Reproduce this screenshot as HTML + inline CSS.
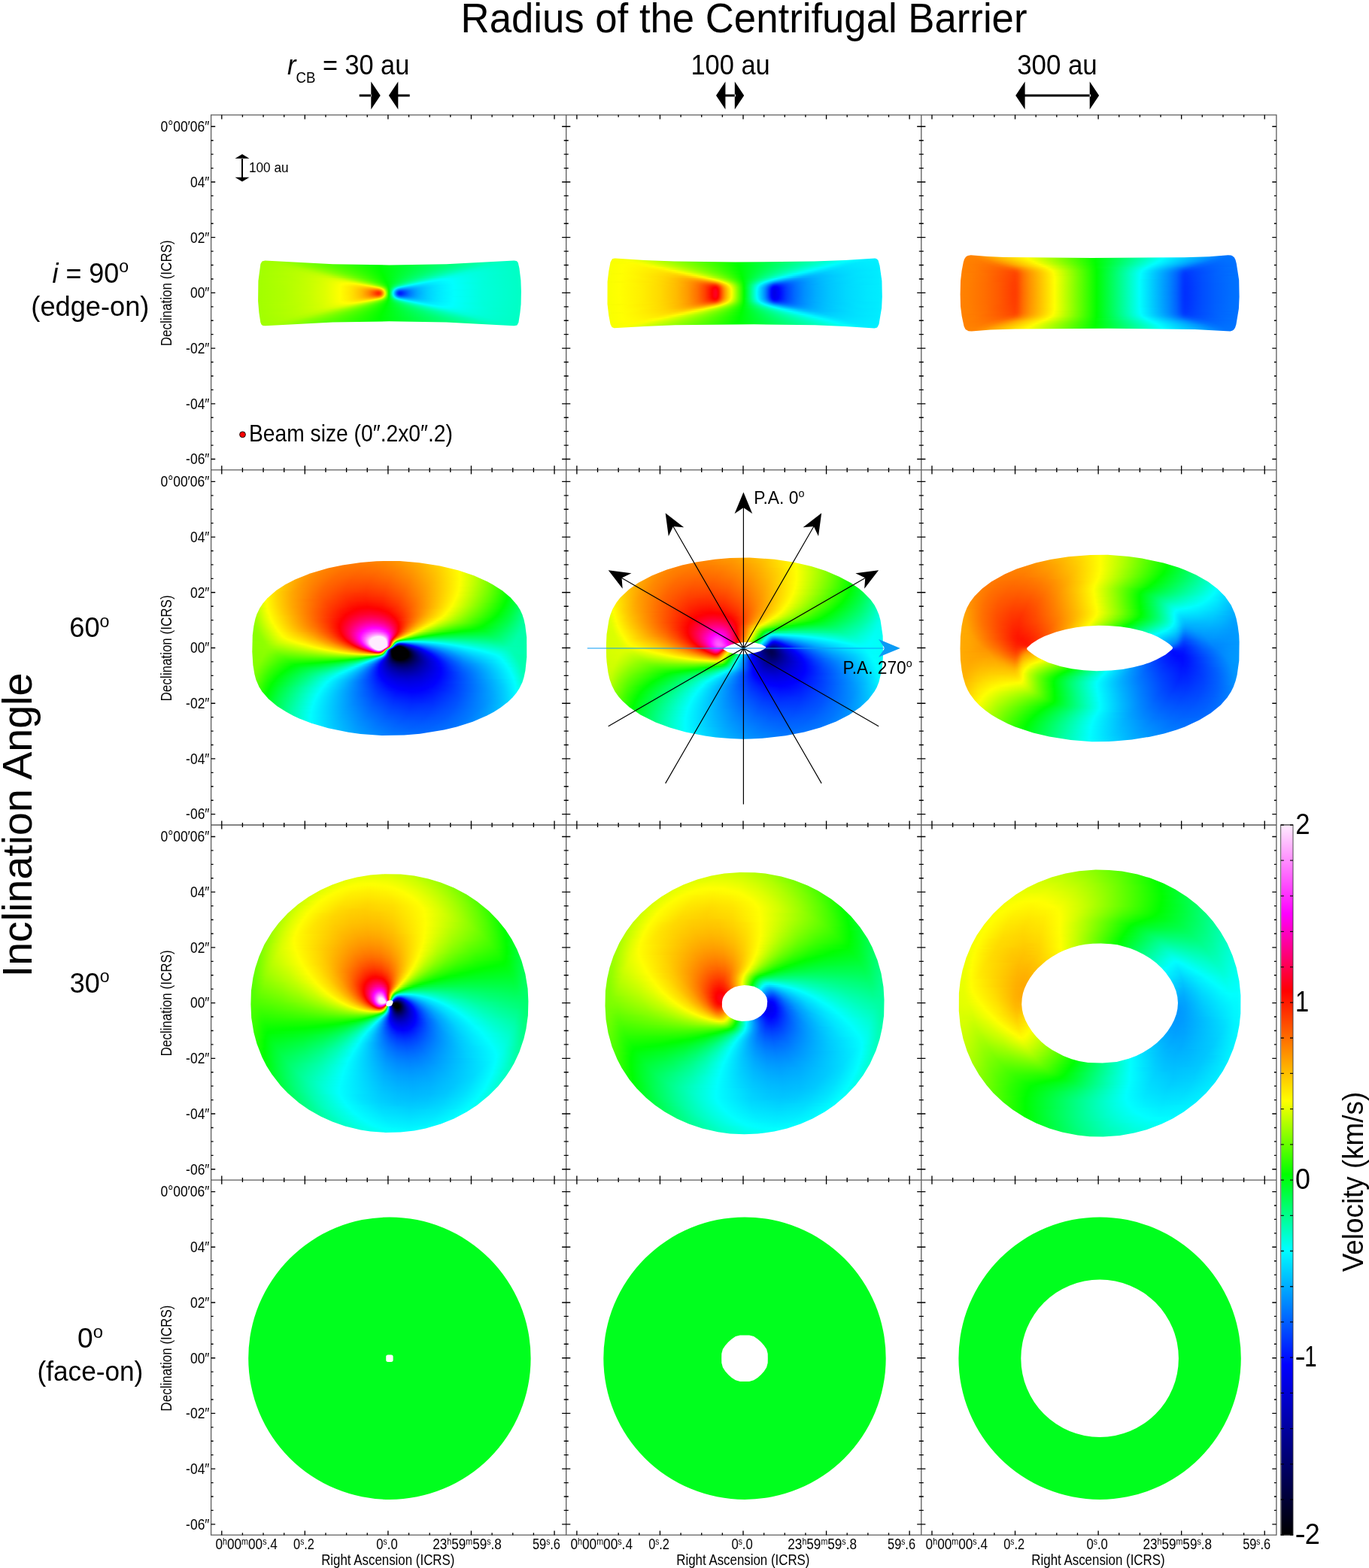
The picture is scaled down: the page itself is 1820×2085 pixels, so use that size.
<!DOCTYPE html><html lang="en"><head><meta charset="utf-8"><title>Radius of the Centrifugal Barrier vs Inclination Angle</title><style>html,body{margin:0;padding:0;background:#fff}#fig{position:relative;width:1820px;height:2085px;overflow:hidden;background:#fff}.m{position:absolute;filter:blur(.7px)}.m i{display:block;height:2px}.m .a{height:1px}</style></head><body><div id="fig"><div class="m" style="left:338.40px;top:342.90px;width:359px;height:94px;clip-path:path(evenodd,'M349 89.5L345 90.3L255 85.7L179 84.4L104 85.7L14 90.3L11 90L9.1 88.5L7.9 85.5L6 73.2L4.7 57.5L5 30.5L8 8.1L10 4.5L14 3.7L104 8.3L179 9.6L255 8.3L345 3.7L348 4L349 4.5L350.4 6.5L352 13.6L354 29.8L354.5 44.5L354.2 61.5L353 73.2L351 85.9Z')"><i style="background:linear-gradient(90deg,#a0ff00 9px,#9bff00 25px,#82ff00 47px,#00ffa4 312px,#00ffbd 334px,#00ffc2 350px)"></i><i style="background:linear-gradient(90deg,#a0ff00 7px,#a0ff00 20px,#9aff00 31px,#58ff00 86px,#00ff7c 273px,#00ffbd 328px,#00ffc3 339px,#00ffc2 352px)"></i><i style="background:linear-gradient(90deg,#a0ff00 6px,#a2ff00 23px,#9cff00 36px,#01ff00 163px,#00ff0c 174px,#00ff19 185px,#00ffbc 321px,#00ffc4 334px,#00ffc2 353px)"></i><i style="background:linear-gradient(90deg,#a0ff00 5px,#a4ff00 28px,#9dff00 42px,#00ff01 165px,#00ff7c 266px,#00ffbd 315px,#00ffc7 330px,#00ffc2 354px)"></i><i style="background:linear-gradient(90deg,#a0ff00 4px,#a7ff00 32px,#a0ff00 47px,#0f0 165px,#00ff81 265px,#00ffc2 311px,#00ffc9 327px,#00ffc2 355px)"></i><i style="background:linear-gradient(90deg,#a0ff00 4px,#af0 38px,#a3ff00 53px,#61ff00 97px,#0f0 166px,#0f7 253px,#00ffc5 305px,#0fc 322px,#00ffc2 355px)"></i><i style="background:linear-gradient(90deg,#a0ff00 4px,#adff00 43px,#a7ff00 59px,#5bff00 106px,#0f0 167px,#00ff7d 252px,#00ffc8 299px,#00ffcf 315px,#00ffc3 355px)"></i><i style="background:linear-gradient(90deg,#a0ff00 3px,#b0ff00 49px,#abff00 65px,#9dff00 75px,#53ff00 116px,#0f0 168px,#00ff74 242px,#0fc 293px,#00ffd3 310px,#00ffc2 356px)"></i><i style="background:linear-gradient(90deg,#a0ff00 3px,#b4ff00 55px,#b0ff00 71px,#a3ff00 80px,#59ff00 117px,#01ff00 168px,#00ff74 237px,#00ffc2 277px,#00ffd1 287px,#00ffd6 304px,#00ffc3 356px)"></i><i style="background:linear-gradient(90deg,#a0ff00 3px,#b9ff00 62px,#b5ff00 77px,#a7ff00 87px,#5eff00 120px,#01ff00 169px,#00ff6e 229px,#00ffc7 271px,#00ffd7 281px,#00ffdb 297px,#00ffc3 356px)"></i><i style="background:linear-gradient(90deg,#a0ff00 2px,#beff00 69px,#bf0 84px,#a9ff00 95px,#63ff00 123px,#01ff00 170px,#00ff6f 225px,#00ffc9 263px,#00ffdc 274px,#00ffe0 290px,#00ffc2 357px)"></i><i style="background:linear-gradient(90deg,#a0ff00 2px,#aeff00 37px,#c4ff00 76px,#c1ff00 91px,#b0ff00 101px,#59ff00 133px,#01ff00 171px,#0f7 224px,#00ffd2 258px,#00ffe3 268px,#00ffe6 283px,#00ffd0 322px,#00ffc3 357px)"></i><i style="background:linear-gradient(90deg,#a0ff00 2px,#b0ff00 42px,#cbff00 84px,#c9ff00 97px,#b0ff00 110px,#5dff00 137px,#01ff00 172px,#00ff75 218px,#00ffd3 249px,#00ffea 261px,#00ffed 275px,#00ffd3 317px,#00ffc3 357px)"></i><i class=a style="background:linear-gradient(90deg,#a0ff00 2px,#b3ff00 46px,#d1ff00 90px,#d0ff00 102px,#b9ff00 114px,#53ff00 144px,#0f0 173px,#00ff71 213px,#00ffde 246px,#00ffed 253px,#00fff4 260px,#00fff2 271px,#00ffd2 319px,#00ffc3 357px)"></i><i class=a style="background:linear-gradient(90deg,#a0ff00 2px,#b5ff00 49px,#d6ff00 94px,#d4ff00 106px,#c8ff00 113px,#b8ff00 119px,#5f0 146px,#01ff00 173px,#00ff72 211px,#0fd 241px,#00ffef 248px,#00fff8 256px,#00fff6 267px,#00ffd3 317px,#00ffc3 357px)"></i><i class=a style="background:linear-gradient(90deg,#a0ff00 2px,#b6ff00 52px,#daff00 97px,#d9ff00 109px,#d0ff00 115px,#bdff00 122px,#58ff00 148px,#00ff01 174px,#00ff74 209px,#00ffe0 237px,#00fff4 245px,#00fffc 252px,#00fffb 263px,#00ffd5 314px,#00ffc3 357px)"></i><i class=a style="background:linear-gradient(90deg,#a0ff00 2px,#b8ff00 55px,#e0ff00 102px,#dfff00 113px,#d5ff00 119px,#c0ff00 126px,#5aff00 150px,#01ff00 174px,#00ff72 206px,#00ffe2 233px,#00fff4 239px,#0ff 245px,#0ff 261px,#00ffdb 304px,#00ffc3 357px)"></i><i class=a style="background:linear-gradient(90deg,#a0ff00 1px,#b6ff00 51px,#c7ff00 75px,#e4ff00 104px,#e5ff00 116px,#dcff00 122px,#c7ff00 129px,#50ff00 155px,#00ff01 175px,#00ff6f 203px,#00ffe1 228px,#00fff6 234px,#00feff 238px,#00f9ff 248px,#0ff 262px,#00ffda 305px,#00ffc2 358px)"></i><i class=a style="background:linear-gradient(90deg,#a0ff00 1px,#baff00 57px,#cf0 80px,#eaff00 108px,#edff00 117px,#e4ff00 125px,#cbff00 133px,#40ff00 161px,#01ff00 175px,#00ff03 176px,#00ff68 199px,#00ffe0 223px,#00feff 232px,#00f4ff 244px,#0ff 263px,#00ffda 305px,#00ffc3 358px)"></i><i class=a style="background:linear-gradient(90deg,#a0ff00 1px,#bcff00 60px,#d0ff00 84px,#f2ff00 112px,#f4ff00 122px,#eaff00 129px,#cfff00 137px,#40ff00 163px,#00ff01 176px,#00ff64 196px,#00ffe3 219px,#00feff 226px,#00f3ff 233px,#00f0ff 240px,#0ff 264px,#00ffeb 283px,#00ffda 305px,#00ffc3 358px)"></i><i class=a style="background:linear-gradient(90deg,#a0ff00 1px,#aeff00 36px,#c0ff00 65px,#d5ff00 88px,#f9ff00 116px,#fdff00 125px,#f2ff00 133px,#d3ff00 141px,#35ff00 167px,#01ff00 176px,#00ff04 177px,#00ff64 194px,#00ffe0 214px,#0ff 220px,#00efff 228px,#00eaff 236px,#0ff 264px,#00ffeb 283px,#00ffda 305px,#00ffc3 358px)"></i><i class=a style="background:linear-gradient(90deg,#a0ff00 1px,#bcff00 60px,#d6ff00 89px,#ff0 118px,#fffa00 127px,#ff0 135px,#ecff00 141px,#c1ff00 149px,#00ff02 177px,#00ff51 189px,#00ffc9 206px,#0ff 215px,#00ebff 223px,#00e5ff 232px,#00fffe 265px,#00ffeb 283px,#00ffda 305px,#00ffc3 358px)"></i><i class=a style="background:linear-gradient(90deg,#a0ff00 1px,#b1ff00 41px,#c4ff00 70px,#df0 94px,#ff0 116px,#fff300 131px,#fff500 137px,#fffe00 142px,#eaff00 147px,#beff00 154px,#01ff00 177px,#00ffd1 203px,#00feff 210px,#00e5ff 219px,#00deff 228px,#00fffe 265px,#00ffdb 304px,#00ffc3 358px)"></i><i class=a style="background:linear-gradient(90deg,#a0ff00 1px,#b1ff00 41px,#c5ff00 71px,#deff00 95px,#ff0 115px,#ffea00 135px,#ffed00 141px,#fffd00 148px,#feff00 149px,#edff00 152px,#c9ff00 157px,#76ff00 166px,#05ff00 177px,#00ff04 178px,#00ffb5 196px,#00ffeb 202px,#00fdff 205px,#00dfff 214px,#00d6ff 223px,#00daff 231px,#0ff 265px,#00ffdb 304px,#00ffc3 358px)"></i><i class=a style="background:linear-gradient(90deg,#a0ff00 1px,#b1ff00 41px,#c4ff00 70px,#df0 94px,#fdff00 114px,#ffe600 132px,#ffe100 140px,#ffe900 148px,#ff0 155px,#d7ff00 160px,#9bff00 166px,#0f0 178px,#00ff48 184px,#00ffbd 193px,#00fff0 198px,#00fdff 200px,#00e5ff 205px,#00d9ff 209px,#00d0ff 214px,#00cdff 219px,#00d2ff 227px,#00efff 249px,#0ff 265px,#00ffdc 303px,#00ffc3 358px)"></i><i class=a style="background:linear-gradient(90deg,#a0ff00 1px,#b0ff00 40px,#c4ff00 70px,#deff00 95px,#feff00 114px,#ffdc00 136px,#ffd500 144px,#ffdf00 153px,#fffc00 160px,#f2ff00 162px,#c6ff00 166px,#9aff00 169px,#13ff00 177px,#04ff00 178px,#00ff0b 179px,#00ff56 184px,#00ffcd 191px,#0ff 195px,#00e1ff 200px,#00ceff 205px,#00c5ff 209px,#00c2ff 215px,#00c8ff 223px,#0ef 248px,#0ff 265px,#00ffdc 303px,#00ffc3 358px)"></i><i class=a style="background:linear-gradient(90deg,#a0ff00 1px,#b1ff00 41px,#c5ff00 71px,#dfff00 95px,#feff00 114px,#ffcf00 141px,#ffc700 150px,#ffc900 154px,#ffd300 158px,#ffe500 162px,#fff900 165px,#fbff00 166px,#dbff00 168px,#30ff00 176px,#0aff00 178px,#00ff09 179px,#00ff68 184px,#00fffd 191px,#00f6ff 192px,#00d6ff 196px,#00c3ff 200px,#00b8ff 204px,#00b4ff 209px,#0bf 218px,#00eaff 245px,#0ff 265px,#00ffdc 303px,#00ffc3 358px)"></i><i class=a style="background:linear-gradient(90deg,#a0ff00 1px,#b0ff00 40px,#c5ff00 71px,#dfff00 95px,#ff0 114px,#ffe900 127px,#ffbd00 147px,#ffb400 154px,#ffb900 159px,#ffc500 163px,#ffd900 166px,#fff100 168px,#feff00 169px,#59ff00 175px,#10ff00 178px,#00ff07 179px,#00ff7d 184px,#00ffea 188px,#00fbff 189px,#00d0ff 192px,#00b7ff 195px,#00a9ff 199px,#00a2ff 204px,#0af 212px,#00e2ff 240px,#0ff 265px,#0fd 302px,#00ffc3 358px)"></i><i class=a style="background:linear-gradient(90deg,#a0ff00 1px,#b0ff00 40px,#c5ff00 71px,#dfff00 95px,#ff0 114px,#ffe400 129px,#ffa600 152px,#ff9c00 159px,#ffa000 163px,#ffa900 165px,#ffb000 166px,#ffc900 168px,#ffef00 170px,#f6ff00 171px,#6fff00 175px,#17ff00 178px,#00ff04 179px,#00ff92 184px,#00fff5 187px,#00efff 188px,#00b6ff 191px,#009eff 193px,#008fff 196px,#008bff 200px,#0093ff 206px,#00c5ff 225px,#00dcff 236px,#00efff 249px,#0ff 265px,#0fd 302px,#00ffc3 358px)"></i><i class=a style="background:linear-gradient(90deg,#a0ff00 1px,#b0ff00 40px,#c5ff00 71px,#dfff00 95px,#ff0 114px,#ffec00 125px,#ffd700 134px,#ffbc00 143px,#ff8900 157px,#ff7c00 163px,#ff8100 165px,#ff9200 167px,#ffb400 169px,#ffe600 171px,#fcff00 172px,#86ff00 175px,#40ff00 177px,#00ff02 179px,#00ff86 183px,#00fff6 186px,#00ebff 187px,#00b9ff 189px,#0090ff 191px,#07f 193px,#006dff 196px,#0078ff 202px,#00b0ff 218px,#00cfff 230px,#00e8ff 244px,#00fcff 262px,#00ffdc 304px,#00ffc3 358px)"></i><i class=a style="background:linear-gradient(90deg,#a0ff00 1px,#b0ff00 40px,#c5ff00 71px,#deff00 94px,#ff0 114px,#ffe800 127px,#ffcb00 138px,#ffa600 148px,#f60 161px,#ff5e00 164px,#ff6500 166px,#ff7f00 168px,#ffae00 170px,#ffe900 172px,#f3ff00 173px,#72ff00 176px,#0f0 179px,#00ff6e 182px,#00ffe8 185px,#00f1ff 186px,#009cff 189px,#006fff 191px,#0056ff 193px,#0050ff 195px,#0058ff 198px,#00a0ff 214px,#00c1ff 224px,#0df 237px,#00f5ff 255px,#00fffe 266px,#0fd 302px,#00ffc3 358px)"></i><i class=a style="background:linear-gradient(90deg,#a0ff00 1px,#b0ff00 40px,#c5ff00 71px,#deff00 94px,#ff0 114px,#ffe300 129px,#ffc000 141px,#ff9800 150px,#ff4800 163px,#f40 165px,#ff4800 166px,#ff5300 167px,#ff6200 168px,#ff7800 169px,#ffb300 171px,#fff600 173px,#dbff00 174px,#7fff00 176px,#02ff00 179px,#0f7 182px,#00fffd 185px,#00a1ff 188px,#0068ff 190px,#0054ff 191px,#0045ff 192px,#003bff 193px,#0037ff 194px,#003fff 197px,#008cff 210px,#00b1ff 219px,#00d3ff 232px,#0ef 249px,#00fffe 266px,#0fd 302px,#00ffc3 358px)"></i><i class=a style="background:linear-gradient(90deg,#a0ff00 1px,#b0ff00 40px,#c6ff00 71px,#deff00 94px,#ff0 114px,#ffde00 131px,#ffb800 143px,#ff8900 152px,#ff3600 163px,#ff2f00 165px,#ff3200 166px,#ff3c00 167px,#ff4b00 168px,#ff6200 169px,#ffa100 171px,#ffe800 173px,#ecff00 174px,#89ff00 176px,#03ff00 179px,#00ff52 181px,#00ffdb 184px,#00f6ff 185px,#008fff 188px,#0054ff 190px,#003eff 191px,#002fff 192px,#0026ff 193px,#0023ff 194px,#0029ff 196px,#005fff 203px,#007fff 208px,#00a9ff 217px,#00cfff 230px,#00eaff 246px,#00fffe 266px,#0fd 302px,#00ffc3 358px)"></i><i class=a style="background:linear-gradient(90deg,#a0ff00 1px,#b0ff00 40px,#c6ff00 71px,#deff00 94px,#ff0 114px,#ffde00 131px,#ffb800 143px,#f80 152px,#ff6b00 156px,#ff2f00 163px,#ff2700 165px,#ff2a00 166px,#ff3400 167px,#ff4300 168px,#ff5a00 169px,#ff9a00 171px,#ffe300 173px,#f2ff00 174px,#8dff00 176px,#04ff00 179px,#00ff54 181px,#00ffe0 184px,#00f2ff 185px,#0089ff 188px,#004cff 190px,#0036ff 191px,#0028ff 192px,#001eff 193px,#001cff 194px,#0023ff 196px,#0072ff 206px,#00a1ff 215px,#00caff 228px,#00e8ff 244px,#00fffe 266px,#0fd 302px,#00ffc3 358px)"></i><i class=a style="background:linear-gradient(90deg,#a0ff00 1px,#b0ff00 40px,#c6ff00 71px,#deff00 94px,#ff0 114px,#ffde00 131px,#ffb800 143px,#f80 152px,#ff6b00 156px,#ff2f00 163px,#ff2700 165px,#ff2a00 166px,#ff3400 167px,#ff4300 168px,#ff5a00 169px,#ff9a00 171px,#ffe300 173px,#f2ff00 174px,#8dff00 176px,#04ff00 179px,#00ff54 181px,#00ffe0 184px,#00f2ff 185px,#0089ff 188px,#004cff 190px,#0036ff 191px,#0028ff 192px,#001eff 193px,#001cff 194px,#0023ff 196px,#0072ff 206px,#00a1ff 215px,#00caff 228px,#00e8ff 244px,#00fffe 266px,#0fd 302px,#00ffc3 358px)"></i><i class=a style="background:linear-gradient(90deg,#a0ff00 1px,#b0ff00 40px,#c6ff00 71px,#deff00 94px,#ff0 114px,#ffde00 131px,#ffb800 143px,#ff8900 152px,#ff3600 163px,#ff2f00 165px,#ff3200 166px,#ff3c00 167px,#ff4b00 168px,#ff6200 169px,#ffa100 171px,#ffe800 173px,#ecff00 174px,#89ff00 176px,#03ff00 179px,#00ff52 181px,#00ffdb 184px,#00f6ff 185px,#008fff 188px,#0054ff 190px,#003eff 191px,#002fff 192px,#0026ff 193px,#0023ff 194px,#0029ff 196px,#005fff 203px,#007fff 208px,#00a9ff 217px,#00cfff 230px,#00eaff 246px,#00fffe 266px,#0fd 302px,#00ffc3 358px)"></i><i class=a style="background:linear-gradient(90deg,#a0ff00 1px,#b0ff00 40px,#c5ff00 71px,#deff00 94px,#ff0 114px,#ffe300 129px,#ffc000 141px,#ff9800 150px,#ff4800 163px,#f40 165px,#ff4800 166px,#ff5300 167px,#ff6200 168px,#ff7800 169px,#ffb300 171px,#fff600 173px,#dbff00 174px,#7fff00 176px,#02ff00 179px,#0f7 182px,#00fffd 185px,#00a1ff 188px,#0068ff 190px,#0054ff 191px,#0045ff 192px,#003bff 193px,#0037ff 194px,#003fff 197px,#008cff 210px,#00b1ff 219px,#00d3ff 232px,#0ef 249px,#00fffe 266px,#0fd 302px,#00ffc3 358px)"></i><i class=a style="background:linear-gradient(90deg,#a0ff00 1px,#b0ff00 40px,#c5ff00 71px,#deff00 94px,#ff0 114px,#ffe800 127px,#ffcb00 138px,#ffa600 148px,#f60 161px,#ff5e00 164px,#ff6500 166px,#ff7f00 168px,#ffae00 170px,#ffe900 172px,#f3ff00 173px,#72ff00 176px,#0f0 179px,#00ff6e 182px,#00ffe8 185px,#00f1ff 186px,#009cff 189px,#006fff 191px,#0056ff 193px,#0050ff 195px,#0058ff 198px,#00a0ff 214px,#00c1ff 224px,#0df 237px,#00f5ff 255px,#00fffe 266px,#0fd 302px,#00ffc3 358px)"></i><i class=a style="background:linear-gradient(90deg,#a0ff00 1px,#b0ff00 40px,#c5ff00 71px,#dfff00 95px,#ff0 114px,#ffec00 125px,#ffd700 134px,#ffbc00 143px,#ff8900 157px,#ff7c00 163px,#ff8100 165px,#ff9200 167px,#ffb400 169px,#ffe600 171px,#fcff00 172px,#86ff00 175px,#40ff00 177px,#00ff02 179px,#00ff86 183px,#00fff6 186px,#00ebff 187px,#00b9ff 189px,#0090ff 191px,#07f 193px,#006dff 196px,#0078ff 202px,#00b0ff 218px,#00cfff 230px,#00e8ff 244px,#00fcff 262px,#00ffdc 304px,#00ffc3 358px)"></i><i class=a style="background:linear-gradient(90deg,#a0ff00 1px,#b0ff00 40px,#c5ff00 71px,#dfff00 95px,#ff0 114px,#ffe400 129px,#ffa600 152px,#ff9c00 159px,#ffa000 163px,#ffa900 165px,#ffb000 166px,#ffc900 168px,#ffef00 170px,#f6ff00 171px,#6fff00 175px,#17ff00 178px,#00ff04 179px,#00ff92 184px,#00fff5 187px,#00efff 188px,#00b6ff 191px,#009eff 193px,#008fff 196px,#008bff 200px,#0093ff 206px,#00c5ff 225px,#00dcff 236px,#00efff 249px,#0ff 265px,#0fd 302px,#00ffc3 358px)"></i><i class=a style="background:linear-gradient(90deg,#a0ff00 1px,#b0ff00 40px,#c5ff00 71px,#dfff00 95px,#ff0 114px,#ffe900 127px,#ffbd00 147px,#ffb400 154px,#ffb900 159px,#ffc500 163px,#ffd900 166px,#fff100 168px,#feff00 169px,#59ff00 175px,#10ff00 178px,#00ff07 179px,#00ff7d 184px,#00ffea 188px,#00fbff 189px,#00d0ff 192px,#00b7ff 195px,#00a9ff 199px,#00a2ff 204px,#0af 212px,#00e2ff 240px,#0ff 265px,#0fd 302px,#00ffc3 358px)"></i><i class=a style="background:linear-gradient(90deg,#a0ff00 1px,#b1ff00 41px,#c5ff00 71px,#dfff00 95px,#feff00 114px,#ffcf00 141px,#ffc700 150px,#ffc900 154px,#ffd300 158px,#ffe500 162px,#fff900 165px,#fbff00 166px,#dbff00 168px,#30ff00 176px,#0aff00 178px,#00ff09 179px,#00ff68 184px,#00fffd 191px,#00f6ff 192px,#00d6ff 196px,#00c3ff 200px,#00b8ff 204px,#00b4ff 209px,#0bf 218px,#00eaff 245px,#0ff 265px,#00ffdc 303px,#00ffc3 358px)"></i><i class=a style="background:linear-gradient(90deg,#a0ff00 1px,#b0ff00 40px,#c4ff00 70px,#deff00 95px,#feff00 114px,#ffdc00 136px,#ffd500 144px,#ffdf00 153px,#fffc00 160px,#f2ff00 162px,#c6ff00 166px,#9aff00 169px,#13ff00 177px,#04ff00 178px,#00ff0b 179px,#00ff56 184px,#00ffcd 191px,#0ff 195px,#00e1ff 200px,#00ceff 205px,#00c5ff 209px,#00c2ff 215px,#00c8ff 223px,#0ef 248px,#0ff 265px,#00ffdc 303px,#00ffc3 358px)"></i><i class=a style="background:linear-gradient(90deg,#a0ff00 1px,#b1ff00 41px,#c4ff00 70px,#df0 94px,#fdff00 114px,#ffe600 132px,#ffe100 140px,#ffe900 148px,#ff0 155px,#d7ff00 160px,#9bff00 166px,#0f0 178px,#00ff48 184px,#00ffbd 193px,#00fff0 198px,#00fdff 200px,#00e5ff 205px,#00d9ff 209px,#00d0ff 214px,#00cdff 219px,#00d2ff 227px,#00efff 249px,#0ff 265px,#00ffdc 303px,#00ffc3 358px)"></i><i class=a style="background:linear-gradient(90deg,#a0ff00 1px,#b1ff00 41px,#c5ff00 71px,#deff00 95px,#ff0 115px,#ffea00 135px,#ffed00 141px,#fffd00 148px,#feff00 149px,#edff00 152px,#c9ff00 157px,#76ff00 166px,#05ff00 177px,#00ff04 178px,#00ffb5 196px,#00ffeb 202px,#00fdff 205px,#00dfff 214px,#00d6ff 223px,#00daff 231px,#0ff 265px,#00ffdb 304px,#00ffc3 358px)"></i><i class=a style="background:linear-gradient(90deg,#a0ff00 1px,#b1ff00 41px,#c4ff00 70px,#df0 94px,#ff0 116px,#fff300 131px,#fff500 137px,#fffe00 142px,#eaff00 147px,#beff00 154px,#01ff00 177px,#00ffd1 203px,#00feff 210px,#00e5ff 219px,#00deff 228px,#00fffe 265px,#00ffdb 304px,#00ffc3 358px)"></i><i class=a style="background:linear-gradient(90deg,#a0ff00 1px,#bcff00 60px,#d6ff00 89px,#ff0 118px,#fffa00 127px,#ff0 135px,#ecff00 141px,#c1ff00 149px,#00ff02 177px,#00ff51 189px,#00ffc9 206px,#0ff 215px,#00ebff 223px,#00e5ff 232px,#00fffe 265px,#00ffeb 283px,#00ffda 305px,#00ffc3 358px)"></i><i class=a style="background:linear-gradient(90deg,#a0ff00 1px,#aeff00 36px,#c0ff00 65px,#d5ff00 88px,#f9ff00 116px,#fdff00 125px,#f2ff00 133px,#d3ff00 141px,#35ff00 167px,#01ff00 176px,#00ff04 177px,#00ff64 194px,#00ffe0 214px,#0ff 220px,#00efff 228px,#00eaff 236px,#0ff 264px,#00ffeb 283px,#00ffda 305px,#00ffc3 358px)"></i><i class=a style="background:linear-gradient(90deg,#a0ff00 1px,#bcff00 60px,#d0ff00 84px,#f2ff00 112px,#f4ff00 122px,#eaff00 129px,#cfff00 137px,#40ff00 163px,#00ff01 176px,#00ff64 196px,#00ffe3 219px,#00feff 226px,#00f3ff 233px,#00f0ff 240px,#0ff 264px,#00ffeb 283px,#00ffda 305px,#00ffc3 358px)"></i><i class=a style="background:linear-gradient(90deg,#a0ff00 1px,#baff00 57px,#cf0 80px,#eaff00 108px,#edff00 117px,#e4ff00 125px,#cbff00 133px,#40ff00 161px,#01ff00 175px,#00ff03 176px,#00ff68 199px,#00ffe0 223px,#00feff 232px,#00f4ff 244px,#0ff 263px,#00ffda 305px,#00ffc3 358px)"></i><i class=a style="background:linear-gradient(90deg,#a0ff00 1px,#b6ff00 51px,#c7ff00 75px,#e4ff00 104px,#e5ff00 116px,#dcff00 122px,#c7ff00 129px,#50ff00 155px,#00ff01 175px,#00ff6f 203px,#00ffe1 228px,#00fff6 234px,#00feff 238px,#00f9ff 248px,#0ff 262px,#00ffda 305px,#00ffc2 358px)"></i><i class=a style="background:linear-gradient(90deg,#a0ff00 2px,#b8ff00 55px,#e0ff00 102px,#dfff00 113px,#d5ff00 119px,#c0ff00 126px,#5aff00 150px,#01ff00 174px,#00ff72 206px,#00ffe2 233px,#00fff4 239px,#0ff 245px,#0ff 261px,#00ffdb 304px,#00ffc3 357px)"></i><i class=a style="background:linear-gradient(90deg,#a0ff00 2px,#b6ff00 52px,#daff00 97px,#d9ff00 109px,#d0ff00 115px,#bdff00 122px,#58ff00 148px,#00ff01 174px,#00ff74 209px,#00ffe0 237px,#00fff4 245px,#00fffc 252px,#00fffb 263px,#00ffd5 314px,#00ffc3 357px)"></i><i class=a style="background:linear-gradient(90deg,#a0ff00 2px,#b5ff00 49px,#d6ff00 94px,#d4ff00 106px,#c8ff00 113px,#b8ff00 119px,#5f0 146px,#01ff00 173px,#00ff72 211px,#0fd 241px,#00ffef 248px,#00fff8 256px,#00fff6 267px,#00ffd3 317px,#00ffc3 357px)"></i><i class=a style="background:linear-gradient(90deg,#a0ff00 2px,#b3ff00 46px,#d1ff00 90px,#d0ff00 102px,#b9ff00 114px,#53ff00 144px,#0f0 173px,#00ff71 213px,#00ffde 246px,#00ffed 253px,#00fff4 260px,#00fff2 271px,#00ffd2 319px,#00ffc3 357px)"></i><i style="background:linear-gradient(90deg,#a0ff00 2px,#b0ff00 42px,#cbff00 84px,#c9ff00 97px,#b0ff00 110px,#5dff00 137px,#01ff00 172px,#00ff75 218px,#00ffd3 249px,#00ffea 261px,#00ffed 275px,#00ffd3 317px,#00ffc3 357px)"></i><i style="background:linear-gradient(90deg,#a0ff00 2px,#aeff00 37px,#c4ff00 76px,#c1ff00 91px,#b0ff00 101px,#59ff00 133px,#01ff00 171px,#0f7 224px,#00ffd2 258px,#00ffe3 268px,#00ffe6 283px,#00ffd0 322px,#00ffc3 357px)"></i><i style="background:linear-gradient(90deg,#a0ff00 2px,#beff00 69px,#bf0 84px,#a9ff00 95px,#63ff00 123px,#01ff00 170px,#00ff6f 225px,#00ffc9 263px,#00ffdc 274px,#00ffe0 290px,#00ffc2 357px)"></i><i style="background:linear-gradient(90deg,#a0ff00 3px,#b9ff00 62px,#b5ff00 77px,#a7ff00 87px,#5eff00 120px,#01ff00 169px,#00ff6e 229px,#00ffc7 271px,#00ffd7 281px,#00ffdb 297px,#00ffc3 356px)"></i><i style="background:linear-gradient(90deg,#a0ff00 3px,#b4ff00 55px,#b0ff00 71px,#a3ff00 80px,#59ff00 117px,#01ff00 168px,#00ff74 237px,#00ffc2 277px,#00ffd1 287px,#00ffd6 304px,#00ffc3 356px)"></i><i style="background:linear-gradient(90deg,#a0ff00 3px,#b0ff00 49px,#abff00 65px,#9dff00 75px,#53ff00 116px,#0f0 168px,#00ff74 242px,#0fc 293px,#00ffd3 310px,#00ffc2 356px)"></i><i style="background:linear-gradient(90deg,#a0ff00 4px,#adff00 43px,#a7ff00 59px,#5bff00 106px,#0f0 167px,#00ff7d 252px,#00ffc8 299px,#00ffcf 316px,#00ffc3 355px)"></i><i style="background:linear-gradient(90deg,#a0ff00 4px,#af0 37px,#a3ff00 53px,#65ff00 94px,#0f0 166px,#0f7 253px,#00ffc5 305px,#0fc 321px,#00ffc2 355px)"></i><i style="background:linear-gradient(90deg,#a0ff00 4px,#a7ff00 32px,#9fff00 48px,#5fff00 93px,#0f0 165px,#00ff81 265px,#00ffc2 311px,#00ffc9 327px,#00ffc2 355px)"></i><i style="background:linear-gradient(90deg,#a0ff00 5px,#a4ff00 28px,#9dff00 42px,#00ff01 165px,#00ff7c 266px,#00ffbe 316px,#00ffc7 331px,#00ffc2 354px)"></i><i style="background:linear-gradient(90deg,#a0ff00 6px,#a2ff00 23px,#9cff00 36px,#01ff00 163px,#00ff0c 174px,#00ff19 185px,#00ffbc 321px,#00ffc4 334px,#00ffc2 353px)"></i><i style="background:linear-gradient(90deg,#a0ff00 7px,#a0ff00 20px,#9aff00 31px,#58ff00 86px,#00ff7c 273px,#00ffbd 328px,#00ffc3 339px,#00ffc2 352px)"></i><i style="background:linear-gradient(90deg,#a0ff00 9px,#9bff00 25px,#81ff00 47px,#00ffa4 312px,#00ffbd 334px,#00ffc2 350px)"></i></div>
<div class="m" style="left:802.50px;top:338.90px;width:375px;height:102px;clip-path:path(evenodd,'M360 97.5L321 95L281 93.4L200 92.4L95 93.3L54 95L14 97.4L11 96L9 92.2L6.8 80.5L5 65.4L5.1 35.5L6.8 21.5L9 9.8L11 6L12 5.2L15 4.5L54 7L94 8.6L175 9.6L280 8.7L321 7L361 4.6L363.4 5.5L365 7.4L367 14.4L369.9 34.5L370.3 55.5L369.6 70.5L366 92.2L364 96L363 96.8Z')"><i style="background:linear-gradient(90deg,#f7ff00 12px,#f5ff00 21px,#ef0 28px,#00f4ff 347px,#00efff 363px)"></i><i style="background:linear-gradient(90deg,#f7ff00 10px,#f7ff00 21px,#f0ff00 30px,#b6ff00 64px,#00ffd9 311px,#00feff 334px,#00f0ff 350px,#00efff 365px)"></i><i style="background:linear-gradient(90deg,#f7ff00 8px,#f8ff00 24px,#ecff00 37px,#1fff00 158px,#1f0 166px,#10ff00 167px,#00ff34 208px,#00ff35 209px,#00ff43 217px,#00fffd 328px,#00efff 347px,#00efff 367px)"></i><i style="background:linear-gradient(90deg,#f7ff00 6px,#faff00 27px,#efff00 41px,#9bff00 87px,#0f0 177px,#00fffd 323px,#00edff 344px,#00efff 369px)"></i><i style="background:linear-gradient(90deg,#f7ff00 6px,#fdff00 31px,#f1ff00 46px,#a0ff00 88px,#0f0 177px,#00ffab 274px,#00fffc 317px,#00ecff 339px,#00efff 369px)"></i><i style="background:linear-gradient(90deg,#f7ff00 5px,#fffe00 37px,#f6ff00 51px,#8fff00 102px,#00ff01 178px,#00ffb2 273px,#00fffc 310px,#0ef 325px,#00e9ff 335px,#00efff 370px)"></i><i style="background:linear-gradient(90deg,#f7ff00 5px,#ff0 26px,#fffb00 42px,#faff00 57px,#9f0 102px,#0f0 178px,#0fb 273px,#00fffb 302px,#00fcff 306px,#00ecff 318px,#00e6ff 329px,#00efff 370px)"></i><i style="background:linear-gradient(90deg,#f7ff00 4px,#ff0 25px,#fff800 49px,#fbff00 66px,#a0ff00 104px,#0f0 179px,#00ffab 260px,#00fefb 295px,#00fcff 298px,#00eaff 311px,#00e3ff 322px,#00efff 371px)"></i><i style="background:linear-gradient(90deg,#f7ff00 4px,#ff0 24px,#fff300 56px,#fffc00 71px,#faff00 76px,#96ff00 114px,#00ff01 180px,#00ffa4 252px,#00fff9 286px,#00fcff 290px,#00e6ff 304px,#00dfff 316px,#00efff 371px)"></i><i style="background:linear-gradient(90deg,#f7ff00 4px,#ff0 24px,#fe0 63px,#fff100 72px,#fbfd00 84px,#8bff00 124px,#0f0 180px,#00ffa7 248px,#00fff8 278px,#00fbfe 282px,#00e2ff 297px,#00daff 310px,#00efff 371px)"></i><i style="background:linear-gradient(90deg,#f7ff00 3px,#ff0 24px,#ffe800 71px,#ffed00 81px,#fefb00 91px,#f8ff00 95px,#bcff00 113px,#8aff00 130px,#00ff01 181px,#00ffad 245px,#00fff8 270px,#00fbff 274px,#00deff 289px,#00d4ff 302px,#00efff 372px)"></i><i style="background:linear-gradient(90deg,#f7ff00 3px,#ff0 23px,#ffe200 78px,#ffe700 89px,#fffa00 100px,#f5ff00 105px,#b0ff00 124px,#79ff00 141px,#00ff02 182px,#00ff9c 234px,#00fff5 261px,#00faff 266px,#00d8ff 282px,#00cdff 295px,#00e6ff 345px,#00efff 372px)"></i><i style="background:linear-gradient(90deg,#f7ff00 3px,#fffc00 29px,#ffd900 86px,#ffe100 98px,#fff800 109px,#f4ff00 114px,#8eff00 140px,#0f0 182px,#00ffa3 231px,#00fff5 253px,#00f8ff 258px,#00d2ff 274px,#00c5ff 288px,#00e3ff 338px,#00efff 372px)"></i><i style="background:linear-gradient(90deg,#f7ff00 2px,#ff0 22px,#fff900 36px,#ffd000 94px,#ffd700 105px,#fff700 118px,#f4ff00 123px,#91ff00 145px,#00ff02 183px,#00ff94 222px,#00fff4 245px,#00f9fe 249px,#00c8ff 267px,#00c0ff 273px,#00bcff 280px,#00bfff 289px,#00e0ff 333px,#00efff 373px)"></i><i style="background:linear-gradient(90deg,#f7ff00 2px,#ff0 22px,#fff500 43px,#ffc400 102px,#ffc600 108px,#ffcf00 114px,#fff500 127px,#f3ff00 132px,#b8ff00 143px,#7eff00 155px,#01ff00 183px,#00ff03 184px,#00ff97 218px,#00fff4 237px,#00f8ff 241px,#00c2ff 258px,#00b6ff 265px,#00b1ff 272px,#00b6ff 282px,#0df 327px,#00efff 373px)"></i><i class=a style="background:linear-gradient(90deg,#f7ff00 2px,#ff0 22px,#fff100 49px,#ffde00 72px,#ffbe00 100px,#ffb900 108px,#ffbd00 115px,#ffc800 121px,#ffda00 127px,#fffd00 136px,#87ff00 157px,#00ff01 184px,#00ff9f 216px,#00fffe 233px,#00baff 252px,#00acff 259px,#00a7ff 266px,#00abff 275px,#00c8ff 301px,#00daff 323px,#00efff 373px)"></i><i class=a style="background:linear-gradient(90deg,#f7ff00 2px,#ff0 22px,#ffef00 52px,#ffda00 76px,#ffb600 104px,#ffb200 112px,#ffb600 119px,#ffc100 125px,#ffd800 132px,#ff0 141px,#90ff00 158px,#0f0 184px,#00ffa2 214px,#0ff 229px,#0cf 241px,#00b4ff 248px,#00a5ff 255px,#00a0ff 262px,#00a4ff 271px,#00c5ff 298px,#00d7ff 319px,#00e6ff 346px,#00efff 373px)"></i><i class=a style="background:linear-gradient(90deg,#f7ff00 2px,#ff0 22px,#ffeb00 56px,#ffd500 80px,#ffae00 108px,#ffa900 117px,#ffaf00 124px,#ffbc00 130px,#ffd200 136px,#fffc00 145px,#fbff00 146px,#8fff00 161px,#02ff00 184px,#00ff9f 211px,#00ffd3 219px,#0ff 225px,#00c7ff 237px,#00adff 244px,#009dff 251px,#0097ff 258px,#009dff 267px,#00c0ff 294px,#00d5ff 316px,#00e5ff 344px,#00efff 373px)"></i><i class=a style="background:linear-gradient(90deg,#f7ff00 2px,#ff0 22px,#ffe800 60px,#ffd500 80px,#ffa700 111px,#ff9f00 121px,#ffa300 127px,#ffb400 134px,#ffd100 141px,#fffb00 149px,#fcff00 150px,#c7ff00 156px,#93ff00 163px,#05ff00 184px,#00ff02 185px,#00ff71 202px,#00fdff 222px,#00c7ff 232px,#00a5ff 240px,#0093ff 247px,#008eff 254px,#0094ff 263px,#0bf 290px,#00d1ff 312px,#00e4ff 341px,#00efff 373px)"></i><i class=a style="background:linear-gradient(90deg,#f7ff00 2px,#fffe00 23px,#ffe500 64px,#ffce00 85px,#ff9b00 116px,#ff9400 125px,#ff9a00 132px,#ffae00 139px,#ffcf00 146px,#fffd00 153px,#97ff00 165px,#0f0 185px,#00ff9a 206px,#00fffc 218px,#00fbff 219px,#00c1ff 228px,#00a0ff 235px,#008aff 242px,#0083ff 250px,#0089ff 258px,#00b6ff 286px,#00ceff 308px,#00e3ff 339px,#00efff 373px)"></i><i class=a style="background:linear-gradient(90deg,#f7ff00 2px,#fffc00 27px,#ffe100 68px,#ffc400 92px,#ff8e00 121px,#ff8700 130px,#ff8f00 137px,#ffa700 144px,#ffc300 149px,#fffc00 156px,#90ff00 168px,#02ff00 185px,#0f8 202px,#00fffc 215px,#00fbff 216px,#00b1ff 226px,#009aff 230px,#007fff 238px,#07f 245px,#007eff 254px,#00afff 282px,#00cbff 305px,#00e2ff 337px,#00efff 373px)"></i><i class=a style="background:linear-gradient(90deg,#f7ff00 2px,#fffa00 31px,#fd0 72px,#ffc000 94px,#ff8300 124px,#ff7800 134px,#ff8100 141px,#ff9700 147px,#ffac00 150px,#fffe00 159px,#9f0 169px,#04ff00 185px,#00ff05 186px,#00ff71 198px,#00fdff 213px,#00d9ff 218px,#009aff 225px,#0086ff 228px,#0071ff 234px,#0069ff 241px,#0073ff 251px,#00aeff 281px,#00c7ff 301px,#00e0ff 334px,#00efff 373px)"></i><i class=a style="background:linear-gradient(90deg,#f7ff00 1px,#ff0 21px,#fff900 34px,#ffea00 57px,#ffd800 76px,#ffb700 99px,#ff7200 129px,#ff6700 138px,#ff6d00 144px,#ff7d00 148px,#ff9500 151px,#ffd700 157px,#fffa00 161px,#faff00 162px,#95ff00 171px,#07ff00 185px,#00ff03 186px,#0f9 201px,#00fff9 210px,#00fcff 211px,#0cf 217px,#0073ff 226px,#0061ff 230px,#0059ff 236px,#0061ff 245px,#00a7ff 277px,#00c4ff 298px,#00dfff 333px,#00efff 374px)"></i><i class=a style="background:linear-gradient(90deg,#f7ff00 1px,#ff0 21px,#fff700 37px,#ffe800 60px,#ffd400 80px,#ffaf00 103px,#ff9600 114px,#ff6100 133px,#ff5300 143px,#ff5700 146px,#ff6400 149px,#ff8200 152px,#ffcb00 158px,#fffa00 163px,#f9ff00 164px,#82ff00 174px,#09ff00 185px,#00ff02 186px,#00fdff 209px,#00b7ff 217px,#0072ff 223px,#0056ff 226px,#0049ff 229px,#0046ff 232px,#0052ff 242px,#0085ff 261px,#009dff 272px,#00bfff 294px,#00deff 330px,#00efff 374px)"></i><i class=a style="background:linear-gradient(90deg,#f7ff00 1px,#ff0 21px,#fff400 42px,#ffe300 65px,#ffcd00 85px,#ffb900 98px,#ffa200 109px,#ff8600 119px,#ff4c00 137px,#ff3d00 145px,#ff4200 148px,#ff5000 150px,#f60 152px,#ffb700 158px,#fffe00 165px,#6aff00 177px,#00ff01 186px,#00fffc 207px,#00dfff 211px,#00afff 216px,#0057ff 223px,#0042ff 225px,#0036ff 227px,#0030ff 230px,#003fff 238px,#0076ff 256px,#0090ff 266px,#00b8ff 289px,#0cf 307px,#00dbff 326px,#00efff 374px)"></i><i class=a style="background:linear-gradient(90deg,#f7ff00 1px,#ff0 21px,#fff200 46px,#ffdf00 69px,#ffc700 89px,#ffaf00 103px,#ff9100 115px,#ff7100 125px,#ff3400 141px,#ff2800 146px,#ff2f00 149px,#ff4000 151px,#ffa500 158px,#ffc800 161px,#fffb00 166px,#f7ff00 167px,#72ff00 177px,#01ff00 186px,#0ff 206px,#00a9ff 215px,#0085ff 218px,#0034ff 224px,#0023ff 226px,#001cff 229px,#0028ff 234px,#0062ff 250px,#0081ff 260px,#009dff 272px,#00b3ff 285px,#00c7ff 302px,#00d9ff 323px,#00e8ff 351px,#00efff 374px)"></i><i class=a style="background:linear-gradient(90deg,#f7ff00 1px,#ff0 21px,#fff000 49px,#ffdb00 73px,#ffc200 92px,#ffa800 106px,#f80 118px,#ff6000 129px,#ff1d00 144px,#ff1700 147px,#ff1b00 149px,#ff2c00 151px,#ffa300 159px,#ffd200 163px,#fffb00 167px,#f6ff00 168px,#78ff00 177px,#01ff00 186px,#00ff82 196px,#00fffd 205px,#00c8ff 211px,#009dff 215px,#0020ff 224px,#0010ff 226px,#000cff 228px,#0012ff 231px,#0052ff 246px,#0078ff 257px,#0096ff 269px,#00aeff 282px,#00c5ff 300px,#00d8ff 322px,#00e8ff 350px,#00efff 374px)"></i><i class=a style="background:linear-gradient(90deg,#f7ff00 1px,#ff0 21px,#ffef00 50px,#ffda00 74px,#ffbf00 94px,#ffa300 108px,#ff7e00 121px,#ff5a00 130px,#ff1300 144px,#ff0900 147px,#ff0b00 149px,#ff1b00 151px,#ff3700 153px,#ff8900 158px,#ffa500 160px,#ffd400 164px,#fffd00 168px,#02ff00 186px,#00ff79 195px,#00fff8 204px,#00faff 205px,#009fff 214px,#0078ff 217px,#002aff 222px,#0010ff 224px,#0001ff 226px,#0000fe 227px,#0003ff 230px,#0048ff 244px,#0071ff 255px,#0092ff 267px,#00abff 280px,#00c3ff 298px,#00d7ff 321px,#00e7ff 349px,#00efff 374px)"></i><i class=a style="background:linear-gradient(90deg,#f7ff00 1px,#ff0 21px,#fe0 51px,#ffd800 76px,#fb0 96px,#ff9b00 111px,#ff7600 123px,#ff5000 132px,#ff0500 145px,#ff0003 147px,#ff0001 149px,#ff0f00 151px,#ff2b00 153px,#ff7000 157px,#ff9d00 160px,#ffce00 164px,#fff800 168px,#fbff00 169px,#74ff00 178px,#03ff00 186px,#00ff6e 194px,#0ff 204px,#0097ff 214px,#006fff 217px,#0010ff 223px,#0004ff 224px,#0000fc 225px,#0000f6 227px,#00f 231px,#0047ff 244px,#07f 257px,#0094ff 268px,#00acff 281px,#00c5ff 300px,#00d8ff 322px,#00e7ff 350px,#00efff 374px)"></i><i class=a style="background:linear-gradient(90deg,#f7ff00 1px,#ff0 21px,#fe0 51px,#ffd800 76px,#fb0 96px,#ff9b00 111px,#ff7200 124px,#f40 134px,#f00 145px,#ff000e 148px,#ff000c 149px,#ff0004 150px,#ff0600 151px,#f20 153px,#ff6900 157px,#ff9700 160px,#ffc900 164px,#fffe00 169px,#76ff00 178px,#03ff00 186px,#00ff61 193px,#00fff4 203px,#00fcff 204px,#0092ff 214px,#0069ff 217px,#0007ff 223px,#0000fc 224px,#0000f2 227px,#0002ff 232px,#003cff 242px,#006aff 253px,#008fff 266px,#00aeff 282px,#00c6ff 301px,#00d9ff 323px,#00e8ff 351px,#00efff 374px)"></i><i class=a style="background:linear-gradient(90deg,#f7ff00 1px,#ff0 21px,#ffef00 50px,#ffd900 75px,#fb0 96px,#ff9b00 111px,#ff7100 124px,#ff4900 133px,#ff0200 144px,#ff0006 145px,#ff0016 148px,#ff0015 149px,#f00 151px,#ff1c00 153px,#ff7500 158px,#ffa100 161px,#fffc00 169px,#f4ff00 170px,#78ff00 178px,#04ff00 186px,#00ff0b 187px,#00ff62 193px,#00fff8 203px,#00faff 204px,#00b2ff 211px,#008eff 214px,#0064ff 217px,#0001ff 223px,#0000f8 224px,#00e 227px,#0000fe 232px,#003cff 242px,#006aff 253px,#008fff 266px,#00aeff 282px,#00c6ff 301px,#00d9ff 323px,#00e8ff 351px,#00efff 374px)"></i><i class=a style="background:linear-gradient(90deg,#f7ff00 1px,#ff0 21px,#ffef00 50px,#ffd900 75px,#fb0 96px,#ff9b00 111px,#ff7100 124px,#ff4300 134px,#f00 144px,#ff000a 145px,#ff0018 147px,#ff001a 149px,#ff0006 151px,#ff0800 152px,#ff7200 158px,#ff9f00 161px,#ffc400 164px,#fffa00 169px,#f7ff00 170px,#79ff00 178px,#04ff00 186px,#00ff0b 187px,#00ff63 193px,#00fffa 203px,#00f8ff 204px,#00b0ff 211px,#008cff 214px,#0061ff 217px,#000dff 222px,#0000fd 223px,#0000f0 225px,#0000ec 227px,#0000fd 232px,#003bff 242px,#0069ff 253px,#008fff 266px,#00adff 282px,#00c6ff 301px,#00d9ff 323px,#00e8ff 351px,#00efff 374px)"></i><i class=a style="background:linear-gradient(90deg,#f7ff00 1px,#ff0 20px,#ffef00 50px,#ffd900 75px,#fb0 96px,#ff9a00 111px,#ff7100 124px,#ff4200 134px,#ff0002 144px,#ff0015 146px,#ff001e 148px,#ff001d 149px,#ff0009 151px,#ff0600 152px,#ff7000 158px,#ff9d00 161px,#ffc300 164px,#fff900 169px,#f8ff00 170px,#7aff00 178px,#04ff00 186px,#00ff0b 187px,#00ff63 193px,#00fffb 203px,#00f7ff 204px,#00c4ff 209px,#008bff 214px,#0060ff 217px,#000aff 222px,#0000fc 223px,#0000ef 225px,#0000eb 227px,#0000fc 232px,#003bff 242px,#0069ff 253px,#008eff 266px,#00adff 282px,#00c6ff 301px,#00d9ff 323px,#00e8ff 351px,#00efff 374px)"></i><i class=a style="background:linear-gradient(90deg,#f7ff00 1px,#ff0 20px,#ffef00 50px,#ffd900 75px,#fb0 96px,#ff9a00 111px,#ff7100 124px,#ff4200 134px,#ff0003 144px,#ff0016 146px,#ff0020 148px,#ff001f 149px,#ff0017 150px,#ff0400 152px,#ff6f00 158px,#ff9c00 161px,#ffc200 164px,#fff900 169px,#f9ff00 170px,#7bff00 178px,#04ff00 186px,#00ff0b 187px,#00ff63 193px,#00fffc 203px,#00b9ff 210px,#008aff 214px,#005fff 217px,#0009ff 222px,#0000fb 223px,#00e 225px,#0000ea 227px,#0003ff 233px,#003aff 242px,#0069ff 253px,#008eff 266px,#00adff 282px,#00c6ff 301px,#00d9ff 323px,#00e7ff 350px,#00efff 374px)"></i><i class=a style="background:linear-gradient(90deg,#f7ff00 1px,#ff0 20px,#ffef00 50px,#ffd900 75px,#fb0 96px,#ff9a00 111px,#ff7100 124px,#ff4200 134px,#ff0500 143px,#ff0004 144px,#ff0017 146px,#ff0021 148px,#ff0020 149px,#ff0019 150px,#ff0300 152px,#ff6e00 158px,#ff9c00 161px,#ffd800 166px,#fff800 169px,#f9ff00 170px,#7bff00 178px,#04ff00 186px,#00ff0b 187px,#00ff64 193px,#00fffc 203px,#00b8ff 210px,#0089ff 214px,#005eff 217px,#0008ff 222px,#0000fa 223px,#0000ed 225px,#0000e9 227px,#0002ff 233px,#003aff 242px,#0069ff 253px,#008eff 266px,#00adff 282px,#00c6ff 301px,#00d9ff 323px,#00e7ff 350px,#00efff 374px)"></i><i class=a style="background:linear-gradient(90deg,#f7ff00 1px,#ff0 20px,#ffef00 50px,#ffd900 75px,#fb0 96px,#ff9a00 111px,#ff7100 124px,#ff4200 134px,#ff0500 143px,#ff0004 144px,#ff0017 146px,#ff0021 148px,#ff0021 149px,#ff0019 150px,#ff0300 152px,#ff6e00 158px,#ff9c00 161px,#ffd800 166px,#fff800 169px,#faff00 170px,#7bff00 178px,#04ff00 186px,#00ff0b 187px,#00ff64 193px,#00fffc 203px,#00b8ff 210px,#0089ff 214px,#005eff 217px,#0008ff 222px,#0000fa 223px,#0000ed 225px,#0000e9 227px,#0002ff 233px,#003aff 242px,#0069ff 253px,#008eff 266px,#00adff 282px,#00c6ff 301px,#00d9ff 323px,#00e7ff 350px,#00efff 374px)"></i><i class=a style="background:linear-gradient(90deg,#f7ff00 1px,#ff0 20px,#ffef00 50px,#ffd900 75px,#fb0 96px,#ff9a00 111px,#ff7100 124px,#ff4200 134px,#ff0500 143px,#ff0004 144px,#ff0017 146px,#ff0021 148px,#ff0021 149px,#ff0019 150px,#ff0300 152px,#ff6e00 158px,#ff9c00 161px,#ffd800 166px,#fff800 169px,#faff00 170px,#7bff00 178px,#04ff00 186px,#00ff0b 187px,#00ff64 193px,#00fffc 203px,#00b8ff 210px,#0089ff 214px,#005eff 217px,#0008ff 222px,#0000fa 223px,#0000ed 225px,#0000e9 227px,#0002ff 233px,#003aff 242px,#0069ff 253px,#008eff 266px,#00adff 282px,#00c6ff 301px,#00d9ff 323px,#00e7ff 350px,#00efff 374px)"></i><i class=a style="background:linear-gradient(90deg,#f7ff00 1px,#ff0 20px,#ffef00 50px,#ffd900 75px,#fb0 96px,#ff9a00 111px,#ff7100 124px,#ff4200 134px,#ff0500 143px,#ff0004 144px,#ff0017 146px,#ff0021 148px,#ff0020 149px,#ff0019 150px,#ff0300 152px,#ff6e00 158px,#ff9c00 161px,#ffd800 166px,#fff800 169px,#f9ff00 170px,#7bff00 178px,#04ff00 186px,#00ff0b 187px,#00ff64 193px,#00fffc 203px,#00b8ff 210px,#0089ff 214px,#005eff 217px,#0008ff 222px,#0000fa 223px,#0000ed 225px,#0000e9 227px,#0002ff 233px,#003aff 242px,#0069ff 253px,#008eff 266px,#00adff 282px,#00c6ff 301px,#00d9ff 323px,#00e7ff 350px,#00efff 374px)"></i><i class=a style="background:linear-gradient(90deg,#f7ff00 1px,#ff0 20px,#ffef00 50px,#ffd900 75px,#fb0 96px,#ff9a00 111px,#ff7100 124px,#ff4200 134px,#ff0003 144px,#ff0016 146px,#ff0020 148px,#ff001f 149px,#ff0017 150px,#ff0400 152px,#ff6f00 158px,#ff9c00 161px,#ffc200 164px,#fff900 169px,#f9ff00 170px,#7bff00 178px,#04ff00 186px,#00ff0b 187px,#00ff63 193px,#00fffc 203px,#00b9ff 210px,#008aff 214px,#005fff 217px,#0009ff 222px,#0000fb 223px,#00e 225px,#0000ea 227px,#0003ff 233px,#003aff 242px,#0069ff 253px,#008eff 266px,#00adff 282px,#00c6ff 301px,#00d9ff 323px,#00e7ff 350px,#00efff 374px)"></i><i class=a style="background:linear-gradient(90deg,#f7ff00 1px,#ff0 20px,#ffef00 50px,#ffd900 75px,#fb0 96px,#ff9a00 111px,#ff7100 124px,#ff4200 134px,#ff0002 144px,#ff0015 146px,#ff001e 148px,#ff001d 149px,#ff0009 151px,#ff0600 152px,#ff7000 158px,#ff9d00 161px,#ffc300 164px,#fff900 169px,#f8ff00 170px,#7aff00 178px,#04ff00 186px,#00ff0b 187px,#00ff63 193px,#00fffb 203px,#00f7ff 204px,#00c4ff 209px,#008bff 214px,#0060ff 217px,#000aff 222px,#0000fc 223px,#0000ef 225px,#0000eb 227px,#0000fc 232px,#003bff 242px,#0069ff 253px,#008eff 266px,#00adff 282px,#00c6ff 301px,#00d9ff 323px,#00e8ff 351px,#00efff 374px)"></i><i class=a style="background:linear-gradient(90deg,#f7ff00 1px,#ff0 21px,#ffef00 50px,#ffd900 75px,#fb0 96px,#ff9b00 111px,#ff7100 124px,#ff4300 134px,#f00 144px,#ff000a 145px,#ff0018 147px,#ff001a 149px,#ff0006 151px,#ff0800 152px,#ff7200 158px,#ff9f00 161px,#ffc400 164px,#fffa00 169px,#f7ff00 170px,#79ff00 178px,#04ff00 186px,#00ff0b 187px,#00ff63 193px,#00fffa 203px,#00f8ff 204px,#00b0ff 211px,#008cff 214px,#0061ff 217px,#000dff 222px,#0000fd 223px,#0000f0 225px,#0000ec 227px,#0000fd 232px,#003bff 242px,#0069ff 253px,#008fff 266px,#00adff 282px,#00c6ff 301px,#00d9ff 323px,#00e8ff 351px,#00efff 374px)"></i><i class=a style="background:linear-gradient(90deg,#f7ff00 1px,#ff0 21px,#ffef00 50px,#ffd900 75px,#fb0 96px,#ff9b00 111px,#ff7100 124px,#ff4900 133px,#ff0200 144px,#ff0006 145px,#ff0016 148px,#ff0015 149px,#f00 151px,#ff1c00 153px,#ff7500 158px,#ffa100 161px,#fffc00 169px,#f4ff00 170px,#78ff00 178px,#04ff00 186px,#00ff0b 187px,#00ff62 193px,#00fff8 203px,#00faff 204px,#00b2ff 211px,#008eff 214px,#0064ff 217px,#0001ff 223px,#0000f8 224px,#00e 227px,#0000fe 232px,#003cff 242px,#006aff 253px,#008fff 266px,#00aeff 282px,#00c6ff 301px,#00d9ff 323px,#00e8ff 351px,#00efff 374px)"></i><i class=a style="background:linear-gradient(90deg,#f7ff00 1px,#ff0 21px,#fe0 51px,#ffd800 76px,#fb0 96px,#ff9b00 111px,#ff7200 124px,#f40 134px,#f00 145px,#ff000e 148px,#ff000c 149px,#ff0004 150px,#ff0600 151px,#f20 153px,#ff6900 157px,#ff9700 160px,#ffc900 164px,#fffe00 169px,#76ff00 178px,#03ff00 186px,#00ff61 193px,#00fff4 203px,#00fcff 204px,#0092ff 214px,#0069ff 217px,#0007ff 223px,#0000fc 224px,#0000f2 227px,#0002ff 232px,#003cff 242px,#006aff 253px,#008fff 266px,#00aeff 282px,#00c6ff 301px,#00d9ff 323px,#00e8ff 351px,#00efff 374px)"></i><i class=a style="background:linear-gradient(90deg,#f7ff00 1px,#ff0 21px,#fe0 51px,#ffd800 76px,#fb0 96px,#ff9b00 111px,#ff7600 123px,#ff5000 132px,#ff0500 145px,#ff0003 147px,#ff0001 149px,#ff0f00 151px,#ff2b00 153px,#ff7000 157px,#ff9d00 160px,#ffce00 164px,#fff800 168px,#fbff00 169px,#74ff00 178px,#03ff00 186px,#00ff6e 194px,#0ff 204px,#0097ff 214px,#006fff 217px,#0010ff 223px,#0004ff 224px,#0000fc 225px,#0000f6 227px,#00f 231px,#0047ff 244px,#07f 257px,#0094ff 268px,#00acff 281px,#00c5ff 300px,#00d8ff 322px,#00e7ff 350px,#00efff 374px)"></i><i class=a style="background:linear-gradient(90deg,#f7ff00 1px,#ff0 21px,#ffef00 50px,#ffda00 74px,#ffbf00 94px,#ffa300 108px,#ff7e00 121px,#ff5a00 130px,#ff1300 144px,#ff0900 147px,#ff0b00 149px,#ff1b00 151px,#ff3700 153px,#ff8900 158px,#ffa500 160px,#ffd400 164px,#fffd00 168px,#02ff00 186px,#00ff79 195px,#00fff8 204px,#00faff 205px,#009fff 214px,#0078ff 217px,#002aff 222px,#0010ff 224px,#0001ff 226px,#0000fe 227px,#0003ff 230px,#0048ff 244px,#0071ff 255px,#0092ff 267px,#00abff 280px,#00c3ff 298px,#00d7ff 321px,#00e7ff 349px,#00efff 374px)"></i><i class=a style="background:linear-gradient(90deg,#f7ff00 1px,#ff0 21px,#fff000 49px,#ffdb00 73px,#ffc200 92px,#ffa800 106px,#f80 118px,#ff6000 129px,#ff1d00 144px,#ff1700 147px,#ff1b00 149px,#ff2c00 151px,#ffa300 159px,#ffd200 163px,#fffb00 167px,#f6ff00 168px,#78ff00 177px,#01ff00 186px,#00ff82 196px,#00fffd 205px,#00c8ff 211px,#009dff 215px,#0020ff 224px,#0010ff 226px,#000cff 228px,#0012ff 231px,#0052ff 246px,#0078ff 257px,#0096ff 269px,#00aeff 282px,#00c5ff 300px,#00d8ff 322px,#00e8ff 350px,#00efff 374px)"></i><i class=a style="background:linear-gradient(90deg,#f7ff00 1px,#ff0 21px,#fff200 46px,#ffdf00 69px,#ffc700 89px,#ffaf00 103px,#ff9100 115px,#ff7100 125px,#ff3400 141px,#ff2800 146px,#ff2f00 149px,#ff4000 151px,#ffa500 158px,#ffc800 161px,#fffb00 166px,#f7ff00 167px,#72ff00 177px,#01ff00 186px,#0ff 206px,#00a9ff 215px,#0085ff 218px,#0034ff 224px,#0023ff 226px,#001cff 229px,#0028ff 234px,#0062ff 250px,#0081ff 260px,#009dff 272px,#00b3ff 285px,#00c7ff 302px,#00d9ff 323px,#00e8ff 351px,#00efff 374px)"></i><i class=a style="background:linear-gradient(90deg,#f7ff00 1px,#ff0 21px,#fff400 42px,#ffe300 65px,#ffcd00 85px,#ffb900 98px,#ffa200 109px,#ff8600 119px,#ff4c00 137px,#ff3d00 145px,#ff4200 148px,#ff5000 150px,#f60 152px,#ffb700 158px,#fffe00 165px,#6aff00 177px,#00ff01 186px,#00fffc 207px,#00dfff 211px,#00afff 216px,#0057ff 223px,#0042ff 225px,#0036ff 227px,#0030ff 230px,#003fff 238px,#0076ff 256px,#0090ff 266px,#00b8ff 289px,#0cf 307px,#00dbff 326px,#00efff 374px)"></i><i class=a style="background:linear-gradient(90deg,#f7ff00 1px,#ff0 21px,#fff700 37px,#ffe800 60px,#ffd400 80px,#ffaf00 103px,#ff9600 114px,#ff6100 133px,#ff5300 143px,#ff5700 146px,#ff6400 149px,#ff8200 152px,#ffcb00 158px,#fffa00 163px,#f9ff00 164px,#82ff00 174px,#09ff00 185px,#00ff02 186px,#00fdff 209px,#00b7ff 217px,#0072ff 223px,#0056ff 226px,#0049ff 229px,#0046ff 232px,#0052ff 242px,#0085ff 261px,#009dff 272px,#00bfff 294px,#00deff 330px,#00efff 374px)"></i><i class=a style="background:linear-gradient(90deg,#f7ff00 1px,#ff0 21px,#fff900 34px,#ffea00 57px,#ffd800 76px,#ffb700 99px,#ff7200 129px,#ff6700 138px,#ff6d00 144px,#ff7d00 148px,#ff9500 151px,#ffd700 157px,#fffa00 161px,#faff00 162px,#95ff00 171px,#07ff00 185px,#00ff03 186px,#0f9 201px,#00fff9 210px,#00fcff 211px,#0cf 217px,#0073ff 226px,#0061ff 230px,#0059ff 236px,#0061ff 245px,#00a7ff 277px,#00c4ff 298px,#00dfff 333px,#00efff 374px)"></i><i class=a style="background:linear-gradient(90deg,#f7ff00 2px,#fffa00 31px,#fd0 72px,#ffc000 94px,#ff8300 124px,#ff7800 134px,#ff8100 141px,#ff9700 147px,#ffac00 150px,#fffe00 159px,#9f0 169px,#04ff00 185px,#00ff05 186px,#00ff71 198px,#00fdff 213px,#00d9ff 218px,#009aff 225px,#0086ff 228px,#0071ff 234px,#0069ff 241px,#0073ff 251px,#00aeff 281px,#00c7ff 301px,#00e0ff 334px,#00efff 373px)"></i><i class=a style="background:linear-gradient(90deg,#f7ff00 2px,#fffc00 27px,#ffe100 68px,#ffc400 92px,#ff8e00 121px,#ff8700 130px,#ff8f00 137px,#ffa700 144px,#ffc300 149px,#fffc00 156px,#90ff00 168px,#02ff00 185px,#0f8 202px,#00fffc 215px,#00fbff 216px,#00b1ff 226px,#009aff 230px,#007fff 238px,#07f 245px,#007eff 254px,#00afff 282px,#00cbff 305px,#00e2ff 337px,#00efff 373px)"></i><i class=a style="background:linear-gradient(90deg,#f7ff00 2px,#fffe00 23px,#ffe500 64px,#ffce00 85px,#ff9b00 116px,#ff9400 125px,#ff9a00 132px,#ffae00 139px,#ffcf00 146px,#fffd00 153px,#97ff00 165px,#0f0 185px,#00ff9a 206px,#00fffc 218px,#00fbff 219px,#00c1ff 228px,#00a0ff 235px,#008aff 242px,#0083ff 250px,#0089ff 258px,#00b6ff 286px,#00ceff 308px,#00e3ff 339px,#00efff 373px)"></i><i class=a style="background:linear-gradient(90deg,#f7ff00 2px,#ff0 22px,#ffe800 60px,#ffd500 80px,#ffa700 111px,#ff9f00 121px,#ffa300 127px,#ffb400 134px,#ffd100 141px,#fffb00 149px,#fcff00 150px,#c7ff00 156px,#93ff00 163px,#05ff00 184px,#00ff02 185px,#00ff71 202px,#00fdff 222px,#00c7ff 232px,#00a5ff 240px,#0093ff 247px,#008eff 254px,#0094ff 263px,#0bf 290px,#00d1ff 312px,#00e4ff 341px,#00efff 373px)"></i><i class=a style="background:linear-gradient(90deg,#f7ff00 2px,#ff0 22px,#ffeb00 56px,#ffd500 80px,#ffae00 108px,#ffa900 117px,#ffaf00 124px,#ffbc00 130px,#ffd200 136px,#fffc00 145px,#fbff00 146px,#8fff00 161px,#02ff00 184px,#00ff9f 211px,#00ffd3 219px,#0ff 225px,#00c7ff 237px,#00adff 244px,#009dff 251px,#0097ff 258px,#009dff 267px,#00c0ff 294px,#00d5ff 316px,#00e5ff 344px,#00efff 373px)"></i><i class=a style="background:linear-gradient(90deg,#f7ff00 2px,#ff0 22px,#ffef00 52px,#ffda00 76px,#ffb600 104px,#ffb200 112px,#ffb600 119px,#ffc100 125px,#ffd800 132px,#ff0 141px,#90ff00 158px,#0f0 184px,#00ffa2 214px,#0ff 229px,#0cf 241px,#00b4ff 248px,#00a5ff 255px,#00a0ff 262px,#00a4ff 271px,#00c5ff 298px,#00d7ff 319px,#00e6ff 346px,#00efff 373px)"></i><i class=a style="background:linear-gradient(90deg,#f7ff00 2px,#ff0 22px,#fff100 49px,#ffde00 72px,#ffbe00 100px,#ffb900 108px,#ffbd00 115px,#ffc800 121px,#ffda00 127px,#fffd00 136px,#87ff00 157px,#00ff01 184px,#00ff9f 216px,#00fffe 233px,#00baff 252px,#00acff 259px,#00a7ff 266px,#00abff 275px,#00c8ff 301px,#00daff 323px,#00efff 373px)"></i><i style="background:linear-gradient(90deg,#f7ff00 2px,#ff0 22px,#fff500 43px,#ffc400 102px,#ffc600 108px,#ffcf00 114px,#fff500 127px,#f3ff00 132px,#b8ff00 143px,#7eff00 155px,#01ff00 183px,#00ff03 184px,#00ff97 218px,#00fff4 237px,#00f8ff 241px,#00c2ff 258px,#00b6ff 265px,#00b1ff 272px,#00b6ff 282px,#0df 327px,#00efff 373px)"></i><i style="background:linear-gradient(90deg,#f7ff00 2px,#ff0 22px,#fff900 36px,#ffd000 94px,#ffd700 105px,#fff700 118px,#f4ff00 123px,#91ff00 145px,#00ff02 183px,#00ff94 222px,#00fff4 245px,#00f9fe 249px,#00c8ff 267px,#00c0ff 273px,#00bcff 280px,#00bfff 289px,#00e0ff 333px,#00efff 373px)"></i><i style="background:linear-gradient(90deg,#f7ff00 3px,#fffc00 29px,#ffd900 86px,#ffe100 98px,#fff800 109px,#f4ff00 114px,#8eff00 140px,#0f0 182px,#00ffa3 231px,#00fff5 253px,#00f8ff 258px,#00d2ff 274px,#00c5ff 288px,#00e3ff 338px,#00efff 372px)"></i><i style="background:linear-gradient(90deg,#f7ff00 3px,#ff0 23px,#ffe200 78px,#ffe700 89px,#fffa00 100px,#f5ff00 105px,#b0ff00 124px,#79ff00 141px,#00ff02 182px,#00ff9c 234px,#00fff5 261px,#00faff 266px,#00d8ff 282px,#00cdff 295px,#00e6ff 345px,#00efff 372px)"></i><i style="background:linear-gradient(90deg,#f7ff00 3px,#ff0 24px,#ffe800 71px,#ffed00 81px,#fefb00 91px,#f8ff00 95px,#bcff00 113px,#8aff00 130px,#00ff01 181px,#00ffad 245px,#00fff8 270px,#00fbff 274px,#00deff 289px,#00d4ff 302px,#00efff 372px)"></i><i style="background:linear-gradient(90deg,#f7ff00 4px,#ff0 24px,#fe0 63px,#fff100 72px,#fbfd00 84px,#8bff00 124px,#0f0 180px,#00ffa7 248px,#00fff8 278px,#00fbfe 282px,#00e2ff 297px,#00daff 310px,#00efff 371px)"></i><i style="background:linear-gradient(90deg,#f7ff00 4px,#ff0 24px,#fff300 56px,#fffc00 71px,#faff00 76px,#96ff00 114px,#00ff01 180px,#00ffa4 252px,#00fff9 286px,#00fcff 290px,#00e6ff 304px,#00dfff 316px,#00efff 371px)"></i><i style="background:linear-gradient(90deg,#f7ff00 4px,#ff0 25px,#fff800 49px,#fbff00 66px,#a2ff00 103px,#0f0 179px,#00ffab 260px,#00fefb 295px,#00fcff 298px,#00eaff 311px,#00e3ff 322px,#00efff 371px)"></i><i style="background:linear-gradient(90deg,#f7ff00 5px,#ff0 26px,#fffb00 42px,#faff00 57px,#9f0 102px,#0f0 178px,#0fb 273px,#00fffb 302px,#00fcff 306px,#00ecff 319px,#00e6ff 329px,#00efff 370px)"></i><i style="background:linear-gradient(90deg,#f7ff00 5px,#fffe00 37px,#f6ff00 51px,#91ff00 101px,#00ff01 178px,#00ffb2 273px,#00fffc 310px,#0ef 325px,#00e9ff 335px,#00efff 370px)"></i><i style="background:linear-gradient(90deg,#f7ff00 6px,#fdff00 31px,#f1ff00 46px,#a0ff00 88px,#0f0 177px,#00ffab 274px,#00fffc 317px,#00ecff 339px,#00efff 369px)"></i><i style="background:linear-gradient(90deg,#f7ff00 6px,#faff00 27px,#efff00 41px,#9bff00 87px,#0f0 177px,#00fffd 323px,#00edff 344px,#00efff 369px)"></i><i style="background:linear-gradient(90deg,#f7ff00 8px,#f8ff00 24px,#ecff00 37px,#1fff00 158px,#1f0 166px,#10ff00 167px,#00ff34 208px,#00ff35 209px,#00ff43 217px,#00fffd 328px,#00efff 347px,#00efff 367px)"></i><i style="background:linear-gradient(90deg,#f7ff00 10px,#f7ff00 21px,#f0ff00 30px,#b6ff00 64px,#00ffd9 311px,#00feff 334px,#00f0ff 350px,#00efff 365px)"></i><i style="background:linear-gradient(90deg,#f7ff00 12px,#f5ff00 21px,#ef0 28px,#00f4ff 347px,#00efff 363px)"></i></div>
<div class="m" style="left:1271.60px;top:334.90px;width:381px;height:110px;clip-path:path(evenodd,'M364 105.5L317 103L201 101.9L78 102.7L45 103.7L20 105.6L16 105.3L12 103L10 99.2L7.1 85.5L5.4 72.5L5 56.5L5.4 38.5L7 25.2L9.2 13.5L10.5 9.5L12.5 6.5L15 5L19 4.3L41 6.1L63 7L180 8.1L303 7.3L336 6.3L361 4.4L365 4.7L367.1 5.5L369.4 7.5L370.9 10.5L372.2 15.5L375.6 37.5L376 59.5L375.3 75.5L371.8 96.5L370.5 100.5L369 103L367 104.5Z')"><i style="background:linear-gradient(90deg,#ff8400 14px,#f80 23px,#ff9700 32px,#0086ff 349px,#0078ff 358px,#0074ff 367px)"></i><i style="background:linear-gradient(90deg,#ff8300 12px,#ff8500 21px,#ff8c00 28px,#fffd00 89px,#f9ff00 92px,#00edff 289px,#007cff 353px,#0075ff 360px,#0073ff 369px)"></i><i style="background:linear-gradient(90deg,#ff8300 10px,#ff8400 22px,#ff8b00 30px,#fffe00 91px,#00ff01 184px,#00fffd 277px,#007dff 350px,#0074ff 359px,#0073ff 371px)"></i><i style="background:linear-gradient(90deg,#ff8300 8px,#ff8200 24px,#ff8b00 33px,#fefe00 93px,#0f0 184px,#00fffd 275px,#007cff 347px,#0073ff 357px,#0073ff 373px)"></i><i style="background:linear-gradient(90deg,#ff8300 7px,#ff8100 26px,#ff8a00 37px,#fffe00 95px,#0f0 184px,#00fffd 273px,#007aff 344px,#0071ff 355px,#0073ff 374px)"></i><i style="background:linear-gradient(90deg,#ff8300 6px,#ff7e00 28px,#ff8700 41px,#fffd00 98px,#01ff00 184px,#00fffc 270px,#07f 340px,#006fff 353px,#0073ff 375px)"></i><i style="background:linear-gradient(90deg,#ff8300 6px,#ff7b00 32px,#ff8300 45px,#ff9300 54px,#fefd00 102px,#02ff00 184px,#00fffa 266px,#00fcff 269px,#0074ff 335px,#006cff 348px,#0073ff 375px)"></i><i style="background:linear-gradient(90deg,#ff8300 5px,#ff7800 37px,#ff7e00 50px,#ff9200 61px,#fefd00 106px,#00ff01 185px,#00fffc 263px,#00fdff 265px,#00c5ff 291px,#007fff 321px,#0070ff 330px,#0068ff 344px,#0073ff 376px)"></i><i style="background:linear-gradient(90deg,#ff8300 5px,#ff7300 42px,#f70 55px,#ff8b00 66px,#ffc900 89px,#fefd00 111px,#0f0 185px,#00fffb 259px,#00fbff 262px,#00bdff 289px,#007bff 315px,#0069ff 325px,#0064ff 339px,#0073ff 376px)"></i><i style="background:linear-gradient(90deg,#ff8300 4px,#ff7f00 17px,#ff6d00 48px,#ff7100 61px,#ff8700 73px,#ffbe00 91px,#fffc00 115px,#f8ff00 118px,#02ff00 185px,#00fff8 254px,#00fcff 257px,#00b0ff 288px,#07f 308px,#0063ff 319px,#005eff 333px,#0073ff 377px)"></i><i style="background:linear-gradient(90deg,#ff8300 4px,#ff7e00 19px,#f60 54px,#ff6800 67px,#ff7b00 77px,#ffb500 94px,#fefd00 120px,#03ff00 185px,#00fffb 251px,#00fdff 253px,#00acff 284px,#006bff 304px,#005bff 313px,#0058ff 327px,#006fff 362px,#0073ff 377px)"></i><i style="background:linear-gradient(90deg,#ff8300 4px,#ff7b00 24px,#ff5e00 61px,#ff6000 74px,#ff6e00 80px,#ff9000 88px,#ffaf00 97px,#fefe00 124px,#0f0 186px,#00fffb 248px,#00fcff 250px,#00a6ff 281px,#0083ff 292px,#005fff 301px,#0052ff 307px,#004fff 320px,#006bff 357px,#0073ff 377px)"></i><i style="background:linear-gradient(90deg,#ff8300 3px,#ff7b00 23px,#f50 66px,#ff5300 76px,#ff5c00 80px,#ff8200 88px,#ffa300 97px,#fffd00 126px,#faff00 128px,#01ff00 186px,#00fffd 246px,#0095ff 283px,#0076ff 292px,#004eff 301px,#0047ff 304px,#0046ff 313px,#0068ff 353px,#0073ff 378px)"></i><i style="background:linear-gradient(90deg,#ff8300 3px,#ff7500 31px,#ff4c00 71px,#ff4a00 77px,#ff5100 80px,#ff7d00 89px,#ff9b00 97px,#fffe00 128px,#01ff00 186px,#00fffa 244px,#00fcff 246px,#0091ff 282px,#006dff 292px,#0043ff 301px,#003dff 304px,#003fff 310px,#0065ff 349px,#0073ff 378px)"></i><i style="background:linear-gradient(90deg,#ff8300 3px,#ff8000 15px,#ff7200 35px,#ff4500 77px,#ff4a00 80px,#f70 89px,#ff9700 97px,#fffe00 129px,#01ff00 186px,#00fffe 244px,#008dff 282px,#0068ff 292px,#003dff 301px,#0037ff 304px,#0062ff 345px,#006fff 365px,#0073ff 378px)"></i><i style="background:linear-gradient(90deg,#ff8300 3px,#ff7e00 17px,#ff6f00 38px,#ff4200 77px,#ff4c00 81px,#ff7500 89px,#ff9500 97px,#fffd00 129px,#02ff00 186px,#00fffb 243px,#0ff 244px,#008bff 282px,#06f 292px,#003eff 300px,#0036ff 303px,#0037ff 307px,#004fff 326px,#0062ff 345px,#0073ff 378px)"></i><i style="background:linear-gradient(90deg,#ff8300 2px,#ff7f00 16px,#ff6e00 38px,#ff4100 77px,#ff4a00 81px,#ff7400 89px,#ff9400 97px,#feff00 130px,#02ff00 186px,#00fffb 243px,#00feff 244px,#008aff 282px,#0065ff 292px,#003dff 300px,#0035ff 303px,#0036ff 307px,#004fff 326px,#0061ff 345px,#0070ff 366px,#0073ff 379px)"></i><i class=a style="background:linear-gradient(90deg,#ff8300 2px,#ff7f00 16px,#ff6e00 38px,#ff4000 77px,#ff4a00 81px,#ff7300 89px,#ff9300 97px,#feff00 130px,#02ff00 186px,#00fffc 243px,#00feff 244px,#008aff 282px,#0064ff 292px,#003cff 300px,#0034ff 303px,#0035ff 307px,#004dff 325px,#0060ff 344px,#006fff 365px,#0073ff 379px)"></i><i class=a style="background:linear-gradient(90deg,#ff8300 2px,#ff7e00 16px,#ff6e00 38px,#ff4000 77px,#ff4900 81px,#ff7300 89px,#ff9300 97px,#ff0 130px,#02ff00 186px,#00fffc 243px,#00feff 244px,#008aff 282px,#0064ff 292px,#003cff 300px,#0034ff 303px,#0035ff 307px,#004dff 325px,#0060ff 344px,#006fff 365px,#0073ff 379px)"></i><i class=a style="background:linear-gradient(90deg,#ff8300 2px,#ff7e00 17px,#ff6d00 39px,#ff3f00 77px,#ff4900 81px,#ff7300 89px,#ff9300 97px,#ff0 130px,#02ff00 186px,#00fffc 243px,#0089ff 282px,#0064ff 292px,#003cff 300px,#03f 303px,#0035ff 307px,#004dff 325px,#0060ff 344px,#006fff 365px,#0073ff 379px)"></i><i class=a style="background:linear-gradient(90deg,#ff8300 2px,#ff7e00 17px,#ff6d00 39px,#ff3f00 77px,#ff4900 81px,#ff7300 89px,#ff9300 97px,#ff0 130px,#02ff00 186px,#00fffc 243px,#0089ff 282px,#0064ff 292px,#003bff 300px,#03f 303px,#0034ff 307px,#004dff 325px,#0060ff 344px,#006fff 365px,#0073ff 379px)"></i><i class=a style="background:linear-gradient(90deg,#ff8300 2px,#ff7e00 17px,#ff6d00 39px,#ff3f00 77px,#ff4800 81px,#ff7200 89px,#ff9300 97px,#ff0 130px,#02ff00 186px,#00fffc 243px,#0089ff 282px,#0063ff 292px,#003bff 300px,#03f 303px,#0034ff 307px,#004dff 325px,#0060ff 344px,#006fff 365px,#0073ff 379px)"></i><i class=a style="background:linear-gradient(90deg,#ff8300 2px,#ff7e00 17px,#ff6d00 39px,#ff3e00 77px,#ff4800 81px,#ff7200 89px,#ff9200 97px,#ff0 130px,#02ff00 186px,#00fffd 243px,#0089ff 282px,#0063ff 292px,#003bff 300px,#03f 303px,#0034ff 307px,#004dff 325px,#0060ff 344px,#006fff 365px,#0073ff 379px)"></i><i class=a style="background:linear-gradient(90deg,#ff8300 2px,#ff7f00 15px,#ff6e00 37px,#ff5a00 56px,#ff4000 74px,#ff3f00 78px,#ff4800 81px,#ff6d00 88px,#ff8f00 96px,#ff0 130px,#02ff00 186px,#00fffd 243px,#0089ff 282px,#0063ff 292px,#003bff 300px,#0032ff 303px,#03f 307px,#004cff 325px,#0060ff 344px,#006fff 366px,#0073ff 379px)"></i><i class=a style="background:linear-gradient(90deg,#ff8300 2px,#ff7f00 15px,#ff6e00 37px,#ff5a00 56px,#ff4000 74px,#ff3f00 78px,#ff4800 81px,#ff6d00 88px,#ff8e00 96px,#ff0 130px,#02ff00 186px,#00fffd 243px,#08f 282px,#0063ff 292px,#003aff 300px,#0032ff 303px,#03f 307px,#004cff 325px,#005fff 344px,#006fff 366px,#0073ff 379px)"></i><i class=a style="background:linear-gradient(90deg,#ff8300 2px,#ff7f00 15px,#ff6e00 37px,#ff5a00 56px,#ff4000 74px,#ff3f00 78px,#ff4700 81px,#ff6d00 88px,#ff8e00 96px,#fffe00 130px,#02ff00 186px,#00fffd 243px,#0085ff 283px,#0063ff 292px,#003aff 300px,#0032ff 303px,#03f 307px,#004cff 325px,#005fff 344px,#006fff 366px,#0073ff 379px)"></i><i class=a style="background:linear-gradient(90deg,#ff8300 2px,#ff7f00 15px,#ff6e00 37px,#ff5a00 56px,#ff4000 74px,#ff3e00 78px,#ff4700 81px,#ff6d00 88px,#ff8e00 96px,#fffe00 130px,#02ff00 186px,#00fffd 243px,#0085ff 283px,#0062ff 292px,#003aff 300px,#0032ff 303px,#03f 307px,#004cff 325px,#005fff 344px,#006fff 366px,#0073ff 379px)"></i><i class=a style="background:linear-gradient(90deg,#ff8300 2px,#ff7f00 15px,#ff6e00 37px,#ff5a00 56px,#ff3f00 74px,#ff3e00 78px,#ff4700 81px,#ff6d00 88px,#ff8e00 96px,#fffe00 130px,#02ff00 186px,#00fffd 243px,#0085ff 283px,#0062ff 292px,#003aff 300px,#0031ff 303px,#03f 307px,#004cff 325px,#005fff 344px,#006fff 366px,#0073ff 379px)"></i><i class=a style="background:linear-gradient(90deg,#ff8300 2px,#ff7f00 15px,#ff6e00 37px,#ff5b00 55px,#ff3f00 74px,#ff3e00 78px,#ff4700 81px,#ff6c00 88px,#ff8e00 96px,#fffe00 130px,#02ff00 186px,#00fffd 243px,#0084ff 283px,#0062ff 292px,#0039ff 300px,#0031ff 303px,#0032ff 307px,#004dff 326px,#005fff 344px,#006fff 366px,#0073ff 379px)"></i><i class=a style="background:linear-gradient(90deg,#ff8300 2px,#ff7e00 15px,#ff6e00 37px,#ff5b00 55px,#ff3f00 74px,#ff3e00 78px,#ff4700 81px,#ff6c00 88px,#ff8e00 96px,#fffe00 130px,#02ff00 186px,#00fffd 243px,#0084ff 283px,#0062ff 292px,#0039ff 300px,#0031ff 303px,#0032ff 307px,#004dff 326px,#005fff 344px,#006fff 366px,#0073ff 379px)"></i><i class=a style="background:linear-gradient(90deg,#ff8300 2px,#ff7e00 15px,#ff6e00 37px,#ff5b00 55px,#ff3f00 74px,#ff3e00 78px,#ff4600 81px,#ff6c00 88px,#ff8e00 96px,#fffe00 130px,#02ff00 186px,#00fffd 243px,#08f 282px,#0062ff 292px,#0039ff 300px,#0031ff 303px,#0032ff 307px,#004dff 326px,#005fff 344px,#006fff 366px,#0073ff 379px)"></i><i class=a style="background:linear-gradient(90deg,#ff8300 2px,#ff7e00 15px,#ff6e00 37px,#ff5b00 55px,#ff3f00 74px,#ff3e00 78px,#ff4600 81px,#ff6c00 88px,#ff8d00 96px,#fffe00 130px,#02ff00 186px,#00fffd 243px,#08f 282px,#0062ff 292px,#0039ff 300px,#0031ff 303px,#0032ff 307px,#004dff 326px,#005fff 344px,#006fff 366px,#0073ff 379px)"></i><i class=a style="background:linear-gradient(90deg,#ff8300 2px,#ff7e00 15px,#ff6e00 37px,#ff5b00 55px,#ff3f00 74px,#ff3d00 78px,#ff4600 81px,#ff6c00 88px,#ff8d00 96px,#fffe00 130px,#02ff00 186px,#00fffd 243px,#08f 282px,#0062ff 292px,#0039ff 300px,#0031ff 303px,#0032ff 307px,#004dff 326px,#005fff 344px,#006fff 366px,#0073ff 379px)"></i><i class=a style="background:linear-gradient(90deg,#ff8300 1px,#ff7f00 14px,#ff6f00 36px,#ff5c00 54px,#ff3f00 74px,#ff3d00 78px,#ff4600 81px,#ff7100 89px,#ff9100 97px,#fffe00 130px,#02ff00 186px,#00fffe 243px,#08f 282px,#0062ff 292px,#0039ff 300px,#0031ff 303px,#0032ff 307px,#004dff 326px,#005fff 344px,#006fff 366px,#0073ff 380px)"></i><i class=a style="background:linear-gradient(90deg,#ff8300 1px,#ff7f00 14px,#ff6f00 36px,#ff5c00 54px,#ff3f00 74px,#ff3d00 78px,#ff4600 81px,#ff7100 89px,#ff9100 97px,#fffe00 130px,#02ff00 186px,#00fffe 243px,#08f 282px,#0062ff 292px,#0039ff 300px,#0031ff 303px,#0032ff 307px,#004eff 327px,#0060ff 345px,#006fff 367px,#0073ff 380px)"></i><i class=a style="background:linear-gradient(90deg,#ff8300 1px,#ff7f00 14px,#ff6f00 36px,#ff5c00 54px,#ff3f00 74px,#ff3d00 78px,#ff4600 81px,#ff7100 89px,#ff9100 97px,#fffe00 130px,#02ff00 186px,#00fffe 243px,#0087ff 282px,#0062ff 292px,#0039ff 300px,#0030ff 303px,#0032ff 307px,#004eff 327px,#0060ff 345px,#006fff 367px,#0073ff 380px)"></i><i class=a style="background:linear-gradient(90deg,#ff8300 1px,#ff7f00 14px,#ff6f00 36px,#ff5c00 54px,#ff3e00 74px,#ff3d00 78px,#ff4600 81px,#ff7000 89px,#ff9100 97px,#fffe00 130px,#02ff00 186px,#00fffe 243px,#0087ff 282px,#0061ff 292px,#0039ff 300px,#0030ff 303px,#0031ff 306px,#004eff 327px,#0060ff 345px,#006fff 367px,#0073ff 380px)"></i><i class=a style="background:linear-gradient(90deg,#ff8300 1px,#ff7f00 14px,#ff6f00 36px,#ff5c00 54px,#ff3e00 74px,#ff3d00 78px,#ff4600 81px,#ff7000 89px,#ff9100 97px,#fffe00 130px,#02ff00 186px,#00fffe 243px,#0087ff 282px,#0061ff 292px,#0039ff 300px,#0030ff 303px,#0031ff 306px,#004eff 327px,#0060ff 345px,#006fff 367px,#0073ff 380px)"></i><i class=a style="background:linear-gradient(90deg,#ff8300 1px,#ff7f00 14px,#ff6f00 36px,#ff5c00 54px,#ff3e00 74px,#ff3d00 78px,#ff4600 81px,#ff7000 89px,#ff9100 97px,#fffe00 130px,#02ff00 186px,#00fffe 243px,#0087ff 282px,#0061ff 292px,#0039ff 300px,#0030ff 303px,#0031ff 306px,#004eff 327px,#0060ff 345px,#006fff 367px,#0073ff 380px)"></i><i class=a style="background:linear-gradient(90deg,#ff8300 1px,#ff7f00 14px,#ff6f00 36px,#ff5c00 54px,#ff3e00 74px,#ff3d00 78px,#ff4600 81px,#ff7000 89px,#ff9100 97px,#fffe00 130px,#02ff00 186px,#00fffe 243px,#0087ff 282px,#0061ff 292px,#0039ff 300px,#0030ff 303px,#0031ff 306px,#004eff 327px,#0060ff 345px,#006fff 367px,#0073ff 380px)"></i><i class=a style="background:linear-gradient(90deg,#ff8300 1px,#ff7f00 14px,#ff6f00 36px,#ff5c00 54px,#ff3f00 74px,#ff3d00 78px,#ff4600 81px,#ff7100 89px,#ff9100 97px,#fffe00 130px,#02ff00 186px,#00fffe 243px,#0087ff 282px,#0062ff 292px,#0039ff 300px,#0030ff 303px,#0032ff 307px,#004eff 327px,#0060ff 345px,#006fff 367px,#0073ff 380px)"></i><i class=a style="background:linear-gradient(90deg,#ff8300 1px,#ff7f00 14px,#ff6f00 36px,#ff5c00 54px,#ff3f00 74px,#ff3d00 78px,#ff4600 81px,#ff7100 89px,#ff9100 97px,#fffe00 130px,#02ff00 186px,#00fffe 243px,#08f 282px,#0062ff 292px,#0039ff 300px,#0031ff 303px,#0032ff 307px,#004eff 327px,#0060ff 345px,#006fff 367px,#0073ff 380px)"></i><i class=a style="background:linear-gradient(90deg,#ff8300 1px,#ff7f00 14px,#ff6f00 36px,#ff5c00 54px,#ff3f00 74px,#ff3d00 78px,#ff4600 81px,#ff7100 89px,#ff9100 97px,#fffe00 130px,#02ff00 186px,#00fffe 243px,#08f 282px,#0062ff 292px,#0039ff 300px,#0031ff 303px,#0032ff 307px,#004dff 326px,#005fff 344px,#006fff 366px,#0073ff 380px)"></i><i class=a style="background:linear-gradient(90deg,#ff8300 2px,#ff7e00 15px,#ff6e00 37px,#ff5b00 55px,#ff3f00 74px,#ff3d00 78px,#ff4600 81px,#ff6c00 88px,#ff8d00 96px,#fffe00 130px,#02ff00 186px,#00fffd 243px,#08f 282px,#0062ff 292px,#0039ff 300px,#0031ff 303px,#0032ff 307px,#004dff 326px,#005fff 344px,#006fff 366px,#0073ff 379px)"></i><i class=a style="background:linear-gradient(90deg,#ff8300 2px,#ff7e00 15px,#ff6e00 37px,#ff5b00 55px,#ff3f00 74px,#ff3e00 78px,#ff4600 81px,#ff6c00 88px,#ff8d00 96px,#fffe00 130px,#02ff00 186px,#00fffd 243px,#08f 282px,#0062ff 292px,#0039ff 300px,#0031ff 303px,#0032ff 307px,#004dff 326px,#005fff 344px,#006fff 366px,#0073ff 379px)"></i><i class=a style="background:linear-gradient(90deg,#ff8300 2px,#ff7e00 15px,#ff6e00 37px,#ff5b00 55px,#ff3f00 74px,#ff3e00 78px,#ff4600 81px,#ff6c00 88px,#ff8e00 96px,#fffe00 130px,#02ff00 186px,#00fffd 243px,#08f 282px,#0062ff 292px,#0039ff 300px,#0031ff 303px,#0032ff 307px,#004dff 326px,#005fff 344px,#006fff 366px,#0073ff 379px)"></i><i class=a style="background:linear-gradient(90deg,#ff8300 2px,#ff7e00 15px,#ff6e00 37px,#ff5b00 55px,#ff3f00 74px,#ff3e00 78px,#ff4700 81px,#ff6c00 88px,#ff8e00 96px,#fffe00 130px,#02ff00 186px,#00fffd 243px,#0084ff 283px,#0062ff 292px,#0039ff 300px,#0031ff 303px,#0032ff 307px,#004dff 326px,#005fff 344px,#006fff 366px,#0073ff 379px)"></i><i class=a style="background:linear-gradient(90deg,#ff8300 2px,#ff7f00 15px,#ff6e00 37px,#ff5b00 55px,#ff3f00 74px,#ff3e00 78px,#ff4700 81px,#ff6c00 88px,#ff8e00 96px,#fffe00 130px,#02ff00 186px,#00fffd 243px,#0084ff 283px,#0062ff 292px,#0039ff 300px,#0031ff 303px,#0032ff 307px,#004dff 326px,#005fff 344px,#006fff 366px,#0073ff 379px)"></i><i class=a style="background:linear-gradient(90deg,#ff8300 2px,#ff7f00 15px,#ff6e00 37px,#ff5a00 56px,#ff3f00 74px,#ff3e00 78px,#ff4700 81px,#ff6d00 88px,#ff8e00 96px,#fffe00 130px,#02ff00 186px,#00fffd 243px,#0085ff 283px,#0062ff 292px,#003aff 300px,#0031ff 303px,#03f 307px,#004cff 325px,#005fff 344px,#006fff 366px,#0073ff 379px)"></i><i class=a style="background:linear-gradient(90deg,#ff8300 2px,#ff7f00 15px,#ff6e00 37px,#ff5a00 56px,#ff4000 74px,#ff3e00 78px,#ff4700 81px,#ff6d00 88px,#ff8e00 96px,#fffe00 130px,#02ff00 186px,#00fffd 243px,#0085ff 283px,#0062ff 292px,#003aff 300px,#0032ff 303px,#03f 307px,#004cff 325px,#005fff 344px,#006fff 366px,#0073ff 379px)"></i><i class=a style="background:linear-gradient(90deg,#ff8300 2px,#ff7f00 15px,#ff6e00 37px,#ff5a00 56px,#ff4000 74px,#ff3f00 78px,#ff4700 81px,#ff6d00 88px,#ff8e00 96px,#fffe00 130px,#02ff00 186px,#00fffd 243px,#0085ff 283px,#0063ff 292px,#003aff 300px,#0032ff 303px,#03f 307px,#004cff 325px,#005fff 344px,#006fff 366px,#0073ff 379px)"></i><i class=a style="background:linear-gradient(90deg,#ff8300 2px,#ff7f00 15px,#ff6e00 37px,#ff5a00 56px,#ff4000 74px,#ff3f00 78px,#ff4800 81px,#ff6d00 88px,#ff8e00 96px,#ff0 130px,#02ff00 186px,#00fffd 243px,#08f 282px,#0063ff 292px,#003aff 300px,#0032ff 303px,#03f 307px,#004cff 325px,#005fff 344px,#006fff 366px,#0073ff 379px)"></i><i class=a style="background:linear-gradient(90deg,#ff8300 2px,#ff7f00 15px,#ff6e00 37px,#ff5a00 56px,#ff4000 74px,#ff3f00 78px,#ff4800 81px,#ff6d00 88px,#ff8f00 96px,#ff0 130px,#02ff00 186px,#00fffd 243px,#0089ff 282px,#0063ff 292px,#003bff 300px,#0032ff 303px,#03f 307px,#004cff 325px,#0060ff 344px,#006fff 366px,#0073ff 379px)"></i><i class=a style="background:linear-gradient(90deg,#ff8300 2px,#ff7e00 17px,#ff6d00 39px,#ff3e00 77px,#ff4800 81px,#ff7200 89px,#ff9200 97px,#ff0 130px,#02ff00 186px,#00fffd 243px,#0089ff 282px,#0063ff 292px,#003bff 300px,#03f 303px,#0034ff 307px,#004dff 325px,#0060ff 344px,#006fff 365px,#0073ff 379px)"></i><i class=a style="background:linear-gradient(90deg,#ff8300 2px,#ff7e00 17px,#ff6d00 39px,#ff3f00 77px,#ff4800 81px,#ff7200 89px,#ff9300 97px,#ff0 130px,#02ff00 186px,#00fffc 243px,#0089ff 282px,#0063ff 292px,#003bff 300px,#03f 303px,#0034ff 307px,#004dff 325px,#0060ff 344px,#006fff 365px,#0073ff 379px)"></i><i class=a style="background:linear-gradient(90deg,#ff8300 2px,#ff7e00 17px,#ff6d00 39px,#ff3f00 77px,#ff4900 81px,#ff7300 89px,#ff9300 97px,#ff0 130px,#02ff00 186px,#00fffc 243px,#0089ff 282px,#0064ff 292px,#003bff 300px,#03f 303px,#0034ff 307px,#004dff 325px,#0060ff 344px,#006fff 365px,#0073ff 379px)"></i><i class=a style="background:linear-gradient(90deg,#ff8300 2px,#ff7e00 17px,#ff6d00 39px,#ff3f00 77px,#ff4900 81px,#ff7300 89px,#ff9300 97px,#ff0 130px,#02ff00 186px,#00fffc 243px,#0089ff 282px,#0064ff 292px,#003cff 300px,#03f 303px,#0035ff 307px,#004dff 325px,#0060ff 344px,#006fff 365px,#0073ff 379px)"></i><i class=a style="background:linear-gradient(90deg,#ff8300 2px,#ff7e00 16px,#ff6e00 38px,#ff4000 77px,#ff4900 81px,#ff7300 89px,#ff9300 97px,#ff0 130px,#02ff00 186px,#00fffc 243px,#00feff 244px,#008aff 282px,#0064ff 292px,#003cff 300px,#0034ff 303px,#0035ff 307px,#004dff 325px,#0060ff 344px,#006fff 365px,#0073ff 379px)"></i><i class=a style="background:linear-gradient(90deg,#ff8300 2px,#ff7f00 16px,#ff6e00 38px,#ff4000 77px,#ff4a00 81px,#ff7300 89px,#ff9300 97px,#feff00 130px,#02ff00 186px,#00fffc 243px,#00feff 244px,#008aff 282px,#0064ff 292px,#003cff 300px,#0034ff 303px,#0035ff 307px,#004dff 325px,#0060ff 344px,#006fff 365px,#0073ff 379px)"></i><i style="background:linear-gradient(90deg,#ff8300 2px,#ff7f00 16px,#ff6e00 38px,#ff4100 77px,#ff4a00 81px,#ff7400 89px,#ff9400 97px,#feff00 130px,#02ff00 186px,#00fffb 243px,#00feff 244px,#008aff 282px,#0065ff 292px,#003dff 300px,#0035ff 303px,#0036ff 307px,#004fff 326px,#0061ff 345px,#0070ff 366px,#0073ff 379px)"></i><i style="background:linear-gradient(90deg,#ff8300 3px,#ff7e00 17px,#ff6f00 38px,#ff4200 77px,#ff4c00 81px,#ff7500 89px,#ff9500 97px,#fffd00 129px,#02ff00 186px,#00fffb 243px,#0ff 244px,#008bff 282px,#06f 292px,#003eff 300px,#0036ff 303px,#0037ff 307px,#004fff 326px,#0062ff 345px,#0073ff 378px)"></i><i style="background:linear-gradient(90deg,#ff8300 3px,#ff8000 15px,#ff7200 35px,#ff4500 77px,#ff4a00 80px,#f70 89px,#ff9700 97px,#fffe00 129px,#01ff00 186px,#00fffe 244px,#008dff 282px,#0068ff 292px,#003dff 301px,#0037ff 304px,#0062ff 345px,#006fff 365px,#0073ff 378px)"></i><i style="background:linear-gradient(90deg,#ff8300 3px,#ff7500 31px,#ff4c00 71px,#ff4a00 77px,#ff5100 80px,#ff7d00 89px,#ff9b00 97px,#fffe00 128px,#01ff00 186px,#00fffa 244px,#00fcff 246px,#0091ff 282px,#006dff 292px,#0043ff 301px,#003dff 304px,#003fff 310px,#0065ff 349px,#0073ff 378px)"></i><i style="background:linear-gradient(90deg,#ff8300 3px,#ff7b00 23px,#f50 66px,#ff5300 76px,#ff5c00 80px,#ff8200 88px,#ffa300 97px,#fffd00 126px,#faff00 128px,#01ff00 186px,#00fffd 246px,#0095ff 283px,#0076ff 292px,#004eff 301px,#0047ff 304px,#0046ff 313px,#0068ff 352px,#0073ff 378px)"></i><i style="background:linear-gradient(90deg,#ff8300 4px,#ff7b00 24px,#ff5e00 61px,#ff6000 74px,#ff6e00 80px,#ff9000 88px,#ffaf00 97px,#fefe00 124px,#0f0 186px,#00fffb 248px,#00fcff 250px,#00a6ff 281px,#0083ff 292px,#005fff 301px,#0052ff 307px,#004fff 320px,#006bff 357px,#0073ff 377px)"></i><i style="background:linear-gradient(90deg,#ff8300 4px,#ff7e00 19px,#f60 54px,#ff6800 67px,#ff7b00 77px,#ffb500 94px,#fefd00 120px,#03ff00 185px,#00fffb 251px,#00fdff 253px,#00acff 284px,#006bff 304px,#005bff 313px,#0058ff 327px,#006fff 362px,#0073ff 377px)"></i><i style="background:linear-gradient(90deg,#ff8300 4px,#ff7f00 17px,#ff6d00 48px,#ff7100 61px,#ff8700 73px,#ffbe00 91px,#fffc00 115px,#f8ff00 118px,#02ff00 185px,#00fff8 254px,#00fcff 257px,#00b0ff 288px,#07f 308px,#0063ff 319px,#005eff 333px,#0073ff 377px)"></i><i style="background:linear-gradient(90deg,#ff8300 5px,#ff7300 42px,#f70 55px,#ff8b00 66px,#ffc900 89px,#fefd00 111px,#0f0 185px,#00fffb 259px,#00fbff 262px,#00bdff 289px,#007bff 315px,#0069ff 325px,#0064ff 339px,#0073ff 376px)"></i><i style="background:linear-gradient(90deg,#ff8300 5px,#ff7800 37px,#ff7e00 50px,#ff9200 61px,#fefd00 106px,#00ff01 185px,#00fffc 263px,#00fdff 265px,#00c5ff 291px,#007fff 321px,#0070ff 330px,#0068ff 344px,#0073ff 376px)"></i><i style="background:linear-gradient(90deg,#ff8300 6px,#ff7b00 32px,#ff8300 45px,#ff9300 54px,#fefd00 102px,#02ff00 184px,#00fffa 266px,#00fcff 269px,#0074ff 335px,#006cff 348px,#0073ff 375px)"></i><i style="background:linear-gradient(90deg,#ff8300 6px,#ff7e00 28px,#ff8700 41px,#fffd00 98px,#01ff00 184px,#00fffc 270px,#07f 340px,#006fff 353px,#0073ff 375px)"></i><i style="background:linear-gradient(90deg,#ff8300 7px,#ff8100 26px,#ff8a00 37px,#fffe00 95px,#0f0 184px,#00fffd 273px,#007aff 344px,#0071ff 355px,#0073ff 374px)"></i><i style="background:linear-gradient(90deg,#ff8300 8px,#ff8200 24px,#ff8b00 33px,#fefe00 93px,#0f0 184px,#00fffd 275px,#007cff 347px,#0073ff 357px,#0073ff 373px)"></i><i style="background:linear-gradient(90deg,#ff8300 10px,#ff8400 22px,#ff8b00 30px,#fffe00 91px,#00ff01 184px,#00fffd 277px,#007dff 350px,#0074ff 359px,#0073ff 371px)"></i><i style="background:linear-gradient(90deg,#ff8300 12px,#ff8500 21px,#ff8c00 28px,#fffd00 89px,#f9ff00 92px,#00edff 289px,#007cff 353px,#0075ff 360px,#0073ff 369px)"></i><i style="background:linear-gradient(90deg,#ff8400 14px,#f80 23px,#ff9700 32px,#0086ff 349px,#0078ff 358px,#0074ff 367px)"></i></div>
<div class="m" style="left:330.40px;top:742.00px;width:375px;height:240px;clip-path:path(evenodd,'M207 235.5L177 236L149 233.9L133 231.7L106 226.3L83.1 219.5L67 213.2L59 209.4L50 204.6L38 196.9L26.7 187.5L17.9 177.5L14 171.2L10 161.9L8 154.5L6 142.3L4.9 124.5L5.4 102.5L7 90.2L9 80.9L11 74.8L15 66.4L19 60.5L25 53.5L37 43.1L49 35.3L62.1 28.5L82 20.5L105.7 13.5L125 9.5L149 6.1L170 4.3L181 3.9L201 4.1L227 6.2L254.4 10.5L279.4 16.5L300 23.5L317.8 31.5L325 35.4L337.6 43.5L348.3 52.5L357 62.4L361 68.8L364 75.3L366 81.4L367.8 89.5L369.8 105.5L369.9 131.5L368 149.8L366 159.1L364 165.2L360 173.6L356 179.5L351 185.4L345 191.2L335 199L326 204.7L317 209.5L298 217.8L276.8 224.5L260 228.6L228 233.7Z')"><i style="background:linear-gradient(90deg,#ff8400 158px,#ff8f00 186px,#ffa700 215px)"></i><i style="background:linear-gradient(90deg,#ff8100 139px,#ff8200 162px,#ff8c00 186px,#ffa000 211px,#ffbc00 235px)"></i><i style="background:linear-gradient(90deg,#ff8200 126px,#ff7e00 155px,#ff8900 185px,#ffa300 216px,#fc0 248px)"></i><i style="background:linear-gradient(90deg,#ff8400 115px,#ff7b00 151px,#ff8500 184px,#ffa400 219px,#ffdc00 259px)"></i><i style="background:linear-gradient(90deg,#ff8700 106px,#ff7c00 126px,#ff7800 144px,#ff7900 163px,#ff8200 183px,#ffa300 220px,#ffc500 245px,#ffea00 268px)"></i><i style="background:linear-gradient(90deg,#ff8a00 99px,#ff7b00 121px,#ff7500 142px,#ff7600 162px,#ff7f00 183px,#ff9200 206px,#ffac00 229px,#fff600 275px)"></i><i style="background:linear-gradient(90deg,#ff8f00 92px,#ff7c00 115px,#ff7300 138px,#ff7200 159px,#ff7b00 181px,#ff8e00 205px,#ffa900 228px,#ffd000 254px,#fffe00 280px,#fbff00 282px)"></i><i style="background:linear-gradient(90deg,#ff9300 86px,#ff7d00 109px,#ff7100 132px,#ff6e00 155px,#ff7600 177px,#f80 202px,#ffa600 227px,#ffcd00 253px,#fffd00 280px,#eaff00 288px)"></i><i style="background:linear-gradient(90deg,#f90 79px,#ff8000 103px,#ff7000 127px,#ff6b00 150px,#ff7000 173px,#ff8000 196px,#ff9a00 220px,#ffc800 251px,#ff0 281px,#d8ff00 294px)"></i><i style="background:linear-gradient(90deg,#ff9e00 74px,#ff8100 99px,#ff6e00 124px,#ff6800 147px,#ff6c00 171px,#ff7b00 194px,#ff9700 219px,#ffc500 250px,#fffe00 281px,#c8ff00 299px)"></i><i style="background:linear-gradient(90deg,#ffa200 70px,#ff8100 96px,#ff6d00 121px,#ff6500 145px,#ff6800 169px,#f70 192px,#ff9300 218px,#ffc200 249px,#fffe00 281px,#b7ff00 304px)"></i><i style="background:linear-gradient(90deg,#ffa800 65px,#ff8300 92px,#ff6c00 118px,#ff6200 143px,#ff6400 167px,#ff7300 191px,#ff8f00 217px,#ffbf00 248px,#fffe00 281px,#a6ff00 309px)"></i><i style="background:linear-gradient(90deg,#ffaf00 60px,#ff8700 87px,#ff6c00 114px,#ff5f00 139px,#ff6000 164px,#ff6e00 189px,#ff8c00 216px,#ffbe00 248px,#fffd00 281px,#dfff00 292px,#98ff00 313px)"></i><i style="background:linear-gradient(90deg,#ffb300 57px,#ff8900 84px,#ff6b00 112px,#ff5c00 139px,#ff5c00 164px,#ff6b00 189px,#f80 215px,#ffb900 246px,#feff00 282px,#89ff00 317px)"></i><i style="background:linear-gradient(90deg,#ffb900 53px,#ff8b00 81px,#ff6a00 110px,#ff5900 136px,#ff5800 162px,#f60 187px,#ff8400 214px,#ffb300 243px,#feff00 282px,#b6ff00 304px,#79ff00 321px)"></i><i style="background:linear-gradient(90deg,#ffc000 49px,#ff8e00 78px,#ff6900 108px,#ff5600 135px,#ff5400 161px,#ff6200 186px,#ff8200 214px,#ffb700 246px,#fffe00 281px,#bcff00 302px,#68ff00 325px)"></i><i style="background:linear-gradient(90deg,#ffc600 46px,#ff9000 75px,#ff6800 106px,#ff5300 134px,#ff5000 160px,#ff5e00 186px,#ff7e00 213px,#ffb400 245px,#fffe00 281px,#b4ff00 304px,#5bff00 328px)"></i><i style="background:linear-gradient(90deg,#fc0 43px,#ff9200 73px,#ff6800 104px,#ff5000 133px,#ff4c00 159px,#ff5a00 185px,#ff7a00 212px,#fa0 240px,#fffe00 281px,#a8ff00 307px,#4eff00 331px)"></i><i style="background:linear-gradient(90deg,#ffd200 40px,#ff9400 71px,#f60 103px,#ff4d00 132px,#ff4800 159px,#f50 184px,#ff7600 211px,#ffa700 239px,#ff0 281px,#91ff00 313px,#3fff00 334px)"></i><i style="background:linear-gradient(90deg,#ffd900 37px,#ff9800 68px,#f60 101px,#ff4b00 130px,#f40 158px,#ff5100 183px,#ff7200 210px,#ffa400 238px,#fffd00 280px,#93ff00 312px,#31ff00 337px)"></i><i style="background:linear-gradient(90deg,#fd0 35px,#ff9c00 65px,#ff6500 100px,#ff4700 130px,#ff4000 158px,#ff4d00 183px,#ff6f00 210px,#ffa300 238px,#fffe00 280px,#82ff00 316px,#2f0 340px)"></i><i style="background:linear-gradient(90deg,#ffe500 32px,#ff9f00 63px,#ff6400 99px,#f40 130px,#ff3b00 157px,#ff4800 182px,#ff6900 208px,#ff9e00 236px,#feff00 280px,#75ff00 319px,#17ff00 342px)"></i><i style="background:linear-gradient(90deg,#ffea00 30px,#ffc400 45px,#ffa200 61px,#ff6300 98px,#ff4000 130px,#ff3700 157px,#f40 182px,#ff6700 208px,#ff9b00 235px,#fffe00 279px,#6fff00 320px,#0cff00 344px)"></i><i style="background:linear-gradient(90deg,#fff000 28px,#ffc900 43px,#ffa500 59px,#ff6200 97px,#ff3e00 128px,#ff3500 142px,#ff3200 156px,#ff3e00 180px,#ff6000 206px,#ff9800 234px,#fffd00 278px,#73ff00 318px,#39ff00 333px,#05ff00 345px,#00ff05 347px)"></i><i style="background:linear-gradient(90deg,#fff600 26px,#ffd000 40px,#ffa900 57px,#ff6200 96px,#ff3a00 128px,#ff3100 142px,#ff2e00 156px,#ff3a00 180px,#ff5c00 205px,#ff9500 233px,#ff0 278px,#5eff00 323px,#02ff00 345px,#0f1 349px)"></i><i style="background:linear-gradient(90deg,#fffd00 24px,#ffd500 38px,#ffad00 55px,#ff6100 95px,#ff3700 127px,#ff2c00 142px,#ff2900 155px,#ff3400 179px,#ff5700 204px,#ff9100 232px,#fffe00 277px,#5eff00 322px,#04ff00 344px,#00ff01 345px,#00ff1d 351px)"></i><i style="background:linear-gradient(90deg,#f8ff00 22px,#fffe00 24px,#ffd300 39px,#ffa900 57px,#ff5b00 98px,#ff3100 130px,#ff2700 143px,#ff2400 156px,#ff2f00 179px,#ff5200 203px,#ff8000 225px,#fffe00 276px,#57ff00 323px,#02ff00 344px,#00ff29 353px)"></i><i style="background:linear-gradient(90deg,#ef0 20px,#fffe00 24px,#ffd600 38px,#ffab00 56px,#ff7b00 79px,#ff5400 101px,#ff2d00 130px,#ff2300 143px,#ff1f00 156px,#ff2b00 179px,#ff4d00 202px,#ff7c00 224px,#fffd00 275px,#57ff00 322px,#03ff00 343px,#00ff01 344px,#00ff36 355px)"></i><i style="background:linear-gradient(90deg,#e3ff00 18px,#ff0 24px,#ffd600 38px,#ffa900 57px,#ff7500 82px,#ff4b00 105px,#ff2500 133px,#ff1a00 157px,#ff2500 179px,#ff4700 201px,#ff7900 223px,#fffd00 274px,#4fff00 323px,#00ff01 343px,#00ff43 357px)"></i><i style="background:linear-gradient(90deg,#d7ff00 16px,#feff00 24px,#fffc00 25px,#ffd700 38px,#ffab00 56px,#ff4c00 103px,#ff2100 133px,#ff1700 146px,#ff1400 158px,#ff2000 179px,#f40 201px,#ff7200 221px,#fffd00 273px,#43ff00 325px,#01ff00 342px,#00ff4b 358px)"></i><i style="background:linear-gradient(90deg,#d0ff00 15px,#fffd00 25px,#ffd500 39px,#ffac00 56px,#ff4600 105px,#ff1c00 134px,#ff1200 146px,#ff0e00 158px,#ff1900 178px,#ff3c00 199px,#ff6e00 220px,#fffe00 272px,#01ff00 341px,#00ff27 350px,#00ff59 360px)"></i><i style="background:linear-gradient(90deg,#c4ff00 13px,#fffe00 25px,#ffd600 39px,#fa0 57px,#ff4200 106px,#ff1600 135px,#ff0c00 147px,#ff0800 158px,#ff1400 178px,#ff3600 198px,#ff6a00 219px,#fffe00 271px,#01ff00 340px,#00ff2a 350px,#00ff61 361px)"></i><i style="background:linear-gradient(90deg,#bdff00 12px,#ff0 25px,#fffc00 26px,#ffd200 41px,#ffa100 61px,#ff3900 110px,#ff0f00 137px,#ff0500 148px,#ff0200 159px,#ff0d00 178px,#ff3100 198px,#ff6300 217px,#feff00 270px,#aeff00 291px,#01ff00 339px,#00ff32 351px,#00ff6e 363px)"></i><i style="background:linear-gradient(90deg,#b6ff00 11px,#fffd00 26px,#ffd600 40px,#ffa700 59px,#ff4000 105px,#ff1200 131px,#ff0300 143px,#ff0003 150px,#ff0007 161px,#ff0200 173px,#ff0d00 182px,#ff1f00 192px,#ff4a00 209px,#fffd00 268px,#a0ff00 293px,#00ff01 338px,#00ff36 351px,#00ff76 364px)"></i><i style="background:linear-gradient(90deg,#afff00 10px,#ff0 26px,#ffc500 47px,#ff4c00 99px,#ff1900 124px,#ff0002 142px,#ff000e 152px,#f01 161px,#ff0002 177px,#ff0f00 187px,#ff4200 207px,#ffc600 248px,#fefe00 267px,#9dff00 292px,#02ff00 336px,#00ff36 350px,#00ff7e 365px)"></i><i style="background:linear-gradient(90deg,#a8ff00 9px,#f4ff00 24px,#fffd00 27px,#ffc700 47px,#ff4800 100px,#ff1500 124px,#ff0003 138px,#ff0016 150px,#ff001c 161px,#ff0016 171px,#ff0004 181px,#ff0400 185px,#ff3900 205px,#ffc000 245px,#fffd00 265px,#8bff00 295px,#01ff01 335px,#00ff3a 350px,#00ff86 366px)"></i><i style="background:linear-gradient(90deg,#a2ff00 8px,#b2ff00 12px,#ff0 27px,#ffcb00 46px,#ff4c00 98px,#ff1800 121px,#ff0002 134px,#ff001f 149px,#ff0028 162px,#ff001e 174px,#ff0200 187px,#ff3500 205px,#ffb900 242px,#fffc00 263px,#80ff00 296px,#02ff00 333px,#00ff3a 349px,#00ff7d 363px,#00ff8d 367px)"></i><i style="background:linear-gradient(90deg,#9cff00 7px,#afff00 12px,#dfff00 21px,#fffe00 28px,#ffcd00 46px,#ff3a00 105px,#ff0100 130px,#ff0004 132px,#ff002a 149px,#ff0035 163px,#ff0028 176px,#ff0200 190px,#ff3200 205px,#ffc100 243px,#fefe00 262px,#b8ff00 279px,#7cff00 295px,#00ff01 332px,#00ff3f 349px,#00ff81 363px,#00ff93 368px)"></i><i style="background:linear-gradient(90deg,#9f0 7px,#a7ff00 11px,#e1ff00 22px,#fffd00 29px,#ff2a00 111px,#ff0002 129px,#ff0020 139px,#ff0035 148px,#ff0040 155px,#ff0045 163px,#ff0041 170px,#ff0035 177px,#ff0021 184px,#ff0102 192px,#ff2b00 204px,#ffb800 239px,#fefe00 260px,#b7ff00 277px,#7bff00 293px,#00ff01 330px,#00ff40 348px,#00ff85 363px,#00ff96 368px)"></i><i style="background:linear-gradient(90deg,#94ff00 6px,#a4ff00 11px,#e3ff00 23px,#feff00 29px,#fffd00 30px,#ff0002 127px,#ff002a 139px,#ff0043 148px,#ff0051 156px,#f05 164px,#ff004f 172px,#ff0040 179px,#ff0027 186px,#ff0002 194px,#ff2700 204px,#ffaf00 235px,#fffd00 257px,#a9ff00 278px,#72ff00 293px,#00ff01 328px,#00ff41 347px,#00ff8c 364px,#00ff9b 369px)"></i><i style="background:linear-gradient(90deg,#91ff00 5px,#a1ff00 11px,#daff00 22px,#feff00 30px,#f70 82px,#ff0300 124px,#ff0004 126px,#ff0035 139px,#ff0051 148px,#ff0061 156px,#ff0068 164px,#ff0061 172px,#ff004e 180px,#ff0031 187px,#ff0101 196px,#ffae00 233px,#ffd600 243px,#fffc00 254px,#faff00 256px,#c6ff00 268px,#8dff00 283px,#51ff00 300px,#02ff00 325px,#00ff3c 344px,#00ff62 354px,#00ff90 364px,#00ff9f 370px)"></i><i style="background:linear-gradient(90deg,#8fff00 5px,#9eff00 11px,#d7ff00 22px,#feff00 31px,#ff7300 84px,#ff0002 124px,#ff003d 138px,#ff0060 148px,#ff0075 157px,#ff007b 165px,#ff0073 173px,#ff0060 180px,#ff003b 188px,#ff0003 197px,#ffa800 230px,#ffd400 240px,#fffc00 251px,#93ff00 278px,#45ff00 301px,#01ff01 323px,#00ff4c 347px,#00ff93 364px,#00ffa1 370px)"></i><i style="background:linear-gradient(90deg,#8dff00 4px,#9cff00 11px,#d7ff00 23px,#feff00 32px,#ff6d00 87px,#ff0002 123px,#ff0048 138px,#ff006f 148px,#f08 157px,#ff0091 165px,#ff0089 173px,#ff0070 181px,#f04 189px,#ff0004 198px,#ff0300 199px,#ffa700 228px,#ffda00 239px,#fefd00 248px,#c3ff00 261px,#93ff00 274px,#02ff00 320px,#00ff4b 345px,#00ff97 364px,#00ffa3 371px)"></i><i style="background:linear-gradient(90deg,#8cff00 4px,#90ff00 8px,#9dff00 12px,#d3ff00 23px,#feff00 33px,#ff6d00 88px,#ff4000 103px,#ff0300 121px,#ff0006 123px,#ff0057 139px,#ff007f 148px,#ff009a 156px,#ff00a8 164px,#ff00a3 172px,#ff008a 180px,#ff0062 187px,#ff0003 199px,#ff0400 200px,#ff7200 217px,#ffa700 226px,#ffe300 238px,#fffc00 244px,#f9ff00 246px,#bdff00 258px,#8fff00 270px,#03ff00 317px,#00ff4e 344px,#00ff9a 364px,#00ffa4 371px)"></i><i style="background:linear-gradient(90deg,#8bff00 4px,#91ff00 9px,#9aff00 12px,#dcff00 26px,#fffd00 35px,#ff6500 92px,#ff3c00 105px,#ff0200 121px,#ff0003 122px,#ff0067 140px,#ff0094 149px,#ff00b6 158px,#ff00c2 165px,#f0b 173px,#ff00af 177px,#ff009c 181px,#ff0064 189px,#ff0100 200px,#f60 214px,#ffa700 224px,#ffe300 235px,#fffa00 240px,#faff00 242px,#b9ff00 254px,#82ff00 268px,#6f0 277px,#03ff00 314px,#00ff51 343px,#00ff9a 363px,#00ffa1 366px,#00ffa5 371px)"></i><i style="background:linear-gradient(90deg,#8aff00 3px,#8dff00 8px,#97ff00 12px,#dcff00 27px,#fffe00 36px,#ff6e00 90px,#ff3e00 105px,#ff0100 121px,#ff0005 122px,#ff007f 142px,#ff00b0 151px,#ff00d1 159px,#ff00de 166px,#f0d 170px,#ff00d5 174px,#ff00b6 181px,#f08 187px,#ff0058 192px,#ff0001 200px,#ff0700 201px,#ff6800 213px,#ffa800 222px,#ffe400 232px,#fff800 236px,#fafe00 238px,#af0 252px,#73ff00 266px,#4fff00 278px,#02ff00 311px,#00ff54 342px,#00ff9d 363px,#00ffa4 367px,#00ffa6 372px)"></i><i style="background:linear-gradient(90deg,#8aff00 3px,#8dff00 9px,#97ff00 13px,#d7ff00 27px,#fffe00 37px,#ff7300 90px,#ff4100 105px,#ff0100 121px,#ff0004 122px,#ff009e 145px,#ff00c9 152px,#ff00eb 159px,#ff02f9 165px,#ff00f6 174px,#ff00ea 177px,#ff00d2 181px,#ff009e 187px,#ff0065 192px,#ff0001 200px,#ff0800 201px,#ff6300 211px,#ffa400 219px,#ffe000 228px,#fff700 232px,#fafe00 234px,#c5ff00 242px,#9eff00 249px,#82ff00 255px,#65ff00 263px,#38ff00 279px,#04ff00 306px,#00ff0c 313px,#00ff4c 337px,#00ffa0 363px,#00ffa7 372px)"></i><i style="background:linear-gradient(90deg,#8aff00 3px,#8cff00 9px,#94ff00 13px,#e2ff00 31px,#fffd00 39px,#ff7900 90px,#ff4600 105px,#ff0003 122px,#ff00d7 151px,#ff00f7 156px,#ff07ff 159px,#ff18ff 165px,#ff1cff 170px,#ff16ff 174px,#ff07ff 178px,#ff00f2 181px,#ff00d7 184px,#ff00a8 188px,#ff0200 200px,#ff5f00 209px,#ffa700 217px,#fff600 228px,#f3ff00 231px,#cf0 236px,#a6ff00 242px,#69ff00 254px,#39ff00 269px,#17ff00 285px,#04ff00 298px,#00ff0e 309px,#00ff56 338px,#00ffa1 362px,#00ffa7 366px,#00ffa7 372px)"></i><i style="background:linear-gradient(90deg,#89ff00 2px,#8bff00 9px,#95ff00 14px,#fffe00 40px,#ff7f00 90px,#ff4700 106px,#ff0500 121px,#ff0100 122px,#ff0007 123px,#ff0054 133px,#ff00f3 152px,#ff01fa 153px,#ff09ff 155px,#ff30ff 163px,#ff3aff 167px,#ff3dff 170px,#ff3aff 173px,#ff30ff 176px,#ff21ff 179px,#ff05fc 183px,#ff00f6 184px,#ff00cd 187px,#ff007e 192px,#ff0006 199px,#ff0800 200px,#f60 208px,#ffad00 215px,#fff500 224px,#f0ff00 227px,#c4ff00 232px,#a1ff00 237px,#7f0 244px,#56ff00 251px,#28ff00 265px,#07ff00 281px,#00ff06 290px,#00ff23 314px,#00ff5c 338px,#00ffa2 361px,#00ffa7 365px,#00ffa7 372px)"></i><i class=a style="background:linear-gradient(90deg,#89ff00 2px,#8cff00 10px,#95ff00 15px,#ff0 41px,#ffa800 77px,#ff8400 90px,#ff4c00 106px,#ff0003 123px,#ff0054 133px,#ff00f9 151px,#ff03ff 152px,#ff2bff 158px,#ff46ff 163px,#ff54ff 167px,#ff58ff 171px,#ff53ff 174px,#ff41ff 178px,#f2f 182px,#ff01ff 185px,#ff00bd 189px,#ff0200 199px,#ff5f00 206px,#ffa400 212px,#ffe600 219px,#fffd00 222px,#f7ff00 223px,#c5ff00 228px,#9dff00 233px,#76ff00 239px,#56ff00 245px,#27ff00 257px,#0f0 274px,#00ff12 287px,#00ff31 317px,#00ff62 338px,#00ffa2 360px,#00ffa8 365px,#00ffa7 373px)"></i><i class=a style="background:linear-gradient(90deg,#89ff00 2px,#8bff00 10px,#94ff00 15px,#fffe00 42px,#ffac00 77px,#ff8500 91px,#ff4700 108px,#f00 123px,#ff005d 134px,#ff03ff 151px,#ff37ff 158px,#ff56ff 163px,#f6f 167px,#ff6cff 171px,#ff64ff 175px,#ff4eff 179px,#ff28ff 183px,#ff01ff 186px,#ff00c6 189px,#ff0009 198px,#ff0900 199px,#ff5f00 205px,#ff9d00 210px,#ffd200 215px,#fffe00 220px,#caff00 225px,#a4ff00 229px,#85ff00 233px,#61ff00 239px,#29ff00 251px,#01ff00 266px,#00ff1b 285px,#00ff38 318px,#00ff60 336px,#00ffa4 360px,#00ffa8 364px,#00ffa8 373px)"></i><i class=a style="background:linear-gradient(90deg,#89ff00 2px,#8bff00 10px,#92ff00 15px,#fffe00 43px,#ffb200 76px,#ff8900 91px,#ff4b00 108px,#ff0300 123px,#ff0004 124px,#ff006f 136px,#ff01ff 150px,#ff3cff 157px,#ff60ff 162px,#ff79ff 167px,#ff82ff 171px,#ff7bff 175px,#ff63ff 179px,#ff39ff 183px,#ff0dff 186px,#ff00fa 187px,#ff0200 198px,#ff5100 203px,#ff9600 208px,#ffd000 213px,#fdff00 218px,#cdff00 222px,#a5ff00 226px,#82ff00 230px,#6f0 234px,#29ff00 246px,#0f0 259px,#00ff13 269px,#00ff24 282px,#00ff40 319px,#00ff61 335px,#00ffa6 360px,#00ffa8 373px)"></i><i class=a style="background:linear-gradient(90deg,#89ff00 2px,#8bff00 11px,#94ff00 16px,#efff00 39px,#fffd00 44px,#ffb900 75px,#ff8d00 91px,#ff5400 107px,#ff3000 115px,#f00 124px,#ff0008 125px,#ff0064 135px,#ff00ac 142px,#ff00fc 149px,#ff07ff 150px,#ff50ff 158px,#ff7dff 164px,#ff92ff 168px,#f9f 172px,#ff8fff 176px,#ff70ff 180px,#ff4bff 183px,#ff07ff 187px,#ff00ef 188px,#ff0007 197px,#ff0d00 198px,#ff6100 203px,#fa0 208px,#ffe500 213px,#fff900 215px,#f9ff00 216px,#c6ff00 220px,#a5ff00 223px,#7fff00 227px,#5fff00 231px,#28ff00 241px,#0f0 252px,#00ff19 263px,#00ff2b 277px,#00ff48 321px,#00ff64 335px,#00ffa5 359px,#00ffa9 363px,#00ffa8 373px)"></i><i class=a style="background:linear-gradient(90deg,#89ff00 2px,#8cff00 12px,#95ff00 17px,#f0ff00 40px,#fffd00 45px,#ffbd00 75px,#ff8e00 92px,#ff5000 109px,#ff0400 124px,#ff0003 125px,#ff006c 136px,#ff02ff 149px,#ff5cff 158px,#ff90ff 164px,#ffa8ff 168px,#ffb2ff 172px,#ffa9ff 176px,#f8f 180px,#ff5eff 183px,#f1f 187px,#ff00f8 188px,#ff0012 196px,#ff0700 197px,#ff6400 202px,#ffa300 206px,#ffd900 210px,#fffc00 213px,#f4ff00 214px,#a5ff00 220px,#7bff00 224px,#58ff00 228px,#2cff00 235px,#01ff00 245px,#00ff1f 257px,#00ff32 270px,#00ff3f 286px,#00ff49 315px,#00ff50 323px,#00ff6a 336px,#00ffa5 358px,#0fa 363px,#00ffa8 373px)"></i><i class=a style="background:linear-gradient(90deg,#89ff00 2px,#8bff00 12px,#93ff00 17px,#ff0 45px,#ffd000 68px,#ffa800 85px,#ff7c00 99px,#ff4c00 111px,#ff0200 125px,#ff0006 126px,#ff0069 136px,#ff00ad 142px,#ff00f9 148px,#ff06ff 149px,#ff72ff 159px,#ffa2ff 164px,#ffc5ff 169px,#ffcfff 173px,#ffcbff 175px,#ffc0ff 177px,#ffa2ff 180px,#ff84ff 182px,#ff5eff 184px,#f3f 186px,#f0f 188px,#ff003b 194px,#ff0200 196px,#f50 200px,#ff9e00 204px,#ffda00 208px,#fdff00 211px,#cdff00 214px,#a4ff00 217px,#80ff00 220px,#59ff00 224px,#24ff00 231px,#00ff02 239px,#00ff23 250px,#00ff3a 263px,#00ff49 283px,#00ff56 323px,#00ff6b 335px,#00ffa6 358px,#0fa 363px,#00ffa8 373px)"></i><i class=a style="background:linear-gradient(90deg,#89ff00 2px,#8bff00 12px,#94ff00 18px,#feff00 46px,#ffd500 68px,#ffad00 85px,#ff8100 99px,#ff4700 113px,#f00 126px,#ff0009 127px,#ff0064 136px,#ff00ab 142px,#ff00fb 148px,#ff08ff 149px,#ffb5ff 164px,#ffd8ff 168px,#ffecff 172px,#ffe6ff 176px,#ffd7ff 178px,#ffbeff 180px,#ff9cff 182px,#ff71ff 184px,#ff3eff 186px,#ff04ff 188px,#ff00de 189px,#ff0001 195px,#ff1700 196px,#ff7100 200px,#ffab00 203px,#fff900 208px,#f4ff00 209px,#cfff00 211px,#a1ff00 214px,#59ff00 220px,#24ff00 226px,#00ff01 232px,#00ff1a 238px,#00ff2e 245px,#00ff48 260px,#00ff56 282px,#00ff5d 324px,#00ff6f 335px,#00ffa6 357px,#00ffab 362px,#00ffa8 373px)"></i><i class=a style="background:linear-gradient(90deg,#89ff00 2px,#8bff00 12px,#93ff00 18px,#fdff00 47px,#ffd700 69px,#ffac00 87px,#ff7b00 102px,#ff4300 115px,#ff0002 127px,#ff005f 136px,#ff00a8 142px,#ff00fc 148px,#ff0aff 149px,#ffc9ff 164px,#ffe9ff 167px,#ffecff 168px,#ffecff 179px,#ffcaff 181px,#ff9eff 183px,#ff48ff 186px,#ff06ff 188px,#ff00db 189px,#ff0008 194px,#ff1600 195px,#ff6400 198px,#ffa800 201px,#ffe000 204px,#feff00 206px,#aeff00 210px,#71ff00 214px,#2eff00 220px,#14ff00 223px,#00ff02 226px,#00ff21 232px,#00ff36 238px,#00ff47 245px,#0f5 254px,#00ff62 278px,#00ff64 325px,#00ff72 335px,#00ffa8 357px,#00ffab 362px,#00ffa8 373px)"></i><i class=a style="background:linear-gradient(90deg,#89ff00 2px,#8bff00 13px,#94ff00 19px,#e2ff00 40px,#feff00 49px,#ffda00 70px,#ffb100 87px,#ff8100 102px,#ff4900 115px,#ff0003 128px,#ff0064 137px,#ff00a4 142px,#ff00fc 148px,#ff0aff 149px,#ffdcff 164px,#ffe9ff 165px,#ffecff 166px,#ffecff 180px,#ffe8ff 181px,#ffb5ff 183px,#ff96ff 184px,#ff51ff 186px,#ff04ff 188px,#ff00d2 189px,#ff000f 193px,#ff1600 194px,#ff7000 197px,#ffbc00 200px,#fff900 203px,#ef0 204px,#96ff00 208px,#63ff00 211px,#30ff00 215px,#0f0 220px,#00ff29 226px,#00ff43 232px,#00ff56 239px,#00ff64 248px,#00ff6f 270px,#00ff6a 326px,#00ff76 335px,#00ffa9 357px,#00ffa9 373px)"></i><i class=a style="background:linear-gradient(90deg,#89ff00 2px,#8bff00 13px,#92ff00 19px,#deff00 40px,#feff00 51px,#ffde00 70px,#ffb400 88px,#ff8400 103px,#ff4b00 116px,#ff0400 128px,#ff0004 129px,#ff0069 138px,#ff00ac 143px,#ff00f9 148px,#ff09ff 149px,#ff5fff 155px,#ffecff 164px,#ffecff 181px,#ffecff 182px,#fcf 183px,#ff81ff 185px,#ff00fd 188px,#ff0019 192px,#ff1500 193px,#ff8000 196px,#ffbe00 198px,#fff100 200px,#f2ff00 201px,#a0ff00 204px,#61ff00 207px,#21ff00 211px,#00ff01 214px,#00ff32 220px,#00ff53 226px,#00ff69 233px,#00ff78 242px,#00ff7f 253px,#00ff80 267px,#00ff70 326px,#00ff7c 336px,#00ffa9 356px,#00ffa9 373px)"></i><i class=a style="background:linear-gradient(90deg,#8f0 2px,#8bff00 14px,#93ff00 20px,#deff00 41px,#ff0 54px,#ffe100 71px,#ffb700 89px,#ff8300 105px,#ff4d00 117px,#ff0400 129px,#ff0004 130px,#ff003b 135px,#ff006d 139px,#ff00a5 143px,#ff00f5 148px,#ff06ff 149px,#ff62ff 155px,#ffecff 163px,#ffecff 182px,#ffe3ff 183px,#ff8dff 185px,#ff2bff 187px,#ff00f4 188px,#ff002f 191px,#ff0c00 192px,#ff8d00 195px,#ffd700 197px,#fff800 198px,#deff00 199px,#96ff00 201px,#60ff00 203px,#34ff00 205px,#0f0 208px,#00ff25 211px,#00ff38 213px,#0f6 220px,#00ff7e 226px,#00ff90 236px,#00ff95 246px,#00ff94 259px,#0f7 327px,#00ff80 336px,#00ffab 356px,#00ffa9 373px)"></i><i class=a style="background:linear-gradient(90deg,#8f0 2px,#8bff00 15px,#92ff00 20px,#daff00 41px,#fdff00 56px,#ffe600 71px,#ffbd00 89px,#ff8a00 105px,#ff4f00 118px,#ff0003 131px,#ff003d 136px,#ff0071 140px,#ff00ac 144px,#ff01ff 149px,#ff62ff 155px,#ffe7ff 162px,#ffecff 163px,#ffecff 183px,#ffcaff 184px,#ff61ff 186px,#ff27ff 187px,#ff00e7 188px,#ff0006 191px,#ff3000 192px,#ff9400 194px,#fff000 196px,#d8ff00 197px,#a1ff00 198px,#73ff00 199px,#4cff00 200px,#2aff00 201px,#0eff00 202px,#00ff09 203px,#00ff2e 205px,#00ff4b 207px,#00ff61 209px,#00ff79 212px,#00ff8e 216px,#00ff9e 220px,#00ffad 227px,#00ffb2 236px,#00ffaf 246px,#00ff8b 300px,#00ff7e 327px,#00ff85 337px,#00ffab 355px,#00ffa9 373px)"></i><i class=a style="background:linear-gradient(90deg,#8f0 1px,#8bff00 14px,#91ff00 20px,#9eff00 25px,#d2ff00 40px,#feff00 59px,#ffea00 72px,#ffc100 90px,#ff8d00 106px,#ff4d00 120px,#ff0001 132px,#ff0030 136px,#ff0065 140px,#ff00b1 145px,#ff00f8 149px,#ff09ff 150px,#ff5fff 155px,#ffecff 162px,#ffecff 183px,#ffdbff 184px,#ff63ff 186px,#f2f 187px,#ff00d7 188px,#ff002e 190px,#ff1c00 191px,#fc0 194px,#f7ff00 195px,#af0 196px,#64ff00 197px,#26ff00 198px,#00ff0d 199px,#00ff35 200px,#00ff57 201px,#00ff70 202px,#00ff92 204px,#00ffa9 206px,#00ffb8 208px,#00ffc7 211px,#00ffd9 221px,#00ffdb 226px,#00ffd5 235px,#00ffa3 283px,#00ff85 326px,#00ff89 337px,#00ffac 355px,#00ffa9 373px)"></i><i class=a style="background:linear-gradient(90deg,#8f0 1px,#90ff00 20px,#9bff00 25px,#ceff00 40px,#fdff00 62px,#ffeb00 74px,#ffc200 92px,#ff8d00 108px,#ff5600 120px,#ff2c00 127px,#ff0100 133px,#ff000a 134px,#ff003c 138px,#ff0074 142px,#ff00b5 146px,#ff01ff 150px,#ff5aff 155px,#ff98ff 158px,#ffdcff 161px,#ffecff 162px,#ffebff 184px,#ff65ff 186px,#ff1cff 187px,#ff00c6 188px,#ff0008 190px,#ff3e00 191px,#ffc700 193px,#efff00 194px,#8eff00 195px,#35ff00 196px,#00ff1a 197px,#00ff60 198px,#00ff97 199px,#00ffc1 200px,#00ffe3 201px,#00fff9 202px,#00f9ff 203px,#00ecff 206px,#00e9ff 210px,#0ff 232px,#00ffd7 254px,#00ffba 275px,#00ffa0 300px,#00ff8c 326px,#00ff8e 337px,#00ffad 355px,#00ffa9 374px)"></i><i class=a style="background:linear-gradient(90deg,#8f0 1px,#90ff00 21px,#c9ff00 40px,#fdff00 65px,#ffef00 75px,#ffc600 93px,#ff9100 109px,#f50 122px,#ff3000 128px,#ff0400 134px,#ff0007 135px,#ff0065 142px,#ff00a6 146px,#ff00f2 150px,#ff07ff 151px,#ff52ff 155px,#ff92ff 158px,#ffdbff 161px,#ffecff 162px,#ffecff 184px,#ffb2ff 185px,#ff15ff 187px,#ff00b4 188px,#ff004c 189px,#ff1600 190px,#ff0 193px,#1cff00 195px,#00ff4a 196px,#00ffa3 197px,#00fff3 198px,#00e0ff 199px,#00c3ff 200px,#00adff 201px,#00a1ff 202px,#0098ff 204px,#009eff 207px,#00c0ff 217px,#00dcff 228px,#0ff 246px,#00ffda 264px,#00ffbf 282px,#00ffa8 302px,#00ff93 326px,#00ff93 338px,#00ffad 354px,#00ffa9 374px)"></i><i class=a style="background:linear-gradient(90deg,#8f0 1px,#91ff00 22px,#c1ff00 39px,#ff0 69px,#fff100 77px,#ffc500 96px,#ff8e00 112px,#ff4e00 125px,#ff2e00 130px,#ff0001 136px,#ff0035 140px,#ff0062 143px,#ff00a6 147px,#ff00f6 151px,#ff0aff 152px,#ff71ff 157px,#ffecff 162px,#ffecff 184px,#ffbaff 185px,#ff0eff 187px,#ff00a0 188px,#ff002d 189px,#ff3500 190px,#ffe300 192px,#a2ff00 193px,#1eff00 194px,#00ff63 195px,#00ffd8 196px,#00d7ff 197px,#009dff 198px,#0073ff 199px,#05f 200px,#0040ff 201px,#0036ff 202px,#0034ff 203px,#003cff 205px,#06f 210px,#0081ff 214px,#00acff 223px,#00c5ff 230px,#0df 239px,#0ff 256px,#00ffe2 269px,#00ffc7 285px,#00ffaf 304px,#00ff9a 327px,#00ff98 338px,#00ffae 354px,#00ffa9 374px)"></i><i class=a style="background:linear-gradient(90deg,#8f0 1px,#8bff00 16px,#92ff00 23px,#baff00 38px,#e1ff00 59px,#feff00 72px,#fff500 78px,#ffca00 97px,#ff9400 113px,#ff7400 120px,#ff5300 126px,#ff2c00 132px,#ff0400 137px,#ff0007 138px,#ff003e 142px,#ff006e 145px,#ff00b7 149px,#ff00f7 152px,#ff0dff 153px,#ff35ff 155px,#ff7aff 158px,#ffe7ff 162px,#ffecff 163px,#ffecff 184px,#ffc1ff 185px,#ff05ff 187px,#ff0089 188px,#ff000a 189px,#ff5700 190px,#ffb700 191px,#d5ff00 192px,#3cff00 193px,#00ff5b 194px,#00ffed 195px,#00b5ff 196px,#006cff 197px,#002dff 198px,#00f 199px,#0000eb 200px,#00d 201px,#0000d9 202px,#0000e0 204px,#0000fb 207px,#0008ff 208px,#0037ff 212px,#005aff 216px,#007cff 221px,#00a0ff 228px,#0bf 235px,#00d4ff 243px,#00feff 263px,#00ffde 279px,#00ffc8 293px,#00ffa0 329px,#00ff9d 339px,#00ffaf 354px,#00ffa9 374px)"></i><i class=a style="background:linear-gradient(90deg,#8f0 1px,#8cff00 17px,#92ff00 24px,#b4ff00 38px,#dbff00 60px,#ff0 76px,#fff900 79px,#ffcf00 98px,#ff9a00 114px,#ff7a00 121px,#ff5a00 127px,#ff3200 133px,#ff0100 139px,#ff000c 140px,#ff0068 146px,#ff00b4 150px,#ff00f7 153px,#ff0dff 154px,#ff67ff 158px,#ff9dff 160px,#ffd8ff 162px,#ffecff 163px,#ffecff 184px,#ffc7ff 185px,#ff63ff 186px,#ff00f6 187px,#ff006f 188px,#ff1400 189px,#ffe900 191px,#7f0 192px,#00ff37 193px,#00ffe1 194px,#00a8ff 195px,#0049ff 196px,#0000fa 197px,#0000cd 198px,#0000ad 199px,#00009a 200px,#00008e 201px,#00008d 202px,#00009b 204px,#0000db 209px,#0000fb 212px,#0007ff 213px,#0032ff 217px,#005cff 222px,#007cff 227px,#009bff 233px,#00baff 241px,#00d3ff 249px,#00feff 270px,#00ffcb 298px,#00ffa5 331px,#00ffa2 339px,#00ffaf 354px,#0fa 374px)"></i><i class=a style="background:linear-gradient(90deg,#8f0 1px,#91ff00 24px,#adff00 37px,#d5ff00 61px,#fffc00 81px,#ffcf00 101px,#ff9800 117px,#f70 124px,#f50 130px,#ff2b00 136px,#ff0001 141px,#ff003c 145px,#ff0070 148px,#ff00ab 151px,#ff00f1 154px,#ff09ff 155px,#ff68ff 159px,#ffa0ff 161px,#ffe1ff 163px,#ffecff 164px,#ffecff 184px,#fbf 185px,#ff4fff 186px,#ff00d0 187px,#ff003b 188px,#f40 189px,#ffb900 190px,#afff00 191px,#00ff10 192px,#00ffd3 193px,#00a1ff 194px,#002cff 195px,#0000da 196px,#0000a2 197px,#000075 198px,#000058 199px,#000048 200px,#000040 201px,#000042 202px,#000058 204px,#00009c 208px,#0000c6 211px,#0000e7 214px,#0004ff 217px,#0037ff 222px,#005eff 227px,#007dff 232px,#009fff 239px,#00b9ff 246px,#00d4ff 255px,#00feff 276px,#00ffcd 303px,#00ffab 332px,#00ffa7 340px,#00ffaf 354px,#0fa 374px)"></i><i class=a style="background:linear-gradient(90deg,#8f0 1px,#8cff00 18px,#93ff00 26px,#cfff00 62px,#fffe00 84px,#ffd300 103px,#ff9b00 119px,#ff7a00 126px,#ff5700 132px,#ff3400 137px,#ff0002 143px,#ff0040 147px,#f07 150px,#ff00a0 152px,#ff03ff 156px,#ff31ff 158px,#f6f 160px,#ffa2ff 162px,#ffe6ff 164px,#ffecff 165px,#ffecff 184px,#ff8eff 185px,#ff16ff 186px,#ff007c 187px,#ff1d00 188px,#ff9600 189px,#d8ff00 190px,#0cff00 191px,#00ffc5 192px,#009cff 193px,#001aff 194px,#0000be 195px,#00007b 196px,#000046 197px,#00001d 198px,#000004 199px,#000 200px,#000 202px,#000008 203px,#00007c 209px,#0000ab 212px,#0000e3 217px,#0000fd 220px,#0008ff 221px,#002fff 225px,#0056ff 230px,#007bff 236px,#009cff 243px,#00baff 251px,#00d1ff 259px,#00faff 279px,#00fffe 283px,#0fc 310px,#00ffb0 334px,#0fa 374px)"></i><i class=a style="background:linear-gradient(90deg,#87ff00 1px,#8dff00 20px,#94ff00 28px,#c7ff00 62px,#fffd00 88px,#ffd100 107px,#ff9b00 122px,#ff7800 129px,#ff5400 135px,#ff2e00 140px,#ff0001 145px,#ff0031 148px,#ff0068 151px,#ff00a9 154px,#ff00f6 157px,#ff0fff 158px,#ff43ff 160px,#ff7eff 162px,#ffc1ff 164px,#ffe8ff 165px,#ffecff 166px,#ffecff 183px,#ffb5ff 184px,#ff37ff 185px,#ff009f 186px,#ff0b00 187px,#ff8b00 188px,#e5ff00 189px,#0dff00 190px,#00ffcf 191px,#008dff 192px,#0000fd 193px,#0000a5 194px,#000054 195px,#000016 196px,#000 197px,#000 205px,#00000d 206px,#00003b 208px,#000063 210px,#0000a2 214px,#0000c6 217px,#0000e3 220px,#0000fc 223px,#0006ff 224px,#0034ff 229px,#0059ff 234px,#007cff 240px,#0098ff 246px,#00b5ff 254px,#00cdff 262px,#00f6ff 282px,#00fffe 288px,#00ffd5 310px,#00ffb5 335px,#0fa 374px)"></i><i class=a style="background:linear-gradient(90deg,#87ff00 1px,#90ff00 25px,#a7ff00 46px,#cdff00 70px,#fffe00 92px,#ffd300 110px,#ff9c00 125px,#ff5f00 136px,#ff3200 142px,#ff0300 147px,#ff000c 148px,#ff0040 151px,#ff007d 154px,#ff00c5 157px,#ff00fd 159px,#ff18ff 160px,#ff6fff 163px,#ff90ff 164px,#fdf 166px,#ffecff 167px,#ffeaff 182px,#ff68ff 183px,#ff00ce 184px,#ff0017 185px,#ff7300 186px,#fff800 187px,#3fff00 188px,#00ff8c 189px,#00c2ff 190px,#003bff 191px,#00c 192px,#000076 193px,#00002a 194px,#000 195px,#000 207px,#000053 211px,#000084 214px,#00009f 216px,#0000de 222px,#0000fe 226px,#0008ff 227px,#0034ff 232px,#0057ff 237px,#0079ff 243px,#09f 250px,#0cf 266px,#00f3ff 285px,#00fffe 293px,#00ffd7 314px,#00ffb8 338px,#0fa 374px)"></i><i class=a style="background:linear-gradient(90deg,#87ff00 1px,#91ff00 31px,#a1ff00 47px,#caff00 73px,#fffe00 96px,#ffd200 114px,#ff9d00 128px,#ff7e00 134px,#ff5800 140px,#ff3000 145px,#ff0800 149px,#ff0004 150px,#ff003a 153px,#ff0079 156px,#ff00a9 158px,#ff01ff 161px,#ff59ff 164px,#ffecff 168px,#ffecff 180px,#ffa2ff 181px,#ff1aff 182px,#ff0062 183px,#ff4900 184px,#ffd700 185px,#69ff00 186px,#00ff63 187px,#00e3ff 188px,#0063ff 189px,#00e 190px,#00004a 192px,#000001 193px,#000 194px,#000 208px,#000009 209px,#000034 211px,#000069 214px,#00009f 218px,#0000d3 223px,#0003ff 229px,#002eff 234px,#0051ff 239px,#0073ff 245px,#008fff 251px,#00c4ff 267px,#00edff 286px,#0ff 297px,#00ffd7 319px,#00ffb5 346px,#0fa 374px)"></i><i class=a style="background:linear-gradient(90deg,#87ff00 1px,#8eff00 34px,#9bff00 48px,#c6ff00 76px,#fffd00 101px,#ffd200 118px,#ff9b00 132px,#ff7b00 138px,#ff5900 143px,#ff2f00 148px,#ff0500 152px,#ff0009 153px,#ff002e 155px,#ff006f 158px,#ff00be 161px,#ff00fe 163px,#ff1bff 164px,#ff82ff 167px,#ffd5ff 169px,#ffecff 170px,#ffecff 178px,#ffc5ff 179px,#ff57ff 180px,#ff00b9 181px,#ff0800 182px,#ff9e00 183px,#acff00 184px,#00ff32 185px,#00faff 186px,#0001ff 188px,#0000b0 189px,#00001f 191px,#000 192px,#000003 210px,#00004f 214px,#000095 219px,#0000c9 224px,#0000fe 231px,#002aff 236px,#0053ff 242px,#008eff 254px,#00c0ff 269px,#00eaff 288px,#00fffe 302px,#00ffdf 319px,#00ffb5 348px,#0fa 374px)"></i><i class=a style="background:linear-gradient(90deg,#87ff00 1px,#8dff00 22px,#8aff00 36px,#95ff00 49px,#c3ff00 80px,#deff00 93px,#ff0 105px,#ffd400 122px,#ffb700 130px,#ff9b00 136px,#ff7900 142px,#ff5d00 146px,#f30 151px,#ff0700 155px,#ff0007 156px,#ff002e 158px,#ff0073 161px,#ff00ab 163px,#ff00ec 165px,#ff0fff 166px,#ff53ff 168px,#ffc0ff 171px,#ffdeff 172px,#ffecff 173px,#ffecff 175px,#ffe5ff 176px,#ffb9ff 177px,#ff6fff 178px,#f1f 179px,#ff0080 180px,#ff2600 181px,#ffae00 182px,#a2ff00 183px,#00ff31 184px,#00fffb 185px,#0085ff 186px,#0012ff 187px,#0000c0 188px,#000036 190px,#000 191px,#000 210px,#000003 211px,#00003b 214px,#00005b 216px,#00009b 221px,#0000db 228px,#0000fe 233px,#0007ff 234px,#002fff 239px,#05f 245px,#008eff 257px,#00c2ff 273px,#00e8ff 291px,#0ff 306px,#00ffb4 350px,#0fa 374px)"></i><i class=a style="background:linear-gradient(90deg,#87ff00 1px,#8dff00 22px,#84ff00 37px,#90ff00 51px,#a7ff00 69px,#bfff00 84px,#daff00 97px,#fffe00 111px,#ffd300 127px,#ffb900 134px,#ff9d00 140px,#ff7b00 146px,#f50 151px,#ff3100 155px,#ff0200 159px,#f01 160px,#ff003c 162px,#ff006e 164px,#ff00ab 166px,#ff00f2 168px,#ff14ff 169px,#ff4fff 171px,#f6f 172px,#f7f 173px,#ff7bff 174px,#ff6dff 175px,#ff4fff 176px,#ff1cff 177px,#ff00be 178px,#f04 179px,#ff3900 180px,#ffb400 181px,#b0ff00 182px,#00ff15 183px,#00ffd2 184px,#00a7ff 185px,#0037ff 186px,#0000de 187px,#000059 189px,#00001c 190px,#000 191px,#000 211px,#000006 212px,#00002b 214px,#000059 217px,#000096 222px,#0000ce 228px,#0000fe 235px,#002dff 241px,#004dff 246px,#0087ff 258px,#00b9ff 273px,#00e2ff 291px,#0ff 310px,#00ffcf 338px,#00ffb4 351px,#0fa 374px)"></i><i class=a style="background:linear-gradient(90deg,#87ff00 1px,#8cff00 22px,#7fff00 38px,#8aff00 52px,#a1ff00 72px,#bcff00 89px,#d7ff00 102px,#fffd00 117px,#ffd100 133px,#ff9e00 145px,#ff8000 150px,#ff5b00 155px,#ff3500 159px,#ff0400 163px,#ff000f 164px,#ff005b 167px,#ff00ce 171px,#ff00e2 172px,#f0e 173px,#ff00ea 174px,#ff00d1 175px,#ff00a6 176px,#ff0061 177px,#ff0300 178px,#ff5700 179px,#ffba00 180px,#beff00 181px,#12ff00 182px,#00ff9b 183px,#00d4ff 184px,#0009ff 186px,#0000c7 187px,#000016 190px,#000 191px,#000 212px,#00000b 213px,#000058 218px,#000093 223px,#0000d1 230px,#00f 237px,#0026ff 242px,#004cff 248px,#0085ff 260px,#00b6ff 275px,#00dfff 293px,#0ff 314px,#00ffd7 337px,#00ffb3 352px,#00ffab 374px)"></i><i class=a style="background:linear-gradient(90deg,#87ff00 1px,#8bff00 22px,#79ff00 39px,#86ff00 56px,#9dff00 76px,#b9ff00 94px,#daff00 110px,#ff0 123px,#ffd200 139px,#ffb700 146px,#ff9800 152px,#ff7800 157px,#ff5800 161px,#ff3900 164px,#ff0400 168px,#ff000f 169px,#ff0036 171px,#ff0041 172px,#ff0045 173px,#ff003c 174px,#ff001e 175px,#ff0a00 176px,#ff3900 177px,#ff7c00 178px,#ffc800 179px,#cbff00 180px,#37ff00 181px,#00ff60 182px,#00fff8 183px,#00a5ff 184px,#0048ff 185px,#0000f4 186px,#000083 188px,#000019 190px,#000 191px,#000003 213px,#00004e 218px,#000092 224px,#0000d5 232px,#0002ff 239px,#0027ff 244px,#004bff 250px,#0083ff 262px,#00b4ff 277px,#00dcff 295px,#00fffe 318px,#00ffdc 337px,#00ffb3 353px,#00ffab 374px)"></i><i class=a style="background:linear-gradient(90deg,#87ff00 1px,#8bff00 21px,#73ff00 40px,#7fff00 58px,#96ff00 79px,#b3ff00 99px,#d3ff00 115px,#fffe00 131px,#ffd900 145px,#ffb100 155px,#ff8b00 162px,#ff4a00 170px,#ff4100 172px,#ff4300 173px,#ff4d00 174px,#ff6300 175px,#ff8200 176px,#ffaf00 177px,#ffeb00 178px,#b5ff00 179px,#3fff00 180px,#00ff42 181px,#00ffc6 182px,#00ceff 183px,#0028ff 185px,#0000e4 186px,#00001e 190px,#000 191px,#000 213px,#00005e 220px,#00009c 226px,#0000da 234px,#0000fd 240px,#0005ff 241px,#0046ff 251px,#0082ff 264px,#00b2ff 279px,#00d8ff 296px,#0ff 321px,#00ffe3 336px,#00ffb4 353px,#00ffab 374px)"></i><i class=a style="background:linear-gradient(90deg,#86ff00 1px,#8aff00 21px,#73ff00 35px,#6eff00 41px,#79ff00 60px,#93ff00 86px,#b3ff00 108px,#d7ff00 126px,#fdff00 140px,#ffdc00 155px,#ffad00 169px,#fa0 171px,#ffb300 173px,#ffc000 174px,#ffd700 175px,#fff500 176px,#d1ff00 177px,#80ff00 178px,#26ff00 179px,#00ff41 180px,#00ffb0 181px,#00e8ff 182px,#000bff 185px,#0000d6 186px,#00004d 189px,#000023 190px,#000 191px,#000 213px,#000057 220px,#000094 226px,#0000d2 234px,#0001ff 242px,#0041ff 252px,#007dff 265px,#00abff 279px,#00d4ff 297px,#0ff 325px,#00ffe6 337px,#00ffbf 349px,#00ffb3 354px,#00ffab 374px)"></i><i class=a style="background:linear-gradient(90deg,#86ff00 1px,#89ff00 21px,#6dff00 36px,#68ff00 42px,#6fff00 58px,#85ff00 84px,#a1ff00 108px,#c3ff00 129px,#efff00 152px,#fdff00 162px,#ff0 167px,#fbff00 169px,#f1ff00 171px,#d7ff00 173px,#c1ff00 174px,#9fff00 175px,#74ff00 176px,#3cff00 177px,#00ff0b 178px,#00ff59 179px,#00ffb1 180px,#00f3ff 181px,#0031ff 184px,#0000f5 185px,#00004e 189px,#000003 191px,#000 192px,#000 213px,#00005d 221px,#00009e 228px,#0000d7 236px,#0000fe 243px,#0006ff 244px,#0048ff 255px,#007dff 267px,#0af 281px,#00d1ff 298px,#0ff 328px,#00ffea 337px,#00ffb4 354px,#00ffae 360px,#00ffab 374px)"></i><i class=a style="background:linear-gradient(90deg,#86ff00 2px,#89ff00 20px,#6f0 38px,#62ff00 49px,#80ff00 92px,#b3ff00 140px,#b8ff00 153px,#abff00 162px,#a0ff00 165px,#8eff00 168px,#7cff00 170px,#5fff00 172px,#3f0 174px,#1f0 175px,#00ff18 176px,#00ff4a 177px,#0f8 178px,#0fc 179px,#0ef 180px,#0010ff 184px,#0000e4 185px,#00004f 189px,#00000c 191px,#000 192px,#000 213px,#00005a 221px,#009 228px,#0000d1 236px,#0000fd 244px,#0004ff 245px,#0045ff 256px,#007dff 269px,#00abff 284px,#00cfff 300px,#00fffe 331px,#00ffb5 354px,#00ffae 360px,#00ffab 374px)"></i><i class=a style="background:linear-gradient(90deg,#86ff00 2px,#8f0 20px,#62ff00 38px,#5aff00 48px,#69ff00 76px,#8cff00 127px,#8fff00 139px,#8cff00 146px,#81ff00 153px,#62ff00 161px,#4fff00 164px,#3dff00 166px,#27ff00 168px,#0aff00 170px,#00ff08 171px,#00ff32 173px,#00ff4e 174px,#00ff96 176px,#00ffc4 177px,#00fffa 178px,#00dbff 179px,#00b1ff 180px,#0023ff 183px,#0000f5 184px,#000050 189px,#000015 191px,#000 192px,#000003 213px,#000057 221px,#00009c 229px,#0000d1 237px,#0002ff 246px,#0042ff 257px,#0076ff 269px,#00a5ff 284px,#00caff 300px,#00fffe 333px,#00ffb5 355px,#00ffae 360px,#00ffab 373px)"></i><i class=a style="background:linear-gradient(90deg,#86ff00 2px,#8f0 19px,#5cff00 39px,#54ff00 48px,#71ff00 116px,#72ff00 129px,#6eff00 138px,#62ff00 146px,#51ff00 152px,#2aff00 159px,#01ff00 164px,#00ff25 167px,#00ff45 169px,#00ff6c 171px,#00ff9c 173px,#00ffb9 174px,#0ff 176px,#00e3ff 177px,#00a1ff 179px,#0054ff 181px,#0001ff 183px,#0000e3 184px,#000052 189px,#00001e 191px,#000006 192px,#000 193px,#000 212px,#000057 221px,#000098 229px,#0000d2 238px,#0001ff 247px,#0040ff 258px,#0073ff 270px,#00a2ff 285px,#00c7ff 301px,#0ff 334px,#00ffb4 356px,#00ffae 361px,#00ffab 373px)"></i><i class=a style="background:linear-gradient(90deg,#86ff00 2px,#86ff00 19px,#59ff00 39px,#4dff00 49px,#5cff00 107px,#57ff00 130px,#4cff00 139px,#3aff00 146px,#20ff00 152px,#00ff01 157px,#00ff2e 162px,#00ff62 166px,#00ff84 168px,#00ffac 170px,#00fff6 173px,#00f2ff 174px,#00c5ff 176px,#0070ff 179px,#0009ff 182px,#0000ed 183px,#005 189px,#000028 191px,#000001 193px,#000 194px,#000 211px,#000068 223px,#00009d 230px,#0000d4 239px,#0001ff 248px,#003eff 259px,#0070ff 271px,#009fff 286px,#00c4ff 302px,#00feff 335px,#00ffb5 356px,#00ffae 362px,#00ffab 373px)"></i><i class=a style="background:linear-gradient(90deg,#86ff00 2px,#86ff00 18px,#53ff00 40px,#47ff00 49px,#4cff00 104px,#4f0 124px,#3aff00 132px,#2bff00 139px,#18ff00 145px,#00ff01 150px,#00ff2d 156px,#00ff6b 162px,#00ffa7 166px,#00fff8 170px,#00f4ff 171px,#00e4ff 172px,#0af 175px,#0061ff 178px,#000bff 181px,#0000f1 182px,#00006e 188px,#000032 191px,#000003 194px,#000 195px,#000002 210px,#000069 223px,#0000a1 231px,#0000d5 240px,#0001ff 249px,#003cff 260px,#006eff 272px,#009aff 286px,#00c0ff 302px,#00feff 336px,#00ffb4 357px,#00ffae 362px,#00ffab 373px)"></i><i class=a style="background:linear-gradient(90deg,#86ff00 2px,#8f0 13px,#85ff00 18px,#4fff00 40px,#40ff00 50px,#3eff00 96px,#35ff00 117px,#21ff00 131px,#01ff00 142px,#00ff23 149px,#00ff5c 156px,#00ffa1 162px,#00ffbf 164px,#00fff5 167px,#00f8ff 168px,#00a9ff 173px,#006dff 176px,#000bff 180px,#0000f5 181px,#00004c 190px,#000020 193px,#000 196px,#000002 208px,#0000a6 232px,#0000d7 241px,#0001ff 250px,#003bff 261px,#006cff 273px,#0098ff 287px,#00bdff 303px,#00feff 337px,#00ffb6 357px,#00ffad 363px,#00ffac 373px)"></i><i class=a style="background:linear-gradient(90deg,#85ff00 2px,#8f0 13px,#84ff00 18px,#4eff00 39px,#3aff00 50px,#35ff00 58px,#3f0 90px,#2aff00 108px,#1aff00 122px,#00ff01 134px,#00ff23 143px,#00ff3a 147px,#00ff57 151px,#00ff7c 155px,#00ff9d 158px,#00ffc3 161px,#00fff1 164px,#00fdff 165px,#00d7ff 168px,#0af 171px,#0062ff 175px,#000cff 179px,#0000f8 180px,#000063 189px,#000039 192px,#000012 196px,#000003 199px,#000 201px,#000004 205px,#000014 209px,#0000b0 234px,#0000de 243px,#0002ff 251px,#003fff 263px,#006eff 275px,#0096ff 288px,#0bf 304px,#00e4ff 326px,#0ff 338px,#00ffb5 358px,#00ffae 363px,#00ffac 373px)"></i><i class=a style="background:linear-gradient(90deg,#85ff00 2px,#8f0 12px,#84ff00 17px,#48ff00 40px,#32ff00 52px,#21ff00 99px,#16ff00 112px,#00ff01 125px,#00ff27 137px,#00ff3d 142px,#0f5 146px,#00ff7c 151px,#00ffa3 155px,#00ffc6 158px,#00fffe 162px,#00d3ff 166px,#009cff 170px,#005aff 174px,#000dff 178px,#0000fa 179px,#007 188px,#000045 192px,#00002a 195px,#00001e 197px,#000015 199px,#001 202px,#000016 206px,#000029 211px,#0000b5 235px,#0000e5 245px,#0003ff 252px,#003eff 264px,#006cff 276px,#0094ff 289px,#00b7ff 304px,#00e1ff 326px,#0ff 339px,#00ffb6 358px,#00ffae 363px,#00ffac 373px)"></i><i class=a style="background:linear-gradient(90deg,#85ff00 2px,#87ff00 12px,#82ff00 17px,#4f0 40px,#2bff00 53px,#18ff00 93px,#0f0 115px,#0f1 123px,#00ff25 130px,#00ff5a 142px,#00ff74 146px,#00ff9e 151px,#00ffc7 155px,#00fff9 159px,#00faff 160px,#00dcff 163px,#00a0ff 168px,#0065ff 172px,#0000fd 178px,#00007c 188px,#000050 192px,#00002d 197px,#000020 202px,#000026 207px,#000038 212px,#0000b9 236px,#0000fe 252px,#0046ff 267px,#0084ff 285px,#0af 300px,#00fdff 339px,#00ffb5 359px,#00ffae 364px,#00ffac 373px)"></i><i class=a style="background:linear-gradient(90deg,#85ff00 2px,#86ff00 12px,#82ff00 16px,#3eff00 41px,#2f0 56px,#10ff00 88px,#0f0 104px,#00ff0a 111px,#00ff2e 126px,#00ff48 133px,#00ff65 139px,#00ff82 144px,#00ffa2 148px,#00ffc7 152px,#00feff 157px,#00d1ff 162px,#00a4ff 166px,#0062ff 171px,#0002ff 177px,#0000f5 178px,#00008c 187px,#00005b 192px,#00003c 197px,#00002f 202px,#003 207px,#000046 213px,#0000c2 238px,#0001ff 253px,#0046ff 268px,#0080ff 285px,#00a4ff 299px,#00feff 340px,#00ffb4 360px,#00ffad 365px,#00ffac 373px)"></i><i class=a style="background:linear-gradient(90deg,#85ff00 2px,#83ff00 15px,#3bff00 41px,#19ff00 58px,#0f0 92px,#00ff15 108px,#00ff37 123px,#00ff68 135px,#00ff89 141px,#00ffa5 145px,#00ffc7 149px,#00fffa 154px,#00fbff 155px,#00e2ff 158px,#00a8ff 164px,#005fff 170px,#0007ff 176px,#0000f9 177px,#000091 187px,#000065 192px,#000052 195px,#000045 198px,#00003c 203px,#000041 208px,#000053 214px,#0000cf 241px,#0003ff 254px,#0046ff 269px,#007fff 286px,#00a0ff 299px,#00feff 341px,#00ffb5 360px,#00ffae 365px,#00ffac 373px)"></i><i class=a style="background:linear-gradient(90deg,#85ff00 2px,#86ff00 11px,#81ff00 15px,#39ff00 40px,#1fff00 51px,#10ff00 60px,#0f0 80px,#00ff0d 93px,#00ff1e 105px,#00ff40 120px,#00ff6a 131px,#00ff8f 138px,#00ffaf 143px,#00ffcf 147px,#00feff 152px,#00d0ff 158px,#0097ff 164px,#0051ff 170px,#0000fe 176px,#00009f 186px,#00006f 192px,#000051 198px,#000048 203px,#00004b 208px,#00005e 215px,#0000ce 241px,#00f 254px,#0042ff 269px,#007bff 286px,#0ff 342px,#00ffb6 360px,#00ffae 365px,#00ffac 373px)"></i><i style="background:linear-gradient(90deg,#84ff00 2px,#85ff00 10px,#7fff00 15px,#34ff00 40px,#03ff00 62px,#00ff14 85px,#00ff26 98px,#00ff45 113px,#00ff6c 125px,#0f8 131px,#00ffaf 138px,#00ffd1 143px,#00fff2 147px,#00f5ff 150px,#00b1ff 159px,#0062ff 167px,#0003ff 175px,#0000f8 176px,#0000a5 186px,#00007c 192px,#000062 198px,#000059 204px,#00005e 210px,#000070 217px,#0000da 244px,#0002ff 255px,#0041ff 270px,#0076ff 286px,#00feff 343px,#00ffb6 361px,#00ffae 366px,#00ffac 373px)"></i><i style="background:linear-gradient(90deg,#84ff00 3px,#84ff00 10px,#7dff00 14px,#43ff00 32px,#02ff00 57px,#00ff38 95px,#00ff57 109px,#00ff81 122px,#00ffb2 132px,#00fef8 143px,#00f8ff 145px,#00e0ff 149px,#00a0ff 158px,#0059ff 166px,#0005ff 174px,#0000fb 175px,#0000ae 186px,#00008b 192px,#000076 198px,#00006c 204px,#000070 211px,#000080 218px,#0000e7 248px,#0003ff 256px,#003bff 270px,#006fff 286px,#00fdff 344px,#00ffb6 362px,#00ffaf 366px,#00ffac 372px)"></i><i style="background:linear-gradient(90deg,#84ff00 3px,#83ff00 9px,#7dff00 13px,#3dff00 32px,#00ff02 55px,#00ff24 70px,#00ff51 96px,#00ff6f 108px,#00ffa4 123px,#00ffc7 130px,#00fff7 138px,#00fafe 140px,#00e6ff 144px,#00a9ff 154px,#0064ff 163px,#0000fe 174px,#0000f8 175px,#0000bc 185px,#00009a 192px,#000087 198px,#00007d 205px,#000081 212px,#000091 220px,#00f 256px,#003aff 271px,#0069ff 286px,#00fdff 345px,#00fffa 347px,#00ffb5 363px,#00ffad 372px)"></i><i style="background:linear-gradient(90deg,#83ff00 3px,#7cff00 12px,#39ff00 31px,#00ff02 52px,#00ff30 70px,#00ff64 95px,#00ff81 106px,#00ffb6 121px,#00fefa 134px,#00f9ff 136px,#0df 142px,#00a5ff 152px,#06f 161px,#0000fd 174px,#0000c4 185px,#0000a6 192px,#000094 199px,#00008c 207px,#000091 214px,#0000a2 223px,#0000fe 256px,#003aff 272px,#0064ff 286px,#00feff 347px,#00ffb8 363px,#00ffb0 367px,#00ffad 372px)"></i><i style="background:linear-gradient(90deg,#83ff00 4px,#79ff00 12px,#36ff00 30px,#00ff02 49px,#00ff46 74px,#00ff90 104px,#00ffc3 118px,#00fff9 129px,#00fbfe 131px,#00e4ff 137px,#00a8ff 149px,#0070ff 158px,#0000fd 174px,#0000cf 184px,#0000b2 192px,#0000a0 200px,#00009a 208px,#00009f 216px,#0000ad 224px,#0000fe 256px,#003aff 273px,#005eff 285px,#00feff 348px,#0fb 363px,#00ffb1 367px,#00ffad 372px)"></i><i style="background:linear-gradient(90deg,#82ff00 4px,#7fff00 8px,#76ff00 12px,#37ff00 28px,#01ff01 46px,#00ff9e 102px,#00ffc8 114px,#00fffa 125px,#00fbff 127px,#0df 135px,#00a5ff 147px,#0067ff 158px,#0000fe 174px,#0000d6 184px,#0000bc 192px,#0000ac 200px,#0000a6 208px,#0000ab 217px,#0000b9 226px,#00f 256px,#005aff 285px,#00feff 349px,#00ffbe 363px,#00ffb2 367px,#00ffae 371px)"></i><i style="background:linear-gradient(90deg,#81ff00 4px,#75ff00 11px,#35ff00 27px,#00ff02 44px,#00ffa6 99px,#00ffd0 111px,#00fffb 121px,#00fbff 123px,#00e0ff 131px,#00a9ff 144px,#006bff 156px,#0002ff 174px,#0000fc 175px,#0000d9 185px,#0000c3 193px,#0000b6 201px,#0000b1 209px,#0000b5 217px,#0000c1 226px,#0001ff 256px,#004fff 282px,#00feff 350px,#00ffbd 364px,#00ffaf 371px)"></i><i style="background:linear-gradient(90deg,#7fff00 5px,#72ff00 11px,#36ff00 25px,#01ff01 41px,#00ff7a 81px,#00ffb6 99px,#00fdfd 118px,#00d8ff 130px,#00a8ff 142px,#006aff 155px,#0005ff 174px,#0000fc 176px,#00d 186px,#0000ca 194px,#0000bf 202px,#0000bc 210px,#0000c0 219px,#0000cb 228px,#00f 255px,#004dff 282px,#00feff 351px,#00ffc0 364px,#00ffb1 370px)"></i><i style="background:linear-gradient(90deg,#7dff00 5px,#6fff00 11px,#35ff00 24px,#01ff01 39px,#00ff7a 78px,#00fdff 115px,#00d8ff 127px,#00acff 139px,#0073ff 152px,#0009ff 174px,#0000fc 177px,#0000e1 187px,#0000d1 195px,#0000c8 203px,#0000c5 211px,#0000d3 229px,#0000fe 254px,#004cff 282px,#0ff 352px,#00ffc2 364px,#00ffb2 370px)"></i><i style="background:linear-gradient(90deg,#79ff00 6px,#6bff00 11px,#30ff00 24px,#01ff01 37px,#00ff83 78px,#00fefd 111px,#00d9ff 124px,#00acff 137px,#07f 150px,#01f 173px,#0000fd 178px,#0000d9 195px,#0000ce 211px,#0000d9 229px,#00f 253px,#00fdff 352px,#00fffe 353px,#00ffc5 364px,#00ffb6 369px)"></i><i style="background:linear-gradient(90deg,#7f0 6px,#68ff00 11px,#2f0 26px,#00ff03 36px,#00ff8c 78px,#00fdff 109px,#00acff 135px,#0019ff 172px,#0003ff 178px,#0000fc 180px,#0000df 196px,#0000d6 212px,#0000df 229px,#0001ff 252px,#00c9ff 334px,#00fdff 353px,#00ffc8 364px,#00ffb8 369px)"></i><i style="background:linear-gradient(90deg,#71ff00 7px,#60ff00 12px,#26ff00 24px,#00ff01 34px,#00ff90 77px,#00fffe 106px,#00b4ff 131px,#0021ff 171px,#0003ff 180px,#0000fd 182px,#0000e4 198px,#00d 213px,#0000e5 229px,#00f 250px,#0bf 329px,#0ff 354px,#00ffd0 363px,#00ffbd 368px)"></i><i style="background:linear-gradient(90deg,#6bff00 8px,#5cff00 12px,#25ff00 23px,#01ff00 32px,#00ff98 77px,#00fffe 104px,#00bcff 127px,#0027ff 170px,#0000fd 184px,#0000e9 199px,#0000e3 214px,#0000ea 229px,#0001ff 249px,#00b4ff 327px,#00fdff 354px,#00fffd 355px,#00ffd2 363px,#00ffc3 367px)"></i><i style="background:linear-gradient(90deg,#64ff00 9px,#21ff00 23px,#00ff01 31px,#00ffa3 78px,#00fffd 102px,#00b8ff 127px,#0028ff 171px,#0007ff 183px,#0000fd 187px,#00e 200px,#0000e9 214px,#0000ef 229px,#0001ff 247px,#0030ff 270px,#0091ff 313px,#00d0ff 339px,#00feff 355px,#00ffd5 363px,#00ffc6 367px)"></i><i style="background:linear-gradient(90deg,#5dff00 10px,#1dff00 23px,#00ff02 30px,#00feff 101px,#00b8ff 126px,#002eff 170px,#000cff 183px,#0000fe 190px,#0000f2 202px,#00e 215px,#0000f2 228px,#0002ff 245px,#002fff 269px,#008cff 311px,#0cf 338px,#00fdff 355px,#0fc 366px)"></i><i style="background:linear-gradient(90deg,#5f0 11px,#19ff00 23px,#00ff02 29px,#00ff38 43px,#00feff 99px,#00c0ff 122px,#0031ff 170px,#000dff 185px,#0000fd 194px,#0000f3 216px,#0000fe 239px,#0008ff 246px,#0035ff 271px,#008bff 311px,#00caff 338px,#0ff 356px,#00ffd3 365px)"></i><i style="background:linear-gradient(90deg,#4dff00 12px,#15ff00 23px,#00ff02 28px,#00ff3d 43px,#00fffe 97px,#00c3ff 120px,#0034ff 170px,#000fff 187px,#0000fe 199px,#0000f8 216px,#0000fe 235px,#0013ff 251px,#0040ff 276px,#0091ff 314px,#0cf 339px,#00feff 356px,#00ffda 364px)"></i><i style="background:linear-gradient(90deg,#4f0 13px,#00ff01 27px,#00ff42 43px,#00feff 96px,#0035ff 171px,#000fff 190px,#0000fe 206px,#0001ff 232px,#0023ff 259px,#0053ff 285px,#009bff 319px,#00cdff 340px,#00fdff 356px,#00ffe5 362px)"></i><i style="background:linear-gradient(90deg,#3cff00 14px,#00ff01 26px,#00ff46 43px,#00feff 95px,#005fff 155px,#002fff 175px,#000cff 197px,#0001ff 217px,#0005ff 229px,#000eff 241px,#003aff 271px,#006cff 297px,#0af 326px,#00d4ff 343px,#0ff 357px,#00ffec 361px)"></i><i style="background:linear-gradient(90deg,#2eff00 16px,#01ff00 25px,#00ff04 26px,#00ff4b 43px,#00fffe 93px,#0063ff 154px,#0035ff 174px,#0012ff 196px,#0007ff 217px,#000aff 230px,#0015ff 243px,#0043ff 275px,#00a3ff 323px,#00ceff 341px,#00fdff 357px,#00fff8 359px)"></i><i style="background:linear-gradient(90deg,#21ff00 18px,#00ff03 25px,#00ff4f 43px,#0ff 92px,#06f 153px,#003aff 173px,#0017ff 196px,#000cff 218px,#0010ff 231px,#001bff 245px,#004bff 279px,#00abff 327px,#00d0ff 342px,#0ff 358px)"></i><i style="background:linear-gradient(90deg,#18ff00 19px,#00ff01 24px,#00ff2a 33px,#00ff56 44px,#00feff 91px,#006cff 151px,#0041ff 171px,#001dff 195px,#01f 218px,#0014ff 231px,#001fff 245px,#004dff 279px,#00a6ff 325px,#00cdff 341px,#00f8ff 356px)"></i><i style="background:linear-gradient(90deg,#0bff00 21px,#00ff03 24px,#00ff32 34px,#00ff5e 45px,#00feff 90px,#007eff 144px,#0046ff 170px,#02f 195px,#0016ff 218px,#0019ff 232px,#0024ff 246px,#004fff 279px,#00a2ff 323px,#00caff 340px,#00f1ff 354px)"></i><i style="background:linear-gradient(90deg,#00ff01 23px,#00ff35 34px,#00ff62 45px,#00feff 89px,#0081ff 143px,#004bff 169px,#0027ff 195px,#001bff 218px,#001eff 232px,#0027ff 246px,#0051ff 279px,#009dff 321px,#00c4ff 338px,#00ebff 352px)"></i><i style="background:linear-gradient(90deg,#00ff0e 25px,#00ff40 36px,#00ff6c 47px,#0ff 88px,#0086ff 141px,#0051ff 167px,#002dff 193px,#0020ff 217px,#02f 231px,#002aff 245px,#004fff 277px,#09f 319px,#00bdff 335px,#00e4ff 350px)"></i><i style="background:linear-gradient(90deg,#00ff1a 27px,#0f7 49px,#0ff 87px,#0089ff 140px,#0054ff 167px,#0031ff 193px,#0024ff 217px,#0026ff 231px,#002eff 245px,#0052ff 277px,#0096ff 317px,#00b8ff 333px,#00deff 348px)"></i><i style="background:linear-gradient(90deg,#00ff26 29px,#00ff85 52px,#00feff 87px,#008bff 139px,#0058ff 166px,#0036ff 192px,#0029ff 217px,#0031ff 245px,#0052ff 276px,#0092ff 315px,#00b4ff 331px,#00d9ff 346px)"></i><i style="background:linear-gradient(90deg,#00ff36 32px,#00ff8c 53px,#00feff 86px,#0090ff 137px,#005cff 165px,#003aff 192px,#002dff 217px,#0035ff 245px,#0054ff 276px,#008fff 313px,#00d3ff 344px)"></i><i style="background:linear-gradient(90deg,#00ff41 34px,#00ff92 54px,#0ff 85px,#009bff 132px,#0061ff 164px,#003fff 191px,#0031ff 216px,#0038ff 244px,#05f 275px,#008cff 311px,#00ceff 342px)"></i><i style="background:linear-gradient(90deg,#00ff50 37px,#00ffa3 58px,#00feff 85px,#00a0ff 130px,#0065ff 163px,#0043ff 190px,#0035ff 215px,#003bff 243px,#05f 273px,#08f 308px,#00c7ff 339px)"></i><i style="background:linear-gradient(90deg,#00ff5a 39px,#00ffa5 58px,#0ff 84px,#00a2ff 129px,#0068ff 162px,#0048ff 189px,#0039ff 215px,#003eff 243px,#0058ff 273px,#0086ff 306px,#00c3ff 337px)"></i><i style="background:linear-gradient(90deg,#00ff68 42px,#00ffb1 61px,#00feff 84px,#00a5ff 128px,#006cff 161px,#004bff 189px,#003dff 214px,#0041ff 241px,#0057ff 270px,#0082ff 303px,#00bcff 334px)"></i><i style="background:linear-gradient(90deg,#00ff76 45px,#00ffc8 67px,#00fdff 84px,#00a7ff 127px,#0070ff 160px,#004fff 188px,#0041ff 213px,#0043ff 240px,#0058ff 269px,#0081ff 301px,#00b5ff 330px)"></i><i style="background:linear-gradient(90deg,#00ff87 49px,#0ff 83px,#0af 126px,#0074ff 159px,#0054ff 186px,#0045ff 211px,#0046ff 238px,#0058ff 266px,#007cff 297px,#00afff 327px)"></i><i style="background:linear-gradient(90deg,#00ff94 52px,#0ff 83px,#00adff 125px,#07f 158px,#0058ff 186px,#0049ff 211px,#0049ff 238px,#005aff 265px,#007bff 295px,#0af 324px)"></i><i style="background:linear-gradient(90deg,#00ffa4 56px,#00feff 83px,#00afff 124px,#007bff 157px,#005cff 184px,#004dff 209px,#004cff 235px,#005aff 262px,#0078ff 291px,#00a4ff 320px)"></i><i style="background:linear-gradient(90deg,#00ffb3 60px,#00feff 83px,#00b2ff 123px,#0080ff 155px,#0061ff 182px,#0051ff 207px,#004eff 232px,#005aff 259px,#0076ff 288px,#009eff 316px)"></i><i style="background:linear-gradient(90deg,#00ffc2 64px,#00feff 83px,#00bdff 117px,#008aff 149px,#0068ff 178px,#05f 205px,#0052ff 231px,#005cff 257px,#0074ff 284px,#09f 312px)"></i><i style="background:linear-gradient(90deg,#00ffd0 68px,#00feff 83px,#00c0ff 116px,#008fff 147px,#006cff 176px,#0059ff 203px,#05f 229px,#005dff 254px,#0073ff 281px,#0094ff 308px)"></i><i style="background:linear-gradient(90deg,#00ffe0 73px,#00feff 83px,#00c2ff 115px,#0092ff 146px,#0071ff 174px,#005dff 201px,#0058ff 226px,#005eff 251px,#0070ff 276px,#008fff 303px)"></i><i style="background:linear-gradient(90deg,#00fff1 78px,#00feff 83px,#00c3ff 115px,#0092ff 147px,#0074ff 173px,#0062ff 198px,#005bff 221px,#005fff 246px,#006fff 272px,#008aff 298px)"></i><i style="background:linear-gradient(90deg,#00fdff 84px,#00c6ff 114px,#009aff 143px,#007bff 169px,#06f 195px,#005eff 219px,#0061ff 243px,#006eff 268px,#0086ff 293px)"></i><i style="background:linear-gradient(90deg,#00f2ff 90px,#00bfff 119px,#009aff 144px,#007dff 169px,#006aff 194px,#0061ff 217px,#0062ff 239px,#006cff 262px,#0080ff 286px)"></i><i style="background:linear-gradient(90deg,#00e7ff 96px,#00bdff 121px,#009bff 145px,#0080ff 169px,#006dff 193px,#0065ff 215px,#0065ff 236px,#006cff 257px,#007dff 280px)"></i><i style="background:linear-gradient(90deg,#00daff 104px,#00b1ff 130px,#0092ff 154px,#0070ff 193px,#0068ff 214px,#0067ff 233px,#006dff 253px,#0079ff 273px)"></i><i style="background:linear-gradient(90deg,#00ceff 112px,#0093ff 155px,#0074ff 192px,#006aff 229px,#0076ff 265px)"></i><i style="background:linear-gradient(90deg,#00c1ff 121px,#0092ff 158px,#07f 191px,#006dff 222px,#0073ff 255px)"></i><i style="background:linear-gradient(90deg,#00b3ff 132px,#0092ff 160px,#007bff 189px,#0070ff 217px,#0071ff 243px)"></i><i style="background:linear-gradient(90deg,#00a2ff 147px,#008eff 167px,#007dff 189px,#0074ff 210px,#0072ff 229px)"></i><i class=a style="background:linear-gradient(90deg,#008eff 169px,#07f 207px)"></i></div>
<div class="m" style="left:801.50px;top:737.00px;width:377px;height:250px;clip-path:path(evenodd,'M196 245.6L186 245.8L169 245L150 243.4L135.8 241.5L110.2 236.5L89 230.6L70.1 223.5L50 213.5L35 203.2L26 195.1L21 189.4L16 182.4L12 174.5L9 166.2L7 157.5L5.1 143.5L4.6 136.5L4.4 120.5L5 106.5L8 87.4L10 80.2L13 72.8L18 64.3L23 57.8L35 46.4L47 38L65 28.4L85 20.5L105.3 14.5L124 10.4L149 6.8L169 5L195 4.4L228 6.8L253 10.6L277 16.1L296 22.1L314 29.7L330 38.3L340.4 45.5L346 50.2L356 60.6L361 67.6L364 73.2L367 80.6L369 87.8L372.1 108.5L372.5 133.5L372 143.5L370.6 154.5L367 169.8L364 177.2L361 182.6L353 193.3L342 203.6L327.5 213.5L310 222.5L289.1 230.5L267.6 236.5L243 241.3L212 244.7ZM194 132.5L202 131L209 128.9L215 125.8L217 123.5L211 120L203 117.7L195 116.9L188 117L180 117.9L171 120.1L164 123L161.6 124.5L160 126.5L166 130L174 132.3L184 133.1Z')"><i style="background:linear-gradient(90deg,#ff9b00 164px,#ffac00 187px,#ffc600 212px)"></i><i style="background:linear-gradient(90deg,#ff9000 145px,#ff9a00 166px,#fa0 187px,#ffde00 232px)"></i><i style="background:linear-gradient(90deg,#ff8b00 130px,#ff9200 157px,#ffa700 186px,#ffc700 216px,#fff200 246px)"></i><i style="background:linear-gradient(90deg,#f80 119px,#ff8e00 152px,#ffa100 182px,#ffc800 218px,#ff0 254px,#f8ff00 257px)"></i><i style="background:linear-gradient(90deg,#f80 110px,#f80 142px,#ff9800 174px,#ffc100 214px,#fffe00 254px,#e2ff00 266px)"></i><i style="background:linear-gradient(90deg,#f80 102px,#ff8400 139px,#ff9600 174px,#ffc000 214px,#ff0 255px,#cf0 274px)"></i><i style="background:linear-gradient(90deg,#ff8900 95px,#ff8100 133px,#ff9000 170px,#ffa200 190px,#fb0 212px,#fffe00 255px,#b9ff00 281px)"></i><i style="background:linear-gradient(90deg,#ff8b00 88px,#ff8100 109px,#ff7e00 128px,#ff8100 147px,#ff8b00 167px,#ff9c00 187px,#ffb700 210px,#ff0 256px,#a4ff00 288px)"></i><i style="background:linear-gradient(90deg,#ff8c00 83px,#ff8000 105px,#ff7b00 125px,#ff7d00 144px,#ff8700 165px,#ff9a00 187px,#ffb400 209px,#fffe00 256px,#91ff00 294px)"></i><i style="background:linear-gradient(90deg,#ff8f00 77px,#ff8000 100px,#ff7900 121px,#ff7a00 141px,#ff8300 162px,#ff9500 184px,#ffaf00 207px,#ffd400 232px,#fffe00 256px,#d0ff00 273px,#81ff00 299px)"></i><i style="background:linear-gradient(90deg,#ff9200 72px,#ff8000 95px,#f70 116px,#ff7600 138px,#ff7e00 159px,#ff8f00 181px,#ffab00 205px,#ffd200 231px,#feff00 257px,#70ff00 304px)"></i><i style="background:linear-gradient(90deg,#ff9500 68px,#ff7f00 92px,#ff7500 114px,#ff7300 136px,#ff7a00 158px,#ff8c00 180px,#ffa800 204px,#ffd100 231px,#ff0 257px,#b2ff00 283px,#5eff00 309px)"></i><i style="background:linear-gradient(90deg,#f90 63px,#ff8000 88px,#ff7300 111px,#ff7000 134px,#ff7600 156px,#f80 179px,#ffa400 203px,#ffcf00 231px,#ff0 257px,#afff00 284px,#4fff00 313px)"></i><i style="background:linear-gradient(90deg,#ff9c00 59px,#ff8100 84px,#ff7100 108px,#ff6c00 131px,#ff7200 154px,#ff8300 177px,#ffa000 201px,#ffcd00 230px,#ff0 257px,#9eff00 289px,#40ff00 317px)"></i><i style="background:linear-gradient(90deg,#ffa000 55px,#ff8200 81px,#ff7000 105px,#ff6900 129px,#ff6e00 152px,#ff7f00 175px,#ff9b00 199px,#ffca00 229px,#ff0 257px,#93ff00 292px,#30ff00 321px)"></i><i style="background:linear-gradient(90deg,#ffa400 52px,#ff8200 78px,#ff6e00 103px,#f60 127px,#ff6b00 151px,#ff7b00 174px,#f90 199px,#ffc800 228px,#ff0 257px,#8cff00 294px,#20ff00 325px)"></i><i style="background:linear-gradient(90deg,#ffa900 48px,#ff8400 75px,#ff6d00 100px,#ff6300 125px,#ff6700 149px,#ff7600 172px,#ff9400 197px,#ffb500 218px,#ff0 257px,#80ff00 297px,#13ff00 328px)"></i><i style="background:linear-gradient(90deg,#ffad00 45px,#ff8500 72px,#ff6d00 97px,#ff6100 122px,#ff6300 147px,#ff7100 170px,#ff8f00 195px,#ffb400 218px,#feff00 257px,#6eff00 302px,#05ff00 331px)"></i><i style="background:linear-gradient(90deg,#ffb100 42px,#ff8700 69px,#ff6b00 96px,#ff5d00 122px,#ff5f00 146px,#ff6d00 169px,#ff8b00 194px,#ffb100 217px,#fffe00 256px,#6cff00 302px,#03ff00 331px,#00ff09 334px)"></i><i style="background:linear-gradient(90deg,#ffb600 39px,#f80 67px,#ff6a00 94px,#ff5b00 121px,#ff5b00 146px,#ff6a00 169px,#f80 193px,#ffb000 217px,#ff0 256px,#6f0 303px,#01ff00 331px,#00ff17 337px)"></i><i style="background:linear-gradient(90deg,#ffb900 37px,#ff8900 65px,#ff6800 93px,#ff5800 120px,#ff5800 145px,#f60 168px,#ff8400 192px,#ffab00 215px,#feff00 256px,#5dff00 305px,#02ff00 330px,#00ff25 340px)"></i><i style="background:linear-gradient(90deg,#ffbf00 34px,#ff8c00 62px,#ff6800 91px,#f50 118px,#ff5400 144px,#ff6200 167px,#ff8000 191px,#fa0 215px,#fffe00 255px,#5aff00 305px,#0f0 330px,#00ff2f 342px)"></i><i style="background:linear-gradient(90deg,#ffc300 32px,#ff8e00 60px,#f60 90px,#ff5200 118px,#ff5000 143px,#ff5e00 166px,#ff7c00 190px,#ffa900 215px,#ff0 255px,#50ff00 307px,#01ff00 329px,#00ff3e 345px)"></i><i style="background:linear-gradient(90deg,#ffc700 30px,#ff8e00 59px,#ff6500 89px,#ff4f00 117px,#ff4c00 143px,#ff5900 165px,#ff7800 189px,#ffa600 214px,#fffe00 254px,#02ff00 328px,#00ff4a 347px)"></i><i style="background:linear-gradient(90deg,#fc0 28px,#ff9200 56px,#ff6500 87px,#ff4c00 116px,#ff4800 142px,#ff5600 165px,#ff7400 188px,#ffa300 213px,#fffe00 253px,#00ff01 328px,#0f5 349px)"></i><i style="background:linear-gradient(90deg,#ffd100 26px,#ff9400 54px,#ff6400 86px,#ff4900 115px,#f40 141px,#ff5100 164px,#ff6f00 187px,#ffa000 212px,#ff0 253px,#00ff01 327px,#00ff61 351px)"></i><i style="background:linear-gradient(90deg,#ffd600 24px,#ff9700 52px,#ff6300 85px,#ff4600 115px,#ff4000 141px,#ff4d00 164px,#ff6d00 187px,#ff9f00 212px,#ff0 252px,#00ff01 326px,#00ff35 340px,#00ff6d 353px)"></i><i style="background:linear-gradient(90deg,#ffdb00 22px,#ff9a00 50px,#ff6200 84px,#ff4300 114px,#ff3b00 140px,#ff4700 162px,#ff6700 185px,#ff9c00 211px,#fffe00 251px,#83ff00 286px,#00ff01 325px,#00ff38 340px,#00ff79 355px)"></i><i style="background:linear-gradient(90deg,#ffe100 20px,#ff9d00 48px,#ff6300 82px,#ff4100 112px,#ff3700 139px,#ff4200 161px,#ff6200 184px,#f90 210px,#fffe00 250px,#85ff00 284px,#02ff00 323px,#00ff3c 340px,#00ff85 357px)"></i><i style="background:linear-gradient(90deg,#ffe700 18px,#ffa100 46px,#ff6300 81px,#ff3e00 112px,#ff3500 126px,#f30 139px,#ff3f00 162px,#ff5f00 184px,#ff9600 209px,#fffe00 249px,#84ff00 283px,#01ff00 322px,#00ff43 341px,#00ff91 359px)"></i><i style="background:linear-gradient(90deg,#ffeb00 17px,#ffa100 46px,#ff6000 82px,#ff3900 113px,#ff3000 127px,#ff2e00 140px,#ff3a00 162px,#ff5a00 183px,#ff9500 209px,#fffe00 248px,#82ff00 282px,#02ff00 320px,#00ff47 341px,#0f9 360px)"></i><i style="background:linear-gradient(90deg,#fff100 15px,#ffa500 44px,#ff5f00 81px,#ff3600 113px,#ff2c00 127px,#ff2900 140px,#ff3500 161px,#f50 182px,#ff9200 208px,#fffe00 247px,#7fff00 281px,#01ff01 319px,#00ff4f 342px,#00ffa6 362px)"></i><i style="background:linear-gradient(90deg,#fff500 14px,#ffa700 43px,#ff5e00 81px,#ff3200 113px,#ff2800 127px,#ff2500 140px,#ff3000 161px,#ff4f00 181px,#ff8d00 206px,#feff00 246px,#80ff00 279px,#01ff00 317px,#00ff53 342px,#00ffae 363px)"></i><i style="background:linear-gradient(90deg,#fffc00 12px,#fa0 42px,#ff5d00 81px,#ff2e00 114px,#ff2300 128px,#ff2000 140px,#ff2b00 161px,#ff4c00 181px,#ff8900 205px,#fffd00 244px,#7cff00 278px,#01ff00 315px,#00ff58 342px,#00ffb6 364px)"></i><i style="background:linear-gradient(90deg,#feff00 11px,#fa0 42px,#ff5900 82px,#ff2900 115px,#ff1e00 128px,#ff1a00 141px,#ff2600 161px,#ff4600 180px,#ff8300 203px,#fffe00 243px,#78ff00 277px,#01ff00 313px,#00ff5d 342px,#00ff84 352px,#00ffc1 366px)"></i><i style="background:linear-gradient(90deg,#f8ff00 10px,#fffd00 13px,#ffcf00 28px,#ffa600 44px,#f50 84px,#ff2400 116px,#ff1900 129px,#ff1500 141px,#ff1f00 160px,#ff4000 179px,#ff7a00 200px,#fffd00 241px,#78ff00 275px,#01ff00 311px,#00ff61 342px,#0f8 352px,#00ffc9 367px)"></i><i style="background:linear-gradient(90deg,#f2ff00 9px,#ff0 13px,#ffd200 27px,#ffa900 43px,#ff4a00 89px,#ff1d00 119px,#ff1300 131px,#ff0f00 142px,#ff1b00 161px,#ff3c00 179px,#ff7000 197px,#fefe00 240px,#b8ff00 256px,#7eff00 271px,#42ff00 288px,#03ff00 308px,#0f6 342px,#00ff8c 352px,#00ffbe 363px,#00ffd0 368px)"></i><i style="background:linear-gradient(90deg,#ecff00 8px,#fffd00 14px,#ffd300 27px,#ffa700 44px,#ff4100 93px,#ff1700 121px,#ff0d00 132px,#ff0a00 143px,#ff1500 161px,#ff3600 178px,#ff6500 194px,#fefe00 238px,#afff00 256px,#74ff00 271px,#3dff00 287px,#02ff00 306px,#00ff6f 343px,#00ff98 354px,#00ffc6 364px,#00ffd7 369px)"></i><i style="background:linear-gradient(90deg,#e9ff00 8px,#ff0 14px,#ffd400 27px,#ffa800 44px,#ff7000 69px,#ff3800 97px,#ff1000 123px,#ff0600 134px,#ff0300 144px,#ff0600 153px,#ff1000 162px,#ff3100 178px,#ff5a00 191px,#fffe00 236px,#b2ff00 253px,#76ff00 268px,#3dff00 284px,#02ff00 303px,#00ff74 343px,#00ff94 352px,#00ffca 364px,#00ffda 369px)"></i><i style="background:linear-gradient(90deg,#e4ff00 7px,#fffd00 15px,#ffd900 26px,#ffae00 42px,#ff3800 96px,#ff0e00 121px,#ff0003 138px,#ff0005 146px,#ff0200 157px,#ff0f00 166px,#ff2400 175px,#ff5100 189px,#ffd300 222px,#fefe00 234px,#b4ff00 250px,#76ff00 265px,#3aff00 282px,#02ff00 300px,#0f7 342px,#00ffa1 354px,#00ffd1 365px,#00ffe0 370px)"></i><i style="background:linear-gradient(90deg,#e0ff00 6px,#eaff00 10px,#fffe00 15px,#ffc100 35px,#ff6f00 70px,#ff1f00 108px,#ff0800 122px,#ff0003 130px,#ff000d 139px,#ff0010 147px,#ff000c 154px,#ff0101 162px,#ff1300 171px,#ff4800 187px,#ffbe00 215px,#fffd00 231px,#b4ff00 247px,#7aff00 261px,#3dff00 278px,#02ff00 297px,#00ff7c 342px,#00ffa5 354px,#00ffd5 365px,#00ffe5 371px)"></i><i style="background:linear-gradient(90deg,#df0 5px,#e8ff00 10px,#fffd00 16px,#ffc600 34px,#ff7600 67px,#ff2100 106px,#ff0200 123px,#ff0004 126px,#ff0017 138px,#ff001c 148px,#ff0017 156px,#ff0003 165px,#ff0400 168px,#ff1b00 176px,#ff3900 184px,#ffc100 214px,#fffc00 228px,#f9ff00 230px,#adff00 245px,#7f0 258px,#34ff00 277px,#02ff01 294px,#00ff82 342px,#0fa 354px,#00ffd8 365px,#00ffe7 371px)"></i><i style="background:linear-gradient(90deg,#dbff00 5px,#e5ff00 10px,#fffe00 16px,#ffd000 31px,#ff9600 54px,#ff2900 101px,#ff0003 122px,#ff0020 136px,#ff002a 148px,#ff001f 159px,#ff0200 170px,#ff1900 177px,#ff3700 184px,#ffc100 212px,#fffb00 225px,#f8ff00 227px,#b1ff00 240px,#7dff00 252px,#41ff00 269px,#02ff00 290px,#00ff85 341px,#00ffab 353px,#00ffdf 366px,#00ffeb 372px)"></i><i style="background:linear-gradient(90deg,#d9ff00 4px,#e3ff00 10px,#fffd00 17px,#ffd700 29px,#ffa800 47px,#ff1c00 106px,#ff0100 118px,#ff0004 120px,#ff002c 136px,#ff0036 143px,#ff0038 149px,#ff0035 155px,#ff002c 160px,#ff001d 165px,#ff0101 172px,#ff3000 183px,#ffc700 211px,#fefc00 222px,#abff00 237px,#74ff00 249px,#43ff00 263px,#02ff01 286px,#00ff89 340px,#00ffb0 353px,#00ffdf 365px,#00ffed 372px)"></i><i style="background:linear-gradient(90deg,#d8ff00 4px,#e1ff00 10px,#ff0 17px,#ffdc00 28px,#ffb400 43px,#ff0100 116px,#ff0005 118px,#ff0039 136px,#f04 143px,#ff0048 150px,#ff0043 156px,#ff0036 162px,#ff001f 168px,#ff0101 174px,#ff2e00 183px,#ffc800 209px,#fff800 218px,#f9ff00 220px,#c5ff00 228px,#9cff00 235px,#68ff00 246px,#34ff00 261px,#03ff01 280px,#00ff09 285px,#00ff80 334px,#00ffaf 351px,#00ffe2 365px,#00ffef 373px)"></i><i style="background:linear-gradient(90deg,#d7ff00 4px,#dfff00 10px,#fffd00 18px,#ffc300 38px,#ff0200 114px,#ff0004 116px,#ff002e 128px,#ff0046 136px,#ff0053 143px,#ff0059 150px,#ff0054 156px,#ff0046 162px,#ff002d 168px,#ff0002 175px,#ff2d00 183px,#ffd800 209px,#fffa00 215px,#f6ff00 217px,#a8ff00 228px,#63ff00 241px,#2eff00 255px,#05ff01 271px,#00ff07 276px,#00ff1e 288px,#00ff7b 329px,#00ffae 349px,#00ffe6 365px,#00fff0 373px)"></i><i style="background:linear-gradient(90deg,#d6ff00 3px,#df0 10px,#fffc00 19px,#ffd000 34px,#ff4a00 87px,#ff0001 114px,#ff0035 127px,#ff0053 136px,#ff0065 144px,#ff006a 151px,#ff0062 158px,#ff004f 164px,#ff002e 170px,#ff0001 176px,#ff2e00 183px,#ffde00 207px,#fff800 211px,#f7fe00 213px,#a2ff00 224px,#60ff00 235px,#30ff00 246px,#06ff01 260px,#00ff06 265px,#00ff38 294px,#00ff54 308px,#00ffa4 343px,#00ffe9 365px,#00fff1 374px)"></i><i style="background:linear-gradient(90deg,#d6ff00 3px,#deff00 11px,#ff0 19px,#ffce00 36px,#ff4900 88px,#ff0001 113px,#ff0042 128px,#ff0063 137px,#ff0076 144px,#ff007d 151px,#ff0075 158px,#ff005f 164px,#ff003a 170px,#ff0005 176px,#ff0300 177px,#ff2900 182px,#ffa700 197px,#fff400 207px,#fdfa00 208px,#efff00 210px,#98ff00 220px,#57ff00 230px,#38ff00 236px,#1bff00 243px,#0aff00 248px,#01ff07 253px,#00ff2a 271px,#00ff49 296px,#00ff60 309px,#0fa 343px,#00ffe9 364px,#00fff0 368px,#00fff1 374px)"></i><i style="background:linear-gradient(90deg,#d6ff00 3px,#dfff00 12px,#fffe00 20px,#ffd100 36px,#ff5000 86px,#f00 112px,#ff0004 113px,#ff0050 129px,#ff0075 138px,#ff008b 146px,#ff0091 152px,#ff008a 158px,#ff0071 164px,#ff0045 170px,#ff0100 177px,#ff4e00 186px,#fff400 204px,#f5ff00 206px,#c5ff00 210px,#93ff00 215px,#5f0 223px,#32ff00 229px,#10ff00 236px,#00ff0a 243px,#00ff2a 255px,#00ff3d 266px,#00ff4c 278px,#00ff5d 299px,#00ff70 312px,#00ffb0 343px,#00ffec 364px,#00fff2 374px)"></i><i style="background:linear-gradient(90deg,#d5ff00 2px,#df0 12px,#fffe00 21px,#ffd400 36px,#ff5600 85px,#ff0001 112px,#ff0063 131px,#ff0087 139px,#ff00a1 147px,#ff00a7 153px,#ff009c 159px,#ff0082 164px,#ff0050 170px,#ff0001 177px,#ff5c00 187px,#fff700 202px,#fafd00 203px,#edff00 204px,#8cff00 211px,#5fff00 215px,#4f0 218px,#10ff00 226px,#00ff0c 232px,#00ff31 243px,#00ff4c 255px,#00ff61 274px,#00ff6e 300px,#00ff79 311px,#00ffb0 340px,#00ffef 364px,#00fff2 375px)"></i><i style="background:linear-gradient(90deg,#d5ff00 2px,#df0 13px,#fffe00 22px,#ff5c00 84px,#ff0002 112px,#ff009b 140px,#ff00b5 147px,#ff00be 153px,#f0b 156px,#ff00b1 159px,#ff0092 164px,#ff0059 170px,#ff0005 177px,#ff0600 178px,#ff6000 187px,#fff100 200px,#fefc00 201px,#f1ff00 202px,#7cff00 209px,#35ff00 214px,#12ff00 217px,#01ff0f 221px,#00ff2d 227px,#00ff46 234px,#00ff6c 252px,#00ff7a 271px,#00ff80 304px,#0f8 314px,#00ffb4 339px,#00fff0 363px,#00fff2 375px)"></i><i style="background:linear-gradient(90deg,#d5ff00 2px,#dbff00 13px,#fffe00 23px,#ff6000 84px,#ff3700 97px,#ff0001 112px,#f0a 140px,#ff00ca 147px,#ff00d5 152px,#ff00cf 157px,#ff00c0 160px,#ff00ab 163px,#ff006e 169px,#ff0008 177px,#ff0400 178px,#ff6e00 188px,#fefd00 200px,#13ff00 213px,#00ff0d 215px,#00ff3e 219px,#00ff5c 223px,#00ff70 228px,#00ff81 236px,#00ff91 249px,#00ff96 258px,#00ff91 306px,#00ff95 316px,#00ffb6 337px,#00fff1 362px,#00fff3 375px)"></i><i class=a style="background:linear-gradient(90deg,#d5ff00 2px,#dcff00 14px,#fffe00 24px,#f60 83px,#ff3a00 97px,#ff0100 112px,#ff0005 113px,#f0b 141px,#ff00da 147px,#ff00e7 152px,#ff00e6 155px,#ff00e0 157px,#ff00c0 162px,#ff00a3 165px,#ff0076 169px,#ff0200 178px,#ff7100 188px,#fffa00 199px,#f4ff00 200px,#06ff00 212px,#00ff0d 213px,#00ff32 215px,#00ff61 218px,#00ff83 221px,#00ff9a 225px,#00ffa6 230px,#00ffb2 255px,#00ff9e 307px,#00ff9f 317px,#00ffa7 325px,#00ffba 336px,#00fff2 361px,#00fff3 375px)"></i><i class=a style="background:linear-gradient(90deg,#d5ff00 2px,#dbff00 14px,#e6ff00 18px,#ff0 24px,#ff6900 83px,#ff4000 96px,#ff0200 112px,#ff0004 113px,#ff00c9 142px,#ff00e9 148px,#ff00f3 152px,#ff00f1 155px,#ff00ea 157px,#ff00c8 162px,#ff007a 169px,#ff0100 178px,#ff6700 187px,#feff00 199px,#08ff00 211px,#00ff0c 212px,#00ff6d 217px,#0f9 220px,#00ffad 222px,#0fb 224px,#00ffc7 228px,#00ffca 233px,#00ffc6 254px,#00ffa8 305px,#00ffa5 317px,#00ffab 325px,#00ffb9 334px,#00fff3 361px,#00fff3 375px)"></i><i class=a style="background:linear-gradient(90deg,#d5ff00 2px,#dcff00 15px,#fffe00 25px,#ff6c00 83px,#ff3f00 97px,#ff0002 113px,#ff0046 123px,#ff00d8 143px,#ff00f4 148px,#f0f 152px,#ff00fd 155px,#ff00f5 157px,#ff00cf 162px,#ff007f 169px,#ff0100 178px,#ff6a00 187px,#fff800 198px,#f5ff00 199px,#0dff00 210px,#00ff09 211px,#00ff72 216px,#00ff98 218px,#00ffb8 220px,#00ffd0 222px,#00ffe1 224px,#00ffec 227px,#00ffec 232px,#00ffb5 300px,#00ffac 318px,#00ffb0 325px,#0fb 333px,#00fff4 361px,#00fff3 375px)"></i><i class=a style="background:linear-gradient(90deg,#d5ff00 1px,#dbff00 15px,#fffd00 26px,#ff7200 82px,#ff3e00 98px,#f00 113px,#ff0006 114px,#ff004d 124px,#ff00d9 142px,#f0f 148px,#ff0aff 153px,#f0f 157px,#ff00ea 160px,#ff00c1 164px,#ff0091 168px,#ff004c 173px,#f00 178px,#ff6c00 187px,#ff0 198px,#13ff00 209px,#00ff03 210px,#00ffb3 218px,#00ffe6 221px,#00fffe 223px,#00f6ff 225px,#00f2ff 228px,#0ff 242px,#00ffd2 280px,#00ffb8 308px,#00ffb3 319px,#00ffb6 326px,#00ffbe 333px,#00fff4 360px,#00fff3 376px)"></i><i class=a style="background:linear-gradient(90deg,#d5ff00 1px,#dcff00 16px,#ff0 26px,#ff7200 83px,#ff4100 98px,#ff0200 113px,#ff0003 114px,#ff0054 125px,#ff00e8 143px,#ff00fd 146px,#ff04ff 147px,#ff10ff 150px,#ff14ff 153px,#ff0dff 156px,#ff03ff 158px,#ff00fb 159px,#ff00de 162px,#ff00b0 166px,#ff005e 172px,#f00 178px,#ff0c00 179px,#ff6f00 187px,#fff900 197px,#f4ff00 198px,#03ff00 209px,#00ff14 210px,#00ffcb 218px,#00fff4 220px,#00fbff 221px,#00e2ff 224px,#00d8ff 228px,#0ff 258px,#00ffd1 292px,#00ffb9 321px,#00ffc4 334px,#00fff6 360px,#00fff3 376px)"></i><i class=a style="background:linear-gradient(90deg,#d5ff00 1px,#dcff00 16px,#fffe00 27px,#ff7500 83px,#ff4000 99px,#f00 114px,#ff005b 126px,#f0f 145px,#ff19ff 150px,#ff1dff 153px,#ff15ff 156px,#ff04ff 159px,#ff00fa 160px,#ff00ce 164px,#ff009b 168px,#ff0052 173px,#f00 178px,#ff0c00 179px,#ff7300 187px,#fdff00 197px,#08ff00 208px,#00ff0f 209px,#00fffb 219px,#00f4ff 220px,#00dbff 222px,#00c9ff 224px,#00c0ff 226px,#00bdff 228px,#00e3ff 247px,#00feff 268px,#00ffd4 299px,#00ffc0 323px,#00ffc9 335px,#00fff6 359px,#00fff3 376px)"></i><i class=a style="background:linear-gradient(90deg,#d5ff00 1px,#dbff00 16px,#e4ff00 20px,#fffd00 28px,#ffcf00 46px,#f90 71px,#ff7900 83px,#f40 99px,#ff0300 114px,#ff0003 115px,#ff0062 127px,#ff00fe 144px,#ff1eff 149px,#ff26ff 153px,#ff1dff 156px,#ff02ff 160px,#ff00f8 161px,#ff00c8 165px,#ff0092 169px,#f05 173px,#f00 178px,#f70 187px,#fffa00 196px,#f0ff00 197px,#0dff00 207px,#00ff0a 208px,#00fffc 218px,#00f1ff 219px,#00c6ff 222px,#00b1ff 224px,#00a5ff 226px,#00a2ff 228px,#00d8ff 250px,#0ff 277px,#00ffdb 302px,#00ffc5 325px,#00ffce 336px,#00fff6 358px,#00fff4 376px)"></i><i class=a style="background:linear-gradient(90deg,#d5ff00 1px,#dcff00 17px,#e8ff00 22px,#ff0 28px,#ffd600 44px,#ff9f00 70px,#ff7d00 83px,#ff4b00 98px,#ff0100 115px,#ff0006 116px,#ff0060 127px,#ff00fb 143px,#ff05ff 144px,#ff26ff 149px,#ff2eff 153px,#ff25ff 156px,#f0f 161px,#ff00ce 165px,#ff0096 169px,#ff0057 173px,#ff0100 178px,#ff6d00 186px,#fff300 195px,#f9ff00 196px,#12ff00 206px,#00ff06 207px,#00ff7d 212px,#00fffa 217px,#00f1ff 218px,#00bfff 221px,#0098ff 224px,#008bff 226px,#0087ff 228px,#00b1ff 241px,#00cdff 252px,#00e9ff 268px,#0ff 285px,#00ffd9 311px,#00ffcb 327px,#00ffd2 337px,#00fff7 358px,#00fff4 376px)"></i><i class=a style="background:linear-gradient(90deg,#d4ff00 1px,#df0 18px,#fffe00 29px,#ffd800 44px,#ffa200 70px,#ff7e00 84px,#ff4700 100px,#ff0002 116px,#f06 128px,#ff01ff 143px,#ff2dff 149px,#ff37ff 153px,#ff2dff 156px,#ff06ff 161px,#ff00fb 162px,#ff009a 169px,#ff0059 173px,#ff0100 178px,#ff7200 186px,#fffc00 195px,#ebff00 196px,#00ff02 206px,#00fff9 216px,#00f2ff 217px,#00abff 221px,#007fff 224px,#0070ff 226px,#006cff 228px,#0070ff 230px,#00a1ff 242px,#00c3ff 254px,#00e3ff 271px,#00feff 291px,#00ffdc 315px,#00ffd1 329px,#00ffd7 338px,#00fff9 358px,#00fff4 376px)"></i><i class=a style="background:linear-gradient(90deg,#d4ff00 1px,#dcff00 18px,#e5ff00 22px,#feff00 29px,#ffdb00 44px,#ffad00 67px,#ff8a00 81px,#ff6200 94px,#ff3700 105px,#ff0300 116px,#ff0004 117px,#ff0063 128px,#ff00a0 134px,#ff00f9 142px,#ff04ff 143px,#ff34ff 149px,#ff3dff 151px,#ff3fff 153px,#ff2eff 157px,#ff03ff 162px,#ff00db 165px,#ff009e 169px,#ff0200 178px,#ff6700 185px,#fff500 194px,#f6ff00 195px,#01ff00 205px,#00fff7 215px,#00f3ff 216px,#0085ff 222px,#06f 224px,#05f 226px,#0050ff 228px,#05f 230px,#008eff 242px,#00b7ff 255px,#00dfff 274px,#00fcff 295px,#0ff 298px,#0fd 321px,#00ffd6 330px,#00ffdc 339px,#00fff9 357px,#00fff4 376px)"></i><i class=a style="background:linear-gradient(90deg,#d4ff00 1px,#df0 19px,#e9ff00 24px,#ff0 30px,#ffe000 43px,#ffb100 67px,#ff8f00 81px,#f60 94px,#ff3800 106px,#ff0200 117px,#ff0006 118px,#ff005f 128px,#ff009d 134px,#ff00fb 142px,#ff06ff 143px,#ff3bff 149px,#f4f 151px,#ff46ff 153px,#ff41ff 155px,#ff35ff 157px,#ff00fc 163px,#ff00a2 169px,#ff0300 178px,#ff6c00 185px,#fffe00 194px,#05ff00 204px,#00ff14 205px,#00fff7 214px,#00f4ff 215px,#00beff 218px,#006eff 222px,#004cff 224px,#0039ff 226px,#0034ff 228px,#003aff 230px,#007bff 242px,#00a6ff 254px,#00cdff 270px,#0ef 290px,#00fffe 304px,#00ffe3 322px,#00ffdb 332px,#00ffdf 339px,#00fff9 356px,#00fff4 376px)"></i><i class=a style="background:linear-gradient(90deg,#d4ff00 1px,#dcff00 19px,#e7ff00 24px,#fffe00 31px,#ffe400 42px,#ffb500 67px,#ff9300 81px,#ff6b00 94px,#ff3d00 106px,#ff0100 118px,#ff0007 119px,#ff0063 129px,#ff00a5 135px,#ff00fb 142px,#ff07ff 143px,#ff3fff 149px,#ff4aff 151px,#ff4dff 153px,#ff48ff 155px,#ff3cff 157px,#ff04ff 163px,#ff00f5 164px,#ff00b7 168px,#ff0070 172px,#ff000f 177px,#ff0400 178px,#ff6100 184px,#fff600 193px,#f4ff00 194px,#09ff00 203px,#00ff10 204px,#00fff7 213px,#00f3ff 214px,#00beff 217px,#05f 222px,#0032ff 224px,#001eff 226px,#0018ff 228px,#001fff 230px,#0063ff 241px,#0091ff 252px,#00bcff 267px,#00e1ff 286px,#0ff 309px,#00ffe8 324px,#00ffe0 333px,#00ffe4 340px,#00fffa 356px,#00fff4 376px)"></i><i class=a style="background:linear-gradient(90deg,#d4ff00 1px,#df0 20px,#e8ff00 25px,#fdff00 31px,#ffb700 68px,#ff9200 83px,#ff6900 96px,#ff3900 108px,#f00 119px,#ff0008 120px,#ff0068 130px,#ff00ad 136px,#ff00fa 142px,#ff07ff 143px,#ff43ff 149px,#ff4fff 151px,#ff53ff 153px,#ff4fff 155px,#ff43ff 157px,#ff00fc 164px,#f0a 169px,#ff000e 177px,#ff0500 178px,#ff6500 184px,#fffe00 193px,#b2ff00 196px,#0fff00 202px,#00ff0b 203px,#00fff7 212px,#00f3ff 213px,#0af 217px,#003cff 222px,#0016ff 224px,#0002ff 226px,#00f 229px,#0050ff 241px,#0083ff 252px,#00b2ff 267px,#00d7ff 285px,#0ff 314px,#00ffeb 327px,#00ffe5 335px,#00ffe8 341px,#00fffb 355px,#00fff4 376px)"></i><i class=a style="background:linear-gradient(90deg,#d4ff00 1px,#deff00 21px,#e9ff00 26px,#feff00 32px,#ffbc00 68px,#ff9700 83px,#ff6f00 96px,#ff3a00 109px,#f00 120px,#ff0008 121px,#ff0037 126px,#ff006b 131px,#ff00b4 137px,#ff00f8 142px,#ff06ff 143px,#ff46ff 149px,#ff53ff 151px,#ff58ff 153px,#ff51ff 156px,#ff42ff 158px,#ff03ff 164px,#ff00f3 165px,#ff00c1 168px,#ff0074 172px,#ff000d 177px,#ff0600 178px,#ff5800 183px,#fff400 192px,#f5ff00 193px,#18ff00 201px,#00ff04 202px,#00fff6 211px,#00f3ff 212px,#0af 216px,#0081ff 218px,#02f 222px,#000dff 223px,#0000fb 224px,#0000ed 226px,#0000ea 228px,#0003ff 233px,#0030ff 239px,#0054ff 245px,#0074ff 252px,#0092ff 260px,#00b9ff 274px,#00d8ff 290px,#0ff 319px,#00ffea 336px,#00ffed 342px,#00fffc 355px,#00fff5 376px)"></i><i class=a style="background:linear-gradient(90deg,#d4ff00 1px,#df0 21px,#e7ff00 26px,#feff00 33px,#ffbe00 69px,#ff9a00 84px,#ff7100 97px,#ff3c00 110px,#ff0100 121px,#ff0008 122px,#ff0038 127px,#ff006e 132px,#ff00ad 137px,#ff03ff 143px,#ff47ff 149px,#f5f 151px,#ff5cff 153px,#ff56ff 156px,#ff48ff 158px,#ff08ff 164px,#ff00fa 165px,#ff009f 170px,#ff000d 177px,#ff0600 178px,#fffc00 192px,#eaff00 193px,#98ff00 196px,#05ff00 201px,#00ff17 202px,#00fff4 210px,#00f4ff 211px,#0096ff 216px,#006aff 218px,#0005ff 222px,#0000f4 223px,#0000e0 225px,#0000d8 227px,#0000e0 230px,#0000fd 235px,#002bff 241px,#0049ff 246px,#007fff 258px,#00b0ff 274px,#00d8ff 294px,#0ff 323px,#00ffef 338px,#00fffc 355px,#00fff5 376px)"></i><i class=a style="background:linear-gradient(90deg,#d4ff00 1px,#deff00 22px,#e8ff00 27px,#feff00 34px,#ffc300 69px,#ff9f00 84px,#ff7300 98px,#ff3e00 111px,#ff0100 122px,#ff0007 123px,#ff0065 132px,#ff00a4 137px,#ff00fc 143px,#ff0bff 144px,#ff30ff 147px,#ff4eff 150px,#ff5aff 152px,#ff5eff 154px,#ff5aff 156px,#ff45ff 159px,#ff01ff 165px,#ff00b7 169px,#ff000d 177px,#ff0700 178px,#fff100 191px,#faff00 192px,#8bff00 196px,#12ff00 200px,#00ff0c 201px,#00fff0 209px,#00f6ff 210px,#0080ff 216px,#0051ff 218px,#00f 221px,#0000ef 222px,#0000d4 224px,#0000c6 227px,#0000cf 230px,#0002ff 238px,#0027ff 243px,#004aff 249px,#0082ff 262px,#00b1ff 278px,#00d8ff 298px,#0ff 328px,#00fff3 339px,#00fffd 354px,#00fff5 376px)"></i><i class=a style="background:linear-gradient(90deg,#d4ff00 1px,#df0 22px,#e6ff00 27px,#fffe00 36px,#ffc500 70px,#ff9f00 86px,#ff7300 100px,#ff4000 112px,#ff0300 123px,#ff0006 124px,#ff0038 129px,#ff0073 134px,#ff00b7 139px,#ff00f5 143px,#ff05ff 144px,#ff2cff 147px,#ff4cff 150px,#ff59ff 152px,#ff5eff 154px,#ff5cff 156px,#ff4aff 159px,#ff2bff 162px,#ff06ff 165px,#ff00f5 166px,#ff00d0 168px,#ff000e 177px,#ff0700 178px,#fff700 191px,#f0ff00 192px,#7fff00 196px,#01ff00 200px,#00ffea 208px,#00f9ff 209px,#0080ff 215px,#0050ff 217px,#0000fd 220px,#0000d9 222px,#0000c0 224px,#0000b5 227px,#0000c0 230px,#00f 240px,#0024ff 245px,#0046ff 251px,#007eff 264px,#00b0ff 281px,#00d7ff 301px,#0ff 332px,#00fff7 340px,#00fffe 354px,#00fff5 376px)"></i><i class=a style="background:linear-gradient(90deg,#d4ff00 1px,#deff00 23px,#feff00 37px,#ffca00 70px,#ffa200 87px,#ff7600 101px,#ff4300 113px,#ff0500 124px,#ff0003 125px,#ff000d 126px,#ff005a 133px,#ff00ab 139px,#ff00fb 144px,#ff0aff 145px,#ff31ff 148px,#ff45ff 150px,#ff57ff 153px,#ff59ff 155px,#ff54ff 157px,#ff49ff 159px,#ff2cff 162px,#ff08ff 165px,#ff00f8 166px,#ff00d3 168px,#ff000e 177px,#ff0700 178px,#ff6400 183px,#00ff4e 202px,#00fcff 208px,#007dff 214px,#004bff 216px,#0013ff 218px,#0000f8 219px,#0000d2 221px,#0000b7 223px,#0000a8 225px,#0000a5 227px,#0000b1 230px,#0000e2 237px,#0000fe 242px,#04f 253px,#007bff 266px,#00abff 282px,#00d1ff 301px,#00ebff 318px,#00feff 336px,#00fffb 342px,#00fffe 354px,#00fff5 376px)"></i><i class=a style="background:linear-gradient(90deg,#d4ff00 1px,#dfff00 24px,#ff0 40px,#ffcb00 72px,#ffa500 88px,#ff7500 103px,#ff4100 115px,#f00 126px,#ff0034 131px,#ff0073 136px,#ff00ac 140px,#ff01ff 145px,#ff28ff 148px,#ff3dff 150px,#ff4eff 153px,#ff50ff 155px,#ff4aff 157px,#ff3fff 159px,#ff23ff 162px,#f0f 165px,#ff00b8 169px,#ff0009 177px,#00f9ff 207px,#0073ff 213px,#0040ff 215px,#0008ff 217px,#0000f0 218px,#0000ca 220px,#0000ac 222px,#00009a 224px,#000095 226px,#00009e 229px,#0000d6 237px,#0000fe 244px,#003dff 254px,#0072ff 266px,#009eff 280px,#00c2ff 296px,#00e3ff 316px,#00fcff 338px,#0ff 353px,#00fff5 376px)"></i><i class=a style="background:linear-gradient(90deg,#d4ff00 1px,#dfff00 25px,#ff0 43px,#ffd100 72px,#ffac00 88px,#ff7d00 103px,#ff4500 116px,#ff0300 127px,#ff0005 128px,#ff0026 131px,#ff0064 136px,#ff009d 140px,#ff03ff 146px,#ff32ff 150px,#ff3eff 152px,#ff42ff 154px,#ff3eff 156px,#f3f 158px,#ff04ff 163px,#ff00f6 164px,#ff00b7 168px,#ff0052 173px,#0092ff 210px,#01f 215px,#0000f7 216px,#0000be 219px,#0000a0 221px,#008 224px,#000086 226px,#000091 229px,#0000d2 238px,#00f 246px,#003cff 256px,#0070ff 268px,#009cff 282px,#00c0ff 298px,#00e0ff 317px,#00faff 339px,#0ff 353px,#00fff5 376px)"></i><i class=a style="background:linear-gradient(90deg,#d4ff00 1px,#e1ff00 27px,#ff0 46px,#ffd200 74px,#fa0 91px,#ff7a00 106px,#f40 118px,#f00 129px,#ff0038 134px,#ff006e 138px,#ff02ff 147px,#f2f 150px,#ff2eff 153px,#ff20ff 156px,#ff08ff 158px,#ff00f7 159px,#ff00b7 162px,#ff0015 169px,#002aff 210px,#0002ff 212px,#00a 218px,#000092 220px,#000081 222px,#000078 225px,#00007c 227px,#000086 229px,#0000cf 239px,#0002ff 248px,#003cff 258px,#006fff 270px,#0097ff 283px,#00bcff 299px,#00deff 319px,#00f8ff 341px,#0ff 354px,#00fff5 376px)"></i><i class=a style="background:linear-gradient(90deg,#d3ff00 1px,#e3ff00 31px,#ff0 49px,#ffd800 74px,#ffae00 92px,#ff7e00 107px,#ff4900 119px,#ff0500 130px,#ff0004 131px,#ff004d 137px,#f08 141px,#ff00ed 147px,#ff00fc 148px,#ff08ff 149px,#ff14ff 151px,#ff16ff 153px,#ff07ff 155px,#ff00f9 156px,#ff00ca 158px,#ff00ae 159px,#ff000e 164px,#ff0c00 165px,#ff3600 167px,#0000ef 208px,#008 218px,#000073 221px,#00006b 224px,#007 228px,#0000cd 240px,#0000ef 246px,#0004ff 250px,#003cff 260px,#006aff 271px,#0093ff 284px,#00b9ff 300px,#00dcff 321px,#00f9ff 345px,#0ff 354px,#00fff5 376px)"></i><i class=a style="background:linear-gradient(90deg,#d3ff00 1px,#e2ff00 35px,#ff0 53px,#ffdc00 75px,#ffb000 94px,#ff8000 109px,#f40 122px,#ff0300 132px,#ff0013 134px,#ff0054 139px,#ff00e4 148px,#ff00f9 150px,#ff00fd 152px,#ff00f8 153px,#ff00ec 154px,#ff00c4 156px,#ff0081 158px,#ff0004 161px,#ff7000 165px,#ffa300 167px,#0000d3 204px,#0000a5 209px,#000083 214px,#000068 219px,#000060 223px,#000062 225px,#00006e 228px,#0000c5 240px,#00f 251px,#0038ff 261px,#006aff 273px,#0092ff 286px,#00b5ff 301px,#00d8ff 321px,#00fbff 349px,#00fff6 376px)"></i><i class=a style="background:linear-gradient(90deg,#d3ff00 1px,#deff00 36px,#ff0 56px,#ffde00 77px,#ffb500 95px,#ff8500 110px,#ff5000 122px,#ff2d00 128px,#ff0200 134px,#ff0009 135px,#ff004b 140px,#ff00c8 148px,#ff00da 150px,#ff00db 151px,#ff00d0 153px,#ff00a8 155px,#ff008b 156px,#ff0065 157px,#ff0012 159px,#ff1300 160px,#ff4e00 162px,#ff8300 164px,#fff900 169px,#e6ff00 170px,#0000f4 200px,#0000a5 208px,#000085 212px,#000061 218px,#000058 222px,#000059 224px,#000063 227px,#0000ca 242px,#0000ef 249px,#0003ff 253px,#0039ff 263px,#06f 274px,#008fff 287px,#00b2ff 302px,#00d2ff 320px,#00fbff 350px,#0ff 355px,#00fff6 376px)"></i><i class=a style="background:linear-gradient(90deg,#d3ff00 1px,#dcff00 23px,#dbff00 38px,#ff0 60px,#ffe200 78px,#ffb800 97px,#f80 112px,#ff5100 124px,#ff2700 131px,#ff0100 136px,#ff000a 137px,#ff0040 141px,#ff009d 147px,#ff00b3 149px,#ff00b9 150px,#ff00b2 152px,#ff00a7 153px,#ff0091 154px,#ff0076 155px,#ff0054 156px,#ff0001 158px,#ff7400 162px,#fffd00 168px,#2aff00 175px,#0056ff 194px,#000dff 198px,#0000fd 199px,#0000a2 208px,#000080 212px,#00005c 218px,#000052 222px,#000056 225px,#000063 228px,#0000c4 242px,#0001ff 254px,#0036ff 264px,#0063ff 275px,#008cff 288px,#00adff 302px,#00cbff 318px,#00fcff 351px,#00fff6 376px)"></i><i class=a style="background:linear-gradient(90deg,#d3ff00 1px,#dcff00 23px,#d6ff00 39px,#e2ff00 48px,#feff00 63px,#ffe500 80px,#fb0 99px,#ff8700 115px,#ff4e00 127px,#ff2900 133px,#ff0200 138px,#ff000a 139px,#ff007d 147px,#ff0091 149px,#ff0096 150px,#ff008b 152px,#ff007c 153px,#f04 155px,#ff0020 156px,#ff0700 157px,#ff5e00 160px,#ff9100 162px,#fffa00 167px,#e7ff00 168px,#17ff00 175px,#00ff07 176px,#00ffa2 181px,#00fff7 184px,#00f3ff 185px,#001eff 197px,#0000fd 199px,#0000a3 208px,#00007a 213px,#00005b 218px,#000051 221px,#000050 223px,#000053 225px,#00005f 228px,#0000bf 242px,#0000fe 255px,#0038ff 266px,#0063ff 277px,#0089ff 289px,#0af 303px,#00fcff 352px,#00fff6 376px)"></i><i class=a style="background:linear-gradient(90deg,#d3ff00 1px,#dbff00 22px,#d2ff00 40px,#deff00 50px,#fffe00 68px,#ffe800 82px,#ffbe00 101px,#ff8b00 117px,#ff5200 129px,#ff2c00 135px,#ff0400 140px,#ff0007 141px,#ff005b 147px,#ff006c 149px,#ff006f 150px,#ff0061 152px,#ff0050 153px,#ff0016 155px,#ff0b00 156px,#ff5f00 159px,#ffa700 162px,#fff800 166px,#ecff00 167px,#05ff00 175px,#00ff18 176px,#00ffae 181px,#00feff 184px,#002eff 196px,#0000fd 199px,#0000a6 208px,#00007d 213px,#000059 219px,#000050 223px,#000052 225px,#00005e 228px,#0000c0 243px,#0000e8 251px,#0003ff 257px,#0036ff 267px,#0061ff 278px,#0086ff 290px,#00a8ff 304px,#00fdff 353px,#00fff6 376px)"></i><i class=a style="background:linear-gradient(90deg,#d3ff00 1px,#dbff00 22px,#ceff00 35px,#cdff00 41px,#dcff00 53px,#ff0 72px,#ffe900 85px,#ffc000 104px,#ff8b00 120px,#ff6c00 127px,#ff4b00 133px,#ff3000 137px,#ff0002 143px,#ff0037 147px,#ff0046 149px,#ff0048 150px,#ff0037 152px,#ff0025 153px,#ff0009 154px,#ff1000 155px,#ff7900 159px,#ffa700 161px,#fff700 165px,#efff00 166px,#0fff00 174px,#00ff0d 175px,#00fff1 183px,#00f7ff 184px,#002cff 196px,#0000fd 199px,#0000a8 208px,#000079 214px,#000058 220px,#000051 224px,#000059 227px,#000062 229px,#0000a4 239px,#00c 246px,#0002ff 258px,#0034ff 268px,#005fff 279px,#0083ff 291px,#00a5ff 305px,#00fcff 353px,#00fff6 376px)"></i><i class=a style="background:linear-gradient(90deg,#d3ff00 1px,#daff00 22px,#caff00 36px,#c8ff00 42px,#daff00 56px,#ff0 76px,#ffed00 87px,#ffc200 107px,#ff9100 122px,#ff5700 134px,#ff2e00 140px,#ff0400 145px,#ff0006 146px,#ff0019 148px,#ff0020 150px,#ff0019 151px,#ff0400 153px,#ff2e00 155px,#ff9200 159px,#ffbd00 161px,#fff600 164px,#f0ff00 165px,#4bff00 171px,#16ff00 173px,#00ff05 174px,#00fffc 183px,#002aff 196px,#000bff 198px,#0000fc 199px,#0000b2 207px,#000083 213px,#000060 219px,#000057 221px,#000053 224px,#00005d 228px,#0000c2 245px,#0000e4 252px,#0002ff 259px,#0032ff 269px,#005cff 280px,#0081ff 292px,#00a1ff 305px,#00d9ff 337px,#00fcff 354px,#00fff6 376px)"></i><i class=a style="background:linear-gradient(90deg,#d2ff00 1px,#d9ff00 22px,#c5ff00 37px,#c4ff00 44px,#d8ff00 60px,#feff00 80px,#fff500 87px,#fc0 107px,#ff9b00 123px,#ff6a00 134px,#f40 140px,#ff0f00 147px,#ff0700 150px,#ff1500 152px,#f20 153px,#ff4900 155px,#ffa800 159px,#fff700 163px,#f0ff00 164px,#01ff00 173px,#00ffef 182px,#00f9ff 183px,#0037ff 195px,#000aff 198px,#0000fc 199px,#0000b4 207px,#000086 213px,#000063 219px,#000056 224px,#00005b 227px,#000063 229px,#0000c5 246px,#0001ff 260px,#0031ff 270px,#0057ff 280px,#007cff 292px,#009cff 305px,#00d5ff 336px,#00fdff 355px,#00fff6 376px)"></i><i class=a style="background:linear-gradient(90deg,#d2ff00 1px,#d8ff00 21px,#c1ff00 38px,#bfff00 46px,#d6ff00 64px,#fffe00 86px,#ffd700 107px,#fa0 123px,#f70 135px,#ff5b00 140px,#ff2b00 147px,#ff2400 149px,#ff2900 151px,#ff3e00 153px,#ff6400 155px,#ffbd00 159px,#fff700 162px,#f0ff00 163px,#05ff00 172px,#00ff14 173px,#00fffc 182px,#0034ff 195px,#0008ff 198px,#0000fb 199px,#0000b5 207px,#000089 213px,#000067 219px,#000059 224px,#000065 229px,#0000c2 246px,#0000e6 254px,#0002ff 261px,#0030ff 271px,#0056ff 281px,#007bff 293px,#009aff 306px,#00d2ff 336px,#00fcff 355px,#00fff6 376px)"></i><i class=a style="background:linear-gradient(90deg,#d2ff00 1px,#d8ff00 20px,#bdff00 38px,#baff00 47px,#d2ff00 67px,#fffe00 91px,#ffdb00 110px,#ffb200 125px,#ff8700 136px,#ff4700 147px,#ff4100 149px,#ff4600 151px,#ff5a00 153px,#ff7d00 155px,#fff700 161px,#efff00 162px,#08ff00 171px,#00ff10 172px,#00fff1 181px,#00f8ff 182px,#0040ff 194px,#0007ff 198px,#0000fa 199px,#0000be 206px,#00008c 213px,#00006b 219px,#00005d 224px,#000068 229px,#0000c9 248px,#0002ff 262px,#002bff 271px,#05f 282px,#0076ff 293px,#0096ff 306px,#00cdff 335px,#00fbff 355px,#0ff 358px,#00fff6 376px)"></i><i class=a style="background:linear-gradient(90deg,#d2ff00 1px,#d7ff00 20px,#b8ff00 39px,#b4ff00 49px,#d4ff00 74px,#ff0 96px,#ffe200 112px,#ffbf00 126px,#ff9b00 136px,#ff6400 147px,#ff5e00 149px,#ff6300 151px,#ff7500 153px,#ff9500 155px,#fff700 160px,#f0ff00 161px,#0bff00 170px,#00ff0e 171px,#0ff 181px,#004aff 193px,#0006ff 198px,#0000fa 199px,#0000c0 206px,#00008f 213px,#00006f 219px,#000062 224px,#000065 227px,#00006f 230px,#00c 249px,#0003ff 263px,#002bff 272px,#0054ff 283px,#0075ff 294px,#0093ff 306px,#00c9ff 334px,#00fcff 356px,#00fff6 376px)"></i><i class=a style="background:linear-gradient(90deg,#d2ff00 1px,#d7ff00 19px,#b4ff00 40px,#afff00 50px,#cfff00 77px,#ff0 102px,#ffe600 116px,#ffc900 128px,#ffac00 137px,#ff8000 147px,#ff7b00 149px,#ff8000 151px,#ff9000 153px,#ffad00 155px,#fff600 159px,#f1ff00 160px,#0eff00 169px,#00ff0a 170px,#00fff6 180px,#00f6ff 181px,#007fff 189px,#002cff 195px,#0004ff 198px,#0000f9 199px,#0000c1 206px,#000092 213px,#000073 219px,#006 224px,#000069 227px,#000072 230px,#0000ca 249px,#0000fe 263px,#002bff 273px,#004fff 283px,#0071ff 294px,#008fff 306px,#00c4ff 333px,#00fdff 357px,#00fff6 376px)"></i><i class=a style="background:linear-gradient(90deg,#d2ff00 1px,#d6ff00 19px,#afff00 41px,#a9ff00 52px,#b3ff00 63px,#cbff00 81px,#ff0 109px,#ffd500 130px,#ff9800 149px,#ff9c00 151px,#fa0 153px,#ffc300 155px,#fff500 158px,#f3ff00 159px,#29ff00 167px,#1f0 168px,#00ff07 169px,#00ffed 179px,#00fcff 180px,#0043ff 193px,#0003ff 198px,#0000f9 199px,#0000c2 206px,#000095 213px,#007 219px,#00006b 224px,#00006d 227px,#000076 230px,#0000cd 250px,#00f 264px,#002bff 274px,#004fff 284px,#008bff 306px,#00c2ff 333px,#00fdff 358px,#00fff6 376px)"></i><i class=a style="background:linear-gradient(90deg,#d2ff00 1px,#d4ff00 19px,#abff00 41px,#a3ff00 53px,#adff00 65px,#c6ff00 85px,#e1ff00 102px,#feff00 116px,#ffe200 132px,#ffb500 149px,#ffb800 151px,#ffc400 153px,#ffda00 155px,#fff700 157px,#f3ff00 158px,#14ff00 167px,#00ff03 168px,#00fffc 179px,#00f3ff 180px,#0040ff 193px,#0002ff 198px,#0000f8 199px,#0000bd 207px,#000092 214px,#000078 220px,#000070 224px,#00007a 230px,#0000d4 252px,#0002ff 265px,#004bff 284px,#08f 306px,#00beff 332px,#00fdff 358px,#00fff7 376px)"></i><i class=a style="background:linear-gradient(90deg,#d1ff00 1px,#d4ff00 18px,#a5ff00 43px,#9eff00 50px,#9dff00 56px,#aeff00 75px,#c5ff00 93px,#dbff00 107px,#feff00 125px,#ffef00 135px,#ffd100 149px,#ffd300 151px,#fd0 153px,#fffc00 156px,#efff00 157px,#c2ff00 159px,#01ff00 167px,#00fff3 178px,#00f9ff 179px,#003eff 193px,#0002ff 198px,#0000f8 199px,#0000bf 207px,#000096 214px,#00007f 219px,#000075 224px,#007 227px,#000081 231px,#0000d3 252px,#0000fe 265px,#003aff 280px,#0069ff 295px,#0089ff 308px,#00beff 333px,#00f7ff 356px,#0ff 360px,#00fff9 366px,#00fff7 376px)"></i><i class=a style="background:linear-gradient(90deg,#d1ff00 1px,#d4ff00 17px,#a0ff00 44px,#98ff00 51px,#97ff00 58px,#a5ff00 76px,#c2ff00 101px,#e0ff00 121px,#feff00 137px,#ffec00 149px,#fff200 152px,#fffe00 154px,#e4ff00 156px,#beff00 158px,#06ff00 166px,#00ff10 167px,#00feff 178px,#0086ff 187px,#003cff 193px,#0001ff 198px,#0000f8 199px,#0000c1 207px,#009 214px,#000083 219px,#00007a 224px,#00007c 227px,#000089 232px,#0000d9 254px,#0001ff 266px,#0037ff 280px,#06f 295px,#00bcff 333px,#00f8ff 357px,#00fffe 361px,#00fff7 376px)"></i><i class=a style="background:linear-gradient(90deg,#d1ff00 1px,#d2ff00 17px,#9cff00 44px,#92ff00 52px,#90ff00 59px,#9bff00 75px,#b4ff00 101px,#dcff00 134px,#f1ff00 147px,#f1ff00 150px,#e5ff00 153px,#c4ff00 156px,#90ff00 159px,#0bff00 165px,#00ff0b 166px,#00fff7 177px,#00f7ff 178px,#003aff 193px,#0001ff 198px,#0000f8 199px,#0000c3 207px,#00009c 214px,#008 219px,#00007f 224px,#000083 228px,#000090 233px,#0000fe 266px,#0038ff 281px,#0063ff 295px,#00baff 333px,#00faff 358px,#0ff 361px,#00fff9 366px,#00fff7 376px)"></i><i class=a style="background:linear-gradient(90deg,#d1ff00 2px,#d2ff00 16px,#98ff00 44px,#8dff00 52px,#89ff00 59px,#92ff00 77px,#caff00 145px,#caff00 150px,#bfff00 153px,#a3ff00 156px,#75ff00 159px,#0fff00 164px,#00ff06 165px,#00ffed 176px,#00fdff 177px,#04f 192px,#0001ff 198px,#0000f9 199px,#0000c5 207px,#00009f 214px,#00008c 219px,#000084 224px,#008 228px,#000094 233px,#0001ff 267px,#0035ff 281px,#0060ff 295px,#0bf 334px,#00f8ff 358px,#00fffe 362px,#00fff7 375px)"></i><i class=a style="background:linear-gradient(90deg,#d1ff00 2px,#d1ff00 16px,#97ff00 43px,#8f0 52px,#82ff00 60px,#85ff00 72px,#a4ff00 123px,#a7ff00 144px,#a4ff00 149px,#9f0 153px,#81ff00 156px,#5aff00 159px,#1f0 163px,#00ff04 164px,#00fff8 176px,#00f7ff 177px,#08f 186px,#0037ff 193px,#0002ff 198px,#0000f9 199px,#0000c7 207px,#0000a2 214px,#000090 219px,#00008a 224px,#00008d 228px,#00009a 234px,#00f 267px,#03f 281px,#005dff 295px,#00beff 336px,#00f7ff 358px,#0ff 362px,#00fff9 367px,#00fff7 375px)"></i><i class=a style="background:linear-gradient(90deg,#d1ff00 2px,#d0ff00 16px,#97ff00 41px,#84ff00 52px,#7cff00 60px,#7bff00 70px,#8fff00 121px,#84ff00 146px,#7bff00 151px,#67ff00 155px,#5f0 157px,#3dff00 159px,#0eff00 162px,#00ff05 163px,#0fe 175px,#00fdff 176px,#0057ff 190px,#0002ff 198px,#0000fa 199px,#0000c9 207px,#0000a6 214px,#000095 219px,#00008f 224px,#000094 229px,#0000a1 235px,#0003ff 268px,#0031ff 281px,#005bff 295px,#00bcff 336px,#00f8ff 359px,#00fffe 363px,#00fff7 375px)"></i><i style="background:linear-gradient(90deg,#d1ff00 2px,#cfff00 15px,#92ff00 41px,#7cff00 53px,#71ff00 62px,#6eff00 72px,#74ff00 113px,#71ff00 123px,#68ff00 133px,#5aff00 143px,#49ff00 150px,#3f0 155px,#10ff00 159px,#02ff0b 161px,#00ff27 163px,#00ff7c 168px,#00fefc 175px,#00f4ff 176px,#05f 190px,#0004ff 198px,#0000fb 199px,#0000d1 206px,#0000af 213px,#00009f 218px,#000098 224px,#00009b 229px,#0000a9 236px,#0001ff 268px,#002eff 281px,#05f 294px,#00c1ff 339px,#00f9ff 360px,#0ff 363px,#00fff7 375px)"></i><i style="background:linear-gradient(90deg,#d0ff00 2px,#d1ff00 10px,#cf0 15px,#98ff00 35px,#67ff00 61px,#5dff00 72px,#59ff00 100px,#4dff00 121px,#32ff00 137px,#0eff01 149px,#00ff10 155px,#00ff37 160px,#00ff59 163px,#00ff82 166px,#00fff1 173px,#00fcfd 174px,#00f2ff 175px,#0052ff 190px,#0005ff 198px,#0000fc 199px,#0000d5 206px,#0000b6 213px,#0000a8 218px,#0000a2 224px,#0000a6 230px,#0000b2 237px,#00f 268px,#004eff 293px,#00c8ff 343px,#00f9ff 361px,#0ff 364px,#00fff7 375px)"></i><i style="background:linear-gradient(90deg,#d0ff00 2px,#cdff00 13px,#8fff00 36px,#57ff00 65px,#4cff00 75px,#41ff00 98px,#36ff00 111px,#26ff00 123px,#0aff00 135px,#00ff10 143px,#00ff2f 150px,#00ff52 156px,#00ff68 159px,#00ff8d 163px,#0fb 167px,#00fff1 171px,#00fcfb 172px,#00f5ff 173px,#004fff 190px,#0000fd 199px,#0000d9 206px,#0000c1 212px,#0000b2 218px,#0000ad 224px,#0000b1 231px,#0000bd 239px,#00f 268px,#0048ff 292px,#00c5ff 343px,#00faff 362px,#00fffe 365px,#00fff7 375px)"></i><i style="background:linear-gradient(90deg,#d0ff00 3px,#caff00 13px,#8bff00 35px,#47ff00 68px,#37ff00 80px,#2f0 104px,#08ff00 121px,#01ff07 127px,#00ff30 140px,#00ff60 150px,#00ff9c 159px,#00ffbf 163px,#00fff2 168px,#00f8ff 170px,#0030ff 193px,#0000fe 199px,#00d 206px,#0000c8 212px,#00b 218px,#0000b7 225px,#0000ba 232px,#0000c5 240px,#00f 268px,#0040ff 290px,#00c2ff 343px,#00faff 363px,#00fffe 366px,#00fff8 374px)"></i><i style="background:linear-gradient(90deg,#cfff00 3px,#ceff00 9px,#c7ff00 13px,#85ff00 35px,#37ff00 71px,#24ff00 82px,#07ff00 105px,#00ff07 113px,#00ff28 127px,#00ff5c 141px,#00ff9f 153px,#00ffca 159px,#00fff5 164px,#00f9fe 166px,#00dfff 170px,#0095ff 180px,#0016ff 196px,#00f 199px,#0000fa 200px,#0000e2 206px,#0000cd 213px,#0000c3 219px,#0000c0 226px,#0000cd 241px,#0001ff 268px,#0043ff 292px,#00c5ff 345px,#00fbff 364px,#00fff8 374px)"></i><i style="background:linear-gradient(90deg,#cfff00 3px,#c6ff00 12px,#83ff00 33px,#37ff00 66px,#09ff00 89px,#00ff06 99px,#00ff2f 119px,#00ff60 134px,#00ff9f 147px,#00ffc4 153px,#00fef7 160px,#00f9ff 162px,#00d0ff 169px,#001cff 195px,#0002ff 199px,#0000fc 200px,#0000e7 206px,#0000d5 213px,#0000cb 220px,#0000c8 227px,#0000d4 242px,#00f 267px,#003fff 291px,#00c0ff 344px,#00f9ff 364px,#0ff 367px,#00fff8 374px)"></i><i style="background:linear-gradient(90deg,#ceff00 4px,#c3ff00 12px,#92ff00 26px,#63ff00 43px,#06ff00 83px,#00ff03 87px,#00ff36 112px,#00ff62 127px,#00ff9e 141px,#00ffc5 148px,#00fef8 156px,#00f9ff 158px,#00caff 167px,#001cff 195px,#0005ff 199px,#0000fb 201px,#0000da 214px,#0000d0 227px,#0000db 243px,#00f 266px,#00b8ff 342px,#00faff 365px,#0ff 368px,#00fff9 373px)"></i><i style="background:linear-gradient(90deg,#cdff00 4px,#c0ff00 12px,#90ff00 25px,#61ff00 41px,#00ff03 82px,#00ff4d 112px,#00ff75 125px,#00ffab 138px,#00fff9 152px,#00faff 154px,#00c5ff 165px,#02f 194px,#0004ff 200px,#0000fc 202px,#0000e0 215px,#0000d8 228px,#0000e1 243px,#0001ff 265px,#00b1ff 340px,#00f8ff 365px,#00feff 368px,#00fffa 373px)"></i><i style="background:linear-gradient(90deg,#cbff00 5px,#bdff00 12px,#8eff00 24px,#6f0 37px,#00ff03 78px,#0f4 102px,#00ff81 122px,#00ffb5 135px,#00fff9 148px,#00fbff 150px,#00d5ff 159px,#0028ff 193px,#0009ff 200px,#0000fd 203px,#0000e6 216px,#0000df 229px,#0000e6 243px,#0002ff 264px,#00a8ff 337px,#00ceff 352px,#00f9ff 366px,#00fffb 373px)"></i><i style="background:linear-gradient(90deg,#c9ff00 5px,#bdff00 11px,#89ff00 24px,#62ff00 36px,#00ff03 74px,#00ff43 97px,#00ff86 118px,#00ffb8 131px,#00fefc 145px,#00c9ff 159px,#0026ff 194px,#0007ff 202px,#0000fd 205px,#0000ea 218px,#0000e5 230px,#0000eb 243px,#0001ff 262px,#0091ff 328px,#00c4ff 349px,#00f5ff 365px,#00fffd 372px)"></i><i style="background:linear-gradient(90deg,#c5ff00 6px,#b6ff00 12px,#87ff00 23px,#62ff00 34px,#00ff02 70px,#00ff42 93px,#00ff7a 110px,#00ffba 127px,#00fffa 141px,#00fbff 143px,#00cbff 156px,#0029ff 194px,#000aff 203px,#0000fd 208px,#0000f0 219px,#0000eb 231px,#0000f0 243px,#0001ff 260px,#0034ff 286px,#0086ff 324px,#00c0ff 348px,#00f6ff 366px,#00fffe 372px)"></i><i style="background:linear-gradient(90deg,#c3ff00 6px,#b2ff00 12px,#83ff00 23px,#5cff00 34px,#00ff02 67px,#00ff47 91px,#00ff7c 107px,#00ffbc 124px,#00fffb 138px,#00fbff 140px,#00caff 154px,#002cff 194px,#000eff 204px,#0000fd 211px,#0000f4 221px,#0000f1 231px,#0000fe 256px,#0008ff 262px,#003aff 289px,#008cff 327px,#00c1ff 349px,#00f2ff 365px,#00fdff 371px)"></i><i style="background:linear-gradient(90deg,#beff00 7px,#afff00 12px,#7eff00 23px,#5aff00 33px,#00ff02 64px,#00ff48 88px,#00ff79 103px,#00ffb4 119px,#00fefd 136px,#00c7ff 153px,#0030ff 194px,#000dff 207px,#0000fd 216px,#0000f6 233px,#0000fe 252px,#0015ff 268px,#0045ff 294px,#0091ff 330px,#00baff 347px,#0ef 364px,#00faff 370px)"></i><i style="background:linear-gradient(90deg,#b8ff00 8px,#abff00 12px,#79ff00 23px,#58ff00 32px,#01ff01 61px,#00ff3b 81px,#00ff7c 101px,#0fb 118px,#00fffc 133px,#00d5ff 147px,#005dff 181px,#0030ff 195px,#000dff 210px,#0000fd 222px,#0000fa 234px,#0002ff 250px,#0025ff 276px,#005bff 305px,#0097ff 333px,#0bf 348px,#00ecff 364px,#00f7ff 369px)"></i><i style="background:linear-gradient(90deg,#b4ff00 8px,#a4ff00 13px,#75ff00 23px,#53ff00 32px,#25ff00 46px,#00ff02 59px,#00ff82 100px,#00ffbd 116px,#00feff 132px,#005aff 182px,#002cff 198px,#000bff 215px,#0002ff 225px,#0000fe 233px,#0002ff 243px,#000dff 257px,#003dff 289px,#009dff 336px,#00f5ff 369px)"></i><i style="background:linear-gradient(90deg,#aeff00 9px,#4aff00 33px,#1bff00 47px,#00ff03 57px,#00ff81 97px,#00feff 130px,#0064ff 179px,#0032ff 197px,#01f 215px,#0005ff 234px,#0008ff 246px,#0013ff 259px,#04f 292px,#009cff 336px,#00f2ff 368px)"></i><i style="background:linear-gradient(90deg,#a6ff00 10px,#4dff00 31px,#01ff01 54px,#00ff82 95px,#00feff 128px,#006dff 176px,#0038ff 196px,#0016ff 215px,#000aff 235px,#000dff 247px,#0019ff 261px,#0049ff 294px,#009bff 336px,#0ef 367px)"></i><i style="background:linear-gradient(90deg,#9fff00 11px,#48ff00 31px,#01ff01 52px,#00ff86 94px,#00fefe 126px,#0073ff 174px,#003bff 196px,#001bff 215px,#000fff 235px,#0013ff 248px,#001eff 262px,#004cff 295px,#09f 335px,#00eaff 366px)"></i><i style="background:linear-gradient(90deg,#93ff00 13px,#4f0 31px,#01ff01 50px,#00ff80 90px,#00fdff 125px,#007cff 171px,#0041ff 195px,#0020ff 215px,#0014ff 235px,#0017ff 248px,#0021ff 262px,#004dff 295px,#0098ff 335px,#00e6ff 365px)"></i><i style="background:linear-gradient(90deg,#8bff00 14px,#37ff00 33px,#00ff02 49px,#00ff8a 91px,#00feff 123px,#007fff 170px,#0046ff 194px,#0025ff 215px,#0019ff 236px,#001cff 249px,#0025ff 262px,#004eff 295px,#0096ff 334px,#00e0ff 363px)"></i><i style="background:linear-gradient(90deg,#83ff00 15px,#37ff00 32px,#01ff01 47px,#00ff8a 89px,#00feff 122px,#0084ff 168px,#004bff 193px,#0029ff 215px,#001eff 236px,#0020ff 249px,#0029ff 263px,#0050ff 295px,#0094ff 333px,#00dcff 362px)"></i><i style="background:linear-gradient(90deg,#76ff00 17px,#2fff00 33px,#00ff01 46px,#00ff97 91px,#00fffe 120px,#0085ff 168px,#004eff 193px,#002eff 215px,#02f 236px,#002bff 262px,#0050ff 294px,#0090ff 331px,#00d6ff 360px)"></i><i style="background:linear-gradient(90deg,#6eff00 18px,#27ff00 34px,#00ff02 45px,#00ff9c 91px,#00feff 119px,#0087ff 167px,#0054ff 191px,#03f 214px,#0027ff 236px,#0030ff 263px,#0052ff 294px,#008eff 330px,#00d3ff 359px)"></i><i style="background:linear-gradient(90deg,#62ff00 20px,#01ff00 43px,#00feff 118px,#008aff 166px,#0059ff 190px,#0039ff 212px,#002bff 234px,#0031ff 261px,#0051ff 292px,#0089ff 327px,#00cdff 357px)"></i><i style="background:linear-gradient(90deg,#56ff00 22px,#01ff00 42px,#00feff 117px,#008dff 165px,#005dff 189px,#003dff 212px,#002fff 234px,#0035ff 261px,#0053ff 292px,#0087ff 326px,#00c7ff 355px)"></i><i style="background:linear-gradient(90deg,#49ff00 24px,#1f0 37px,#00ff03 42px,#00feff 116px,#0090ff 164px,#0063ff 187px,#0043ff 210px,#0034ff 233px,#0038ff 260px,#0052ff 290px,#0084ff 324px,#00c2ff 353px)"></i><i style="background:linear-gradient(90deg,#3dff00 26px,#00ff02 41px,#00ff47 60px,#00feff 115px,#0093ff 163px,#0065ff 187px,#0046ff 210px,#0037ff 233px,#003aff 259px,#0053ff 289px,#0082ff 322px,#00bdff 351px)"></i><i style="background:linear-gradient(90deg,#32ff00 28px,#00ff01 40px,#00ff51 62px,#00feff 114px,#0095ff 162px,#006bff 185px,#004bff 209px,#003bff 232px,#003eff 259px,#0054ff 288px,#0080ff 320px,#00b9ff 349px)"></i><i style="background:linear-gradient(90deg,#26ff00 30px,#0f0 39px,#00ff58 63px,#0ff 113px,#0096ff 162px,#006fff 184px,#004fff 208px,#003fff 231px,#0040ff 257px,#0054ff 286px,#007dff 318px,#00b4ff 347px)"></i><i style="background:linear-gradient(90deg,#1aff00 32px,#00ff02 39px,#00ff58 62px,#0ff 112px,#09f 161px,#0073ff 183px,#0052ff 208px,#0043ff 231px,#04f 258px,#0057ff 286px,#007cff 316px,#00b0ff 345px)"></i><i style="background:linear-gradient(90deg,#0bff00 35px,#00ff01 38px,#00ff65 65px,#00feff 112px,#00afff 150px,#0078ff 181px,#0057ff 206px,#0047ff 230px,#0046ff 256px,#0057ff 284px,#007aff 314px,#00acff 343px)"></i><i style="background:linear-gradient(90deg,#01ff00 37px,#00ff6c 66px,#0ff 111px,#00afff 150px,#007bff 180px,#005bff 205px,#004bff 229px,#0049ff 255px,#0059ff 283px,#0079ff 312px,#00a7ff 340px)"></i><i style="background:linear-gradient(90deg,#00ff0e 40px,#00ff7f 71px,#00feff 111px,#00b2ff 149px,#007fff 179px,#005eff 205px,#004eff 229px,#004cff 255px,#005aff 282px,#0078ff 310px,#00a4ff 338px)"></i><i style="background:linear-gradient(90deg,#00ff1c 43px,#00ff85 72px,#0ff 110px,#00b4ff 148px,#0084ff 177px,#0063ff 203px,#0052ff 227px,#004fff 252px,#005bff 279px,#0076ff 307px,#009fff 335px)"></i><i style="background:linear-gradient(90deg,#00ff2a 46px,#00ff8e 74px,#00feff 110px,#00b7ff 147px,#0087ff 176px,#0067ff 202px,#0056ff 226px,#0052ff 251px,#005cff 277px,#0074ff 304px,#009bff 332px)"></i><i style="background:linear-gradient(90deg,#00ff37 49px,#00ff8f 74px,#0ff 109px,#00b7ff 147px,#008cff 174px,#006cff 200px,#005aff 224px,#05f 249px,#005dff 275px,#0074ff 302px,#0097ff 329px)"></i><i style="background:linear-gradient(90deg,#0f4 52px,#00ffa8 81px,#0ff 109px,#00baff 146px,#0090ff 172px,#0070ff 198px,#005eff 222px,#0058ff 246px,#005eff 272px,#0072ff 298px,#0092ff 325px)"></i><i style="background:linear-gradient(90deg,#00ff54 56px,#00ffb0 83px,#00feff 109px,#00bcff 145px,#0093ff 171px,#0074ff 197px,#0061ff 221px,#005bff 245px,#0060ff 270px,#0071ff 295px,#008fff 322px)"></i><i style="background:linear-gradient(90deg,#00ff64 60px,#00ffb4 84px,#00feff 109px,#00bfff 144px,#0098ff 169px,#0078ff 195px,#0065ff 219px,#005eff 243px,#0061ff 267px,#0070ff 292px,#008bff 318px)"></i><i style="background:linear-gradient(90deg,#00ff73 64px,#00ffcb 91px,#00feff 109px,#00bfff 144px,#009bff 168px,#007cff 194px,#0069ff 218px,#0061ff 242px,#0063ff 265px,#0070ff 289px,#08f 314px)"></i><i style="background:linear-gradient(90deg,#00ff81 68px,#00ffd4 94px,#00feff 109px,#00c2ff 143px,#00a1ff 165px,#0081ff 191px,#006dff 215px,#0064ff 237px,#0065ff 261px,#006fff 284px,#0084ff 309px)"></i><i style="background:linear-gradient(90deg,#00ff93 73px,#00feff 109px,#00c4ff 142px,#00a2ff 165px,#0085ff 190px,#0071ff 214px,#0067ff 236px,#0067ff 258px,#006fff 280px,#0082ff 305px)"></i><i style="background:linear-gradient(90deg,#00ffa4 78px,#00feff 109px,#00a8ff 162px,#008aff 187px,#0075ff 211px,#006bff 233px,#0069ff 255px,#0070ff 277px,#007fff 300px)"></i><i style="background:linear-gradient(90deg,#00ffb4 83px,#00feff 109px,#00abff 161px,#008eff 185px,#007aff 208px,#006fff 229px,#006cff 250px,#0070ff 271px,#007cff 294px)"></i><i style="background:linear-gradient(90deg,#00ffc6 89px,#00feff 109px,#00d6ff 133px,#00abff 162px,#008eff 187px,#007bff 210px,#0071ff 230px,#006eff 249px,#007bff 289px)"></i><i style="background:linear-gradient(90deg,#00ffdb 96px,#0ff 109px,#00b1ff 159px,#0094ff 183px,#0081ff 205px,#0071ff 243px,#0079ff 282px)"></i><i style="background:linear-gradient(90deg,#0fe 103px,#00fdff 110px,#00b3ff 158px,#0087ff 200px,#0075ff 237px,#0078ff 275px)"></i><i style="background:linear-gradient(90deg,#00fcff 111px,#00b6ff 157px,#008eff 194px,#0079ff 231px,#0078ff 267px)"></i><i style="background:linear-gradient(90deg,#0ef 120px,#00b7ff 158px,#0092ff 193px,#007eff 224px,#0078ff 258px)"></i><i style="background:linear-gradient(90deg,#0df 131px,#00b4ff 161px,#0095ff 192px,#0082ff 220px,#007aff 247px)"></i><i style="background:linear-gradient(90deg,#00caff 145px,#0098ff 190px,#0080ff 232px)"></i><i style="background:linear-gradient(90deg,#00b3ff 165px,#009aff 190px,#008aff 213px)"></i></div>
<div class="m" style="left:1271.60px;top:734.00px;width:381px;height:256px;clip-path:path(evenodd,'M210 251.5L202 252.1L180 252.2L152 249.9L123.4 245.5L102.1 240.5L77.9 232.5L68 228.2L55 221.6L46.5 216.5L38.2 210.5L30 203.4L24 197.1L18 189L15 183.7L12 177.1L8.8 166.5L7 157.5L5.3 143.5L4.9 128.5L5.3 112.5L6.9 98.5L8.9 88.5L11 81.4L14 74.1L18 66.8L24 58.7L34 48.7L46.3 39.5L64.1 29.5L80 22.5L105.2 14.5L125 10.1L149 6.3L178 3.9L201 3.8L229 6.1L246.7 8.5L275.1 14.5L295 20.5L304 23.9L318.6 30.5L334.5 39.5L347 48.9L357 58.9L365 70.4L370 81.7L372 88.5L374 98.4L375.6 110.5L376 119.5L375.7 144.5L373 163.5L371 171.5L368 179.7L365 185.8L360 193.5L351 203.7L338 214.3L322.8 223.5L303.6 232.5L292.5 236.5L275.9 241.5L257 245.7L233 249.6ZM205.8 157.5L221 155.9L235 153.3L248 149.9L257 146.9L266 143.1L278 136.4L286 130.1L287.3 128.5L287.3 126.5L283 122.5L278 118.9L268 113.1L259 109.1L247 105.1L231 101.3L218 99.3L201 97.9L189 97.8L171 98.8L159 100.2L145 102.9L132 106.4L117 111.9L109 116L100 121.7L93.7 127.5L93.7 129.5L96 131.8L103 137.1L109 140.8L122 146.9L138 152L153 155.3L169 157.3L186 158.2Z')"><i style="background:linear-gradient(90deg,#ffd400 160px,#ff0 190px,#b7ff00 220px)"></i><i style="background:linear-gradient(90deg,#ffbd00 142px,#fffe00 190px,#c1ff00 216px,#84ff00 239px)"></i><i style="background:linear-gradient(90deg,#ffaf00 129px,#ffce00 157px,#feff00 191px,#b4ff00 221px,#61ff00 251px)"></i><i style="background:linear-gradient(90deg,#ffa400 119px,#ffca00 155px,#ff0 191px,#b3ff00 221px,#41ff00 262px)"></i><i style="background:linear-gradient(90deg,#ff9c00 110px,#ffc600 152px,#ff0 191px,#b0ff00 222px,#25ff00 271px)"></i><i style="background:linear-gradient(90deg,#ff9500 102px,#ffb900 143px,#ffd600 165px,#fffe00 191px,#afff00 222px,#0fff00 278px)"></i><i style="background:linear-gradient(90deg,#ff9000 96px,#ffa000 119px,#ffb700 142px,#ffd300 164px,#fffe00 191px,#b1ff00 221px,#01ff00 282px,#00ff08 285px)"></i><i style="background:linear-gradient(90deg,#ff8b00 89px,#ff9b00 115px,#ffb200 139px,#ffd100 163px,#fffe00 191px,#b0ff00 221px,#02ff00 281px,#00ff1c 291px)"></i><i style="background:linear-gradient(90deg,#ff8700 83px,#ff9500 110px,#fa0 134px,#fc0 160px,#fffe00 191px,#b1ff00 220px,#02ff00 280px,#00ff31 297px)"></i><i style="background:linear-gradient(90deg,#ff8400 78px,#ff9000 106px,#ffa600 132px,#ffc900 159px,#fffe00 191px,#b0ff00 220px,#00ff01 280px,#00ff45 303px)"></i><i style="background:linear-gradient(90deg,#ff8200 73px,#ff8c00 102px,#ffa300 130px,#ffc800 159px,#ff0 191px,#aeff00 220px,#00ff01 279px,#00ff54 307px)"></i><i style="background:linear-gradient(90deg,#ff8000 69px,#f80 99px,#ff9f00 128px,#ffc600 158px,#ff0 191px,#00ff01 278px,#00ff67 312px)"></i><i style="background:linear-gradient(90deg,#ff7e00 65px,#ff8400 96px,#ff9a00 125px,#ffc300 157px,#feff00 191px,#02ff00 276px,#00ff76 316px)"></i><i style="background:linear-gradient(90deg,#ff7d00 61px,#ff8100 93px,#ff9600 123px,#ffc100 156px,#fffe00 190px,#01ff00 275px,#00ff86 320px)"></i><i style="background:linear-gradient(90deg,#ff7c00 57px,#ff7d00 90px,#ff9200 121px,#ffbd00 154px,#ff0 190px,#00ff01 274px,#00ff96 324px)"></i><i style="background:linear-gradient(90deg,#ff7c00 53px,#ff7b00 88px,#ff8e00 119px,#ffb600 150px,#fffe00 189px,#01ff00 272px,#00ffa3 327px)"></i><i style="background:linear-gradient(90deg,#ff7c00 50px,#f70 85px,#ff8a00 117px,#ffb300 149px,#feff00 189px,#02ff00 270px,#00ff60 304px,#00ffb3 331px)"></i><i style="background:linear-gradient(90deg,#ff7c00 47px,#ff7500 83px,#ff7a00 99px,#ff8700 116px,#ffb000 148px,#ff0 188px,#5bff00 239px,#03ff00 268px,#00ff75 310px,#00ffc0 334px)"></i><i style="background:linear-gradient(90deg,#ff7c00 44px,#ff7200 80px,#f70 97px,#ff8300 114px,#ff9400 130px,#ffb000 148px,#fffe00 187px,#58ff00 238px,#03ff00 266px,#00ff7a 310px,#00ffcd 337px)"></i><i style="background:linear-gradient(90deg,#ff7d00 41px,#ff7200 62px,#ff6f00 78px,#ff7300 95px,#ff7f00 112px,#ff9100 129px,#ffab00 146px,#ffcd00 164px,#fffe00 186px,#79ff00 226px,#02ff00 264px,#00ff81 311px,#00ffda 340px)"></i><i style="background:linear-gradient(90deg,#ff7e00 38px,#ff7100 59px,#ff6d00 76px,#ff7000 93px,#ff7b00 111px,#ff8e00 128px,#ffab00 146px,#ffce00 164px,#fffe00 185px,#75ff00 225px,#02ff00 262px,#00ff9d 319px,#00ffe4 342px)"></i><i style="background:linear-gradient(90deg,#ff7f00 36px,#ff7000 57px,#ff6b00 74px,#ff6d00 92px,#ff7800 110px,#ff8b00 127px,#ffa600 144px,#ffcd00 163px,#fffe00 184px,#6eff00 225px,#03ff00 259px,#00ffa4 320px,#00fff1 345px)"></i><i style="background:linear-gradient(90deg,#ff8000 34px,#ff6f00 55px,#ff6800 73px,#ff6a00 91px,#ff7400 108px,#ff8500 124px,#ffa000 141px,#fc0 162px,#fffe00 183px,#67ff00 225px,#02ff01 257px,#00ffaf 322px,#00fffb 347px)"></i><i style="background:linear-gradient(90deg,#ff8200 31px,#ff6f00 53px,#f60 71px,#ff6700 89px,#ff7100 107px,#ff8200 123px,#ff9c00 139px,#ffca00 161px,#feff00 183px,#5fff00 225px,#02ff01 254px,#00ffb7 323px,#00fffc 346px,#00fbff 349px)"></i><i style="background:linear-gradient(90deg,#ff8300 29px,#ff6e00 51px,#ff6500 69px,#ff6400 87px,#ff6d00 105px,#ff7e00 121px,#ff9800 137px,#ffcb00 161px,#fffe00 182px,#3bff00 233px,#03ff00 250px,#00ff03 252px,#00ff3f 274px,#00ffbc 323px,#00fffd 345px,#00f4ff 351px)"></i><i style="background:linear-gradient(90deg,#ff8500 27px,#ff6e00 49px,#ff6300 67px,#ff6100 86px,#ff6900 104px,#ff7b00 120px,#ff9500 136px,#ffc900 160px,#fffe00 182px,#c3ff00 198px,#31ff00 234px,#03ff00 247px,#00ff4b 275px,#00ffc9 326px,#00fffd 344px,#00edff 353px)"></i><i style="background:linear-gradient(90deg,#ff8700 25px,#ff6e00 47px,#ff6100 66px,#ff5e00 85px,#f60 103px,#ff7600 118px,#ff8f00 133px,#ffc200 157px,#fffe00 182px,#c3ff00 198px,#02ff00 245px,#00ff38 264px,#00ffc7 323px,#00fffe 343px,#00e6ff 355px)"></i><i style="background:linear-gradient(90deg,#ff8900 23px,#ff6d00 46px,#ff5f00 65px,#ff5b00 84px,#ff6300 102px,#ff7300 117px,#ff8e00 133px,#ffc100 157px,#feff00 183px,#97ff00 209px,#00ff01 244px,#00ff29 255px,#00ff43 264px,#00ffcb 322px,#0ff 342px,#00e0ff 357px)"></i><i style="background:linear-gradient(90deg,#ff8b00 22px,#ff6c00 45px,#ff5d00 64px,#ff5900 83px,#ff5f00 101px,#ff6f00 116px,#ff8b00 132px,#ffc200 158px,#ff0 183px,#8bff00 212px,#02ff00 243px,#00ff38 257px,#00ff53 266px,#00ffcf 321px,#00fffe 340px,#00d9ff 359px)"></i><i style="background:linear-gradient(90deg,#ff8d00 20px,#ff6d00 43px,#ff5c00 62px,#ff5600 81px,#ff5b00 99px,#ff6b00 114px,#ff8600 130px,#ffbd00 156px,#fffe00 183px,#8f0 213px,#01ff00 243px,#00ff42 258px,#0f6 269px,#00fffe 338px,#00d2ff 361px)"></i><i style="background:linear-gradient(90deg,#ff9000 18px,#ff6e00 41px,#ff5b00 60px,#ff5300 80px,#ff5800 98px,#f60 112px,#ff8500 130px,#ffbc00 156px,#fffd00 183px,#e3ff00 191px,#8dff00 212px,#01ff00 243px,#00ff5b 263px,#00ff73 270px,#00ff84 277px,#00fffe 336px,#0cf 363px)"></i><i style="background:linear-gradient(90deg,#ff9200 17px,#ff6e00 40px,#ff5900 60px,#ff5000 80px,#f50 98px,#ff6400 112px,#ff8600 131px,#ffbe00 157px,#ff0 184px,#89ff00 213px,#01ff00 243px,#00ff6c 266px,#00ff82 272px,#00ff94 279px,#00fefe 334px,#00eaff 347px,#00c7ff 364px)"></i><i style="background:linear-gradient(90deg,#ff9500 15px,#ff6e00 39px,#ff5900 58px,#ff4e00 78px,#ff5100 96px,#ff6000 110px,#ff8300 130px,#ffbd00 157px,#fffe00 184px,#8fff00 212px,#02ff00 243px,#00ff82 270px,#00ff94 275px,#00ffa4 281px,#00fefe 331px,#00e9ff 346px,#00c3ff 365px)"></i><i style="background:linear-gradient(90deg,#ff9700 14px,#ff6e00 38px,#ff5800 57px,#ff4c00 77px,#ff4e00 95px,#ff5d00 109px,#ff8200 130px,#ffbe00 158px,#fffe00 184px,#94ff00 211px,#02ff00 243px,#00ff94 273px,#00ffb3 283px,#00fefe 328px,#00e5ff 346px,#00bdff 367px)"></i><i style="background:linear-gradient(90deg,#ff9a00 13px,#ff6f00 37px,#ff5700 56px,#ff4900 77px,#ff4a00 94px,#ff5a00 108px,#ff8100 130px,#ffbd00 158px,#ff0 185px,#8f0 214px,#03ff00 243px,#00ff24 251px,#00ffa1 275px,#00ffb5 280px,#00ffc3 285px,#00fdff 325px,#00e0ff 347px,#00b9ff 368px)"></i><i style="background:linear-gradient(90deg,#ff9c00 12px,#ff6f00 36px,#ff5600 55px,#ff4700 76px,#ff4700 93px,#ff5700 107px,#ff8000 130px,#ffba00 157px,#fffe00 185px,#8eff00 213px,#00ff01 244px,#00ffb3 278px,#00ffc4 282px,#00ffd2 287px,#00feff 320px,#00e0ff 345px,#00b5ff 369px)"></i><i style="background:linear-gradient(90deg,#ff9e00 11px,#ff6f00 36px,#f50 55px,#f40 75px,#f40 92px,#ff5400 106px,#ff7f00 130px,#ffb900 157px,#feff00 186px,#75ff00 219px,#0f0 244px,#00ff56 261px,#00ffc5 281px,#00ffd6 285px,#00ffe1 289px,#00fffd 311px,#00f6ff 322px,#00daff 347px,#00b1ff 370px)"></i><i style="background:linear-gradient(90deg,#ffa000 10px,#ff7000 35px,#ff5400 54px,#ff4200 74px,#ff4100 91px,#ff5100 105px,#ff8000 131px,#ffb800 157px,#fffe00 186px,#91ff00 213px,#01ff00 244px,#00ff5b 262px,#00ffd3 283px,#00ffe5 287px,#00fff0 291px,#00feff 306px,#00e6ff 334px,#00cfff 352px,#00adff 371px)"></i><i style="background:linear-gradient(90deg,#ffa300 9px,#ff9a00 15px,#ff7100 34px,#ff5400 53px,#ff4000 74px,#ff3e00 90px,#ff5000 105px,#ff8100 132px,#ffb900 158px,#fffd00 186px,#9bff00 211px,#4bff00 229px,#03ff00 244px,#00ff16 249px,#00ff60 263px,#00ffe6 286px,#00fffd 292px,#00f1ff 316px,#00deff 338px,#00cbff 353px,#0af 372px)"></i><i style="background:linear-gradient(90deg,#ffa500 8px,#ff9a00 15px,#ff6f00 35px,#ff5300 53px,#ff3d00 74px,#ff3b00 89px,#ff4f00 105px,#ff8200 133px,#ffba00 159px,#feff00 187px,#82ff00 217px,#04ff00 244px,#00ff0b 247px,#00ff5f 263px,#00fffe 290px,#00f5ff 296px,#00e9ff 318px,#00d5ff 342px,#00a7ff 373px)"></i><i style="background:linear-gradient(90deg,#ffa700 7px,#ff9d00 14px,#ff6e00 35px,#ff5300 52px,#ff3c00 72px,#ff3700 87px,#ff4c00 104px,#ff8100 133px,#ffb900 159px,#fffd00 186px,#deff00 195px,#8aff00 215px,#0f0 245px,#00ff74 267px,#00fffd 289px,#00edff 297px,#00e2ff 321px,#00ceff 345px,#00a5ff 373px)"></i><i style="background:linear-gradient(90deg,#ffa700 7px,#ff9e00 14px,#ff6e00 35px,#ff5000 53px,#ff3900 73px,#ff3500 87px,#ff4d00 105px,#ff8600 136px,#ffbe00 161px,#fffe00 186px,#7eff00 217px,#00ff01 245px,#00ff73 267px,#00ffb5 278px,#0ff 289px,#00ecff 294px,#00e5ff 298px,#0df 320px,#00ceff 341px,#00c0ff 354px,#00a3ff 374px)"></i><i style="background:linear-gradient(90deg,#ffa900 6px,#ffa100 13px,#ff7400 32px,#ff4f00 53px,#ff3700 73px,#ff3200 86px,#ff4b00 105px,#ff8500 136px,#ffb900 159px,#fffe00 185px,#01ff00 244px,#00ff34 255px,#00ff73 267px,#00ffb5 278px,#00feff 289px,#00e5ff 295px,#0df 299px,#00d7ff 321px,#00caff 341px,#00a1ff 375px)"></i><i style="background:linear-gradient(90deg,#ffa900 6px,#ffa100 13px,#ff7400 32px,#ff4e00 53px,#ff3500 73px,#ff3000 85px,#ff4a00 105px,#ff8100 135px,#ffb500 157px,#fefe00 184px,#04ff00 242px,#00ff05 244px,#00ff29 252px,#00ff74 267px,#00ffb4 278px,#00feff 289px,#00e2ff 295px,#00d6ff 300px,#00d1ff 321px,#00c7ff 340px,#00a0ff 375px)"></i><i style="background:linear-gradient(90deg,#fa0 5px,#ffa200 13px,#ff7200 33px,#ff4a00 55px,#ff3200 74px,#ff2d00 84px,#ff4b00 106px,#ff7e00 134px,#ffb000 155px,#fffd00 182px,#03ff00 240px,#00ff39 254px,#00ff82 269px,#0fb 279px,#00feff 289px,#00dbff 296px,#00ceff 301px,#00cbff 321px,#00c4ff 339px,#00b7ff 354px,#00a2ff 369px,#009fff 376px)"></i><i style="background:linear-gradient(90deg,#ffab00 5px,#ffa300 13px,#ff7300 33px,#ff4a00 55px,#ff3100 73px,#ff2b00 83px,#ff4900 106px,#ff7900 132px,#ffac00 153px,#fefe00 181px,#6bff00 213px,#04ff00 237px,#00ff04 239px,#00ff3f 253px,#00ff87 269px,#00ffbd 279px,#00feff 289px,#00d4ff 297px,#00c7ff 302px,#00c0ff 338px,#00b4ff 354px,#00a1ff 369px,#009eff 376px)"></i><i style="background:linear-gradient(90deg,#ffab00 4px,#ffa200 14px,#ff7100 34px,#f40 58px,#ff2e00 74px,#ff2900 83px,#ff4b00 108px,#ff7600 131px,#ffab00 152px,#fffe00 179px,#5eff00 213px,#03ff00 234px,#00ff53 255px,#00ff94 270px,#00ffc2 279px,#00fdff 289px,#00cdff 298px,#00c0ff 303px,#00bcff 338px,#00b2ff 353px,#009fff 369px,#009dff 377px)"></i><i style="background:linear-gradient(90deg,#ffab00 4px,#ffa300 14px,#ff7000 35px,#ff4000 60px,#ff2b00 75px,#ff2700 83px,#ff4900 108px,#ff7300 130px,#ffa400 149px,#fffd00 177px,#5aff00 211px,#04ff00 230px,#00ff04 232px,#00ff9f 270px,#00ffcf 280px,#00fffe 288px,#00c5ff 299px,#00b9ff 303px,#00b8ff 337px,#00b0ff 352px,#009fff 368px,#009dff 377px)"></i><i style="background:linear-gradient(90deg,#ffab00 4px,#ffa400 14px,#ff6e00 36px,#ff3c00 62px,#ff2800 76px,#ff2600 83px,#ff4600 108px,#ff6d00 128px,#ffa300 148px,#fefe00 176px,#60ff00 207px,#06ff00 226px,#00ff07 229px,#00ffa3 268px,#00ffcf 278px,#00fefe 287px,#00e8ff 292px,#0bf 300px,#00b1ff 304px,#00b5ff 336px,#00adff 351px,#009dff 368px,#009dff 377px)"></i><i style="background:linear-gradient(90deg,#ffab00 3px,#ffa500 14px,#ff7400 34px,#ff4900 55px,#ff2800 74px,#ff2300 82px,#ff3f00 105px,#ff6800 126px,#ffa200 147px,#fffd00 174px,#dfff00 181px,#59ff00 206px,#05ff00 223px,#00ff05 225px,#00ff42 239px,#00ffb9 270px,#00fcff 286px,#00e3ff 292px,#00b5ff 300px,#0af 304px,#00b1ff 320px,#00b1ff 335px,#00abff 350px,#009dff 367px,#009cff 378px)"></i><i style="background:linear-gradient(90deg,#ffab00 3px,#ffa400 15px,#ff7100 36px,#ff4300 58px,#ff2500 75px,#ff2100 83px,#ff3f00 106px,#ff6500 125px,#ff9b00 144px,#fffe00 173px,#d4ff00 182px,#54ff00 205px,#06ff00 220px,#00ff04 222px,#00ff5b 241px,#00ffc8 270px,#00fefe 283px,#00e2ff 291px,#00adff 300px,#00a2ff 304px,#00abff 318px,#00adff 333px,#00a8ff 349px,#009cff 366px,#009cff 378px)"></i><i style="background:linear-gradient(90deg,#ffab00 3px,#ffa500 15px,#ff7000 37px,#ff3f00 60px,#f20 76px,#ff1f00 83px,#ff3b00 105px,#ff5d00 122px,#ff9300 141px,#fffd00 172px,#f1ff00 175px,#31ff00 210px,#06ff00 218px,#00ff05 220px,#00ff48 233px,#00ff7c 245px,#00fefe 280px,#00daff 291px,#00c6ff 295px,#009fff 301px,#0098ff 304px,#00a5ff 317px,#00a9ff 330px,#00a6ff 347px,#009aff 366px,#009cff 378px)"></i><i style="background:linear-gradient(90deg,#ffab00 2px,#ffa900 12px,#ffa200 17px,#f40 58px,#f20 75px,#ff1c00 82px,#ff3200 101px,#ff5000 117px,#ff7e00 134px,#ffc900 157px,#00ff34 227px,#00ff68 237px,#00ffa6 251px,#00fffb 275px,#00fdff 277px,#00d2ff 291px,#00beff 295px,#0095ff 301px,#008dff 304px,#009fff 317px,#00a5ff 329px,#00a3ff 347px,#09f 365px,#009cff 378px)"></i><i class=a style="background:linear-gradient(90deg,#ffab00 2px,#ffa900 12px,#ffa100 18px,#ff4f00 53px,#ff2100 75px,#ff1a00 81px,#ff2b00 97px,#ff4600 113px,#ff6f00 129px,#ffa800 147px,#00ff71 237px,#00ffc2 255px,#00feff 273px,#00e5ff 283px,#0cf 291px,#00b7ff 295px,#008dff 301px,#0085ff 304px,#009bff 318px,#00a2ff 328px,#00a2ff 345px,#09f 365px,#009cff 379px)"></i><i class=a style="background:linear-gradient(90deg,#ffab00 2px,#ffa900 12px,#ffa200 18px,#ff4f00 53px,#ff2000 75px,#ff1900 81px,#ff2800 96px,#ff4100 111px,#f60 126px,#ff9800 142px,#00ff8e 242px,#00ffd2 257px,#00feff 270px,#00e3ff 282px,#00cbff 290px,#00b3ff 295px,#0087ff 301px,#0080ff 304px,#0097ff 318px,#009fff 328px,#00a0ff 345px,#0098ff 364px,#009cff 379px)"></i><i class=a style="background:linear-gradient(90deg,#ffab00 2px,#ffa200 18px,#ff2400 73px,#ff1900 81px,#ff2600 95px,#ff3c00 109px,#ff5e00 123px,#ff8b00 138px,#00ffa2 245px,#00ffdb 257px,#0ff 267px,#00e0ff 281px,#00c6ff 290px,#00aeff 295px,#0082ff 301px,#007aff 304px,#0095ff 319px,#009eff 329px,#009fff 345px,#0098ff 363px,#009bff 379px)"></i><i class=a style="background:linear-gradient(90deg,#ffab00 2px,#ffa800 13px,#ffa100 19px,#f20 74px,#ff1800 81px,#ff2300 94px,#ff3900 108px,#ff5600 120px,#ff8100 135px,#00ffbd 249px,#00ffe2 257px,#00fffe 264px,#00dbff 281px,#00c2ff 290px,#0af 295px,#007cff 301px,#0075ff 304px,#0091ff 319px,#009cff 329px,#009dff 344px,#0097ff 363px,#009bff 379px)"></i><i class=a style="background:linear-gradient(90deg,#ffab00 2px,#ffa800 13px,#ffa000 20px,#ff2100 74px,#ff1700 81px,#ff1e00 91px,#f30 105px,#ff4b00 116px,#ff7500 131px,#00ffd2 252px,#00fffe 262px,#00c6ff 287px,#00b1ff 293px,#0076ff 301px,#006fff 304px,#008fff 320px,#09f 329px,#009cff 343px,#0096ff 363px,#009bff 379px)"></i><i class=a style="background:linear-gradient(90deg,#ffab00 2px,#ffa800 14px,#ff9f00 21px,#ff2100 74px,#ff1600 81px,#ff1c00 90px,#ff3000 104px,#ff4800 115px,#ff6b00 128px,#00ffe7 255px,#00fdff 261px,#00bcff 289px,#00a6ff 294px,#0071ff 301px,#006aff 304px,#008bff 320px,#0098ff 330px,#009bff 342px,#0096ff 362px,#009bff 379px)"></i><i class=a style="background:linear-gradient(90deg,#ffab00 2px,#ffa800 14px,#ffa000 21px,#ff1f00 75px,#ff1600 81px,#ff1a00 89px,#ff2b00 102px,#ff4200 113px,#ff6200 125px,#00fffc 258px,#00feff 259px,#00b3ff 290px,#00a1ff 294px,#006bff 301px,#0064ff 304px,#0089ff 321px,#0096ff 331px,#09f 342px,#0095ff 362px,#009bff 379px)"></i><i class=a style="background:linear-gradient(90deg,#ffab00 2px,#ffa700 15px,#ff9e00 22px,#ff1f00 75px,#ff1600 81px,#ff1700 88px,#ff2800 101px,#ff3f00 112px,#ff5c00 123px,#00f7ff 260px,#00deff 269px,#00aeff 290px,#009cff 294px,#0065ff 301px,#005fff 304px,#0087ff 322px,#0095ff 332px,#0098ff 342px,#0095ff 361px,#009bff 379px)"></i><i class=a style="background:linear-gradient(90deg,#ffab00 2px,#ffa700 15px,#ff9f00 22px,#ff1f00 75px,#ff1500 81px,#ff1600 88px,#ff2400 99px,#ff3700 109px,#ff5300 120px,#00eaff 263px,#00a6ff 291px,#0096ff 294px,#0065ff 300px,#005cff 302px,#005aff 304px,#0083ff 322px,#0092ff 332px,#0097ff 342px,#0094ff 360px,#009bff 379px)"></i><i class=a style="background:linear-gradient(90deg,#ffab00 2px,#ffa700 15px,#ff9e00 23px,#ff1e00 76px,#ff1500 81px,#ff1500 88px,#ff2000 97px,#ff3200 107px,#ff4d00 118px,#00e0ff 265px,#00a0ff 291px,#0091ff 294px,#005fff 300px,#05f 303px,#005aff 307px,#0083ff 324px,#0092ff 334px,#0094ff 360px,#009bff 379px)"></i><i class=a style="background:linear-gradient(90deg,#ffab00 2px,#ffa600 16px,#ff9d00 24px,#ff1e00 76px,#ff1600 81px,#ff1400 87px,#ff1c00 95px,#f40 115px,#00d5ff 267px,#009bff 291px,#008bff 294px,#005aff 300px,#0050ff 303px,#05f 307px,#0081ff 325px,#0091ff 335px,#0093ff 360px,#009bff 379px)"></i><i class=a style="background:linear-gradient(90deg,#ffab00 2px,#ffa700 15px,#ff9e00 24px,#ff4e00 58px,#ff1f00 76px,#ff1600 81px,#ff1400 87px,#ff1800 93px,#ff2600 102px,#ff3e00 113px,#00cbff 269px,#09f 290px,#0084ff 294px,#0054ff 300px,#004bff 303px,#0050ff 307px,#007eff 325px,#008eff 335px,#009bff 379px)"></i><i class=a style="background:linear-gradient(90deg,#ffab00 1px,#ffa700 15px,#ff9d00 25px,#ff5000 58px,#ff2000 76px,#ff1700 81px,#ff1400 87px,#ff1700 93px,#ff3900 111px,#00c2ff 271px,#0093ff 290px,#007dff 294px,#0054ff 299px,#004aff 301px,#0046ff 303px,#004aff 306px,#007aff 325px,#008dff 336px,#009aff 379px)"></i><i class=a style="background:linear-gradient(90deg,#ffab00 1px,#ffa600 16px,#ff9c00 26px,#ff5600 56px,#ff1900 80px,#ff1500 92px,#f30 109px,#00b8ff 273px,#008dff 290px,#007dff 293px,#004eff 299px,#04f 301px,#0042ff 303px,#0045ff 306px,#0078ff 326px,#008cff 337px,#009aff 380px)"></i><i class=a style="background:linear-gradient(90deg,#ffab00 1px,#ffa600 17px,#ff9b00 27px,#ff5b00 55px,#ff1a00 80px,#ff1500 93px,#ff3000 108px,#00afff 275px,#008bff 289px,#007cff 292px,#0048ff 299px,#003fff 301px,#003dff 303px,#0041ff 306px,#0075ff 326px,#008aff 338px,#009aff 380px)"></i><i class=a style="background:linear-gradient(90deg,#ffab00 1px,#ffa500 18px,#ff9a00 28px,#ff5d00 55px,#ff1c00 80px,#ff1500 93px,#ff2a00 106px,#00a8ff 276px,#0084ff 289px,#0074ff 292px,#0047ff 298px,#003aff 301px,#0039ff 303px,#006fff 325px,#08f 338px,#009aff 380px)"></i><i class=a style="background:linear-gradient(90deg,#ffab00 1px,#ffa600 16px,#ff9b00 28px,#ff6100 54px,#ff2500 76px,#ff1e00 80px,#ff1600 93px,#ff2500 104px,#009eff 278px,#0080ff 288px,#006bff 292px,#0041ff 298px,#0036ff 301px,#0035ff 303px,#006cff 325px,#0087ff 339px,#009aff 380px)"></i><i class=a style="background:linear-gradient(90deg,#ffab00 1px,#ffa600 17px,#ff9a00 29px,#ff6100 55px,#ff2100 79px,#ff1700 94px,#f20 103px,#0097ff 279px,#007cff 287px,#003bff 298px,#0031ff 302px,#0036ff 306px,#006bff 326px,#0086ff 340px,#009aff 380px)"></i><i class=a style="background:linear-gradient(90deg,#ffac00 1px,#ffa600 17px,#f90 30px,#f60 54px,#ff2300 79px,#ff1b00 95px,#ff1f00 101px,#008aff 281px,#006dff 288px,#0035ff 298px,#002dff 302px,#03f 306px,#0068ff 326px,#0085ff 341px,#0097ff 368px,#009aff 380px)"></i><i class=a style="background:linear-gradient(90deg,#ffac00 1px,#ffa400 19px,#ff9700 32px,#f60 55px,#ff2700 78px,#f20 100px,#007cff 282px,#03f 297px,#0029ff 302px,#002fff 306px,#0065ff 326px,#0084ff 342px,#0096ff 367px,#009aff 380px)"></i><i class=a style="background:linear-gradient(90deg,#ffac00 1px,#ffa500 18px,#ff9600 33px,#ff6800 55px,#ff2900 78px,#ff2700 81px,#ff2e00 89px,#ff2a00 98px,#0068ff 283px,#0031ff 296px,#0028ff 299px,#0026ff 302px,#002cff 306px,#0062ff 326px,#0083ff 343px,#0095ff 365px,#009aff 380px)"></i><i class=a style="background:linear-gradient(90deg,#ffac00 1px,#ffa200 22px,#ff9300 36px,#ff6b00 55px,#ff2b00 79px,#ff2c00 82px,#ff4100 97px,#004bff 284px,#0025ff 298px,#02f 302px,#0029ff 306px,#005fff 326px,#0083ff 344px,#0093ff 362px,#009aff 380px)"></i><i class=a style="background:linear-gradient(90deg,#ffac00 1px,#ffa400 19px,#ff9300 37px,#ff6e00 55px,#ff3600 75px,#ff2e00 79px,#ff3200 83px,#ff5900 97px,#0034ff 284px,#0020ff 299px,#001fff 302px,#005cff 326px,#0082ff 345px,#0091ff 359px,#009aff 380px)"></i><i class=a style="background:linear-gradient(90deg,#ffac00 1px,#ffa600 16px,#ff9400 38px,#ff7100 55px,#ff3900 75px,#ff3200 79px,#ff3400 82px,#ff3d00 85px,#ff7800 98px,#001fff 283px,#02f 292px,#001cff 300px,#001eff 303px,#005aff 326px,#0086ff 348px,#0094ff 363px,#009aff 380px)"></i><i class=a style="background:linear-gradient(90deg,#ffac00 1px,#ffa800 14px,#ff9500 39px,#ff7400 55px,#ff3c00 75px,#ff3500 79px,#ff4000 84px,#ff8c00 99px,#0016ff 281px,#001bff 303px,#0057ff 326px,#0086ff 349px,#0093ff 362px,#009aff 380px)"></i><i class=a style="background:linear-gradient(90deg,#ffac00 1px,#ffa800 13px,#ff9600 40px,#f70 55px,#ff3f00 75px,#ff3900 79px,#ff4200 83px,#ff7c00 93px,#ff9b00 100px,#0013ff 280px,#0010ff 286px,#0018ff 302px,#0057ff 327px,#08f 351px,#0094ff 364px,#009aff 380px)"></i><i class=a style="background:linear-gradient(90deg,#ffac00 1px,#ff9700 41px,#ff7a00 55px,#ff4300 75px,#ff3d00 79px,#ff4800 83px,#f70 90px,#ff8c00 94px,#ffa800 102px,#0017ff 278px,#000cff 287px,#0016ff 302px,#0053ff 326px,#0089ff 352px,#0094ff 364px,#009aff 380px)"></i><i class=a style="background:linear-gradient(90deg,#ffac00 1px,#ff9800 42px,#ff7b00 56px,#ff4200 78px,#ff4300 80px,#ff4e00 83px,#ff7a00 89px,#ff9100 93px,#ffb000 103px,#0019ff 277px,#000bff 288px,#0013ff 301px,#0053ff 327px,#008aff 353px,#0095ff 365px,#009aff 380px)"></i><i class=a style="background:linear-gradient(90deg,#ffac00 1px,#ff9f00 37px,#f90 43px,#ff7f00 56px,#ff4b00 75px,#ff4600 78px,#ff4700 80px,#f50 83px,#ff8300 89px,#ff9400 92px,#ffba00 105px,#001eff 275px,#000aff 288px,#01f 301px,#004eff 326px,#0089ff 353px,#0094ff 363px,#009aff 380px)"></i><i class=a style="background:linear-gradient(90deg,#ffac00 1px,#ff9b00 43px,#ff8500 55px,#ff4f00 75px,#ff4a00 78px,#ff4d00 80px,#f50 82px,#ff8c00 89px,#ff9c00 92px,#ffc100 106px,#0024ff 273px,#000bff 288px,#000fff 301px,#004dff 326px,#008aff 354px,#0094ff 364px,#009aff 380px)"></i><i class=a style="background:linear-gradient(90deg,#ffac00 1px,#ff9d00 44px,#f80 55px,#ff5300 75px,#ff4f00 78px,#ff5200 80px,#ff5c00 82px,#ff8d00 88px,#ff9e00 91px,#fc0 108px,#0027ff 272px,#000aff 289px,#000eff 301px,#008bff 355px,#0095ff 365px,#009aff 380px)"></i><i class=a style="background:linear-gradient(90deg,#ffac00 2px,#ff9e00 45px,#ff8a00 56px,#ff5800 75px,#ff5400 78px,#ff5700 80px,#ff6200 82px,#ff8d00 87px,#ffa500 91px,#ffd600 110px,#002cff 270px,#000cff 288px,#0009ff 294px,#000cff 300px,#0014ff 305px,#0042ff 323px,#008cff 356px,#0096ff 366px,#009aff 380px)"></i><i class=a style="background:linear-gradient(90deg,#ffac00 2px,#ff9f00 46px,#ff8e00 56px,#ff5f00 74px,#ff5900 78px,#ff6200 81px,#ff9500 87px,#ffab00 91px,#ffe000 112px,#0032ff 268px,#000dff 288px,#0009ff 294px,#000bff 300px,#0014ff 305px,#0041ff 323px,#008dff 357px,#0096ff 366px,#009aff 379px)"></i><i class=a style="background:linear-gradient(90deg,#ffac00 2px,#ffa500 21px,#ffa200 46px,#ff9200 56px,#ff6300 74px,#ff5e00 78px,#ff6800 81px,#ff9b00 87px,#ffad00 90px,#ffea00 114px,#0037ff 266px,#01f 286px,#0009ff 294px,#000bff 300px,#0013ff 305px,#008cff 357px,#0095ff 365px,#009aff 379px)"></i><i class=a style="background:linear-gradient(90deg,#ffad00 2px,#ffa500 21px,#ffa300 47px,#ff9400 57px,#ff6800 74px,#ff6400 78px,#ff6e00 81px,#ffa200 87px,#ffb200 90px,#fff500 116px,#0040ff 263px,#0015ff 284px,#000bff 293px,#000bff 300px,#0012ff 305px,#008dff 358px,#0096ff 366px,#009aff 379px)"></i><i class=a style="background:linear-gradient(90deg,#ffad00 2px,#ffa600 21px,#ffa800 39px,#ffa400 49px,#ff9300 59px,#ff6800 77px,#ff6b00 79px,#ff7500 81px,#ffa800 87px,#ffb800 90px,#fdff00 118px,#0046ff 261px,#0019ff 282px,#000bff 293px,#000bff 300px,#0014ff 306px,#008eff 359px,#0096ff 366px,#009aff 379px)"></i><i class=a style="background:linear-gradient(90deg,#ffad00 2px,#ffa600 20px,#fa0 39px,#ffa600 49px,#ff9800 59px,#ff6e00 77px,#ff7500 80px,#ffae00 87px,#ffc400 92px,#fffe00 116px,#e9ff00 121px,#004eff 258px,#0032ff 269px,#001dff 280px,#000cff 293px,#000bff 300px,#0014ff 306px,#008dff 359px,#0096ff 366px,#009aff 379px)"></i><i class=a style="background:linear-gradient(90deg,#ffad00 2px,#ffa700 19px,#ffab00 39px,#ffa800 50px,#ff9a00 60px,#ff7300 77px,#ff7b00 80px,#ffb300 87px,#ffcd00 93px,#fffe00 114px,#daff00 123px,#0054ff 256px,#0035ff 268px,#001fff 279px,#000fff 292px,#000bff 300px,#0014ff 306px,#008eff 360px,#0096ff 367px,#009aff 379px)"></i><i class=a style="background:linear-gradient(90deg,#ffad00 2px,#ffa700 19px,#ffac00 39px,#ffa900 51px,#ff9c00 61px,#ff7900 77px,#ff8100 80px,#ffbe00 88px,#ffd800 95px,#fffe00 112px,#c5ff00 126px,#005dff 253px,#003bff 266px,#0024ff 277px,#01f 291px,#000bff 300px,#0016ff 307px,#008eff 360px,#0096ff 367px,#009aff 379px)"></i><i class=a style="background:linear-gradient(90deg,#ffad00 2px,#ffa800 18px,#ffae00 38px,#ffab00 52px,#ffa000 61px,#ff7f00 77px,#ff8600 80px,#ffb700 86px,#ffc900 89px,#ffe800 99px,#fdff00 110px,#d5ff00 121px,#afff00 129px,#0065ff 250px,#003eff 265px,#0027ff 276px,#0013ff 290px,#000cff 300px,#0016ff 307px,#008fff 361px,#0097ff 368px,#009aff 379px)"></i><i class=a style="background:linear-gradient(90deg,#ffad00 2px,#ffa900 18px,#ffaf00 37px,#ffad00 52px,#ffa300 62px,#ff8400 77px,#ff8c00 80px,#ffbc00 86px,#ffd200 90px,#fffc00 105px,#feff00 107px,#dcff00 117px,#c0ff00 124px,#9aff00 132px,#0071ff 246px,#0048ff 261px,#002dff 273px,#0018ff 287px,#000dff 300px,#0016ff 307px,#0090ff 362px,#0097ff 368px,#009aff 379px)"></i><i class=a style="background:linear-gradient(90deg,#ffad00 2px,#ffa900 18px,#ffb100 36px,#ffb000 52px,#ffa700 62px,#ff8a00 77px,#ff9200 80px,#ffc100 86px,#ffd200 89px,#ffe800 95px,#ff0 104px,#c1ff00 122px,#7fff00 136px,#007bff 243px,#0050ff 258px,#0030ff 272px,#001aff 286px,#000eff 300px,#0019ff 308px,#0091ff 363px,#009aff 379px)"></i><i class=a style="background:linear-gradient(90deg,#ffad00 2px,#fa0 17px,#ffb200 36px,#ffb100 53px,#ffa900 63px,#ff9000 77px,#ff9800 80px,#ffc600 86px,#ffd700 89px,#fffe00 101px,#b8ff00 122px,#6bff00 139px,#0087ff 239px,#0058ff 255px,#0034ff 270px,#001cff 285px,#000eff 300px,#0015ff 306px,#0042ff 328px,#0091ff 363px,#0097ff 369px,#009aff 379px)"></i><i style="background:linear-gradient(90deg,#ffad00 2px,#ffab00 16px,#ffb400 35px,#ffb500 53px,#ffad00 64px,#f90 77px,#ffa100 80px,#ffcd00 86px,#ffde00 89px,#fefd00 98px,#97ff00 127px,#36ff00 148px,#00a3ff 230px,#06f 250px,#003cff 267px,#0021ff 283px,#0010ff 300px,#0016ff 306px,#003fff 327px,#0091ff 364px,#009aff 379px)"></i><i style="background:linear-gradient(90deg,#ffae00 3px,#ffac00 15px,#ffb700 34px,#ffb900 52px,#ffb400 64px,#ffa400 77px,#ffac00 80px,#ffe100 88px,#fefd00 95px,#cdff00 107px,#76ff00 131px,#39ff00 145px,#05ff00 155px,#00ff06 157px,#00ff1a 161px,#00cdff 217px,#0079ff 243px,#004aff 261px,#0029ff 279px,#0012ff 299px,#0017ff 306px,#0038ff 324px,#0092ff 365px,#09f 378px)"></i><i style="background:linear-gradient(90deg,#ffae00 3px,#ffad00 15px,#ffba00 33px,#ffbe00 49px,#fb0 63px,#ffaf00 77px,#ffb600 80px,#ffe400 87px,#fffb00 92px,#f9ff00 94px,#b9ff00 108px,#48ff00 138px,#04ff00 153px,#00ff07 155px,#00ff73 176px,#00ffa8 185px,#0fe 198px,#00fdff 202px,#00a3ff 229px,#0059ff 255px,#0032ff 274px,#0015ff 298px,#0018ff 305px,#0034ff 322px,#0062ff 345px,#0093ff 366px,#09f 378px)"></i><i style="background:linear-gradient(90deg,#ffae00 3px,#ffae00 14px,#ffbc00 31px,#ffc200 47px,#ffc100 62px,#ffb800 77px,#ffc400 81px,#ffeb00 87px,#fefe00 91px,#d2ff00 99px,#af0 108px,#3fff00 136px,#04ff00 150px,#00ff06 152px,#00ff72 174px,#00fff9 199px,#00fdff 201px,#009bff 231px,#005bff 254px,#0035ff 274px,#0017ff 298px,#001bff 306px,#0038ff 324px,#0063ff 346px,#0092ff 366px,#009aff 378px)"></i><i style="background:linear-gradient(90deg,#ffae00 3px,#ffaf00 14px,#ffbe00 30px,#ffc500 45px,#ffc600 61px,#ffc100 77px,#fc0 81px,#fffb00 89px,#fdff00 90px,#cbff00 98px,#9cff00 108px,#05ff00 146px,#00ff04 148px,#00ff6e 171px,#00fefe 199px,#09f 231px,#0060ff 252px,#0038ff 273px,#0019ff 298px,#001aff 304px,#002cff 317px,#005eff 344px,#0091ff 366px,#009aff 378px)"></i><i style="background:linear-gradient(90deg,#ffaf00 4px,#ffb000 13px,#ffc100 29px,#ffc900 44px,#fc0 60px,#ffc800 77px,#ffd100 81px,#feff00 89px,#cdff00 96px,#94ff00 107px,#48ff00 125px,#04ff00 142px,#00ff04 144px,#00ff68 167px,#00fdff 198px,#09f 230px,#06f 250px,#003cff 272px,#001bff 298px,#001dff 305px,#0032ff 320px,#005fff 345px,#0092ff 367px,#09f 377px)"></i><i style="background:linear-gradient(90deg,#ffaf00 4px,#ffb100 12px,#ffc300 28px,#ffcd00 43px,#ffd000 78px,#ffda00 82px,#fffc00 88px,#c0ff00 97px,#89ff00 107px,#39ff00 125px,#05ff00 138px,#00ff04 140px,#00ff72 166px,#00feff 196px,#00a3ff 226px,#006bff 248px,#003eff 272px,#001dff 298px,#0020ff 306px,#0035ff 322px,#0062ff 347px,#0091ff 367px,#09f 377px)"></i><i style="background:linear-gradient(90deg,#ffb000 5px,#ffb200 12px,#ffc500 27px,#ffd100 43px,#ffd700 60px,#ffd600 78px,#ffe200 83px,#fffe00 88px,#bcff00 97px,#7bff00 108px,#29ff00 126px,#03ff00 135px,#00ff05 137px,#0f7 164px,#00feff 194px,#00a6ff 224px,#0070ff 246px,#0043ff 270px,#001fff 297px,#02f 306px,#0039ff 324px,#0062ff 347px,#0090ff 367px,#09f 376px)"></i><i style="background:linear-gradient(90deg,#ffb000 5px,#ffb400 12px,#ffc900 27px,#ffd600 43px,#fd0 60px,#ffde00 79px,#ffe600 83px,#fffe00 88px,#baff00 97px,#76ff00 108px,#27ff00 124px,#04ff00 132px,#00ff05 134px,#00feff 192px,#00a9ff 222px,#0072ff 245px,#0041ff 272px,#0021ff 297px,#0025ff 307px,#003dff 326px,#0063ff 348px,#0091ff 368px,#09f 376px)"></i><i style="background:linear-gradient(90deg,#ffb100 5px,#ffb500 12px,#fc0 27px,#ffd900 42px,#ffe300 60px,#ffe600 80px,#fe0 84px,#feff00 88px,#baff00 97px,#79ff00 107px,#3f0 120px,#00ff01 131px,#00fefe 190px,#00adff 220px,#07f 243px,#0043ff 272px,#0023ff 296px,#0027ff 307px,#003eff 326px,#0063ff 348px,#0091ff 368px,#0098ff 376px)"></i><i style="background:linear-gradient(90deg,#ffb200 6px,#ffd900 36px,#ffe700 58px,#ffed00 80px,#fff000 83px,#fffd00 87px,#fcff00 88px,#acff00 99px,#6dff00 109px,#25ff00 122px,#00ff03 130px,#00ff5c 150px,#00fdff 189px,#00b3ff 217px,#007aff 242px,#0042ff 273px,#0025ff 295px,#0029ff 307px,#0040ff 327px,#0065ff 349px,#0090ff 368px,#0098ff 375px)"></i><i style="background:linear-gradient(90deg,#ffb400 7px,#ffdf00 38px,#fe0 60px,#fff500 81px,#fdff00 87px,#73ff00 108px,#34ff00 119px,#00ff01 129px,#00ff62 150px,#00fffe 187px,#00b2ff 217px,#007bff 242px,#0043ff 273px,#0028ff 294px,#002bff 307px,#0042ff 328px,#005fff 346px,#008dff 367px,#0096ff 374px)"></i><i style="background:linear-gradient(90deg,#ffb600 7px,#ffd500 27px,#ffe500 40px,#fff600 63px,#fdff00 85px,#e9ff00 90px,#68ff00 110px,#00ff02 129px,#00ff6e 152px,#00fffe 186px,#00b2ff 217px,#007cff 242px,#0045ff 273px,#002aff 293px,#002dff 307px,#0043ff 328px,#005fff 346px,#008cff 367px,#0095ff 374px)"></i><i style="background:linear-gradient(90deg,#ffb800 8px,#ffda00 28px,#ffef00 46px,#fffe00 66px,#f1ff00 86px,#daff00 92px,#5dff00 112px,#00ff01 129px,#00ff74 153px,#00feff 186px,#00b7ff 215px,#007bff 243px,#0046ff 273px,#002dff 292px,#0030ff 307px,#04f 328px,#0061ff 347px,#008aff 366px,#0094ff 373px)"></i><i style="background:linear-gradient(90deg,#fb0 9px,#ffe000 30px,#fff700 50px,#fdff00 61px,#e2ff00 88px,#d9ff00 91px,#c6ff00 95px,#5eff00 112px,#0f0 129px,#00ff78 154px,#00feff 186px,#00baff 214px,#0079ff 245px,#0047ff 273px,#0030ff 291px,#0032ff 307px,#0046ff 328px,#0062ff 347px,#0092ff 372px)"></i><i style="background:linear-gradient(90deg,#ffbf00 10px,#ffe300 30px,#fffd00 51px,#d6ff00 89px,#bdff00 96px,#42ff00 117px,#02ff00 129px,#00ff04 130px,#00ff7c 155px,#0ff 186px,#0bf 214px,#007aff 245px,#0048ff 273px,#03f 290px,#0034ff 306px,#0046ff 327px,#0060ff 346px,#0091ff 372px)"></i><i style="background:linear-gradient(90deg,#ffc100 10px,#ffe500 29px,#fffe00 47px,#c7ff00 91px,#bf0 95px,#af0 99px,#38ff00 119px,#00ff03 130px,#0f8 158px,#00ffd9 177px,#00fdff 187px,#00b8ff 216px,#0079ff 246px,#0049ff 273px,#0036ff 289px,#0036ff 306px,#0046ff 326px,#005fff 345px,#008fff 371px)"></i><i style="background:linear-gradient(90deg,#ffc500 11px,#ffe800 29px,#fffe00 44px,#b8ff00 93px,#acff00 97px,#97ff00 102px,#3f0 120px,#00ff02 130px,#00ff86 158px,#00feff 187px,#00b4ff 218px,#007aff 246px,#004aff 273px,#0039ff 288px,#0038ff 305px,#0048ff 326px,#0060ff 345px,#008dff 370px)"></i><i style="background:linear-gradient(90deg,#ffc900 12px,#ffeb00 29px,#fdff00 42px,#dbff00 61px,#a8ff00 95px,#9aff00 100px,#85ff00 105px,#00ff01 130px,#00ff85 158px,#00fffe 187px,#00b5ff 218px,#007dff 245px,#0050ff 270px,#003cff 286px,#003bff 304px,#0047ff 324px,#005fff 344px,#008aff 369px)"></i><i style="background:linear-gradient(90deg,#ffcf00 14px,#feff00 39px,#d8ff00 58px,#96ff00 98px,#8f0 103px,#73ff00 108px,#0f0 130px,#00ff8c 160px,#00feff 188px,#00b9ff 217px,#007dff 245px,#0051ff 270px,#0040ff 285px,#003dff 303px,#0048ff 323px,#005fff 343px,#08f 368px)"></i><i style="background:linear-gradient(90deg,#ffd300 15px,#feff00 37px,#d1ff00 58px,#87ff00 100px,#65ff00 110px,#01ff00 130px,#00ff87 159px,#0ff 188px,#00bcff 216px,#0080ff 244px,#05f 268px,#04f 283px,#003fff 301px,#0049ff 322px,#005fff 342px,#0085ff 366px)"></i><i style="background:linear-gradient(90deg,#ffd800 16px,#feff00 35px,#cbff00 57px,#7f0 102px,#58ff00 112px,#01ff00 130px,#00ff04 131px,#00ff81 158px,#00fffe 188px,#00b8ff 218px,#007fff 245px,#0058ff 267px,#0047ff 282px,#0042ff 300px,#004aff 321px,#005eff 341px,#0083ff 365px)"></i><i style="background:linear-gradient(90deg,#ffdf00 18px,#fcff00 34px,#c4ff00 57px,#65ff00 105px,#46ff00 115px,#01ff00 130px,#00ff03 131px,#00ff89 160px,#00feff 189px,#0bf 217px,#0082ff 244px,#005bff 266px,#004aff 281px,#04f 299px,#004cff 320px,#005fff 340px,#0080ff 363px)"></i><i style="background:linear-gradient(90deg,#ffe400 19px,#feff00 32px,#c2ff00 55px,#57ff00 106px,#38ff00 117px,#01ff00 130px,#00ff04 131px,#00ff89 160px,#00feff 189px,#00baff 218px,#0083ff 244px,#005fff 264px,#004dff 280px,#0047ff 298px,#004dff 319px,#005eff 338px,#007eff 362px)"></i><i style="background:linear-gradient(90deg,#ffea00 21px,#fdff00 31px,#c0ff00 53px,#3dff00 112px,#2f0 121px,#00ff01 130px,#00ff8c 161px,#0ff 189px,#00baff 218px,#0084ff 244px,#0062ff 263px,#0051ff 279px,#0049ff 297px,#004eff 317px,#005eff 337px,#007cff 360px)"></i><i style="background:linear-gradient(90deg,#fff100 23px,#fffe00 29px,#c2ff00 50px,#36ff00 110px,#00ff02 129px,#00ffb6 171px,#00fdff 190px,#00b9ff 219px,#0083ff 245px,#0064ff 263px,#0054ff 278px,#004cff 296px,#0050ff 316px,#005dff 335px,#007aff 359px)"></i><i style="background:linear-gradient(90deg,#fff800 25px,#ff0 28px,#b7ff00 52px,#36ff00 106px,#03ff00 125px,#00ff03 127px,#00ff2f 139px,#00ffb9 172px,#00feff 190px,#00bcff 218px,#0085ff 244px,#0069ff 261px,#0058ff 276px,#004fff 294px,#0051ff 314px,#005eff 334px,#0078ff 357px)"></i><i style="background:linear-gradient(90deg,#feff00 27px,#afff00 53px,#01ff02 123px,#00ff20 133px,#00ff4b 145px,#00feff 190px,#00beff 217px,#008aff 242px,#006dff 259px,#005bff 275px,#0052ff 294px,#0053ff 313px,#005eff 332px,#0076ff 355px)"></i><i style="background:linear-gradient(90deg,#f4ff00 29px,#a4ff00 55px,#05ff00 117px,#00ff03 120px,#00ff54 146px,#00feff 190px,#00beff 217px,#008cff 241px,#0071ff 257px,#005fff 273px,#05f 292px,#05f 311px,#005eff 330px,#0074ff 353px)"></i><i style="background:linear-gradient(90deg,#eaff00 31px,#9f0 57px,#00ff02 116px,#00ff5c 146px,#00feff 190px,#00beff 217px,#0090ff 239px,#0074ff 256px,#0062ff 272px,#0057ff 291px,#0057ff 310px,#005fff 329px,#0073ff 351px)"></i><i style="background:linear-gradient(90deg,#dfff00 33px,#8fff00 59px,#00ff02 113px,#00ff64 146px,#0ff 189px,#00bdff 217px,#0098ff 235px,#007aff 253px,#06f 270px,#005bff 288px,#0059ff 307px,#005fff 326px,#0071ff 349px)"></i><i style="background:linear-gradient(90deg,#d4ff00 35px,#84ff00 61px,#00ff02 110px,#00ff6a 145px,#00fffe 188px,#009cff 233px,#007eff 251px,#0069ff 269px,#005eff 287px,#005bff 306px,#0060ff 324px,#006fff 346px)"></i><i style="background:linear-gradient(90deg,#caff00 37px,#7cff00 62px,#00ff03 108px,#00ff6e 144px,#00feff 187px,#00bfff 215px,#009eff 232px,#0081ff 250px,#006dff 267px,#0061ff 285px,#005dff 304px,#0061ff 322px,#006fff 344px)"></i><i style="background:linear-gradient(90deg,#bdff00 40px,#75ff00 63px,#00ff01 105px,#00ff72 143px,#00feff 186px,#00c1ff 214px,#009eff 232px,#0084ff 249px,#0071ff 266px,#0064ff 284px,#005fff 302px,#0062ff 320px,#006eff 341px)"></i><i style="background:linear-gradient(90deg,#afff00 43px,#5cff00 70px,#00ff02 103px,#00ff78 143px,#00fffe 184px,#00a2ff 230px,#08f 247px,#0074ff 264px,#0067ff 282px,#0062ff 300px,#0063ff 317px,#006dff 339px)"></i><i style="background:linear-gradient(90deg,#a2ff00 46px,#54ff00 71px,#00ff02 101px,#00ff7b 142px,#00fffe 183px,#00a5ff 229px,#008bff 246px,#07f 263px,#006bff 280px,#0064ff 298px,#0065ff 315px,#006dff 336px)"></i><i style="background:linear-gradient(90deg,#95ff00 49px,#53ff00 70px,#00ff01 99px,#00ff65 133px,#0ff 182px,#00afff 223px,#0090ff 243px,#007bff 261px,#006eff 278px,#0067ff 295px,#006cff 333px)"></i><i style="background:linear-gradient(90deg,#8f0 52px,#00ff01 97px,#00ff67 132px,#00fffe 181px,#00b0ff 223px,#007fff 259px,#006aff 292px,#006cff 329px)"></i><i style="background:linear-gradient(90deg,#7bff00 55px,#01ff00 95px,#0f6 130px,#00fffe 180px,#00b2ff 222px,#0083ff 257px,#006dff 290px,#006dff 326px)"></i><i style="background:linear-gradient(90deg,#6bff00 59px,#00ff01 94px,#00feff 180px,#00b4ff 221px,#0087ff 255px,#0070ff 287px,#006dff 322px)"></i><i style="background:linear-gradient(90deg,#5bff00 63px,#00ff01 93px,#0ff 179px,#00b6ff 220px,#008cff 252px,#0074ff 284px,#006eff 318px)"></i><i style="background:linear-gradient(90deg,#4bff00 67px,#00ff02 92px,#00fffe 178px,#00b7ff 220px,#0090ff 250px,#07f 281px,#006fff 314px)"></i><i style="background:linear-gradient(90deg,#3cff00 71px,#00ff02 91px,#0ff 178px,#00bcff 217px,#0094ff 248px,#007bff 278px,#0071ff 310px)"></i><i style="background:linear-gradient(90deg,#29ff00 76px,#00ff02 90px,#00ffd1 161px,#00feff 178px,#00beff 216px,#0097ff 246px,#007fff 275px,#0073ff 305px)"></i><i style="background:linear-gradient(90deg,#17ff00 81px,#00ff02 89px,#0ff 177px,#00c4ff 213px,#009eff 241px,#0084ff 270px,#0076ff 300px)"></i><i style="background:linear-gradient(90deg,#02ff00 87px,#0ff 177px,#00c7ff 211px,#00a2ff 239px,#08f 267px,#0079ff 295px)"></i><i style="background:linear-gradient(90deg,#00ff12 93px,#00ffa6 144px,#00feff 177px,#00c8ff 211px,#00a5ff 238px,#008dff 263px,#007dff 289px)"></i><i style="background:linear-gradient(90deg,#00ff29 100px,#0fa 145px,#00feff 177px,#00cdff 208px,#00adff 232px,#0095ff 255px,#0082ff 282px)"></i><i style="background:linear-gradient(90deg,#00ff3d 106px,#00ffa9 144px,#00fffe 176px,#00b6ff 226px,#09f 252px,#0087ff 275px)"></i><i style="background:linear-gradient(90deg,#00ff56 114px,#00fffe 176px,#00b8ff 225px,#008eff 267px)"></i><i style="background:linear-gradient(90deg,#00ff73 124px,#00fffe 176px,#00bdff 222px,#0098ff 257px)"></i><i style="background:linear-gradient(90deg,#00ff93 135px,#00feff 177px,#00c9ff 213px,#00a3ff 246px)"></i><i style="background:linear-gradient(90deg,#00ffb9 149px,#00feff 177px,#00cdff 211px,#00b2ff 233px)"></i><i class=a style="background:linear-gradient(90deg,#00fff2 171px,#00feff 177px,#00cfff 210px)"></i></div>
<div class="m" style="left:329.40px;top:1158.10px;width:377px;height:352px;clip-path:path(evenodd,'M203 347.5L183 347.8L163.2 346.5L150 344.4L129.4 339.5L112.4 333.5L96.9 326.5L81 317.5L68.1 308.5L53.1 295.5L44 286L32 270.5L25 259.3L19 247.7L12 229.6L8 214.8L4.8 195.5L4 177.5L4.5 159.5L7 141.9L10 128.8L15 113.8L22 98L32 81.4L41 69.4L53 56.5L66.8 44.5L81 34.5L96.7 25.5L112.2 18.5L129.3 12.5L145.1 8.5L163.1 5.5L182 4.1L203.3 4.5L221.2 6.5L240 10.4L256.6 15.5L274.1 22.5L291.1 31.5L305 40.7L320.7 53.5L333 66.1L342.9 78.5L351 90.9L358 104.3L364 119.3L369 137.2L372.2 156.5L373 173.5L372.5 192.5L370 210.1L367 223.2L361 240.8L354 255.8L349 264.5L343 273.5L333 286.1L320.8 298.5L305 311.4L291.1 320.5L274.2 329.5L256.8 336.5L236.5 342.5L221.4 345.5ZM190.7 179.5L192.2 177.5L193.2 174.5L193 173.4L192 172.4L190 171.9L186 172.7L184.8 174.5L183.8 177.5L184 178.6L185 179.6L187 180.1Z')"><i style="background:linear-gradient(90deg,#d8ff00 164px,#d0ff00 188px,#beff00 213px)"></i><i style="background:linear-gradient(90deg,#dbff00 151px,#dbff00 169px,#d5ff00 187px,#c8ff00 206px,#b3ff00 226px)"></i><i style="background:linear-gradient(90deg,#dcff00 141px,#e0ff00 165px,#daff00 187px,#c9ff00 210px,#af0 236px)"></i><i style="background:linear-gradient(90deg,#dcff00 133px,#e5ff00 162px,#dfff00 187px,#cbff00 212px,#a4ff00 243px)"></i><i style="background:linear-gradient(90deg,#df0 127px,#e9ff00 158px,#e4ff00 187px,#caff00 217px,#9cff00 250px)"></i><i style="background:linear-gradient(90deg,#dcff00 121px,#ef0 155px,#e9ff00 187px,#cbff00 220px,#95ff00 256px)"></i><i style="background:linear-gradient(90deg,#dbff00 115px,#ecff00 137px,#f2ff00 153px,#f3ff00 170px,#edff00 187px,#e0ff00 205px,#ceff00 222px,#8fff00 261px)"></i><i style="background:linear-gradient(90deg,#daff00 110px,#ef0 133px,#f7ff00 150px,#f8ff00 168px,#f3ff00 186px,#e5ff00 205px,#d0ff00 224px,#b5ff00 242px,#8f0 267px)"></i><i style="background:linear-gradient(90deg,#d9ff00 106px,#f0ff00 129px,#fbff00 147px,#fdff00 166px,#f7ff00 186px,#e9ff00 205px,#d1ff00 226px,#b2ff00 246px,#83ff00 271px)"></i><i style="background:linear-gradient(90deg,#d7ff00 101px,#f1ff00 125px,#fdff00 142px,#fcff00 185px,#edff00 206px,#d1ff00 229px,#b1ff00 249px,#7cff00 276px)"></i><i style="background:linear-gradient(90deg,#d6ff00 97px,#f0ff00 119px,#feff00 135px,#fffa00 162px,#feff00 190px,#ecff00 211px,#d0ff00 233px,#b0ff00 252px,#76ff00 280px)"></i><i style="background:linear-gradient(90deg,#d4ff00 93px,#feff00 128px,#fff700 162px,#feff00 196px,#e9ff00 217px,#cf0 238px,#a4ff00 260px,#72ff00 283px)"></i><i style="background:linear-gradient(90deg,#d3ff00 90px,#f2ff00 112px,#fffe00 125px,#fff300 162px,#feff00 201px,#e7ff00 222px,#c8ff00 243px,#a2ff00 263px,#6cff00 287px)"></i><i style="background:linear-gradient(90deg,#d0ff00 86px,#fffe00 120px,#fff400 141px,#fff000 162px,#fff400 183px,#feff00 205px,#e7ff00 225px,#c6ff00 246px,#a1ff00 265px,#65ff00 291px)"></i><i style="background:linear-gradient(90deg,#cfff00 83px,#fffe00 116px,#fff100 139px,#ffed00 162px,#fff200 184px,#fffe00 208px,#e8ff00 227px,#c2ff00 250px,#9eff00 268px,#61ff00 294px)"></i><i style="background:linear-gradient(90deg,#cdff00 80px,#fffe00 112px,#ffef00 137px,#ffea00 162px,#fff000 186px,#ff0 212px,#e4ff00 232px,#beff00 254px,#94ff00 274px,#5cff00 297px)"></i><i style="background:linear-gradient(90deg,#cbff00 77px,#f2ff00 99px,#fffe00 109px,#ffed00 135px,#ffe800 162px,#fe0 188px,#ff0 215px,#e3ff00 235px,#bcff00 257px,#93ff00 276px,#57ff00 300px)"></i><i style="background:linear-gradient(90deg,#c9ff00 74px,#fffe00 105px,#ffeb00 133px,#ffe500 161px,#ffeb00 189px,#ff0 218px,#e0ff00 239px,#b7ff00 261px,#8fff00 279px,#52ff00 303px)"></i><i style="background:linear-gradient(90deg,#c7ff00 71px,#fffe00 102px,#ffe900 132px,#ffe200 161px,#ffe900 190px,#feff00 221px,#deff00 242px,#b2ff00 265px,#8bff00 282px,#4cff00 306px)"></i><i style="background:linear-gradient(90deg,#c6ff00 69px,#ff0 99px,#ffe600 131px,#ffdf00 161px,#ffe700 192px,#ff0 223px,#dfff00 243px,#b0ff00 267px,#87ff00 285px,#49ff00 308px)"></i><i style="background:linear-gradient(90deg,#c3ff00 66px,#efff00 87px,#fffe00 97px,#ffe400 129px,#ffdc00 160px,#ffe500 192px,#fffe00 225px,#e1ff00 244px,#afff00 269px,#85ff00 287px,#43ff00 311px)"></i><i style="background:linear-gradient(90deg,#c1ff00 64px,#fffe00 94px,#ffe200 128px,#ffd900 160px,#ffe300 193px,#fffe00 227px,#e0ff00 246px,#abff00 272px,#80ff00 290px,#3fff00 313px)"></i><i style="background:linear-gradient(90deg,#beff00 61px,#fffe00 92px,#ffe100 126px,#ffd600 159px,#ffe000 193px,#fffe00 229px,#dbff00 250px,#a4ff00 276px,#7bff00 293px,#39ff00 316px)"></i><i style="background:linear-gradient(90deg,#bcff00 59px,#ebff00 79px,#fffe00 90px,#ffde00 125px,#ffd400 159px,#ffde00 193px,#fffe00 231px,#d8ff00 253px,#a2ff00 278px,#72ff00 297px,#35ff00 318px)"></i><i style="background:linear-gradient(90deg,#baff00 57px,#eaff00 77px,#fffe00 88px,#ffdc00 124px,#ffd200 158px,#ffdc00 193px,#ff0 233px,#d4ff00 256px,#a0ff00 280px,#70ff00 299px,#31ff00 320px)"></i><i style="background:linear-gradient(90deg,#b8ff00 55px,#eaff00 75px,#fffe00 86px,#ffdb00 122px,#ffd200 140px,#ffcf00 157px,#ffdb00 193px,#ff0 234px,#d5ff00 257px,#9dff00 282px,#6cff00 301px,#2dff00 322px)"></i><i style="background:linear-gradient(90deg,#b6ff00 53px,#e9ff00 73px,#fffe00 84px,#ffd900 121px,#ffd000 138px,#ffcd00 157px,#ffd900 193px,#ff0 235px,#d5ff00 258px,#9aff00 284px,#69ff00 303px,#29ff00 324px)"></i><i style="background:linear-gradient(90deg,#b4ff00 51px,#e8ff00 71px,#fffe00 82px,#ffd800 119px,#ffcf00 137px,#ffcb00 156px,#ffce00 174px,#ffd700 192px,#fffe00 235px,#d6ff00 258px,#9fff00 283px,#6f0 305px,#25ff00 326px)"></i><i style="background:linear-gradient(90deg,#b1ff00 49px,#e7ff00 69px,#ff0 80px,#ffe600 100px,#ffd700 118px,#ffcd00 137px,#ffca00 157px,#fc0 175px,#ffd600 193px,#ff0 236px,#d2ff00 261px,#9eff00 284px,#65ff00 306px,#20ff00 328px)"></i><i style="background:linear-gradient(90deg,#aeff00 47px,#e5ff00 67px,#fffe00 79px,#ffe500 99px,#ffd600 116px,#ffcb00 136px,#ffc700 157px,#ffcb00 175px,#ffd400 193px,#ff0 236px,#cfff00 263px,#9dff00 285px,#61ff00 308px,#1bff00 330px)"></i><i style="background:linear-gradient(90deg,#acff00 45px,#e1ff00 64px,#ff0 77px,#ffe500 97px,#ffd500 114px,#ffca00 136px,#ffc500 157px,#ffc800 175px,#ffd200 193px,#ff0 236px,#cbff00 265px,#9cff00 286px,#60ff00 309px,#17ff00 332px)"></i><i style="background:linear-gradient(90deg,#a9ff00 43px,#e2ff00 63px,#fffe00 76px,#ffe300 97px,#ffd500 113px,#ffc800 136px,#ffc300 158px,#ffc700 176px,#ffd100 193px,#fffe00 236px,#c5ff00 268px,#9bff00 287px,#5cff00 311px,#12ff00 334px)"></i><i style="background:linear-gradient(90deg,#a6ff00 41px,#e0ff00 61px,#ff0 74px,#ffe400 94px,#ffd400 112px,#ffc600 136px,#ffc100 157px,#ffc400 175px,#ffcf00 193px,#fffe00 236px,#bdff00 272px,#9aff00 288px,#58ff00 313px,#0dff00 336px)"></i><i style="background:linear-gradient(90deg,#a3ff00 39px,#e0ff00 60px,#fffe00 73px,#ffe400 93px,#ffd200 113px,#ffc300 137px,#ffbf00 159px,#ffc200 176px,#ffcd00 193px,#feff00 237px,#b3ff00 277px,#96ff00 290px,#53ff00 315px,#08ff00 338px)"></i><i style="background:linear-gradient(90deg,#9fff00 37px,#e0ff00 59px,#fffe00 72px,#ffe300 92px,#ffd000 114px,#ffc200 137px,#ffbd00 159px,#ffc000 176px,#ffcb00 193px,#ff0 237px,#92ff00 292px,#4fff00 317px,#06ff00 339px)"></i><i style="background:linear-gradient(90deg,#9eff00 36px,#dbff00 56px,#ff0 70px,#ffe400 90px,#ffce00 115px,#ffbf00 138px,#ffba00 159px,#ffbd00 175px,#ffc800 192px,#ff0 237px,#8bff00 295px,#4dff00 318px,#01ff00 341px)"></i><i style="background:linear-gradient(90deg,#9bff00 34px,#dbff00 55px,#ff0 69px,#ffe500 88px,#ffcb00 116px,#ffbd00 138px,#ffb800 159px,#fb0 175px,#ffc600 192px,#ff0 237px,#89ff00 296px,#51ff00 317px,#04ff00 340px,#00ff04 343px)"></i><i style="background:linear-gradient(90deg,#9f0 33px,#d8ff00 53px,#ff0 68px,#ffe600 86px,#ffc900 117px,#ffba00 139px,#ffb500 159px,#ffb900 176px,#ffc500 193px,#fffe00 236px,#82ff00 299px,#43ff00 322px,#02ff00 341px,#00ff07 344px)"></i><i style="background:linear-gradient(90deg,#96ff00 31px,#d8ff00 52px,#ff0 67px,#ffe700 84px,#ffc700 118px,#ffb800 139px,#ffb300 159px,#ffb700 176px,#ffc300 193px,#fffe00 236px,#baff00 269px,#80ff00 300px,#41ff00 323px,#0f0 342px,#00ff0c 346px)"></i><i style="background:linear-gradient(90deg,#94ff00 30px,#d7ff00 51px,#ff0 66px,#ffe900 82px,#ffc400 120px,#ffb500 140px,#ffb000 159px,#ffb400 176px,#ffc100 193px,#fffe00 236px,#b5ff00 270px,#7bff00 302px,#3fff00 324px,#01ff00 342px,#00ff0e 347px)"></i><i style="background:linear-gradient(90deg,#90ff00 28px,#d7ff00 50px,#ff0 65px,#ffe900 81px,#ffbf00 123px,#ffb200 142px,#ffad00 160px,#ffb200 177px,#ffbf00 193px,#ff0 236px,#b3ff00 270px,#6fff00 307px,#37ff00 327px,#02ff00 342px,#00ff14 349px)"></i><i style="background:linear-gradient(90deg,#8fff00 27px,#d3ff00 48px,#ff0 64px,#ffeb00 79px,#ffbc00 125px,#ffaf00 143px,#fa0 160px,#ffaf00 177px,#ffbd00 193px,#ff0 236px,#b1ff00 270px,#69ff00 309px,#38ff00 327px,#03ff00 342px,#00ff17 350px)"></i><i style="background:linear-gradient(90deg,#8dff00 26px,#d5ff00 48px,#fffe00 64px,#ffb800 127px,#ffac00 144px,#ffa800 160px,#ffac00 176px,#ffb900 192px,#ffd000 208px,#fffe00 235px,#acff00 271px,#64ff00 311px,#32ff00 329px,#01ff00 343px,#00ff1a 351px)"></i><i style="background:linear-gradient(90deg,#8f0 24px,#d4ff00 47px,#fffe00 63px,#ffb500 128px,#ffa900 145px,#ffa400 161px,#ffa900 176px,#ffb700 192px,#ffcd00 207px,#fffe00 235px,#a9ff00 271px,#5cff00 314px,#2fff00 330px,#02ff00 343px,#00ff1d 352px)"></i><i style="background:linear-gradient(90deg,#86ff00 23px,#94ff00 28px,#d0ff00 45px,#ff0 62px,#ffb200 130px,#ffa500 147px,#ffa100 161px,#ffa600 176px,#ffb500 192px,#ffcb00 207px,#ff0 235px,#cdff00 254px,#a4ff00 272px,#57ff00 316px,#2dff00 331px,#03ff00 343px,#0f2 354px)"></i><i style="background:linear-gradient(90deg,#84ff00 22px,#d5ff00 46px,#ff0 62px,#ffaf00 131px,#ffa200 147px,#ff9e00 161px,#ffa200 176px,#ffb100 191px,#ffc800 206px,#fffe00 234px,#c3ff00 257px,#9dff00 274px,#51ff00 318px,#2aff00 332px,#0f0 344px,#00ff25 355px)"></i><i style="background:linear-gradient(90deg,#82ff00 21px,#90ff00 26px,#d7ff00 46px,#fffe00 62px,#ffab00 132px,#ff9e00 149px,#ff9b00 162px,#ff9f00 176px,#ffae00 191px,#ffc700 206px,#fffe00 234px,#c5ff00 255px,#9f0 274px,#4bff00 320px,#27ff00 333px,#01ff00 344px,#00ff28 356px)"></i><i style="background:linear-gradient(90deg,#80ff00 20px,#8eff00 25px,#d8ff00 46px,#ff0 62px,#ffa800 133px,#ff9b00 149px,#ff9700 162px,#ff9c00 177px,#ffac00 191px,#ffc300 205px,#ff0 234px,#c5ff00 254px,#96ff00 274px,#76ff00 291px,#45ff00 322px,#27ff00 333px,#02ff00 344px,#00ff2b 357px)"></i><i style="background:linear-gradient(90deg,#7eff00 19px,#8cff00 24px,#baff00 36px,#daff00 46px,#ff0 62px,#ffa500 134px,#ff9800 149px,#ff9400 162px,#f90 177px,#ffa900 191px,#ffc200 205px,#fffe00 233px,#c7ff00 252px,#9fff00 268px,#72ff00 291px,#4f0 322px,#2aff00 332px,#03ff00 344px,#00ff2e 358px)"></i><i style="background:linear-gradient(90deg,#7cff00 18px,#8aff00 23px,#b8ff00 35px,#dbff00 46px,#feff00 62px,#ffa200 134px,#ff9500 149px,#ff9000 162px,#ff9500 177px,#ffa600 191px,#ffc000 205px,#fffd00 232px,#beff00 254px,#96ff00 270px,#6aff00 293px,#3eff00 324px,#27ff00 333px,#03ff00 344px,#00ff31 359px)"></i><i style="background:linear-gradient(90deg,#7bff00 17px,#8f0 22px,#b9ff00 35px,#dcff00 46px,#ff0 63px,#ff9f00 135px,#ff9100 150px,#ff8c00 163px,#ff9100 177px,#ffa300 191px,#ffbf00 205px,#fffe00 232px,#bdff00 253px,#92ff00 270px,#6f0 293px,#38ff00 326px,#21ff00 335px,#0f0 345px,#00ff26 355px,#0f3 360px)"></i><i style="background:linear-gradient(90deg,#79ff00 16px,#89ff00 22px,#b7ff00 34px,#d7ff00 44px,#e9ff00 51px,#feff00 63px,#ff9b00 136px,#ff8c00 151px,#f80 163px,#ff8d00 177px,#ffa000 191px,#fb0 204px,#fffd00 231px,#b9ff00 253px,#8bff00 271px,#5eff00 295px,#34ff00 327px,#20ff00 335px,#0f0 345px,#00ff26 355px,#00ff36 361px)"></i><i style="background:linear-gradient(90deg,#76ff00 15px,#86ff00 21px,#b5ff00 33px,#d8ff00 44px,#ff0 64px,#ff9700 137px,#f80 152px,#ff8400 164px,#ff8a00 178px,#ff9d00 191px,#ffb700 203px,#ff0 231px,#b8ff00 252px,#86ff00 271px,#59ff00 295px,#2dff00 329px,#0f0 345px,#00ff29 356px,#00ff39 362px)"></i><i style="background:linear-gradient(90deg,#74ff00 14px,#84ff00 20px,#b2ff00 32px,#d5ff00 43px,#ff0 65px,#ffdc00 91px,#ff9200 139px,#ff8300 153px,#ff7f00 164px,#ff8500 177px,#ff9800 190px,#ffb500 203px,#fffe00 230px,#b4ff00 252px,#7fff00 272px,#52ff00 297px,#29ff00 330px,#1cff00 336px,#0f0 345px,#00ff2d 357px,#00ff3c 363px)"></i><i style="background:linear-gradient(90deg,#72ff00 13px,#81ff00 19px,#b0ff00 31px,#d3ff00 42px,#fffe00 66px,#ffda00 92px,#ff8e00 140px,#ff7f00 154px,#ff7b00 165px,#ff8100 177px,#ff9400 190px,#ffb100 202px,#fffd00 229px,#afff00 252px,#78ff00 273px,#4bff00 298px,#23ff00 332px,#0f0 345px,#00ff30 358px,#00ff3f 364px)"></i><i style="background:linear-gradient(90deg,#70ff00 12px,#7eff00 18px,#b1ff00 31px,#d0ff00 41px,#feff00 66px,#ffdb00 92px,#f80 142px,#ff7a00 155px,#ff7600 165px,#ff7c00 177px,#ff9100 190px,#ffaf00 202px,#fffd00 228px,#a0ff00 255px,#7dff00 268px,#60ff00 282px,#3eff00 304px,#1fff00 333px,#00ff01 345px,#00ff34 359px,#00ff42 365px)"></i><i style="background:linear-gradient(90deg,#6fff00 12px,#7eff00 18px,#aeff00 30px,#cbff00 39px,#ff0 67px,#ffd800 94px,#ff8300 143px,#ff7400 156px,#ff7100 165px,#ff7800 178px,#ff8d00 190px,#fa0 201px,#fffc00 227px,#ff0 228px,#bfff00 244px,#9aff00 255px,#7f0 268px,#5aff00 282px,#39ff00 304px,#1aff00 334px,#02ff00 344px,#00ff37 360px,#00ff43 365px)"></i><i style="background:linear-gradient(90deg,#6dff00 11px,#7bff00 17px,#abff00 29px,#c8ff00 38px,#ff0 68px,#ffd500 96px,#ff7e00 144px,#ff7000 156px,#ff6c00 165px,#ff7200 177px,#ff8700 189px,#ffa500 200px,#fffe00 227px,#c4ff00 241px,#9aff00 253px,#74ff00 267px,#56ff00 281px,#3f0 304px,#15ff00 335px,#01ff00 344px,#00ff3b 361px,#00ff46 366px)"></i><i style="background:linear-gradient(90deg,#6bff00 10px,#78ff00 16px,#abff00 29px,#c5ff00 37px,#ff0 69px,#ffd400 97px,#f70 146px,#ff6a00 157px,#f60 166px,#ff6d00 178px,#ff8500 190px,#ffa300 200px,#fffe00 226px,#c2ff00 240px,#97ff00 252px,#6fff00 266px,#50ff00 281px,#2dff00 305px,#1f0 336px,#0f0 344px,#00ff3b 361px,#00ff48 367px)"></i><i style="background:linear-gradient(90deg,#69ff00 9px,#79ff00 16px,#a8ff00 28px,#c1ff00 36px,#ff0 70px,#ffd100 99px,#ff7200 147px,#ff6400 158px,#ff6000 166px,#ff6800 178px,#ff7f00 189px,#ff9e00 199px,#fffe00 225px,#bf0 240px,#90ff00 252px,#6bff00 265px,#4bff00 280px,#2bff00 302px,#0dff00 336px,#01ff00 343px,#00ff13 350px,#00ff3c 361px,#00ff4a 368px)"></i><i style="background:linear-gradient(90deg,#69ff00 9px,#76ff00 15px,#a9ff00 28px,#beff00 35px,#ff0 71px,#ffce00 101px,#ff6c00 148px,#ff5d00 159px,#ff5a00 167px,#ff6200 178px,#ff7a00 189px,#ff9c00 199px,#fffe00 224px,#bdff00 238px,#8bff00 251px,#63ff00 265px,#4f0 280px,#2f0 304px,#00ff01 343px,#00ff14 350px,#00ff3f 362px,#00ff4c 368px)"></i><i style="background:linear-gradient(90deg,#67ff00 8px,#76ff00 15px,#a5ff00 27px,#baff00 34px,#ff0 72px,#ffca00 103px,#ff6400 150px,#ff5700 159px,#ff5300 167px,#ff5b00 178px,#ff7200 188px,#ff9200 197px,#fffe00 223px,#b9ff00 237px,#87ff00 250px,#5eff00 264px,#3dff00 280px,#1bff00 305px,#00ff01 341px,#00ff12 349px,#00ff43 363px,#00ff4e 369px)"></i><i style="background:linear-gradient(90deg,#6f0 8px,#72ff00 14px,#a2ff00 26px,#b7ff00 33px,#feff00 73px,#ffc900 104px,#ff5e00 151px,#ff5000 160px,#ff4d00 168px,#f50 178px,#ff6d00 188px,#ff8f00 197px,#fffe00 222px,#baff00 235px,#85ff00 248px,#5aff00 262px,#39ff00 278px,#24ff00 292px,#14ff00 307px,#03ff00 329px,#00ff03 340px,#00ff10 348px,#0f4 363px,#00ff4f 369px)"></i><i style="background:linear-gradient(90deg,#64ff00 7px,#6fff00 13px,#9eff00 25px,#b3ff00 32px,#dbff00 56px,#feff00 74px,#ffe500 90px,#ffc600 106px,#ff5700 152px,#ff4900 161px,#ff4500 168px,#ff4d00 178px,#ff6800 188px,#f80 196px,#fffa00 220px,#faff00 222px,#b1ff00 235px,#7fff00 247px,#54ff00 261px,#32ff00 277px,#1cff00 293px,#09ff00 312px,#01ff00 324px,#00ff09 342px,#00ff15 349px,#00ff47 364px,#00ff52 370px)"></i><i style="background:linear-gradient(90deg,#62ff00 6px,#6fff00 13px,#9eff00 25px,#afff00 31px,#d8ff00 56px,#fffe00 76px,#ffe300 92px,#ffc200 108px,#ff4f00 153px,#ff4200 161px,#ff3e00 168px,#ff4600 178px,#ff5f00 187px,#ff8600 196px,#fffb00 219px,#fefe00 220px,#acff00 234px,#78ff00 246px,#4bff00 261px,#2aff00 277px,#13ff00 294px,#01ff00 315px,#00ff0e 343px,#00ff19 350px,#00ff48 364px,#00ff54 371px)"></i><i style="background:linear-gradient(90deg,#61ff00 6px,#6eff00 13px,#9aff00 24px,#abff00 30px,#d5ff00 56px,#ff0 77px,#ffe100 94px,#ffbe00 110px,#ff4700 154px,#ff3900 162px,#ff3500 169px,#ff3e00 178px,#ff5900 187px,#ff7e00 195px,#fffb00 218px,#fdff00 219px,#acff00 232px,#71ff00 245px,#46ff00 259px,#25ff00 275px,#12ff00 289px,#02ff00 306px,#00ff13 345px,#00ff20 352px,#00ff4c 365px,#0f5 371px)"></i><i style="background:linear-gradient(90deg,#60ff00 5px,#6bff00 12px,#96ff00 23px,#a7ff00 29px,#d2ff00 56px,#fffe00 79px,#ffdf00 96px,#fb0 112px,#ff3f00 155px,#ff3200 162px,#ff2c00 169px,#ff3500 178px,#ff5300 187px,#ff7c00 195px,#fffd00 217px,#abff00 230px,#6dff00 243px,#40ff00 257px,#1fff00 273px,#02ff00 298px,#00ff18 346px,#00ff24 353px,#00ff4d 365px,#00ff57 372px)"></i><i style="background:linear-gradient(90deg,#5fff00 5px,#6bff00 12px,#95ff00 23px,#a3ff00 28px,#ceff00 56px,#fffe00 80px,#ffdf00 97px,#ffb900 113px,#ff3600 156px,#ff2700 164px,#ff2300 170px,#ff2c00 178px,#ff4c00 187px,#ff7300 194px,#fff800 215px,#f8ff00 217px,#cbff00 223px,#a4ff00 229px,#68ff00 241px,#3aff00 255px,#19ff00 271px,#07ff00 284px,#00ff02 293px,#00ff10 315px,#00ff1d 347px,#00ff29 354px,#00ff50 366px,#00ff58 372px)"></i><i style="background:linear-gradient(90deg,#5eff00 4px,#6aff00 12px,#91ff00 22px,#9fff00 27px,#cdff00 57px,#ff0 81px,#ffe300 96px,#ffc300 110px,#ff9100 127px,#ff3000 156px,#ff1e00 164px,#ff1900 170px,#f20 178px,#ff4000 186px,#ff6900 193px,#ffd400 208px,#fdff00 215px,#cf0 221px,#a2ff00 227px,#80ff00 233px,#63ff00 239px,#36ff00 252px,#12ff00 269px,#00ff03 285px,#00ff14 310px,#0f2 349px,#00ff2e 355px,#00ff51 366px,#00ff5a 373px)"></i><i style="background:linear-gradient(90deg,#5dff00 4px,#67ff00 11px,#90ff00 22px,#9aff00 26px,#c9ff00 57px,#fffe00 83px,#ffe100 98px,#ffbf00 112px,#ff8e00 128px,#ff2600 157px,#ff1200 165px,#ff0e00 171px,#ff1a00 179px,#ff3800 186px,#ff6d00 194px,#ffda00 208px,#fffd00 213px,#f9ff00 214px,#cdff00 219px,#a0ff00 225px,#7bff00 231px,#5dff00 237px,#45ff00 243px,#2bff00 251px,#0aff00 267px,#00ff02 276px,#00ff19 305px,#00ff27 350px,#00ff2f 355px,#00ff52 366px,#00ff5b 373px)"></i><i style="background:linear-gradient(90deg,#5cff00 4px,#6f0 11px,#96ff00 25px,#c5ff00 57px,#fffd00 85px,#ffdf00 100px,#ffb900 115px,#ff8400 131px,#ff1800 159px,#ff0600 166px,#ff0301 171px,#ff0b00 178px,#ff1a00 182px,#ff3000 186px,#ff5b00 192px,#ffd300 206px,#fcfe00 212px,#c4ff00 218px,#9cff00 223px,#7bff00 228px,#5aff00 234px,#3dff00 241px,#26ff00 248px,#03ff00 264px,#00ff1d 299px,#00ff2b 351px,#00ff34 356px,#00ff54 366px,#00ff5c 373px)"></i><i style="background:linear-gradient(90deg,#5bff00 3px,#63ff00 10px,#86ff00 20px,#93ff00 25px,#c3ff00 58px,#fffe00 86px,#ffdb00 103px,#ffaf00 119px,#ff7900 134px,#ff1000 159px,#ff0300 163px,#ff0007 166px,#ff000f 172px,#ff0104 178px,#ff0500 180px,#ff1400 183px,#ff4600 190px,#ffdc00 206px,#fffc00 210px,#f7ff00 211px,#cdff00 215px,#a0ff00 220px,#7bff00 225px,#5cff00 230px,#3fff00 236px,#28ff00 242px,#04ff00 256px,#00ff03 260px,#00ff15 275px,#00ff21 291px,#00ff30 352px,#00ff39 357px,#00ff57 367px,#00ff5e 374px)"></i><i style="background:linear-gradient(90deg,#5aff00 3px,#62ff00 10px,#8fff00 24px,#c1ff00 59px,#fffe00 88px,#ffd700 106px,#ffa700 122px,#ff7100 136px,#ff0300 160px,#ff0006 162px,#ff001e 168px,#ff0024 172px,#ff001b 177px,#ff0005 181px,#ff0800 183px,#ff4000 190px,#ffd400 204px,#fff900 208px,#fbfe00 209px,#c2ff00 214px,#9bff00 218px,#7aff00 222px,#58ff00 227px,#28ff00 237px,#04ff00 249px,#00ff05 253px,#00ff1a 268px,#00ff28 287px,#00ff2f 311px,#00ff34 352px,#00ff3b 357px,#00ff58 367px,#00ff5f 374px)"></i><i style="background:linear-gradient(90deg,#59ff00 3px,#61ff00 10px,#8aff00 23px,#beff00 60px,#fffd00 90px,#ffd500 108px,#ffa300 124px,#ff6900 138px,#ff0400 158px,#ff0008 160px,#ff002e 167px,#ff0037 170px,#ff0039 173px,#ff002d 178px,#ff0301 184px,#ff3b00 190px,#ffbf00 201px,#fff500 206px,#fcfd00 207px,#f2ff00 208px,#9eff00 215px,#79ff00 219px,#5aff00 223px,#27ff00 232px,#04ff01 242px,#00ff04 245px,#00ff1e 260px,#00ff2e 280px,#00ff36 309px,#00ff38 353px,#00ff40 358px,#00ff5a 367px,#00ff60 374px)"></i><i style="background:linear-gradient(90deg,#58ff00 2px,#60ff00 10px,#7eff00 19px,#87ff00 23px,#a7ff00 48px,#c5ff00 66px,#fffe00 91px,#ffd500 109px,#ffa200 125px,#ff6a00 138px,#ff0200 157px,#ff0006 158px,#ff002a 163px,#ff0042 167px,#ff004d 170px,#ff0052 173px,#ff004e 176px,#ff003f 179px,#ff0026 182px,#ff0103 185px,#ff1300 187px,#ff3700 190px,#ffe400 203px,#fefb00 205px,#f5ff00 206px,#c9ff00 209px,#97ff00 213px,#6eff00 217px,#4dff00 221px,#3f0 225px,#18ff00 230px,#08ff00 234px,#00ff05 238px,#00ff21 251px,#00ff32 268px,#00ff3c 296px,#00ff3c 353px,#00ff42 358px,#00ff5d 368px,#00ff61 375px)"></i><i style="background:linear-gradient(90deg,#57ff00 2px,#5fff00 10px,#83ff00 22px,#a3ff00 48px,#c0ff00 66px,#df0 80px,#fffe00 93px,#ffd700 110px,#ffa100 126px,#f60 139px,#ff0100 156px,#ff0007 157px,#ff003b 163px,#ff0057 167px,#ff0069 171px,#ff006d 174px,#f06 177px,#ff0053 180px,#ff0032 183px,#ff0004 186px,#ff0a00 187px,#ff3400 190px,#fd0 201px,#fff800 203px,#f7ff00 204px,#c5ff00 207px,#9aff00 210px,#76ff00 213px,#57ff00 216px,#35ff00 220px,#1bff00 224px,#07ff00 228px,#00ff06 231px,#00ff19 237px,#00ff28 244px,#00ff3b 261px,#0f4 292px,#00ff41 354px,#00ff45 358px,#00ff5e 368px,#00ff62 375px)"></i><i style="background:linear-gradient(90deg,#56ff00 2px,#5eff00 10px,#7fff00 22px,#9dff00 47px,#bf0 66px,#daff00 81px,#fffe00 95px,#ffd200 113px,#ff9d00 128px,#ff5d00 141px,#ff0300 155px,#ff0006 156px,#ff0042 162px,#ff006d 167px,#ff0085 171px,#ff008c 174px,#ff0089 176px,#ff0080 178px,#ff0065 181px,#ff0039 184px,#ff0200 187px,#ff3400 190px,#ffb200 197px,#fff300 201px,#f7fd00 202px,#e5ff00 203px,#c0ff00 205px,#8fff00 208px,#4fff00 213px,#29ff00 217px,#0cff00 221px,#00ff0a 225px,#0f2 231px,#00ff31 237px,#00ff3e 245px,#00ff47 255px,#00ff4d 287px,#00ff45 354px,#00ff4a 359px,#00ff5f 368px,#00ff63 375px)"></i><i class=a style="background:linear-gradient(90deg,#5f0 2px,#5bff00 9px,#7dff00 22px,#9f0 46px,#b7ff00 66px,#d6ff00 81px,#fffe00 97px,#ffd300 114px,#ffa000 128px,#ff5900 142px,#f00 155px,#ff000b 156px,#ff0057 163px,#ff0087 168px,#ff00a0 172px,#ff00a5 175px,#ff009a 178px,#ff007c 181px,#ff004a 184px,#ff0006 187px,#ff0e00 188px,#ffb000 196px,#fff900 200px,#f0ff00 201px,#9dff00 205px,#5dff00 209px,#24ff00 214px,#03ff00 218px,#00ff04 219px,#00ff23 225px,#00ff3a 232px,#00ff48 240px,#00ff51 250px,#0f5 280px,#00ff48 354px,#00ff4c 359px,#00ff60 368px,#00ff64 375px)"></i><i class=a style="background:linear-gradient(90deg,#5f0 1px,#5aff00 9px,#7aff00 21px,#95ff00 45px,#b3ff00 65px,#d5ff00 82px,#fffe00 98px,#ffd200 115px,#ff9a00 130px,#f50 143px,#ff0002 155px,#ff006b 164px,#ff0094 168px,#ff00b1 172px,#ff00b7 175px,#ff00ad 178px,#ff008d 181px,#ff0056 184px,#ff000a 187px,#ff0d00 188px,#ffbc00 196px,#fff700 199px,#f0ff00 200px,#bfff00 202px,#95ff00 204px,#52ff00 208px,#20ff00 212px,#04ff00 215px,#00ff04 216px,#00ff24 221px,#00ff3f 228px,#00ff4f 236px,#00ff59 246px,#00ff5c 270px,#00ff4a 354px,#00ff4d 359px,#00ff61 368px,#00ff65 376px)"></i><i class=a style="background:linear-gradient(90deg,#54ff00 1px,#5aff00 9px,#78ff00 21px,#93ff00 45px,#b2ff00 66px,#d4ff00 83px,#fffe00 99px,#ffd100 116px,#ff9c00 130px,#ff5600 143px,#ff0600 154px,#ff0004 155px,#ff00a1 168px,#ff00c2 172px,#ff00cb 175px,#ff00c1 178px,#ff009f 181px,#ff0062 184px,#ff000d 187px,#ff0d00 188px,#ffb600 195px,#fff700 198px,#ef0 199px,#a1ff00 202px,#53ff00 206px,#1bff00 210px,#05ff00 212px,#00ff04 213px,#00ff29 218px,#0f4 224px,#00ff57 232px,#00ff61 242px,#00ff63 267px,#00ff4c 354px,#00ff4f 359px,#00ff62 368px,#00ff65 376px)"></i><i class=a style="background:linear-gradient(90deg,#54ff00 1px,#59ff00 9px,#76ff00 21px,#90ff00 45px,#afff00 66px,#d4ff00 84px,#fffe00 100px,#ffd100 117px,#ff9a00 131px,#ff5800 143px,#ff0500 154px,#ff0005 155px,#f08 165px,#ff00b9 169px,#ff00d4 172px,#ff00e0 175px,#ff00d6 178px,#ff00c1 180px,#ff00b1 181px,#ff006d 184px,#ff000f 187px,#ff0f00 188px,#ffae00 194px,#fff700 197px,#ebff00 198px,#b0ff00 200px,#69ff00 203px,#43ff00 205px,#23ff00 207px,#08ff00 209px,#00ff03 210px,#00ff2f 215px,#00ff4e 221px,#00ff61 228px,#00ff6b 237px,#00ff6d 258px,#00ff4e 354px,#00ff51 359px,#00ff64 369px,#0f6 376px)"></i><i class=a style="background:linear-gradient(90deg,#53ff00 1px,#57ff00 8px,#73ff00 20px,#8eff00 45px,#adff00 66px,#d0ff00 84px,#fffe00 101px,#ffd400 117px,#ff9d00 131px,#ff5a00 143px,#ff2f00 149px,#ff0500 154px,#ff0006 155px,#ff00c7 169px,#ff00e6 172px,#ff00f6 175px,#ff00f3 177px,#ff00ed 178px,#ff00d5 180px,#ff00c5 181px,#ff0095 183px,#ff0079 184px,#ff000f 187px,#ff1200 188px,#ffa500 193px,#fff700 196px,#e8ff00 197px,#a6ff00 199px,#58ff00 202px,#30ff00 204px,#0f0 207px,#00ff18 209px,#00ff35 212px,#00ff59 218px,#00ff6c 224px,#0f7 233px,#0f7 251px,#00ff60 305px,#00ff51 354px,#00ff54 360px,#00ff64 369px,#0f6 376px)"></i><i class=a style="background:linear-gradient(90deg,#53ff00 1px,#56ff00 8px,#70ff00 19px,#8cff00 45px,#af0 66px,#cfff00 85px,#ff0 102px,#ffd300 118px,#ff9c00 132px,#ff5d00 143px,#ff3100 149px,#ff0600 154px,#ff0006 155px,#ff00d5 169px,#ff00f9 172px,#ff02ff 173px,#ff0bff 175px,#ff05ff 178px,#ff00fa 179px,#ff00ec 180px,#ff00d9 181px,#ff00a4 183px,#ff005f 185px,#ff000e 187px,#ff1600 188px,#ffba00 193px,#fff600 195px,#e2ff00 196px,#9f0 198px,#5cff00 200px,#17ff00 203px,#06ff00 204px,#00ff0b 205px,#00ff3c 209px,#0f5 212px,#0f6 215px,#00ff7b 221px,#00ff85 229px,#00ff83 246px,#00ff65 303px,#00ff53 353px,#0f5 360px,#00ff65 369px,#00ff67 376px)"></i><i class=a style="background:linear-gradient(90deg,#53ff00 1px,#56ff00 8px,#6eff00 19px,#8bff00 46px,#a9ff00 67px,#ceff00 86px,#ff0 103px,#ffd300 119px,#ff9f00 132px,#ff6000 143px,#f30 149px,#ff0600 154px,#ff0005 155px,#ff0050 160px,#ff00e4 169px,#ff01ff 171px,#ff1aff 174px,#ff20ff 176px,#ff1aff 178px,#ff03ff 180px,#f0e 181px,#ff00b3 183px,#f06 185px,#ff000a 187px,#ff1d00 188px,#fff500 194px,#deff00 195px,#89ff00 197px,#4f0 199px,#0fff00 201px,#00ff07 202px,#00ff29 204px,#00ff45 206px,#00ff63 209px,#00ff71 211px,#00ff8b 217px,#00ff96 224px,#00ff95 236px,#00ff6b 298px,#00ff57 347px,#0f5 358px,#00ff65 368px,#00ff67 376px)"></i><i class=a style="background:linear-gradient(90deg,#52ff00 1px,#5f0 8px,#6dff00 19px,#8f0 46px,#a6ff00 67px,#cbff00 86px,#fffe00 105px,#ffd000 121px,#ff9800 134px,#ff5c00 144px,#ff3500 149px,#ff0800 154px,#ff0003 155px,#ff0052 160px,#ff00f2 169px,#ff03ff 170px,#ff25ff 173px,#f3f 175px,#ff35ff 176px,#ff2fff 178px,#ff17ff 180px,#ff04ff 181px,#ff00e6 182px,#ff009b 184px,#ff003a 186px,#ff0006 187px,#ff2400 188px,#ffef00 193px,#dfff00 194px,#7bff00 196px,#2bff00 198px,#0aff00 199px,#00ff12 200px,#00ff3e 202px,#00ff4e 203px,#00ff69 205px,#00ff85 208px,#00ff96 211px,#00ffa1 214px,#00ffab 221px,#00ffa6 233px,#00ff7a 281px,#00ff63 323px,#00ff57 357px,#0f6 369px,#00ff68 376px)"></i><i class=a style="background:linear-gradient(90deg,#52ff00 1px,#5f0 8px,#6bff00 19px,#86ff00 46px,#a4ff00 68px,#cf0 88px,#fffe00 106px,#ffd000 122px,#ff9c00 134px,#ff7a00 140px,#ff5800 145px,#ff3000 150px,#ff0001 155px,#ff0065 161px,#ff01ff 169px,#ff37ff 173px,#ff48ff 175px,#ff4bff 176px,#ff46ff 178px,#ff3bff 179px,#ff2bff 180px,#ff00f9 182px,#ff00a6 184px,#ff0072 185px,#f00 187px,#ffe300 192px,#e8ff00 193px,#abff00 194px,#3eff00 196px,#1f0 197px,#00ff16 198px,#00ff38 199px,#00ff69 201px,#00ff7b 202px,#00ff95 204px,#00ffa7 206px,#00ffb8 209px,#00ffc5 215px,#00ffc0 225px,#00ff8e 265px,#00ff71 302px,#00ff59 356px,#00ff5b 361px,#00ff67 369px,#00ff68 376px)"></i><i class=a style="background:linear-gradient(90deg,#51ff00 1px,#54ff00 8px,#69ff00 19px,#85ff00 47px,#a3ff00 69px,#cbff00 89px,#ff0 107px,#ffd300 122px,#ffa000 134px,#ff7e00 140px,#ff5c00 145px,#f30 150px,#ff0200 155px,#ff000e 156px,#ff0079 162px,#ff00f7 168px,#ff0bff 169px,#ff3cff 172px,#f5f 174px,#ff5eff 175px,#ff62ff 177px,#ff5eff 178px,#ff41ff 180px,#ff2bff 181px,#ff0cff 182px,#ff00e3 183px,#ff00b2 184px,#ff0400 187px,#feff00 192px,#72ff00 194px,#34ff00 195px,#00ff06 196px,#00ff36 197px,#00ff81 199px,#00ff9b 200px,#00ffaf 201px,#00ffcb 203px,#00ffda 205px,#00ffe7 210px,#00ffe3 218px,#00ffb8 241px,#00ff9d 259px,#00ff79 296px,#00ff5b 356px,#00ff5d 361px,#00ff68 369px,#00ff69 376px)"></i><i class=a style="background:linear-gradient(90deg,#51ff00 1px,#5f0 9px,#67ff00 19px,#82ff00 47px,#a0ff00 69px,#c9ff00 90px,#feff00 108px,#ffd300 123px,#ff9f00 135px,#ff6000 145px,#ff3700 150px,#ff0400 155px,#ff000a 156px,#ff003e 159px,#ff0079 162px,#ff02ff 168px,#ff4cff 172px,#ff6aff 174px,#ff74ff 175px,#ff7bff 177px,#ff76ff 178px,#ff58ff 180px,#ff3fff 181px,#ff1eff 182px,#ff00f6 183px,#ff00bf 184px,#ff003c 186px,#ff0800 187px,#ffe600 191px,#d1ff00 192px,#81ff00 193px,#36ff00 194px,#00ff0e 195px,#00ff4c 196px,#00ff80 197px,#00ffab 198px,#00ffcf 199px,#00ffe8 200px,#00fffb 201px,#00f9ff 202px,#00f1ff 204px,#0ef 207px,#00feff 218px,#00ffd2 235px,#00ffae 253px,#00ff91 275px,#00ff7f 294px,#00ff6c 322px,#00ff5d 356px,#00ff5e 361px,#00ff68 369px,#00ff69 376px)"></i><i class=a style="background:linear-gradient(90deg,#50ff00 1px,#54ff00 9px,#64ff00 18px,#80ff00 47px,#9dff00 69px,#c5ff00 90px,#fffe00 110px,#ffd000 125px,#f90 137px,#ff7a00 142px,#f50 147px,#ff3200 151px,#ff0800 155px,#ff0005 156px,#ff0063 161px,#ff00a6 164px,#ff00f0 167px,#ff09ff 168px,#ff5cff 172px,#ff7eff 174px,#ff8aff 175px,#ff93ff 177px,#ff8fff 178px,#ff6fff 180px,#f5f 181px,#ff08ff 183px,#ff00ce 184px,#ff003f 186px,#ff0b00 187px,#feff00 191px,#4aff00 193px,#00ff09 194px,#00ff54 195px,#00ff98 196px,#00ffd0 197px,#00fffd 198px,#00e8ff 199px,#00cdff 201px,#00c6ff 202px,#00c3ff 204px,#00fffe 226px,#00ffd6 239px,#00ffb2 256px,#00ff94 277px,#00ff81 297px,#00ff6f 323px,#00ff5f 356px,#00ff6a 376px)"></i><i class=a style="background:linear-gradient(90deg,#50ff00 1px,#53ff00 9px,#62ff00 18px,#7dff00 47px,#9bff00 70px,#c6ff00 92px,#ff0 111px,#ffd400 125px,#ff9e00 137px,#ff7f00 142px,#ff5b00 147px,#ff2d00 152px,#ff0100 156px,#ff0010 157px,#ff0036 159px,#ff0076 162px,#ff00f5 167px,#ff0eff 168px,#ff6aff 172px,#ff90ff 174px,#ff9fff 175px,#ffabff 177px,#ffa8ff 178px,#ff9bff 179px,#ff89ff 180px,#ff6eff 181px,#ff48ff 182px,#ff1bff 183px,#ff00e1 184px,#f04 186px,#ff0d00 187px,#ffd500 190px,#d7ff00 191px,#0fff00 193px,#00ff4c 194px,#00ff9e 195px,#00ffe9 196px,#00e7ff 197px,#00c8ff 198px,#00afff 199px,#00a0ff 200px,#0091ff 202px,#0090ff 203px,#0096ff 205px,#00bdff 212px,#00d3ff 217px,#00fffe 231px,#00ffd8 243px,#00ffba 256px,#00ff9c 275px,#00ff8a 292px,#00ff73 321px,#00ff62 355px,#00ff6a 376px)"></i><i class=a style="background:linear-gradient(90deg,#4fff00 1px,#53ff00 9px,#61ff00 18px,#7bff00 47px,#98ff00 70px,#c2ff00 92px,#fffe00 113px,#ffd100 127px,#ff9e00 138px,#ff7e00 143px,#ff5800 148px,#f30 152px,#ff0600 156px,#ff0009 157px,#ff0030 159px,#ff0072 162px,#ff00bf 165px,#ff00f8 167px,#ff12ff 168px,#f7f 172px,#ffa2ff 174px,#ffb3ff 175px,#ffc3ff 177px,#ffc1ff 178px,#ffb5ff 179px,#ffa3ff 180px,#ff87ff 181px,#ff60ff 182px,#ff31ff 183px,#ff00f7 184px,#ff00a4 185px,#ff004c 186px,#ff0d00 187px,#ffe800 190px,#b0ff00 191px,#3fff00 192px,#00ff2e 193px,#00ff93 194px,#00ffed 195px,#00d6ff 196px,#00adff 197px,#008dff 198px,#0074ff 199px,#0065ff 200px,#005aff 202px,#0061ff 204px,#00a1ff 212px,#00c3ff 218px,#00e4ff 226px,#0ff 235px,#00ffdc 246px,#00ffbf 258px,#00ffa1 276px,#00ff8c 294px,#00ff75 322px,#00ff64 355px,#00ff6b 376px)"></i><i class=a style="background:linear-gradient(90deg,#4fff00 1px,#52ff00 9px,#5fff00 18px,#76ff00 45px,#96ff00 71px,#c2ff00 94px,#e3ff00 106px,#ff0 114px,#ffd200 128px,#ff9e00 139px,#ff7d00 144px,#ff5600 149px,#ff2f00 153px,#ff0001 157px,#ff0028 159px,#ff006c 162px,#ff00bc 165px,#ff00f8 167px,#ff14ff 168px,#ff82ff 172px,#ffb2ff 174px,#ffc5ff 175px,#ffd1ff 176px,#ffd9ff 177px,#ffd9ff 178px,#ffcfff 179px,#ffbeff 180px,#ffa3ff 181px,#ff7aff 182px,#ff49ff 183px,#ff0eff 184px,#ff00b7 185px,#ff0057 186px,#ff0c00 187px,#fffc00 190px,#09ff00 192px,#00ff71 193px,#00ffdf 194px,#00d4ff 195px,#009cff 196px,#0071ff 197px,#0051ff 198px,#0038ff 199px,#002aff 200px,#02f 202px,#002fff 204px,#0084ff 212px,#00afff 218px,#00deff 228px,#0ff 239px,#0fd 249px,#00ffc3 260px,#00ffa6 276px,#00ff8e 296px,#00ff78 322px,#00ff67 353px,#00ff65 360px,#00ff6b 376px)"></i><i class=a style="background:linear-gradient(90deg,#4fff00 1px,#51ff00 9px,#5dff00 18px,#73ff00 44px,#93ff00 71px,#beff00 94px,#deff00 106px,#fffe00 116px,#ffcf00 130px,#ff9e00 140px,#ff5d00 149px,#ff3600 153px,#ff0700 157px,#ff000a 158px,#ff0063 162px,#ff00b6 165px,#ff00f5 167px,#ff13ff 168px,#ff89ff 172px,#ffbeff 174px,#ffd3ff 175px,#ffe2ff 176px,#ffecff 177px,#ffecff 178px,#ffe8ff 179px,#ffd9ff 180px,#ffc1ff 181px,#f9f 182px,#ff67ff 183px,#ff29ff 184px,#ff00d1 185px,#ff0068 186px,#ff0700 187px,#ffb600 189px,#e4ff00 190px,#56ff00 191px,#00ff36 192px,#00ffbe 193px,#00dbff 194px,#0097ff 195px,#005cff 196px,#0031ff 197px,#01f 198px,#0000fb 199px,#0000f0 201px,#0000f0 202px,#0000fc 204px,#0009ff 205px,#04f 209px,#0068ff 212px,#0084ff 215px,#00a2ff 219px,#00bfff 224px,#00daff 230px,#00feff 242px,#00ffd9 254px,#00ffbc 267px,#00ffa9 278px,#00ff91 297px,#00ff7b 322px,#00ff6b 350px,#00ff67 360px,#00ff6c 376px)"></i><i class=a style="background:linear-gradient(90deg,#4eff00 1px,#51ff00 9px,#70ff00 44px,#91ff00 72px,#bcff00 95px,#dfff00 108px,#ff0 117px,#ffd400 130px,#ffa400 140px,#ff8300 145px,#ff5b00 150px,#f30 154px,#ff0100 158px,#ff0013 159px,#ff0074 163px,#ff00ad 165px,#ff00ef 167px,#ff10ff 168px,#ffabff 173px,#ffdeff 175px,#ffecff 176px,#ffecff 180px,#ffdeff 181px,#ffb9ff 182px,#f8f 183px,#ff48ff 184px,#ff00f1 185px,#ff007e 186px,#ff0001 187px,#ffc300 189px,#c0ff00 190px,#1fff00 191px,#00ff7e 192px,#00f0ff 193px,#009bff 194px,#0054ff 195px,#0018ff 196px,#0000f3 197px,#0000d0 199px,#0000c9 201px,#0000d2 203px,#0000fe 207px,#0031ff 210px,#0058ff 213px,#007fff 217px,#009eff 221px,#0bf 226px,#00d3ff 231px,#00feff 245px,#00ffdc 256px,#00ffbd 270px,#00ff94 298px,#00ff7e 322px,#00ff6d 349px,#00ff69 360px,#00ff6c 376px)"></i><i class=a style="background:linear-gradient(90deg,#4eff00 1px,#50ff00 9px,#6dff00 43px,#8eff00 72px,#baff00 96px,#dcff00 109px,#fffe00 119px,#ffd200 132px,#ff9f00 142px,#ff7c00 147px,#ff5a00 151px,#ff3000 155px,#ff0a00 158px,#ff0006 159px,#ff0034 161px,#ff0067 163px,#ff00a2 165px,#ff00e6 167px,#ff09ff 168px,#ffcbff 174px,#ffe5ff 175px,#ffecff 176px,#ffecff 181px,#ffdaff 182px,#ffabff 183px,#ff6dff 184px,#ff14ff 185px,#ff009b 186px,#ff0010 187px,#ff6000 188px,#ffd000 189px,#97ff00 190px,#00ff21 191px,#00ffd2 192px,#00aeff 193px,#0054ff 194px,#000bff 195px,#0000df 196px,#0000c4 197px,#0000a6 199px,#0000a2 201px,#0000a7 202px,#00b 204px,#00f 209px,#0031ff 212px,#0057ff 215px,#007dff 219px,#00a2ff 224px,#00bfff 229px,#00d5ff 234px,#0ff 248px,#00ffe2 257px,#00ffc1 271px,#00ff97 299px,#00ff81 322px,#00ff70 348px,#00ff6b 360px,#00ff6d 376px)"></i><i class=a style="background:linear-gradient(90deg,#4dff00 1px,#50ff00 10px,#69ff00 42px,#8cff00 73px,#a4ff00 88px,#bcff00 99px,#df0 111px,#feff00 120px,#ffd400 133px,#ffa000 143px,#ff7d00 148px,#ff5a00 152px,#ff2f00 156px,#ff0700 159px,#ff000c 160px,#ff003c 162px,#ff0074 164px,#ff00b4 166px,#ff00fd 168px,#ff1fff 169px,#ffc8ff 174px,#ffe3ff 175px,#ffecff 176px,#ffecff 182px,#ffd0ff 183px,#ff97ff 184px,#ff3dff 185px,#ff00c5 186px,#ff002a 187px,#ff6000 188px,#ffe400 189px,#58ff00 190px,#00ff80 191px,#00cfff 192px,#0057ff 193px,#0000fd 194px,#0000ce 195px,#00a 196px,#000094 197px,#00007d 199px,#00007c 200px,#000085 202px,#000090 203px,#0000f7 210px,#0006ff 211px,#0034ff 214px,#0062ff 218px,#0086ff 222px,#00a2ff 226px,#00cfff 235px,#00feff 250px,#00ffe2 260px,#00ffc1 274px,#00ff9a 300px,#00ff84 322px,#00ff73 347px,#00ff6d 361px,#00ff6d 376px)"></i><i class=a style="background:linear-gradient(90deg,#4dff00 1px,#4fff00 10px,#68ff00 43px,#8dff00 76px,#a6ff00 91px,#c1ff00 103px,#df0 113px,#ff0 122px,#ffd600 134px,#ffa200 144px,#ff7e00 149px,#ff5a00 153px,#ff2d00 157px,#ff0300 160px,#ff0012 161px,#ff0046 163px,#ff0080 165px,#ff00ec 168px,#ff12ff 169px,#ffbfff 174px,#ffdcff 175px,#ffecff 176px,#ffebff 183px,#fbf 184px,#ff64ff 185px,#ff00f0 186px,#ff0045 187px,#ff6500 188px,#f5ff00 189px,#00ff0a 190px,#00fcff 191px,#006dff 192px,#0000f5 193px,#0000bd 194px,#000094 195px,#000076 196px,#006 197px,#000057 199px,#00005d 201px,#000072 203px,#0000d6 209px,#0000fe 212px,#002cff 215px,#005bff 219px,#007fff 223px,#00a2ff 228px,#00bdff 233px,#00d6ff 239px,#0ff 253px,#00ffe4 262px,#00ffc7 274px,#00ff9c 301px,#00ff87 322px,#00ff76 346px,#00ff6e 361px,#00ff6e 376px)"></i><i class=a style="background:linear-gradient(90deg,#4cff00 1px,#4fff00 12px,#65ff00 43px,#8cff00 78px,#a1ff00 91px,#beff00 104px,#daff00 114px,#ff0 124px,#ffd400 136px,#ff9d00 146px,#ff8000 150px,#ff5b00 154px,#ff2d00 158px,#f00 161px,#ff0017 162px,#ff006b 165px,#ff00b0 167px,#ff01ff 169px,#ffb0ff 174px,#ffe6ff 176px,#ffecff 177px,#ffecff 183px,#ffd7ff 184px,#ff87ff 185px,#ff16ff 186px,#ff0060 187px,#ff7300 188px,#a9ff00 189px,#00ff93 190px,#008cff 191px,#0000f7 192px,#0000a6 193px,#000078 194px,#000058 195px,#000042 196px,#000038 197px,#003 199px,#000037 200px,#000049 202px,#000068 204px,#0000d2 210px,#0000fa 213px,#0009ff 214px,#03f 217px,#0060ff 221px,#0082ff 225px,#00a3ff 230px,#00d5ff 241px,#00feff 255px,#00ffc8 276px,#00ff9f 302px,#00ff7a 344px,#00ff70 361px,#00ff6e 376px)"></i><i class=a style="background:linear-gradient(90deg,#4cff00 1px,#50ff00 15px,#61ff00 41px,#74ff00 62px,#89ff00 79px,#a0ff00 93px,#bdff00 106px,#d9ff00 116px,#ff0 126px,#ffd300 138px,#ffb900 143px,#ff9a00 148px,#ff7a00 152px,#ff5200 156px,#ff2e00 159px,#f00 162px,#ff0052 165px,#ff0095 167px,#ff00e3 169px,#ff0cff 170px,#ff76ff 173px,#ffb3ff 175px,#ffdeff 177px,#ffecff 178px,#ffebff 182px,#ffd2ff 183px,#ffabff 184px,#f5f 185px,#ff00c9 186px,#ff0c00 187px,#fff000 188px,#00ff49 189px,#008fff 190px,#0000ed 191px,#000096 192px,#000059 193px,#00003a 194px,#000025 195px,#000019 196px,#000014 197px,#000016 199px,#003 202px,#000054 204px,#0000c3 210px,#0000ed 213px,#0000f9 214px,#0007ff 215px,#0030ff 218px,#005cff 222px,#007eff 226px,#009fff 231px,#00beff 237px,#00d6ff 243px,#00fffe 258px,#00ffe1 268px,#00ffc9 278px,#00ffa0 304px,#00ff7d 343px,#00ff72 361px,#00ff6f 376px)"></i><i class=a style="background:linear-gradient(90deg,#4bff00 1px,#4eff00 16px,#5eff00 40px,#70ff00 61px,#87ff00 80px,#9fff00 95px,#b9ff00 107px,#d9ff00 118px,#ff0 128px,#ffd100 140px,#ff9d00 149px,#ff7d00 153px,#f50 157px,#ff2f00 160px,#f00 163px,#ff001a 164px,#ff0035 165px,#ff0076 167px,#ff009a 168px,#ff00eb 170px,#ff13ff 171px,#ff57ff 173px,#ff92ff 175px,#ffb9ff 177px,#ffc4ff 178px,#ffc8ff 180px,#ffc0ff 181px,#faf 182px,#ff86ff 183px,#ff50ff 184px,#ff00df 185px,#ff0024 186px,#ff9400 187px,#39ff00 188px,#00e5ff 189px,#0008ff 190px,#00009f 191px,#000056 192px,#000025 193px,#00000f 194px,#000001 195px,#000 196px,#000 199px,#000013 201px,#000030 203px,#000092 208px,#0000c5 211px,#0000ed 214px,#0005ff 216px,#003aff 220px,#0062ff 224px,#0082ff 228px,#00a1ff 233px,#00bfff 239px,#00d6ff 245px,#0ff 260px,#00ffe4 269px,#00ffcb 280px,#00ffa2 306px,#00ff80 342px,#00ff72 364px,#00ff6f 376px)"></i><i class=a style="background:linear-gradient(90deg,#4bff00 1px,#4dff00 16px,#59ff00 37px,#6bff00 59px,#84ff00 81px,#9eff00 97px,#b6ff00 108px,#dbff00 121px,#ff0 130px,#ffd500 141px,#ffa200 150px,#ff8200 154px,#ff5900 158px,#ff3200 161px,#ff0300 164px,#ff0016 165px,#ff0076 168px,#f0e 171px,#ff14ff 172px,#ff51ff 174px,#ff6aff 175px,#ff8aff 177px,#ff92ff 178px,#ff91ff 179px,#f8f 180px,#ff76ff 181px,#ff51ff 182px,#ff19ff 183px,#f0b 184px,#ff000e 185px,#ff9100 186px,#87ff00 187px,#0fb 188px,#0068ff 189px,#0000cb 190px,#000076 191px,#000037 192px,#00000b 193px,#000 194px,#000003 201px,#002 203px,#000084 208px,#0000b9 211px,#00e 215px,#0006ff 217px,#002dff 220px,#0057ff 224px,#007fff 229px,#009eff 234px,#00bcff 240px,#00d4ff 246px,#0ff 262px,#00ffe5 271px,#00ffc9 283px,#00ffa2 308px,#00ff84 339px,#00ff72 366px,#00ff70 376px)"></i><i class=a style="background:linear-gradient(90deg,#4aff00 1px,#4bff00 17px,#54ff00 34px,#67ff00 58px,#80ff00 81px,#9aff00 98px,#b2ff00 109px,#d6ff00 122px,#feff00 132px,#ffd000 144px,#ffa000 152px,#ff7e00 156px,#ff5f00 159px,#ff3900 162px,#ff0900 165px,#ff000f 166px,#ff004d 168px,#ff00e3 172px,#ff06ff 173px,#ff37ff 175px,#ff50ff 177px,#ff52ff 178px,#ff49ff 179px,#ff38ff 180px,#ff1aff 181px,#ff00df 182px,#ff0086 183px,#ff000e 184px,#ff7400 185px,#f4ff00 186px,#00ff06 187px,#00f8ff 188px,#005aff 189px,#0000d7 190px,#000089 191px,#00004a 192px,#00001a 193px,#000 194px,#000 201px,#000009 202px,#00002c 204px,#00008e 209px,#0000af 211px,#0000e5 215px,#0000fa 217px,#0008ff 218px,#0038ff 222px,#005eff 226px,#0084ff 231px,#00a2ff 236px,#00beff 242px,#00d5ff 248px,#0ff 264px,#00ffca 285px,#00ffa5 309px,#0f8 338px,#00ff72 367px,#00ff70 376px)"></i><i class=a style="background:linear-gradient(90deg,#4aff00 1px,#49ff00 17px,#51ff00 33px,#64ff00 58px,#7dff00 82px,#97ff00 99px,#b0ff00 111px,#d4ff00 124px,#fdff00 134px,#ffd600 145px,#ffba00 150px,#ff9e00 154px,#ff7b00 158px,#ff5b00 161px,#ff3200 164px,#ff0003 167px,#ff0041 169px,#ff00a9 172px,#ff00e7 174px,#ff00fe 175px,#ff0bff 176px,#ff10ff 177px,#ff0dff 178px,#ff00fc 179px,#f0d 180px,#ff00ad 181px,#ff005e 182px,#ff0500 183px,#ff6000 184px,#ffda00 185px,#6eff00 186px,#00ff69 187px,#00d7ff 188px,#0054ff 189px,#0000e3 190px,#00009c 191px,#000060 192px,#00002e 193px,#00000f 194px,#000 195px,#000 201px,#000005 202px,#000026 204px,#000086 209px,#0000b6 212px,#0000f3 217px,#0000fd 218px,#000aff 219px,#0039ff 223px,#005eff 227px,#0082ff 232px,#00a5ff 238px,#00d6ff 250px,#00fffe 266px,#0fc 286px,#00ffa8 309px,#00ff8c 336px,#00ff73 367px,#00ff71 376px)"></i><i class=a style="background:linear-gradient(90deg,#49ff00 1px,#47ff00 17px,#4eff00 32px,#61ff00 58px,#7bff00 84px,#96ff00 102px,#baff00 118px,#d9ff00 128px,#fffe00 137px,#ffd700 147px,#fb0 152px,#ff9f00 156px,#ff6500 162px,#ff3e00 165px,#ff0a00 168px,#ff000e 169px,#ff006c 172px,#ff00a2 174px,#ff00b5 175px,#ff00be 176px,#ff00bf 177px,#ff00b6 178px,#ff009b 179px,#ff0073 180px,#ff003a 181px,#ff1400 182px,#ff5f00 183px,#fb0 184px,#bdff00 185px,#0dff00 186px,#00ffa9 187px,#00c3ff 188px,#0054ff 189px,#0000f0 190px,#0000b0 191px,#007 192px,#000046 193px,#000023 194px,#00000a 195px,#000 196px,#000 201px,#000004 202px,#000023 204px,#00007f 209px,#0000af 212px,#0000d6 215px,#00f 219px,#002fff 223px,#05f 227px,#007bff 232px,#009fff 238px,#0bf 244px,#00d4ff 251px,#00feff 267px,#00ffcf 287px,#0fa 310px,#00ff8e 336px,#00ff73 368px,#00ff71 376px)"></i><i class=a style="background:linear-gradient(90deg,#49ff00 1px,#45ff00 17px,#4bff00 31px,#5dff00 58px,#78ff00 85px,#92ff00 103px,#b5ff00 119px,#d3ff00 129px,#fffe00 140px,#ffd400 150px,#ffb700 155px,#ff9800 159px,#ff7d00 162px,#ff5a00 165px,#ff2d00 168px,#ff0900 170px,#ff000e 171px,#ff0056 174px,#ff0064 175px,#ff0069 176px,#ff0067 177px,#ff0058 178px,#ff0039 179px,#ff000c 180px,#ff2300 181px,#ff6000 182px,#fa0 183px,#feff00 184px,#67ff00 185px,#00ff34 186px,#00ffd4 187px,#00b6ff 188px,#0053ff 189px,#0000f7 190px,#0000bd 191px,#00005a 193px,#000037 194px,#00001c 195px,#000007 196px,#000 197px,#000 201px,#000008 202px,#000025 204px,#00007c 209px,#00a 212px,#0000db 216px,#0000f9 219px,#0004ff 220px,#0031ff 224px,#0056ff 228px,#007aff 233px,#009eff 239px,#00b9ff 245px,#00d2ff 252px,#00feff 269px,#00ffd1 288px,#00ffac 311px,#00ff91 335px,#00ff74 368px,#00ff72 376px)"></i><i class=a style="background:linear-gradient(90deg,#48ff00 1px,#43ff00 18px,#4bff00 35px,#67ff00 73px,#7fff00 94px,#92ff00 106px,#b4ff00 122px,#cfff00 131px,#fffe00 143px,#ffd300 153px,#ff9d00 161px,#ff6b00 166px,#ff0600 173px,#ff0007 174px,#ff0012 175px,#ff0013 176px,#ff000d 177px,#ff0400 178px,#ff1c00 179px,#ff3d00 180px,#ff6a00 181px,#ffa600 182px,#ffec00 183px,#a4ff00 184px,#1dff00 185px,#00ff6c 186px,#00fff9 187px,#00a9ff 188px,#0051ff 189px,#0000fc 190px,#000098 192px,#00006c 193px,#00004a 194px,#000018 196px,#000002 198px,#000 199px,#000 200px,#00000e 202px,#000028 204px,#00007a 209px,#0000b3 213px,#0000eb 218px,#0000fd 220px,#0009ff 221px,#0034ff 225px,#0057ff 229px,#007aff 234px,#009dff 240px,#00b8ff 246px,#00d4ff 254px,#00feff 271px,#00ffd3 289px,#00ffaf 311px,#00ff75 368px,#00ff72 376px)"></i><i class=a style="background:linear-gradient(90deg,#48ff00 1px,#41ff00 18px,#49ff00 35px,#65ff00 75px,#7eff00 97px,#93ff00 110px,#b3ff00 125px,#d6ff00 136px,#ff0 146px,#ffd800 155px,#ffae00 162px,#ff8b00 166px,#ff3b00 173px,#ff2e00 175px,#ff3600 177px,#ff4500 178px,#ff5f00 179px,#ff8000 180px,#ffad00 181px,#ffe700 182px,#c2ff00 183px,#5f0 184px,#00ff23 185px,#00ff9d 186px,#0ef 187px,#0001ff 190px,#0000d0 191px,#00007b 193px,#00003f 195px,#000029 196px,#00001a 197px,#00000b 199px,#00000f 201px,#000021 203px,#008 210px,#0000b0 213px,#0000dc 217px,#0002ff 221px,#002dff 225px,#0058ff 230px,#0081ff 236px,#009cff 241px,#0bf 248px,#00d3ff 255px,#00ecff 264px,#0ff 273px,#00ffd7 289px,#00ffb2 311px,#0f9 332px,#00ff82 359px,#00ff75 368px,#00ff72 376px)"></i><i class=a style="background:linear-gradient(90deg,#47ff00 1px,#3fff00 18px,#45ff00 33px,#61ff00 75px,#79ff00 97px,#95ff00 115px,#afff00 127px,#d6ff00 140px,#fdff00 149px,#ffe900 155px,#ffc600 162px,#ffab00 166px,#f70 172px,#ff6900 175px,#ff7500 177px,#ff8400 178px,#ff9e00 179px,#ffc000 180px,#ffea00 181px,#ceff00 182px,#74ff00 183px,#12ff00 184px,#00ff59 185px,#00ffc7 186px,#00daff 187px,#0003ff 190px,#0000d5 191px,#000087 193px,#000068 194px,#000038 196px,#00001f 198px,#000017 200px,#000020 202px,#00002a 203px,#000095 211px,#0000c5 215px,#0000fc 221px,#0008ff 222px,#0030ff 226px,#0059ff 231px,#0081ff 237px,#00a1ff 243px,#00beff 250px,#00d8ff 258px,#00feff 274px,#00ffd7 291px,#00ffb4 312px,#00ff9c 332px,#00ff84 359px,#00ff76 368px,#00ff73 376px)"></i><i class=a style="background:linear-gradient(90deg,#47ff00 1px,#46ff00 8px,#3dff00 18px,#42ff00 32px,#5dff00 75px,#74ff00 98px,#92ff00 118px,#acff00 130px,#d1ff00 143px,#fbff00 153px,#fffe00 154px,#ffdf00 162px,#ffa800 172px,#ffa100 174px,#ffa200 175px,#ffb200 177px,#ffc200 178px,#ffdc00 179px,#fffc00 180px,#c8ff00 181px,#7eff00 182px,#2cff00 183px,#00ff2d 184px,#00fff0 186px,#00c7ff 187px,#0003ff 190px,#0000d9 191px,#000091 193px,#000075 194px,#000047 196px,#00002d 198px,#000025 200px,#00002b 202px,#000034 203px,#0000b8 214px,#0000e0 218px,#0002ff 222px,#002bff 226px,#0054ff 231px,#007cff 237px,#009cff 243px,#00b9ff 250px,#00d4ff 258px,#00feff 276px,#00ffd9 292px,#00ffb7 312px,#00ff9e 332px,#00ff86 359px,#0f7 368px,#00ff73 376px)"></i><i class=a style="background:linear-gradient(90deg,#46ff00 1px,#45ff00 8px,#3bff00 18px,#3fff00 30px,#52ff00 64px,#6eff00 97px,#8aff00 118px,#a8ff00 133px,#cbff00 146px,#fdff00 159px,#ffdc00 170px,#ffd600 173px,#ffda00 175px,#ffe200 176px,#fffe00 178px,#dbff00 179px,#aeff00 180px,#76ff00 181px,#32ff00 182px,#00ff18 183px,#00ff67 184px,#00ffbe 185px,#00f0ff 186px,#0002ff 190px,#0000db 191px,#00009a 193px,#00007f 194px,#000054 196px,#00003c 198px,#000032 200px,#00003e 203px,#0000c2 215px,#0000fe 222px,#0009ff 223px,#0037ff 228px,#005dff 233px,#0083ff 239px,#00a1ff 245px,#00bdff 252px,#00d6ff 260px,#0ff 278px,#00ffdc 292px,#00ffba 312px,#00ffa1 332px,#00ff89 358px,#00ff78 368px,#00ff74 376px)"></i><i class=a style="background:linear-gradient(90deg,#46ff00 1px,#45ff00 8px,#3aff00 18px,#3cff00 29px,#4eff00 64px,#6aff00 99px,#82ff00 118px,#9cff00 133px,#b9ff00 146px,#efff00 165px,#f8ff00 171px,#f4ff00 173px,#e7ff00 175px,#c6ff00 177px,#adff00 178px,#8f0 179px,#5dff00 180px,#2aff00 181px,#00ff14 182px,#00ff9e 184px,#00ffec 185px,#00d7ff 186px,#0000fe 190px,#0000a1 193px,#000073 195px,#000053 197px,#000042 199px,#000040 200px,#004 202px,#000051 204px,#0000cb 216px,#0000fb 222px,#0005ff 223px,#03f 228px,#0060ff 234px,#0084ff 240px,#00a1ff 246px,#00d6ff 261px,#00feff 279px,#00ffdc 294px,#0fb 313px,#00ffa3 332px,#00ff8b 358px,#0f7 369px,#00ff74 376px)"></i><i class=a style="background:linear-gradient(90deg,#45ff00 1px,#4f0 8px,#39ff00 16px,#37ff00 21px,#45ff00 54px,#56ff00 81px,#7aff00 118px,#95ff00 136px,#c0ff00 159px,#c6ff00 166px,#bdff00 171px,#b1ff00 173px,#9dff00 175px,#78ff00 177px,#5eff00 178px,#12ff00 180px,#00ff1e 181px,#00ff92 183px,#00ffd3 184px,#0ef 185px,#002bff 189px,#0000fc 190px,#0000a7 193px,#00007e 195px,#000060 197px,#000050 199px,#00004d 200px,#000050 202px,#000063 205px,#0000ca 216px,#0002ff 223px,#002fff 228px,#005cff 234px,#0080ff 240px,#009dff 246px,#00b9ff 253px,#00d5ff 262px,#0ff 281px,#0fd 295px,#00ffbc 314px,#00ffa4 333px,#00ff8c 358px,#00ff78 369px,#00ff75 376px)"></i><i class=a style="background:linear-gradient(90deg,#45ff00 1px,#43ff00 8px,#37ff00 16px,#35ff00 21px,#4dff00 75px,#6bff00 112px,#9eff00 152px,#a3ff00 161px,#98ff00 167px,#8bff00 170px,#7cff00 172px,#58ff00 175px,#2fff00 177px,#14ff00 178px,#00ff0e 179px,#00ff34 180px,#00ff61 181px,#00ffcb 183px,#00fbff 184px,#0023ff 189px,#0000f9 190px,#0000ad 193px,#000087 195px,#00006c 197px,#00005d 199px,#00005b 200px,#00005c 202px,#00006c 205px,#0000db 218px,#00f 223px,#0009ff 224px,#0034ff 229px,#005eff 235px,#0081ff 241px,#00a2ff 248px,#00d7ff 264px,#00feff 282px,#00ffdf 296px,#00ffbf 314px,#00ffa7 333px,#00ff8e 358px,#00ff78 369px,#00ff75 376px)"></i><i class=a style="background:linear-gradient(90deg,#4f0 1px,#43ff00 8px,#3f0 20px,#3fff00 54px,#57ff00 96px,#83ff00 144px,#8f0 156px,#7eff00 163px,#68ff00 168px,#45ff00 172px,#2aff00 174px,#05ff00 176px,#00ff12 177px,#00ff4f 179px,#00ff9d 181px,#0ff 183px,#00b8ff 185px,#001bff 189px,#0000f7 190px,#0000b2 193px,#000090 195px,#000078 197px,#000067 200px,#000068 202px,#000075 205px,#0000e2 219px,#0000fd 223px,#0007ff 224px,#0031ff 229px,#005bff 235px,#0082ff 242px,#00a3ff 249px,#00d7ff 265px,#00feff 283px,#00ffdc 299px,#00ffc2 314px,#00ffa9 333px,#00ff90 358px,#00ff79 369px,#00ff76 376px)"></i><i class=a style="background:linear-gradient(90deg,#4f0 1px,#41ff00 9px,#31ff00 19px,#3f0 30px,#46ff00 76px,#71ff00 140px,#73ff00 152px,#6aff00 159px,#54ff00 165px,#36ff00 169px,#21ff00 171px,#05ff00 173px,#00ff0b 174px,#00ff1d 175px,#00ff4c 177px,#00ff67 178px,#00ffac 180px,#0ff 182px,#00a0ff 185px,#0013ff 189px,#0000f5 190px,#0000b7 193px,#00008c 196px,#000076 199px,#000073 201px,#000076 203px,#000084 206px,#0000e2 219px,#0000fc 223px,#0005ff 224px,#0036ff 230px,#005eff 236px,#0084ff 243px,#009fff 249px,#00d4ff 265px,#0ff 285px,#00ffe1 298px,#00ffc5 314px,#00ffab 333px,#00ff92 358px,#00ff79 369px,#00ff76 376px)"></i><i class=a style="background:linear-gradient(90deg,#43ff00 1px,#40ff00 9px,#2fff00 19px,#2fff00 25px,#41ff00 74px,#60ff00 131px,#63ff00 146px,#5bff00 154px,#4bff00 160px,#31ff00 165px,#18ff00 168px,#01ff00 170px,#00ff1a 172px,#00ff4f 175px,#00ff9c 178px,#00ffde 180px,#00fcff 181px,#0af 184px,#000dff 189px,#0000f3 190px,#0000bc 193px,#000096 196px,#000082 199px,#00007e 201px,#000084 204px,#000092 207px,#0000fc 223px,#0004ff 224px,#03f 230px,#005bff 236px,#0081ff 243px,#00a0ff 250px,#00d7ff 267px,#00feff 286px,#00ffe0 300px,#00ffc6 315px,#00ffad 333px,#00ff93 358px,#00ff7a 369px,#00ff76 376px)"></i><i class=a style="background:linear-gradient(90deg,#43ff00 1px,#41ff00 8px,#30ff00 17px,#2dff00 23px,#3cff00 72px,#54ff00 126px,#5f0 142px,#4dff00 150px,#40ff00 156px,#26ff00 162px,#08ff00 166px,#00ff02 167px,#00ff18 169px,#00ff54 173px,#00ff93 176px,#00ffe8 179px,#00f9ff 180px,#0095ff 184px,#0009ff 189px,#0000f2 190px,#0000c1 193px,#00009f 196px,#00008d 199px,#000089 202px,#000090 205px,#00009e 208px,#0000fc 223px,#0004ff 224px,#0032ff 230px,#0059ff 236px,#007eff 243px,#00a1ff 251px,#00d6ff 268px,#0ff 288px,#00ffe3 300px,#00ffc8 315px,#00ffb0 333px,#00ff96 357px,#00ff7c 368px,#0f7 376px)"></i><i class=a style="background:linear-gradient(90deg,#42ff00 1px,#40ff00 8px,#2dff00 18px,#2bff00 23px,#49ff00 118px,#49ff00 137px,#42ff00 146px,#34ff00 153px,#21ff00 158px,#03ff00 163px,#00ff05 164px,#00ff21 167px,#00ff56 171px,#00ff78 173px,#00ffa1 175px,#0fe 178px,#00f6ff 179px,#009dff 183px,#0006ff 189px,#0000f2 190px,#0000c7 193px,#0000a8 196px,#000097 199px,#000093 202px,#000098 205px,#0000a5 208px,#0000fc 223px,#0003ff 224px,#0037ff 231px,#005cff 237px,#0080ff 244px,#009eff 251px,#00d4ff 268px,#0ff 289px,#00ffcb 315px,#00ffb2 333px,#0f9 356px,#00ff7c 368px,#0f7 376px)"></i><i class=a style="background:linear-gradient(90deg,#42ff00 1px,#3eff00 9px,#2bff00 18px,#28ff00 23px,#3fff00 109px,#40ff00 131px,#3aff00 140px,#30ff00 147px,#20ff00 153px,#05ff00 159px,#00ff02 160px,#00ff20 164px,#00ff34 166px,#00ff59 169px,#00ff9a 173px,#00ffc3 175px,#00fff4 177px,#00f4ff 178px,#00b9ff 181px,#0004ff 189px,#0000f3 190px,#00c 193px,#0000b1 196px,#0000a1 199px,#00009c 202px,#0000a1 205px,#0000b0 209px,#0000fc 223px,#0003ff 224px,#0036ff 231px,#005aff 237px,#007eff 244px,#00a0ff 252px,#00d4ff 269px,#00feff 290px,#0fc 316px,#00ffb3 334px,#00ff9b 356px,#00ff7d 368px,#00ff78 376px)"></i><i class=a style="background:linear-gradient(90deg,#41ff00 1px,#3dff00 9px,#2aff00 18px,#26ff00 23px,#38ff00 106px,#37ff00 128px,#26ff00 144px,#18ff00 150px,#00ff01 156px,#00ff28 162px,#00ff5b 167px,#00ff75 169px,#00ffa5 172px,#0fc 174px,#00fff9 176px,#00f3ff 177px,#00bdff 180px,#0004ff 189px,#0000f4 190px,#0000d1 193px,#0000b9 196px,#00a 199px,#0000a5 202px,#0000a8 205px,#0000b5 209px,#0000fd 223px,#005dff 238px,#009dff 252px,#00d4ff 270px,#00feff 291px,#00ffcd 317px,#00ff9d 356px,#00ff7e 368px,#00ff78 376px)"></i><i style="background:linear-gradient(90deg,#40ff00 2px,#3cff00 9px,#27ff00 18px,#23ff00 23px,#2eff00 95px,#2cff00 121px,#20ff00 136px,#07ff01 148px,#00ff0a 152px,#00ff13 154px,#00ff2a 158px,#00ff49 162px,#00ff67 165px,#00ff8c 168px,#00ffba 171px,#00fff1 174px,#00f9fd 175px,#0df 177px,#09f 181px,#0006ff 189px,#0000f7 190px,#0000d9 193px,#0000c4 196px,#0000b7 199px,#0000b1 203px,#0000b5 206px,#0000c2 210px,#0000fe 223px,#005bff 238px,#009dff 253px,#00d3ff 271px,#00feff 293px,#00ffca 321px,#00ff9f 356px,#00ff80 367px,#00ff79 375px)"></i><i style="background:linear-gradient(90deg,#3fff00 2px,#3bff00 9px,#24ff00 18px,#1fff00 22px,#2f0 106px,#18ff00 125px,#05ff00 138px,#01ff05 142px,#00ff25 151px,#00ff3b 155px,#00ff57 159px,#00ff7c 163px,#00ff9d 166px,#00ffc6 169px,#00fff6 172px,#00f9ff 173px,#00c5ff 177px,#0019ff 188px,#0000fc 190px,#0000e3 193px,#0000d1 196px,#0000c6 199px,#0000c0 203px,#00c 210px,#0002ff 223px,#03f 231px,#005eff 239px,#00a0ff 255px,#00d4ff 273px,#00feff 295px,#0fc 323px,#00ffa4 355px,#00ff82 367px,#00ff7a 375px)"></i><i style="background:linear-gradient(90deg,#3eff00 2px,#38ff00 10px,#1fff00 19px,#1bff00 23px,#19ff00 96px,#1f0 114px,#04ff00 127px,#00ff05 132px,#00ff24 144px,#00ff39 149px,#0f5 154px,#00ff71 158px,#00ff95 162px,#00ffc1 166px,#00fff8 170px,#00faff 171px,#00cdff 175px,#001dff 188px,#0005ff 190px,#0000fb 191px,#0000d9 197px,#0000d1 200px,#0000cd 204px,#0000d8 211px,#0001ff 222px,#0060ff 240px,#00a0ff 256px,#00d2ff 274px,#00fdff 297px,#00ffcf 324px,#00ffa7 355px,#00ff83 367px,#00ff7b 375px)"></i><i style="background:linear-gradient(90deg,#3dff00 2px,#37ff00 10px,#1dff00 19px,#16ff00 24px,#13ff00 83px,#04ff00 114px,#00ff08 124px,#00ff17 132px,#00ff2a 139px,#00ff40 145px,#00ff58 150px,#00ff78 155px,#00ff97 159px,#00ffbd 163px,#00fff9 168px,#00faff 169px,#00d3ff 173px,#002dff 187px,#0004ff 191px,#0000fb 192px,#0000e8 196px,#0000df 199px,#0000d9 205px,#0000e3 212px,#0001ff 221px,#005fff 240px,#00a0ff 257px,#00d5ff 277px,#00fdff 299px,#00ffd0 326px,#00ffac 354px,#00ff84 367px,#00ff7c 375px)"></i><i style="background:linear-gradient(90deg,#3cff00 3px,#35ff00 10px,#1aff00 19px,#1f0 25px,#0eff00 70px,#03ff00 100px,#00ff04 108px,#00ff13 121px,#00ff31 135px,#00ff46 141px,#00ff60 147px,#00ff7d 152px,#00ffa1 157px,#00ffce 162px,#00fff9 166px,#00fbff 167px,#00c6ff 173px,#001fff 189px,#0006ff 192px,#0000f9 194px,#0000e9 199px,#0000e3 205px,#0000ea 211px,#0002ff 220px,#0067ff 242px,#00a4ff 259px,#00d6ff 279px,#00feff 302px,#00ffd6 325px,#00ffb0 353px,#00ffa4 358px,#00ff84 367px,#00ff7d 374px)"></i><i style="background:linear-gradient(90deg,#3aff00 3px,#34ff00 10px,#16ff00 20px,#0dff00 26px,#00ff02 91px,#00ff0d 106px,#00ff1c 118px,#00ff3b 132px,#0f6 144px,#00ff81 149px,#00ffa1 154px,#00ffc9 159px,#00fff9 164px,#00fcff 165px,#00cdff 171px,#0051ff 184px,#0026ff 189px,#0003ff 194px,#0000fa 196px,#0000f0 201px,#0000ed 206px,#0002ff 218px,#006aff 243px,#00a1ff 259px,#00d3ff 279px,#00fbff 302px,#00fffe 305px,#00ffd2 330px,#00ffb5 352px,#00ffa8 357px,#00ff85 367px,#00ff7e 374px)"></i><i style="background:linear-gradient(90deg,#39ff00 3px,#3f0 10px,#1f0 21px,#08ff00 27px,#00ff02 74px,#00ff10 97px,#00ff23 114px,#00ff42 129px,#00ff70 142px,#00ff89 147px,#00ffae 153px,#00fff8 162px,#00fcfe 163px,#00cbff 170px,#0053ff 184px,#0026ff 190px,#0005ff 196px,#0000fb 199px,#0000f6 206px,#0003ff 216px,#0075ff 246px,#00a5ff 261px,#00d3ff 280px,#00f9ff 302px,#00fffe 307px,#00ffdc 326px,#00ffb9 351px,#00ffad 356px,#00ff86 367px,#00ff7e 374px)"></i><i style="background:linear-gradient(90deg,#38ff00 4px,#31ff00 10px,#0cff00 22px,#04ff00 28px,#00ff01 51px,#00ff0b 77px,#00ff19 97px,#00ff2c 112px,#00ff4b 127px,#00ff78 140px,#00ffad 150px,#00fff7 160px,#00f8ff 162px,#00d1ff 168px,#0056ff 184px,#02f 192px,#0007ff 199px,#0000fd 206px,#0003ff 212px,#0014ff 219px,#007eff 249px,#00aeff 265px,#00d2ff 281px,#00f2ff 299px,#00fffe 309px,#00ffde 327px,#00ffbd 350px,#00ffb2 355px,#00ff89 366px,#00ff80 373px)"></i><i style="background:linear-gradient(90deg,#36ff00 4px,#2eff00 11px,#0aff00 22px,#01ff00 27px,#00ff13 78px,#00ff21 96px,#00ff34 110px,#00ff53 125px,#00ff7b 137px,#00ffb1 148px,#00fefd 159px,#00caff 168px,#0060ff 183px,#0030ff 191px,#01f 199px,#0009ff 207px,#000eff 213px,#0020ff 221px,#0081ff 250px,#00b1ff 267px,#00d4ff 283px,#00f2ff 301px,#00fffe 311px,#00ffe0 328px,#00ffc2 349px,#00ffb3 355px,#00ff8a 366px,#00ff81 373px)"></i><i style="background:linear-gradient(90deg,#35ff00 5px,#2aff00 12px,#08ff00 22px,#00ff01 26px,#00ff1a 78px,#00ff28 94px,#00ff3b 108px,#00ff5b 123px,#00ff81 135px,#00ffb4 146px,#00fffc 157px,#00d0ff 166px,#0062ff 183px,#003cff 190px,#0027ff 195px,#001bff 199px,#0013ff 207px,#0017ff 213px,#0027ff 221px,#0087ff 252px,#00b6ff 270px,#00d7ff 286px,#00f4ff 304px,#0ff 312px,#00ffc6 348px,#00ffb7 354px,#00ff8e 365px,#00ff82 372px)"></i><i style="background:linear-gradient(90deg,#3f0 5px,#29ff00 12px,#00ff02 25px,#00ff0b 32px,#0f2 79px,#00ff42 106px,#00ff61 121px,#00ff8a 134px,#00ffbd 145px,#00fffa 155px,#00fdff 156px,#00daff 163px,#006bff 182px,#0042ff 190px,#0025ff 199px,#001cff 208px,#02f 215px,#0032ff 223px,#008cff 254px,#00b9ff 272px,#00d9ff 288px,#00f3ff 305px,#00fffe 314px,#00ffca 347px,#0fb 353px,#00ff8e 365px,#00ff83 372px)"></i><i style="background:linear-gradient(90deg,#32ff00 6px,#26ff00 13px,#00ff01 24px,#00ff0f 32px,#00ff1c 60px,#00ff2b 81px,#00ff49 105px,#00ff67 119px,#00ff8f 132px,#00ffbe 143px,#00fefd 154px,#00d5ff 163px,#0073ff 181px,#0048ff 190px,#002dff 199px,#0025ff 208px,#0029ff 215px,#003aff 224px,#0096ff 258px,#00c2ff 277px,#00e2ff 295px,#00feff 315px,#00ffca 348px,#00ffb8 354px,#00ff91 364px,#00ff84 371px)"></i><i style="background:linear-gradient(90deg,#30ff00 6px,#25ff00 13px,#00ff02 24px,#00ff13 32px,#00ff2b 73px,#00ff3b 89px,#00ff4f 103px,#00ff6e 118px,#00ff96 131px,#00ffc5 142px,#00fffc 152px,#00dfff 160px,#0075ff 181px,#004eff 190px,#0035ff 199px,#002dff 209px,#0032ff 216px,#0041ff 225px,#009bff 260px,#00c4ff 279px,#00e4ff 297px,#0ff 317px,#00ffce 347px,#00ffbc 353px,#00ff92 364px,#00ff85 371px)"></i><i style="background:linear-gradient(90deg,#2eff00 7px,#24ff00 13px,#0f0 23px,#00ff18 33px,#00ff32 74px,#00ff42 89px,#00ff56 102px,#00ff73 116px,#0f9 129px,#00ffc6 140px,#00fefe 151px,#00c8ff 164px,#0073ff 182px,#0054ff 190px,#003dff 199px,#0035ff 209px,#003aff 217px,#0048ff 226px,#009fff 262px,#00cbff 283px,#00e8ff 301px,#00fffe 319px,#00ffd2 346px,#00ffc0 352px,#00ff92 364px,#00ff87 370px)"></i><i style="background:linear-gradient(90deg,#2dff00 7px,#23ff00 13px,#00ff01 23px,#00ff13 29px,#00ff1c 34px,#00ff38 74px,#00ff5c 101px,#00ff79 115px,#00ff9c 127px,#00ffc2 137px,#00fdff 150px,#00c5ff 164px,#007aff 181px,#005cff 189px,#04f 199px,#003cff 209px,#003fff 216px,#004bff 225px,#00c0ff 278px,#00e2ff 298px,#0ff 320px,#00ffd6 345px,#00ffc0 352px,#00ff95 363px,#0f8 370px)"></i><i style="background:linear-gradient(90deg,#2bff00 8px,#1fff00 14px,#00ff02 23px,#00ff18 30px,#00ff21 35px,#00ff3f 74px,#00ff62 100px,#00ff7d 113px,#00ff9f 125px,#00ffc2 135px,#00fcff 149px,#0080ff 180px,#0061ff 189px,#004aff 199px,#0043ff 210px,#0046ff 217px,#0052ff 226px,#00c5ff 281px,#00e5ff 301px,#00fffe 322px,#00ffd7 345px,#00ffc0 352px,#0f9 362px,#00ff8a 369px)"></i><i style="background:linear-gradient(90deg,#29ff00 8px,#1eff00 14px,#00ff02 23px,#00ff19 30px,#00ff26 36px,#00ff45 74px,#00ff69 100px,#00ff85 113px,#00ffa7 125px,#00ffcb 135px,#00feff 147px,#0082ff 180px,#0069ff 188px,#0050ff 199px,#0049ff 210px,#004cff 218px,#0058ff 227px,#00c5ff 282px,#00e5ff 302px,#0ff 323px,#0fd 343px,#00ffc7 350px,#0f9 362px,#00ff8a 369px)"></i><i style="background:linear-gradient(90deg,#27ff00 9px,#1eff00 14px,#00ff03 23px,#00ff20 32px,#00ff2c 38px,#00ff4a 74px,#00ff70 100px,#00ff8a 112px,#00ffa8 123px,#00ffce 134px,#00fdff 146px,#08f 179px,#0070ff 187px,#0056ff 199px,#004fff 211px,#0052ff 218px,#005eff 228px,#00c8ff 284px,#00e7ff 305px,#00fffe 325px,#00ffde 343px,#00ffc7 350px,#00ff9c 361px,#00ff8c 368px)"></i><i style="background:linear-gradient(90deg,#25ff00 10px,#1aff00 15px,#00ff03 23px,#00ff21 32px,#00ff2f 38px,#00ff51 75px,#00ff75 99px,#00ff8d 110px,#00ffad 122px,#00fdff 145px,#008eff 178px,#0074ff 187px,#005cff 199px,#05f 211px,#0058ff 219px,#0065ff 230px,#0cf 287px,#0ff 326px,#00ffe1 342px,#00ff9b 361px,#00ff8e 367px)"></i><i style="background:linear-gradient(90deg,#2f0 11px,#17ff00 16px,#0f0 22px,#00ff03 23px,#00ff25 33px,#00ff35 40px,#00ff57 75px,#00ff7c 99px,#00ffae 120px,#00ffd1 131px,#00fffb 142px,#00fcff 144px,#0090ff 178px,#0078ff 187px,#0061ff 199px,#005aff 212px,#005eff 221px,#006aff 231px,#00cdff 288px,#0ff 327px,#00ffe4 341px,#00ff9b 361px,#00ff8e 367px)"></i><i style="background:linear-gradient(90deg,#21ff00 11px,#16ff00 16px,#0f0 22px,#00ff04 23px,#00ff26 33px,#00ff3a 41px,#00ff5c 75px,#00ff82 99px,#00ffb7 121px,#00feff 142px,#007dff 186px,#06f 199px,#005fff 212px,#0063ff 221px,#006fff 232px,#00ceff 289px,#0ff 328px,#00ffe7 340px,#00ff9e 360px,#00ff90 366px)"></i><i style="background:linear-gradient(90deg,#1eff00 12px,#13ff00 17px,#01ff00 22px,#00ff03 23px,#00ff2a 34px,#00ff3e 42px,#00ff63 76px,#0f8 99px,#00ffba 120px,#00feff 141px,#0081ff 186px,#006bff 199px,#0064ff 212px,#0067ff 221px,#0073ff 233px,#00ceff 290px,#00feff 329px,#00ffe7 340px,#00ffa1 359px,#00ff93 365px)"></i><i style="background:linear-gradient(90deg,#1bff00 13px,#00ff03 23px,#00ff2e 35px,#0f4 44px,#00ff69 77px,#00ff8f 100px,#00ffbd 119px,#00fdff 140px,#0084ff 186px,#0070ff 199px,#0069ff 212px,#006cff 222px,#0079ff 235px,#00d1ff 292px,#0ff 330px,#00ffe7 340px,#00ffa4 358px,#00ff95 364px)"></i><i style="background:linear-gradient(90deg,#18ff00 14px,#00ff03 23px,#00ff2e 35px,#00ff48 45px,#00ff70 78px,#00ff95 100px,#00ffbf 118px,#00fdff 139px,#0087ff 186px,#0074ff 199px,#006dff 213px,#0072ff 224px,#007fff 237px,#00d0ff 292px,#0ff 331px,#00ffe6 340px,#00ffa7 357px,#00ff97 363px)"></i><i style="background:linear-gradient(90deg,#15ff00 15px,#01ff00 22px,#00ff32 36px,#00ff4e 47px,#00ff76 79px,#00ff9c 101px,#00ffc2 117px,#00fdff 138px,#008cff 185px,#0078ff 199px,#0072ff 213px,#0075ff 224px,#0084ff 239px,#00d0ff 292px,#0ff 331px,#00ffe5 340px,#00ffa9 356px,#0f9 362px)"></i><i style="background:linear-gradient(90deg,#14ff00 15px,#01ff00 22px,#00ff35 37px,#00ff54 49px,#00ff7e 81px,#00ffa5 103px,#00ffce 120px,#0ff 136px,#0091ff 184px,#007cff 199px,#0076ff 213px,#007aff 225px,#08f 240px,#00d0ff 292px,#0ff 331px,#0fd 342px,#00ffa9 356px,#00ff9a 362px)"></i><i style="background:linear-gradient(90deg,#1f0 16px,#00ff02 23px,#00ff32 36px,#00ff54 48px,#00ff81 80px,#00ff9e 97px,#00ffc6 115px,#0ff 135px,#0094ff 184px,#0080ff 199px,#007aff 214px,#007eff 227px,#008cff 242px,#00feff 330px,#00ffe6 339px,#00ffab 355px,#00ff9c 361px)"></i><i style="background:linear-gradient(90deg,#0fff00 17px,#00ff02 23px,#00ff35 37px,#00ff5c 51px,#00ff85 80px,#00ffa2 97px,#00ffca 115px,#0ff 134px,#0096ff 184px,#0084ff 199px,#007eff 214px,#0082ff 227px,#0090ff 243px,#00feff 330px,#00ffde 341px,#0fa 355px,#00ff9e 360px)"></i><i style="background:linear-gradient(90deg,#0cff00 18px,#00ff01 23px,#00ff39 38px,#00ff60 52px,#00ff8c 82px,#00ffa8 98px,#00ffce 115px,#0ff 133px,#09f 184px,#0087ff 199px,#0081ff 215px,#0086ff 229px,#0094ff 245px,#00efff 320px,#0ff 330px,#0fd 341px,#00ffac 354px,#00ff9f 359px)"></i><i style="background:linear-gradient(90deg,#09ff00 19px,#00ff01 23px,#00ff38 38px,#0f6 54px,#00ffac 98px,#00ffcd 113px,#00fdff 133px,#009cff 184px,#008aff 200px,#0085ff 215px,#008aff 230px,#0097ff 246px,#00edff 318px,#00feff 329px,#00ffe8 337px,#00ffb1 352px,#00ffa1 358px)"></i><i style="background:linear-gradient(90deg,#04ff00 21px,#00ff04 24px,#00ff3e 40px,#00ff6c 56px,#00ffb0 98px,#00feff 132px,#009fff 183px,#008eff 199px,#08f 215px,#008dff 230px,#009cff 248px,#00e9ff 315px,#0ff 329px,#0fd 340px,#00ffb0 352px,#00ffa3 357px)"></i><i style="background:linear-gradient(90deg,#01ff00 22px,#00ff0b 26px,#00ff45 42px,#00ff6f 57px,#00ffb6 99px,#00feff 131px,#00a2ff 183px,#0091ff 199px,#008bff 215px,#0091ff 232px,#00a1ff 251px,#00e6ff 313px,#00feff 328px,#00ffe8 336px,#00ffa7 355px)"></i><i style="background:linear-gradient(90deg,#00ff02 23px,#00ff4b 44px,#0f7 60px,#0fb 100px,#0ff 130px,#00a4ff 183px,#0093ff 200px,#008fff 216px,#0095ff 234px,#00a6ff 255px,#00e4ff 311px,#0ff 328px,#00ffa9 354px)"></i><i style="background:linear-gradient(90deg,#00ff05 24px,#00ff4a 44px,#00ff7d 62px,#00ffbe 100px,#0ff 129px,#00a6ff 183px,#0096ff 200px,#0092ff 216px,#0098ff 235px,#00a9ff 256px,#00e2ff 309px,#00feff 327px,#00ffab 353px)"></i><i style="background:linear-gradient(90deg,#00ff08 25px,#00ff50 46px,#00ff82 64px,#00ffc3 101px,#00fffe 128px,#00a8ff 183px,#09f 200px,#0095ff 217px,#009bff 236px,#00acff 258px,#00e0ff 307px,#00feff 326px,#00ffad 352px)"></i><i style="background:linear-gradient(90deg,#00ff0b 26px,#00ff52 47px,#0f8 66px,#00ffc8 102px,#00feff 128px,#00acff 182px,#009cff 199px,#0097ff 217px,#009eff 237px,#00b2ff 262px,#00deff 305px,#0ff 326px,#00ffaf 351px)"></i><i style="background:linear-gradient(90deg,#0f1 28px,#00ff58 49px,#00ff8d 68px,#00ffce 104px,#0ff 127px,#00afff 181px,#009fff 199px,#009aff 217px,#00a0ff 238px,#00b6ff 265px,#00dcff 303px,#0ff 325px,#00ffb3 349px)"></i><i style="background:linear-gradient(90deg,#00ff13 29px,#00ff5a 50px,#00ff92 70px,#00ffd5 106px,#0ff 126px,#00b1ff 181px,#00a2ff 199px,#009dff 218px,#00a3ff 239px,#00b9ff 267px,#00daff 301px,#00feff 324px,#00ffb5 348px)"></i><i style="background:linear-gradient(90deg,#00ff18 31px,#00ff63 53px,#00ff9c 74px,#00feff 126px,#00b3ff 181px,#00a4ff 200px,#009fff 218px,#00a6ff 240px,#0bf 268px,#00d9ff 299px,#00feff 323px,#00ffb9 346px)"></i><i style="background:linear-gradient(90deg,#00ff1b 32px,#00ff62 53px,#00ff9e 75px,#0ff 125px,#00b4ff 181px,#00a6ff 200px,#00a2ff 218px,#00a9ff 242px,#00c4ff 277px,#00daff 299px,#00feff 322px,#00ffba 345px)"></i><i style="background:linear-gradient(90deg,#00ff20 34px,#00ff69 56px,#00ffa5 78px,#00feff 125px,#00b6ff 181px,#00a8ff 200px,#00a4ff 218px,#00abff 243px,#00c6ff 278px,#00daff 298px,#00feff 321px,#0fb 344px)"></i><i style="background:linear-gradient(90deg,#00ff23 35px,#00ff6b 57px,#00ffa7 79px,#00ffc0 90px,#0ff 124px,#00b8ff 181px,#00abff 200px,#00a7ff 218px,#00adff 243px,#00c6ff 278px,#00daff 297px,#00feff 320px,#00ffbf 342px)"></i><i style="background:linear-gradient(90deg,#00ff28 37px,#00ff70 59px,#00ffab 81px,#00ffc8 94px,#00feff 124px,#00baff 181px,#00adff 200px,#00a9ff 219px,#00b0ff 244px,#00c7ff 278px,#00dcff 297px,#00feff 319px,#00ffc2 340px)"></i><i style="background:linear-gradient(90deg,#00ff2a 38px,#00ff72 60px,#00ffad 82px,#00ffcf 97px,#0ff 123px,#0bf 181px,#00afff 200px,#00abff 219px,#00b1ff 243px,#00c7ff 276px,#0df 296px,#00feff 318px,#00ffc3 339px)"></i><i style="background:linear-gradient(90deg,#00ff2f 40px,#00ff76 62px,#00ffaf 83px,#00ffd5 100px,#00feff 123px,#00bdff 181px,#00b1ff 200px,#00adff 219px,#00b3ff 243px,#00c7ff 274px,#00dcff 294px,#00feff 317px,#00ffc7 337px)"></i><i style="background:linear-gradient(90deg,#00ff34 42px,#0f7 63px,#00ffab 82px,#00ffd7 101px,#0ff 122px,#00c0ff 180px,#00b4ff 199px,#00afff 219px,#00b5ff 243px,#00c5ff 271px,#0df 293px,#00feff 316px,#00ffca 335px)"></i><i style="background:linear-gradient(90deg,#00ff39 44px,#00ff79 64px,#00ffa7 81px,#00ffdb 103px,#0ff 122px,#00c1ff 180px,#00b5ff 200px,#00b1ff 220px,#00b6ff 243px,#00c5ff 269px,#0df 292px,#0ff 315px,#00ffcd 333px)"></i><i style="background:linear-gradient(90deg,#00ff3d 46px,#00ff7d 66px,#00ffa5 81px,#00ffde 105px,#0ff 122px,#00c3ff 179px,#00b7ff 199px,#00b3ff 220px,#00b8ff 243px,#00c6ff 267px,#00deff 291px,#00feff 313px,#00ffd0 331px)"></i><i style="background:linear-gradient(90deg,#00ff42 48px,#00ff81 68px,#00ffa4 81px,#0fd 105px,#0ff 122px,#00c5ff 179px,#00b9ff 200px,#00b5ff 221px,#00baff 243px,#00c7ff 266px,#00dfff 290px,#00feff 312px,#00ffd2 329px)"></i><i style="background:linear-gradient(90deg,#00ff47 50px,#00ffa2 81px,#00ffd7 103px,#0ff 122px,#00c7ff 178px,#0bf 200px,#00b7ff 221px,#0bf 243px,#00c7ff 264px,#00dfff 288px,#00fdff 310px,#00ffd5 327px)"></i><i style="background:linear-gradient(90deg,#00ff4b 52px,#00ffa8 84px,#0ff 123px,#00e2ff 149px,#00c9ff 178px,#00bdff 200px,#00b9ff 221px,#00bdff 243px,#00caff 264px,#00e1ff 288px,#00feff 309px,#00ffd7 325px)"></i><i style="background:linear-gradient(90deg,#00ff4f 54px,#00ffad 87px,#0ff 124px,#00e4ff 148px,#00cbff 177px,#00bfff 199px,#0bf 221px,#00bfff 242px,#00cbff 263px,#00e1ff 286px,#00fdff 307px,#00ffda 323px)"></i><i style="background:linear-gradient(90deg,#00ff53 56px,#00ffae 88px,#0ff 125px,#00e4ff 149px,#00cdff 176px,#00c1ff 198px,#00bdff 220px,#00c1ff 240px,#00cdff 262px,#00e4ff 286px,#00feff 306px,#00ffdc 321px)"></i><i style="background:linear-gradient(90deg,#00ff57 58px,#00ffb1 90px,#0ff 126px,#00e4ff 150px,#00cfff 175px,#00c3ff 197px,#00bfff 219px,#00c3ff 240px,#00cfff 261px,#00e4ff 284px,#00feff 304px,#0fd 319px)"></i><i style="background:linear-gradient(90deg,#00ff5b 60px,#00ffb3 92px,#00feff 128px,#00e4ff 152px,#00d0ff 176px,#00c5ff 197px,#00c1ff 218px,#00c5ff 239px,#00d2ff 261px,#00e5ff 283px,#00fdff 302px,#00ffdf 317px)"></i><i style="background:linear-gradient(90deg,#00ff61 63px,#00ffb5 94px,#0ff 129px,#00e4ff 154px,#00d1ff 177px,#00c7ff 198px,#00c4ff 218px,#00c8ff 239px,#00d3ff 260px,#00e6ff 281px,#00feff 301px,#00ffe1 315px)"></i><i style="background:linear-gradient(90deg,#00ff65 65px,#00ffba 97px,#00feff 131px,#00e5ff 155px,#00d4ff 177px,#00c9ff 198px,#00c7ff 217px,#00caff 238px,#00d5ff 259px,#00e7ff 280px,#00feff 299px,#00ffe4 312px)"></i><i style="background:linear-gradient(90deg,#00ff68 67px,#00ffbc 99px,#0ff 132px,#00d6ff 177px,#0cf 198px,#00c9ff 217px,#00cdff 238px,#00d7ff 258px,#00e8ff 278px,#00feff 297px,#00ffe5 310px)"></i><i style="background:linear-gradient(90deg,#00ff6e 70px,#00ffbe 101px,#0ff 134px,#00d8ff 177px,#0cf 216px,#00cfff 236px,#00d9ff 256px,#00eaff 277px,#00feff 295px,#00ffe8 307px)"></i><i style="background:linear-gradient(90deg,#00ff74 73px,#00ffc4 105px,#00feff 136px,#00daff 178px,#00cfff 216px,#00d2ff 236px,#00dbff 255px,#00e9ff 274px,#00feff 292px,#00ffeb 304px)"></i><i style="background:linear-gradient(90deg,#00ff79 76px,#00ffc9 109px,#00feff 138px,#0df 178px,#00d2ff 216px,#0df 254px,#00feff 290px,#00ffeb 302px)"></i><i style="background:linear-gradient(90deg,#00ff7e 79px,#00ffca 111px,#00feff 140px,#00dfff 179px,#00d4ff 216px,#00dfff 253px,#00feff 288px,#00ffed 299px)"></i><i style="background:linear-gradient(90deg,#00ff80 81px,#00ffcb 113px,#0ff 142px,#00e0ff 181px,#00d7ff 216px,#00e1ff 252px,#00feff 285px,#00ffef 296px)"></i><i style="background:linear-gradient(90deg,#00ff87 85px,#00ffce 116px,#0ff 144px,#00e3ff 181px,#00daff 216px,#00e3ff 250px,#00feff 283px,#00fff2 292px)"></i><i style="background:linear-gradient(90deg,#00ff8c 88px,#00ffd2 120px,#00feff 147px,#00e5ff 182px,#0df 216px,#00e5ff 248px,#00feff 280px,#00fff4 289px)"></i><i style="background:linear-gradient(90deg,#00ff92 92px,#00ffd8 125px,#00feff 150px,#00e8ff 183px,#00e0ff 216px,#00e7ff 246px,#00feff 277px,#00fff6 285px)"></i><i style="background:linear-gradient(90deg,#00ff98 96px,#00ffd8 127px,#0ff 152px,#00eaff 184px,#00e3ff 215px,#00eaff 245px,#00feff 274px,#00fff7 282px)"></i><i style="background:linear-gradient(90deg,#00ff9c 99px,#00ffdb 131px,#00feff 156px,#00ecff 185px,#00e6ff 215px,#00ecff 243px,#00feff 271px,#00fff8 278px)"></i><i style="background:linear-gradient(90deg,#00ffa1 103px,#00ffdc 134px,#00feff 159px,#0ef 187px,#00e9ff 215px,#0ef 240px,#00feff 268px,#00fffa 274px)"></i><i style="background:linear-gradient(90deg,#00ffa8 108px,#00ffe1 140px,#00feff 163px,#00f0ff 190px,#00ecff 215px,#00f0ff 237px,#00feff 264px,#00fffb 269px)"></i><i style="background:linear-gradient(90deg,#00ffae 113px,#00ffe0 142px,#00fffe 166px,#00f3ff 191px,#00efff 214px,#00f2ff 235px,#00fffd 264px)"></i><i style="background:linear-gradient(90deg,#00ffb4 118px,#00ffe1 146px,#00fffe 170px,#00f5ff 193px,#00f2ff 214px,#00fffd 259px)"></i><i style="background:linear-gradient(90deg,#0fb 124px,#00ffe6 153px,#00fffe 176px,#00f5ff 213px,#00fffe 253px)"></i><i style="background:linear-gradient(90deg,#00ffc2 130px,#00ffe8 158px,#00fffe 182px,#00f9ff 213px,#00fffe 247px)"></i><i style="background:linear-gradient(90deg,#00ffc9 137px,#00ffeb 165px,#00fffd 189px,#00fcff 214px,#00fffe 240px)"></i><i style="background:linear-gradient(90deg,#00ffd1 146px,#00ffea 169px,#00fff9 190px,#00fffe 205px,#00fffd 231px)"></i><i style="background:linear-gradient(90deg,#00ffda 156px,#00fff4 189px,#00fffc 221px)"></i><i class=a style="background:linear-gradient(90deg,#00ffe8 174px,#00fff7 203px)"></i></div>
<div class="m" style="left:799.50px;top:1156.10px;width:381px;height:356px;clip-path:path(evenodd,'M208 351.5L190 352.2L171 351.3L155 349.2L134.1 344.5L116.3 338.5L100.4 331.5L84.3 322.5L71.2 313.5L59.1 303.5L47.1 291.5L37 279.2L27 264L21 252.5L14 235.3L9 217.5L6 199.5L5 181.5L5.4 161.5L7.6 145.5L11 130.4L16 115.1L24 97.3L33 82.4L41.8 70.5L52.7 58.5L67.3 45.5L79.5 36.5L94.5 27.5L108.9 20.5L127.5 13.5L146.1 8.5L163.4 5.5L184 3.9L204 4.2L218 5.5L239.2 9.5L256.3 14.5L274.2 21.5L288.2 28.5L305.7 39.5L319 49.9L332 62.4L344 76.8L354 92L360 103.5L367 120.7L372 138.5L375 156.5L376 173.5L375.6 194.5L373.4 210.5L370 225.6L365 240.9L357 258.7L348 273.6L338 286.9L325.1 300.5L310 313.4L296.9 322.5L280.7 331.5L264.8 338.5L247 344.5L229.8 348.5ZM196 201.5L202 200.2L207 198L212 194.7L216.1 190.5L218.7 186.5L220.1 182.5L220.7 175.5L219.8 170.5L217.6 166.5L213 161.4L209 158.6L203 155.7L196 154.3L190 154L183 154.9L177 156.5L172 159.2L168 162.2L164.9 165.5L162.3 169.5L161.1 172.5L160.4 176.5L160.4 182.5L161.2 185.5L163.4 189.5L167 193.7L171 196.8L176 199.5L180 200.8L187 202Z')"><i style="background:linear-gradient(90deg,#cbff00 164px,#bf0 190px,#a2ff00 217px)"></i><i style="background:linear-gradient(90deg,#d1ff00 152px,#bfff00 189px,#95ff00 229px)"></i><i style="background:linear-gradient(90deg,#d5ff00 142px,#d0ff00 167px,#c3ff00 189px,#aeff00 211px,#89ff00 239px)"></i><i style="background:linear-gradient(90deg,#d8ff00 135px,#d5ff00 163px,#c8ff00 188px,#afff00 213px,#81ff00 246px)"></i><i style="background:linear-gradient(90deg,#d9ff00 128px,#daff00 160px,#cdff00 188px,#aeff00 217px,#78ff00 253px)"></i><i style="background:linear-gradient(90deg,#dbff00 122px,#dfff00 157px,#d1ff00 188px,#aeff00 220px,#70ff00 259px)"></i><i style="background:linear-gradient(90deg,#dbff00 117px,#e4ff00 155px,#d5ff00 188px,#aeff00 223px,#69ff00 264px)"></i><i style="background:linear-gradient(90deg,#dcff00 112px,#e9ff00 152px,#e5ff00 170px,#daff00 188px,#c7ff00 207px,#afff00 225px,#62ff00 269px)"></i><i style="background:linear-gradient(90deg,#dcff00 107px,#ef0 148px,#eaff00 167px,#e0ff00 186px,#cf0 206px,#b2ff00 226px,#5bff00 274px)"></i><i style="background:linear-gradient(90deg,#dcff00 103px,#edff00 129px,#f2ff00 146px,#efff00 166px,#e4ff00 186px,#d0ff00 206px,#b2ff00 228px,#90ff00 248px,#5f0 278px)"></i><i style="background:linear-gradient(90deg,#dcff00 99px,#f1ff00 127px,#f6ff00 144px,#f4ff00 164px,#e9ff00 185px,#d3ff00 207px,#b3ff00 230px,#8eff00 251px,#4eff00 282px)"></i><i style="background:linear-gradient(90deg,#dcff00 95px,#f3ff00 124px,#fbff00 142px,#f9ff00 162px,#edff00 184px,#d6ff00 207px,#b1ff00 233px,#8bff00 254px,#48ff00 286px)"></i><i style="background:linear-gradient(90deg,#dbff00 91px,#f3ff00 117px,#feff00 136px,#feff00 161px,#f2ff00 183px,#d9ff00 208px,#b3ff00 234px,#8bff00 256px,#43ff00 289px)"></i><i style="background:linear-gradient(90deg,#dbff00 88px,#feff00 126px,#fffe00 166px,#f6ff00 183px,#dcff00 208px,#b5ff00 235px,#82ff00 262px,#3cff00 293px)"></i><i style="background:linear-gradient(90deg,#daff00 85px,#f7ff00 111px,#fffe00 122px,#fff900 148px,#fffe00 174px,#faff00 183px,#dfff00 209px,#b4ff00 237px,#80ff00 264px,#37ff00 296px)"></i><i style="background:linear-gradient(90deg,#daff00 82px,#fffe00 116px,#fff600 148px,#feff00 183px,#e1ff00 210px,#b4ff00 239px,#7fff00 266px,#31ff00 299px)"></i><i style="background:linear-gradient(90deg,#d9ff00 79px,#fffe00 111px,#fff300 148px,#feff00 187px,#deff00 214px,#adff00 244px,#79ff00 270px,#2cff00 302px)"></i><i style="background:linear-gradient(90deg,#d8ff00 76px,#fffe00 106px,#fff400 126px,#fff100 147px,#fff400 167px,#feff00 190px,#dfff00 216px,#acff00 246px,#75ff00 273px,#26ff00 305px)"></i><i style="background:linear-gradient(90deg,#d7ff00 73px,#fffe00 102px,#fff200 124px,#fe0 147px,#fff200 169px,#feff00 194px,#dcff00 220px,#a5ff00 251px,#6cff00 278px,#21ff00 308px)"></i><i style="background:linear-gradient(90deg,#d5ff00 70px,#fffe00 99px,#fff000 123px,#ffeb00 147px,#fff000 170px,#feff00 197px,#d8ff00 224px,#a2ff00 254px,#69ff00 280px,#1bff00 311px)"></i><i style="background:linear-gradient(90deg,#d4ff00 68px,#fffe00 96px,#fe0 121px,#ffe800 146px,#fe0 171px,#ff0 199px,#d7ff00 226px,#9eff00 257px,#67ff00 282px,#17ff00 313px)"></i><i style="background:linear-gradient(90deg,#d2ff00 65px,#fffe00 93px,#ffec00 119px,#ffe600 146px,#ffec00 173px,#feff00 202px,#d3ff00 230px,#98ff00 261px,#5fff00 286px,#10ff00 316px)"></i><i style="background:linear-gradient(90deg,#d1ff00 63px,#fffe00 90px,#ffea00 117px,#ffe300 146px,#ffea00 174px,#feff00 204px,#d2ff00 232px,#93ff00 264px,#5aff00 289px,#0cff00 318px)"></i><i style="background:linear-gradient(90deg,#d1ff00 61px,#fffe00 87px,#ffe800 116px,#ffe000 145px,#ffe800 174px,#ff0 205px,#d2ff00 233px,#91ff00 266px,#57ff00 291px,#08ff00 320px)"></i><i style="background:linear-gradient(90deg,#d0ff00 59px,#fffe00 85px,#ffe600 115px,#ffde00 145px,#ffe600 174px,#ff0 207px,#cfff00 236px,#8eff00 268px,#54ff00 293px,#04ff00 322px)"></i><i style="background:linear-gradient(90deg,#cdff00 56px,#fffe00 83px,#ffe400 114px,#ffdb00 144px,#ffe400 174px,#ff0 208px,#ceff00 237px,#92ff00 267px,#58ff00 292px,#0aff00 320px,#00ff02 325px)"></i><i style="background:linear-gradient(90deg,#cf0 54px,#fffe00 80px,#ffe300 112px,#ffd900 143px,#ffe300 174px,#feff00 209px,#ceff00 238px,#9f0 264px,#4aff00 298px,#0f0 324px,#00ff07 327px)"></i><i style="background:linear-gradient(90deg,#caff00 52px,#fffe00 78px,#ffe100 111px,#ffd700 141px,#ffe100 174px,#ff0 209px,#d0ff00 237px,#9fff00 262px,#4cff00 298px,#01ff00 324px,#00ff0b 329px)"></i><i style="background:linear-gradient(90deg,#c8ff00 50px,#fffe00 76px,#ffdf00 109px,#ffd500 140px,#ffe000 174px,#feff00 210px,#bfff00 246px,#8fff00 270px,#45ff00 301px,#03ff00 324px,#00ff10 331px)"></i><i style="background:linear-gradient(90deg,#c6ff00 48px,#ff0 74px,#ffde00 108px,#ffd300 139px,#fd0 173px,#ff0 210px,#8dff00 271px,#3fff00 304px,#01ff00 325px,#00ff15 333px)"></i><i style="background:linear-gradient(90deg,#c4ff00 46px,#fffe00 73px,#ffdb00 108px,#ffd200 139px,#ffdc00 173px,#ff0 210px,#89ff00 273px,#3dff00 305px,#03ff00 325px,#00ff1a 335px)"></i><i style="background:linear-gradient(90deg,#c2ff00 44px,#fffe00 71px,#ffda00 106px,#ffd000 139px,#ffda00 173px,#feff00 211px,#7fff00 278px,#39ff00 307px,#01ff00 326px,#00ff1c 336px)"></i><i style="background:linear-gradient(90deg,#c2ff00 43px,#fffe00 69px,#ffda00 104px,#ffce00 139px,#ffd900 173px,#ff0 211px,#7bff00 280px,#3aff00 307px,#03ff00 326px,#00ff21 338px)"></i><i style="background:linear-gradient(90deg,#c0ff00 41px,#fffe00 68px,#ffd900 102px,#ffd000 121px,#fc0 140px,#ffce00 155px,#ffd800 174px,#ff0 211px,#74ff00 283px,#36ff00 309px,#01ff00 327px,#00ff26 340px)"></i><i style="background:linear-gradient(90deg,#bdff00 39px,#fffe00 66px,#ffd900 100px,#ffce00 120px,#ffca00 140px,#fc0 155px,#ffd600 174px,#ff0 211px,#b0ff00 250px,#69ff00 288px,#31ff00 311px,#03ff00 327px,#00ff2b 342px)"></i><i style="background:linear-gradient(90deg,#bcff00 38px,#fffe00 65px,#ffe700 83px,#ffd800 99px,#fc0 121px,#ffc800 141px,#ffca00 156px,#ffd400 174px,#ffe500 191px,#fffe00 211px,#acff00 251px,#62ff00 291px,#2cff00 313px,#01ff00 328px,#00ff2d 343px)"></i><i style="background:linear-gradient(90deg,#baff00 36px,#ff0 63px,#ffe600 82px,#ffd800 97px,#ffcb00 120px,#ffc600 141px,#ffc800 156px,#ffd300 174px,#ffe300 191px,#fffe00 211px,#9eff00 257px,#5dff00 293px,#2dff00 313px,#02ff00 328px,#00ff32 345px)"></i><i style="background:linear-gradient(90deg,#b7ff00 34px,#ff0 62px,#ffe600 80px,#ffd800 95px,#ffca00 119px,#ffc400 141px,#ffc700 157px,#ffd200 175px,#ffe400 192px,#fffe00 211px,#9bff00 257px,#54ff00 297px,#28ff00 315px,#0f0 329px,#00ff35 346px)"></i><i style="background:linear-gradient(90deg,#b6ff00 33px,#fffe00 61px,#ffe500 79px,#ffd700 95px,#ffc700 120px,#ffc200 142px,#ffc500 157px,#ffd000 175px,#ffe300 192px,#fffe00 211px,#98ff00 257px,#4cff00 300px,#01ff00 329px,#00ff3a 348px)"></i><i style="background:linear-gradient(90deg,#b5ff00 32px,#fffe00 60px,#ffe500 78px,#ffd600 95px,#ffc500 121px,#ffc000 142px,#ffc200 157px,#ffce00 175px,#ffe100 192px,#fffe00 211px,#95ff00 257px,#45ff00 303px,#02ff00 329px,#00ff3d 349px)"></i><i style="background:linear-gradient(90deg,#b2ff00 30px,#c0ff00 36px,#feff00 58px,#ffe500 77px,#ffd400 95px,#ffc300 121px,#ffbd00 142px,#ffc000 158px,#fc0 175px,#ffe000 192px,#fffe00 211px,#96ff00 255px,#72ff00 274px,#41ff00 304px,#02ff00 329px,#00ff42 351px)"></i><i style="background:linear-gradient(90deg,#b1ff00 29px,#feff00 57px,#ffe400 76px,#ffd200 97px,#ffc100 122px,#fb0 143px,#ffbe00 158px,#ffca00 175px,#ffdf00 192px,#fffe00 211px,#91ff00 256px,#6bff00 276px,#3cff00 306px,#0f0 330px,#0f4 352px)"></i><i style="background:linear-gradient(90deg,#aeff00 27px,#beff00 34px,#feff00 56px,#ffe600 74px,#ffcf00 99px,#ffbf00 123px,#ffb900 143px,#ffbc00 158px,#ffc800 175px,#ffde00 192px,#fffe00 211px,#bdff00 236px,#8bff00 257px,#62ff00 279px,#36ff00 308px,#0f0 330px,#00ff48 353px)"></i><i style="background:linear-gradient(90deg,#acff00 26px,#baff00 32px,#feff00 55px,#ffe600 73px,#ffcb00 102px,#ffbc00 125px,#ffb600 144px,#ffba00 159px,#ffc700 176px,#fd0 192px,#ff0 211px,#bdff00 235px,#8f0 257px,#5dff00 279px,#30ff00 310px,#0f0 330px,#00ff4d 355px)"></i><i style="background:linear-gradient(90deg,#abff00 25px,#fffe00 55px,#ffe700 71px,#ffc800 105px,#ffb900 126px,#ffb400 144px,#ffb700 158px,#ffc400 175px,#ffda00 191px,#ff0 211px,#baff00 235px,#7fff00 259px,#54ff00 282px,#29ff00 313px,#0f0 330px,#00ff50 356px)"></i><i style="background:linear-gradient(90deg,#a9ff00 24px,#fffe00 54px,#ffe800 70px,#ffc500 107px,#ffb600 128px,#ffb100 145px,#ffb500 160px,#ffc300 176px,#ffd900 191px,#fffe00 210px,#a4ff00 242px,#7f0 261px,#4bff00 285px,#25ff00 314px,#0f0 330px,#00ff53 357px)"></i><i style="background:linear-gradient(90deg,#a8ff00 23px,#b3ff00 28px,#e1ff00 42px,#fffe00 53px,#ffe900 68px,#ffc200 108px,#ffb400 128px,#ffae00 145px,#ffb300 160px,#ffc100 176px,#ffd800 191px,#fffe00 210px,#a5ff00 240px,#72ff00 261px,#46ff00 285px,#1fff00 316px,#02ff00 329px,#00ff17 338px,#00ff46 352px,#00ff56 358px)"></i><i style="background:linear-gradient(90deg,#a4ff00 21px,#b1ff00 27px,#df0 40px,#ff0 52px,#ffeb00 66px,#ffbe00 111px,#ffb000 131px,#ffac00 146px,#ffb000 160px,#ffbf00 176px,#ffd700 191px,#ff0 210px,#a4ff00 239px,#6dff00 261px,#40ff00 286px,#19ff00 318px,#01ff00 329px,#00ff1a 339px,#00ff49 353px,#00ff59 359px)"></i><i style="background:linear-gradient(90deg,#a3ff00 20px,#b3ff00 27px,#dcff00 39px,#feff00 51px,#ffed00 64px,#ffbc00 112px,#ffad00 131px,#ffa900 146px,#ffad00 160px,#ffbd00 176px,#ffd400 190px,#fffe00 209px,#9dff00 240px,#68ff00 261px,#40ff00 283px,#14ff00 319px,#0f0 329px,#00ff23 342px,#00ff50 355px,#00ff5e 361px)"></i><i style="background:linear-gradient(90deg,#a1ff00 19px,#aeff00 25px,#e1ff00 40px,#fffe00 51px,#ffef00 62px,#ffb700 115px,#fa0 133px,#ffa600 147px,#ffab00 161px,#fb0 176px,#ffd300 190px,#ff0 209px,#9bff00 239px,#61ff00 262px,#36ff00 286px,#0fff00 320px,#02ff00 328px,#00ff1d 340px,#00ff53 356px,#00ff61 362px)"></i><i style="background:linear-gradient(90deg,#a0ff00 18px,#afff00 25px,#df0 38px,#ff0 50px,#ffb400 117px,#ffa700 133px,#ffa300 147px,#ffa800 161px,#ffb800 176px,#ffd200 190px,#fffd00 208px,#b2ff00 230px,#8f0 244px,#5fff00 260px,#3dff00 278px,#24ff00 295px,#0f0 328px,#00ff21 341px,#00ff56 357px,#00ff63 363px)"></i><i style="background:linear-gradient(90deg,#9fff00 17px,#aeff00 24px,#e1ff00 39px,#fffe00 50px,#ffb100 118px,#ffa400 134px,#ffa000 148px,#ffa400 161px,#ffb600 176px,#ffcf00 189px,#fffe00 208px,#b1ff00 229px,#8f0 242px,#5eff00 258px,#38ff00 277px,#1cff00 298px,#00ff01 327px,#00ff21 341px,#00ff56 357px,#00ff64 363px)"></i><i style="background:linear-gradient(90deg,#9eff00 17px,#acff00 23px,#df0 37px,#ff0 49px,#ffad00 120px,#ffa100 135px,#ff9d00 148px,#ffa100 161px,#ffb200 175px,#fc0 188px,#fffd00 207px,#acff00 229px,#81ff00 242px,#57ff00 258px,#32ff00 277px,#1f0 303px,#00ff04 327px,#00ff1f 340px,#00ff59 358px,#00ff67 364px)"></i><i style="background:linear-gradient(90deg,#9dff00 16px,#af0 22px,#deff00 37px,#ff0 49px,#fa0 121px,#ff9d00 136px,#f90 148px,#ff9e00 161px,#ffaf00 175px,#ffcb00 188px,#ff0 207px,#aeff00 227px,#7eff00 241px,#53ff00 257px,#2eff00 276px,#18ff00 291px,#06ff00 309px,#00ff01 318px,#00ff0a 329px,#00ff23 341px,#00ff5c 359px,#00ff6a 365px)"></i><i style="background:linear-gradient(90deg,#9bff00 15px,#a7ff00 21px,#dfff00 37px,#ff0 49px,#ffa600 123px,#ff9a00 137px,#ff9600 149px,#ff9a00 161px,#ffad00 175px,#ffca00 188px,#fffe00 206px,#a8ff00 227px,#7f0 241px,#4cff00 257px,#27ff00 276px,#12ff00 291px,#01ff00 308px,#00ff10 331px,#00ff23 341px,#00ff60 360px,#00ff6d 366px)"></i><i style="background:linear-gradient(90deg,#9f0 14px,#a8ff00 21px,#e1ff00 37px,#ff0 49px,#ffa200 124px,#ff9600 138px,#ff9200 149px,#ff9800 162px,#fa0 175px,#ffc900 188px,#fffc00 205px,#feff00 206px,#a5ff00 226px,#73ff00 240px,#4f0 257px,#20ff00 276px,#01ff00 302px,#00ff15 333px,#00ff27 342px,#00ff60 360px,#00ff6f 367px)"></i><i style="background:linear-gradient(90deg,#97ff00 13px,#a6ff00 20px,#e2ff00 37px,#ff0 49px,#ff9f00 125px,#ff9200 139px,#ff8f00 150px,#ff9400 162px,#ffa800 175px,#ffc800 188px,#ff0 205px,#a2ff00 225px,#6eff00 239px,#41ff00 255px,#1cff00 274px,#00ff02 298px,#00ff1b 335px,#00ff2d 344px,#00ff64 361px,#00ff72 368px)"></i><i style="background:linear-gradient(90deg,#96ff00 12px,#a3ff00 19px,#e8ff00 39px,#ff0 50px,#ffdf00 77px,#ff9a00 127px,#ff8f00 139px,#ff8b00 150px,#ff9000 162px,#ffa500 175px,#ffc400 187px,#fffe00 204px,#9fff00 224px,#68ff00 238px,#3bff00 254px,#16ff00 273px,#00ff01 291px,#00ff21 337px,#00ff36 347px,#00ff6a 363px,#00ff75 369px)"></i><i style="background:linear-gradient(90deg,#95ff00 12px,#a4ff00 19px,#e6ff00 38px,#feff00 50px,#fd0 78px,#ff9700 128px,#ff8b00 140px,#ff8700 151px,#ff8d00 163px,#ffa200 175px,#ffc100 186px,#fffd00 203px,#9bff00 223px,#6f0 236px,#34ff00 253px,#0fff00 272px,#00ff02 285px,#00ff14 306px,#00ff25 338px,#00ff35 346px,#00ff6b 363px,#00ff76 369px)"></i><i style="background:linear-gradient(90deg,#94ff00 11px,#a1ff00 18px,#e4ff00 37px,#ff0 51px,#ffdb00 80px,#ff9300 129px,#ff8700 141px,#ff8300 151px,#f80 162px,#ff9d00 174px,#ffc000 186px,#fffd00 202px,#96ff00 222px,#5fff00 235px,#2dff00 252px,#08ff00 271px,#00ff03 279px,#00ff18 303px,#00ff2b 340px,#00ff3e 349px,#00ff6e 364px,#00ff78 370px)"></i><i style="background:linear-gradient(90deg,#92ff00 10px,#a2ff00 18px,#e4ff00 37px,#ff0 52px,#ffda00 81px,#ff8e00 131px,#ff8200 142px,#ff7e00 152px,#ff8600 164px,#ff9c00 175px,#ffc000 186px,#fffc00 201px,#fdff00 202px,#c0ff00 212px,#96ff00 220px,#58ff00 234px,#25ff00 251px,#02ff00 269px,#00ff1c 299px,#00ff2f 341px,#00ff42 350px,#00ff6f 364px,#00ff7a 371px)"></i><i style="background:linear-gradient(90deg,#92ff00 10px,#9fff00 17px,#e1ff00 36px,#ff0 53px,#ffd700 83px,#ff8900 132px,#ff7e00 143px,#ff7a00 152px,#ff8100 163px,#ff9700 174px,#fb0 185px,#fffc00 200px,#fdff00 201px,#c3ff00 210px,#9bff00 217px,#7f0 224px,#54ff00 232px,#27ff00 246px,#02ff00 263px,#00ff21 295px,#00ff35 343px,#00ff46 351px,#00ff72 365px,#00ff7c 371px)"></i><i style="background:linear-gradient(90deg,#90ff00 9px,#9fff00 17px,#deff00 35px,#ff0 54px,#ffd500 85px,#ff8500 133px,#ff7a00 143px,#ff7500 152px,#ff7c00 163px,#ff9400 174px,#ffb700 184px,#fffc00 199px,#fdff00 200px,#9fff00 214px,#5dff00 227px,#29ff00 241px,#03ff00 257px,#00ff17 275px,#00ff26 292px,#00ff3a 344px,#00ff4a 352px,#00ff73 365px,#00ff7e 372px)"></i><i style="background:linear-gradient(90deg,#8fff00 8px,#9cff00 16px,#dbff00 34px,#ff0 55px,#ffd400 86px,#ff8100 134px,#ff7500 144px,#ff7100 153px,#ff7900 164px,#ff9100 174px,#ffb700 184px,#fffc00 198px,#fcff00 199px,#9fff00 212px,#5cff00 224px,#2bff00 236px,#03ff00 251px,#00ff1b 270px,#00ff2b 288px,#00ff3e 345px,#00ff4e 353px,#00ff76 366px,#00ff80 373px)"></i><i style="background:linear-gradient(90deg,#8eff00 8px,#9f0 15px,#d8ff00 33px,#ff0 56px,#ffd100 88px,#ff7b00 136px,#ff6f00 145px,#ff6c00 153px,#ff7400 164px,#ff8b00 173px,#ffb300 183px,#fffd00 197px,#97ff00 211px,#5cff00 221px,#2bff00 232px,#03ff00 245px,#00ff1f 264px,#00ff30 283px,#00ff3a 305px,#0f4 347px,#00ff52 354px,#0f7 366px,#00ff81 373px)"></i><i style="background:linear-gradient(90deg,#8dff00 7px,#9f0 15px,#c6ff00 27px,#d7ff00 33px,#ff0 57px,#ffce00 90px,#ff7600 137px,#ff6a00 146px,#f60 154px,#ff6f00 164px,#f80 173px,#ffaf00 182px,#fff900 195px,#f7ff00 197px,#8dff00 210px,#56ff00 219px,#2f0 230px,#03ff01 240px,#00ff24 259px,#00ff37 279px,#00ff41 302px,#00ff48 348px,#00ff53 354px,#00ff78 366px,#00ff83 374px)"></i><i style="background:linear-gradient(90deg,#8cff00 7px,#9f0 15px,#c2ff00 26px,#d3ff00 32px,#ff0 58px,#ffcb00 92px,#ff6f00 139px,#ff6100 154px,#ff6a00 164px,#ff8500 173px,#ffb100 182px,#fffb00 194px,#fcff00 195px,#89ff00 208px,#5aff00 215px,#21ff00 226px,#06ff00 233px,#00ff04 236px,#00ff28 253px,#00ff3e 275px,#00ff47 298px,#00ff4c 349px,#00ff57 355px,#00ff7c 367px,#00ff84 374px)"></i><i style="background:linear-gradient(90deg,#8bff00 6px,#96ff00 14px,#bfff00 25px,#d0ff00 31px,#ff0 59px,#ffca00 93px,#ff6b00 139px,#ff5f00 147px,#ff5b00 154px,#ff6300 163px,#ff7a00 171px,#ffa700 180px,#fff700 192px,#fefd00 193px,#f6ff00 194px,#95ff00 204px,#57ff00 212px,#1eff00 222px,#08ff00 227px,#01ff04 230px,#00ff2a 245px,#00ff3f 261px,#00ff4e 291px,#00ff50 349px,#00ff59 355px,#00ff7f 368px,#00ff86 375px)"></i><i style="background:linear-gradient(90deg,#8bff00 6px,#96ff00 14px,#beff00 25px,#cf0 30px,#ff0 60px,#ffc700 95px,#ff6400 141px,#ff5800 149px,#f50 155px,#ff5f00 164px,#f70 171px,#ffa900 180px,#fffa00 191px,#fbff00 192px,#86ff00 203px,#52ff00 209px,#14ff00 219px,#06ff00 222px,#00ff06 225px,#00ff1e 232px,#00ff30 239px,#00ff49 257px,#00ff56 288px,#00ff54 350px,#00ff5d 356px,#00ff80 368px,#00ff87 375px)"></i><i style="background:linear-gradient(90deg,#89ff00 5px,#93ff00 13px,#c8ff00 29px,#feff00 61px,#ffe700 78px,#ffc600 96px,#ff5e00 142px,#ff5300 149px,#ff4f00 155px,#ff5800 163px,#ff6f00 170px,#ffa500 179px,#fff500 189px,#fffd00 190px,#f5ff00 191px,#80ff00 201px,#45ff00 207px,#26ff00 211px,#0eff00 215px,#00ff07 219px,#0f2 226px,#00ff39 234px,#00ff4a 243px,#0f5 253px,#00ff5f 282px,#00ff58 350px,#00ff5f 356px,#00ff83 369px,#00ff89 376px)"></i><i style="background:linear-gradient(90deg,#89ff00 5px,#93ff00 13px,#c4ff00 28px,#fffe00 63px,#ffcd00 93px,#ffa600 111px,#ff5900 142px,#ff4d00 149px,#ff4900 155px,#ff5200 163px,#ff6c00 170px,#ffa100 178px,#fff500 188px,#fefd00 189px,#f3ff00 190px,#7eff00 199px,#38ff00 205px,#0cff00 210px,#01ff08 213px,#00ff29 220px,#00ff42 228px,#0f5 237px,#00ff61 248px,#00ff69 278px,#00ff5d 351px,#00ff64 357px,#00ff84 369px,#00ff8a 376px)"></i><i style="background:linear-gradient(90deg,#8f0 4px,#90ff00 12px,#b6ff00 23px,#c2ff00 28px,#fffd00 65px,#ffc900 96px,#ffa200 113px,#f50 142px,#ff4800 149px,#ff4300 155px,#ff4c00 163px,#ff6a00 170px,#ffa300 178px,#fffc00 188px,#f5ff00 189px,#67ff00 199px,#25ff00 204px,#06ff02 207px,#00ff0e 209px,#00ff36 215px,#00ff4d 221px,#00ff63 231px,#00ff70 242px,#00ff75 254px,#00ff75 270px,#00ff61 351px,#0f6 357px,#00ff85 369px,#00ff8b 377px)"></i><i style="background:linear-gradient(90deg,#87ff00 4px,#8fff00 12px,#beff00 27px,#fffe00 66px,#ffc600 98px,#ff9d00 115px,#ff4f00 143px,#ff4100 150px,#ff3c00 156px,#ff4600 163px,#ff6700 170px,#ff9c00 177px,#fff800 187px,#fbff00 188px,#18ff00 203px,#02ff05 205px,#00ff0f 206px,#00ff41 211px,#00ff56 214px,#00ff65 217px,#00ff75 223px,#00ff81 233px,#00ff85 259px,#00ff65 352px,#00ff6a 358px,#00ff87 369px,#00ff8c 377px)"></i><i style="background:linear-gradient(90deg,#86ff00 4px,#8eff00 12px,#baff00 26px,#dcff00 48px,#ff0 67px,#ffe300 84px,#ffc300 100px,#ff9800 117px,#ff4500 145px,#ff3900 151px,#ff3500 156px,#ff3e00 162px,#ff5e00 169px,#ff9c00 177px,#fffc00 187px,#f4ff00 188px,#12ff00 202px,#04ff02 203px,#00ff0d 204px,#00ff4e 209px,#00ff7c 214px,#00ff91 218px,#00ff9a 223px,#00ff9a 247px,#00ff7b 308px,#00ff69 352px,#00ff6f 359px,#00ff89 370px,#00ff8e 377px)"></i><i style="background:linear-gradient(90deg,#85ff00 3px,#8cff00 11px,#b6ff00 25px,#d9ff00 48px,#fffe00 69px,#ffe000 87px,#ffbe00 103px,#ff9300 119px,#ff3e00 146px,#ff3100 152px,#ff2e00 156px,#ff3700 162px,#ff5a00 169px,#ff9b00 177px,#feff00 187px,#10ff00 201px,#02ff03 202px,#00ff12 203px,#00ff5d 208px,#00ff81 211px,#00ffa0 214px,#00ffb9 218px,#00ffc1 222px,#00ff8b 293px,#00ff6e 351px,#00ff70 358px,#00ff89 369px,#00ff8f 378px)"></i><i style="background:linear-gradient(90deg,#85ff00 3px,#8bff00 11px,#b2ff00 24px,#d7ff00 49px,#fffd00 71px,#ffde00 89px,#fb0 105px,#ff8d00 121px,#ff3900 146px,#ff2b00 152px,#ff2700 156px,#ff3100 162px,#ff5600 169px,#ff9000 176px,#fff700 186px,#fbff00 187px,#12ff00 200px,#02ff02 201px,#00ff13 202px,#00ff47 205px,#00ff76 208px,#00ffc1 214px,#00ffe0 218px,#00ffea 222px,#00ffc6 245px,#00ffab 267px,#00ff95 292px,#00ff82 320px,#00ff72 356px,#00ff75 360px,#00ff8c 370px,#00ff90 378px)"></i><i style="background:linear-gradient(90deg,#84ff00 3px,#8aff00 11px,#afff00 24px,#d5ff00 50px,#fffe00 72px,#fd0 91px,#ffb500 108px,#f80 123px,#ff2e00 148px,#ff2000 156px,#ff2b00 162px,#ff3900 165px,#ff5200 169px,#ff8d00 176px,#fff700 186px,#f9ff00 187px,#d6ff00 189px,#03ff00 200px,#00ff6d 206px,#00ffc6 212px,#00fff4 216px,#00f8ff 219px,#00f1ff 223px,#00f9ff 228px,#00fef8 233px,#00ffd1 251px,#00ffb0 274px,#00ff8b 316px,#00ff75 356px,#00ff7a 361px,#00ff8d 370px,#00ff91 378px)"></i><i style="background:linear-gradient(90deg,#83ff00 3px,#89ff00 11px,#abff00 23px,#d2ff00 50px,#fffe00 74px,#ffdb00 93px,#ffb200 110px,#ff7e00 126px,#ff2900 148px,#ff1e00 152px,#ff1900 156px,#ff2500 162px,#ff3200 165px,#ff4c00 169px,#f80 176px,#fff700 186px,#f9ff00 187px,#d4ff00 189px,#0aff00 199px,#00ff0a 200px,#00ff6f 205px,#00ffa2 208px,#0fe 213px,#00fefa 214px,#00f9ff 215px,#00e1ff 219px,#00d7ff 223px,#00daff 226px,#00f9ff 238px,#00fff9 243px,#00ffd7 258px,#00ffb8 277px,#00ff9f 300px,#00ff8a 326px,#00ff79 357px,#00ff7d 361px,#00ff8f 370px,#00ff92 378px)"></i><i class=a style="background:linear-gradient(90deg,#82ff00 2px,#8f0 11px,#a9ff00 23px,#d1ff00 51px,#fffe00 75px,#ffdb00 94px,#ffb100 111px,#ff7b00 127px,#f20 149px,#ff1400 156px,#ff1700 159px,#ff2400 163px,#ff3900 167px,#ff4f00 170px,#ff8400 176px,#fff700 186px,#f9ff00 187px,#bfff00 190px,#0f0 199px,#00ff7e 205px,#00ffd3 210px,#00feff 213px,#00e4ff 216px,#00d1ff 219px,#00c8ff 221px,#00c4ff 224px,#00c9ff 227px,#0ef 239px,#0ff 247px,#00ffdf 260px,#00ffc2 276px,#0fa 295px,#00ff95 317px,#00ff7c 357px,#00ff80 362px,#00ff90 370px,#00ff93 379px)"></i><i class=a style="background:linear-gradient(90deg,#82ff00 2px,#8f0 11px,#a6ff00 22px,#cfff00 51px,#fffe00 76px,#ffda00 95px,#ffaf00 112px,#ff7c00 127px,#ff2000 149px,#ff1400 153px,#f10 156px,#ff1400 159px,#ff2000 163px,#ff3600 167px,#ff4b00 170px,#ff8100 176px,#fff600 186px,#faff00 187px,#beff00 190px,#0fff00 198px,#00ff06 199px,#0f8 205px,#00fffe 212px,#00dbff 216px,#00c6ff 219px,#00baff 222px,#00b8ff 224px,#00bcff 227px,#00e8ff 240px,#00fffe 251px,#00ffde 264px,#00ffc4 279px,#00ffab 298px,#00ff97 319px,#00ff7e 357px,#00ff81 362px,#00ff91 371px,#00ff93 379px)"></i><i class=a style="background:linear-gradient(90deg,#82ff00 2px,#87ff00 11px,#a4ff00 22px,#cdff00 51px,#fffe00 77px,#ffda00 96px,#ffad00 113px,#ff7900 128px,#ff1d00 149px,#f10 153px,#ff0e00 156px,#ff1900 162px,#ff2600 165px,#ff4000 169px,#ff7d00 176px,#ffe900 185px,#09ff00 198px,#00ff0c 199px,#00ff7d 204px,#00ffa4 206px,#00fffa 211px,#00f7ff 212px,#00d2ff 216px,#00bcff 219px,#00afff 222px,#00abff 224px,#00b2ff 228px,#00e5ff 242px,#0ff 254px,#00ffdf 267px,#00ffc4 282px,#00ffac 301px,#00ff98 321px,#00ff80 357px,#00ff83 362px,#00ff92 371px,#00ff94 379px)"></i><i class=a style="background:linear-gradient(90deg,#81ff00 2px,#87ff00 11px,#a1ff00 21px,#cbff00 51px,#fffe00 78px,#ffd900 97px,#ffac00 114px,#ff7600 129px,#ff1b00 149px,#ff0b00 155px,#ff0b00 158px,#f10 161px,#ff2e00 167px,#ff4300 170px,#ff6f00 175px,#ffa900 180px,#00ff71 203px,#00ffc0 207px,#00fff5 210px,#00faff 211px,#00d1ff 215px,#00b2ff 219px,#00a4ff 222px,#009fff 225px,#00a6ff 228px,#00dcff 242px,#0ff 257px,#00ffe2 269px,#00ffc5 285px,#00ffac 304px,#00ff9a 323px,#00ff82 358px,#00ff84 362px,#00ff93 371px,#00ff94 379px)"></i><i class=a style="background:linear-gradient(90deg,#81ff00 2px,#86ff00 11px,#a0ff00 21px,#c9ff00 51px,#fffd00 79px,#ffd800 98px,#fa0 115px,#ff7200 130px,#ff1900 149px,#ff0800 155px,#ff0800 158px,#ff0e00 161px,#ff2400 166px,#ff4700 171px,#ff8000 177px,#00ffa5 205px,#00feff 210px,#00d2ff 214px,#00afff 218px,#09f 222px,#0094ff 225px,#009dff 229px,#00beff 236px,#00d7ff 243px,#0ff 260px,#00ffe2 272px,#00ffc7 287px,#00ffaf 305px,#00ff9c 324px,#00ff84 358px,#00ff86 362px,#00ff93 371px,#00ff95 379px)"></i><i class=a style="background:linear-gradient(90deg,#81ff00 2px,#86ff00 11px,#9eff00 21px,#c7ff00 51px,#e2ff00 66px,#ff0 79px,#ffd800 99px,#ffa800 116px,#ff7300 130px,#ff1300 150px,#ff0500 155px,#ff0800 160px,#ff1a00 165px,#ff3a00 170px,#ff6700 175px,#00ffd6 207px,#00fffb 209px,#00f5ff 210px,#00c9ff 214px,#00a6ff 218px,#008eff 222px,#08f 225px,#0091ff 229px,#00bdff 238px,#00d6ff 245px,#0ef 254px,#00fffe 263px,#00ffe0 276px,#00ffca 288px,#00ffb2 305px,#00ff9e 325px,#00ff86 359px,#00ff94 371px,#00ff95 379px)"></i><i class=a style="background:linear-gradient(90deg,#80ff00 2px,#85ff00 11px,#9dff00 21px,#c5ff00 51px,#e2ff00 67px,#ff0 80px,#ffd700 100px,#ffa700 117px,#ff7000 131px,#f10 150px,#ff0200 155px,#ff0300 159px,#f10 164px,#ff2d00 169px,#ff4e00 173px,#00f9ff 209px,#00c0ff 214px,#009dff 218px,#0084ff 222px,#007dff 225px,#0086ff 229px,#00b4ff 238px,#00cfff 245px,#00e8ff 254px,#0ff 265px,#00ffcd 289px,#00ffb6 305px,#00ffa1 325px,#0f8 359px,#00ff95 371px,#00ff96 379px)"></i><i class=a style="background:linear-gradient(90deg,#80ff00 2px,#85ff00 11px,#9bff00 21px,#c3ff00 51px,#e0ff00 67px,#ff0 81px,#ffd400 102px,#ffa500 118px,#ff7600 130px,#ff1300 149px,#ff0100 154px,#f00 159px,#ff0600 162px,#ff1c00 167px,#ff3700 171px,#00d7ff 211px,#00adff 215px,#0085ff 220px,#0076ff 223px,#0072ff 226px,#007aff 229px,#00abff 238px,#00cbff 246px,#00e9ff 257px,#00fffe 268px,#00ffe0 281px,#00ffcb 293px,#00ffa2 326px,#00ff8a 359px,#00ff95 371px,#00ff96 379px)"></i><i class=a style="background:linear-gradient(90deg,#80ff00 2px,#84ff00 11px,#9aff00 21px,#c1ff00 51px,#dfff00 68px,#ff0 82px,#ffd300 103px,#ffa300 119px,#ff6e00 132px,#ff1200 149px,#ff0200 153px,#ff0006 157px,#f00 161px,#ff1200 166px,#ff2a00 170px,#00c2ff 212px,#009aff 216px,#007bff 220px,#006cff 223px,#0068ff 226px,#006fff 229px,#00a7ff 239px,#00c7ff 247px,#00e7ff 258px,#0ff 270px,#00ffe3 282px,#00ffcb 296px,#00ffa5 326px,#00ff8c 359px,#00ff96 371px,#00ff97 379px)"></i><i class=a style="background:linear-gradient(90deg,#7fff00 2px,#84ff00 11px,#98ff00 21px,#bfff00 51px,#df0 68px,#ff0 83px,#ffd300 104px,#ffa200 120px,#ff6b00 133px,#f10 149px,#f00 153px,#ff000a 158px,#ff0002 162px,#ff1800 168px,#00adff 213px,#08f 217px,#0071ff 220px,#0062ff 223px,#005dff 226px,#0065ff 229px,#009fff 239px,#00c4ff 248px,#00e4ff 259px,#00feff 272px,#00ffe4 284px,#00ffcb 298px,#00ffa8 326px,#00ff8d 360px,#00ff97 371px,#00ff97 379px)"></i><i class=a style="background:linear-gradient(90deg,#7fff00 2px,#83ff00 11px,#97ff00 21px,#bdff00 51px,#dcff00 69px,#ff0 84px,#ffd300 105px,#ffa000 121px,#ff6700 134px,#ff0200 152px,#ff000d 158px,#ff000a 161px,#ff0100 164px,#ff1300 168px,#009aff 214px,#0076ff 218px,#0061ff 221px,#0058ff 223px,#0053ff 226px,#005aff 229px,#0096ff 239px,#00beff 248px,#00e2ff 260px,#00feff 274px,#00ffce 299px,#00ffab 326px,#00ff8f 360px,#00ff97 371px,#00ff98 379px)"></i><i class=a style="background:linear-gradient(90deg,#7eff00 2px,#83ff00 11px,#95ff00 21px,#b9ff00 50px,#d8ff00 68px,#fffe00 86px,#ffd200 106px,#ff9f00 122px,#ff6400 135px,#ff0100 152px,#ff000c 155px,#f01 158px,#ff000e 161px,#f00 165px,#ff0900 167px,#0086ff 215px,#0064ff 219px,#0052ff 222px,#004bff 224px,#004aff 227px,#05f 230px,#09f 241px,#0bf 249px,#00dfff 261px,#00fffe 277px,#00ffd0 300px,#00ffad 327px,#00ff91 360px,#00ff98 379px)"></i><i class=a style="background:linear-gradient(90deg,#7eff00 2px,#82ff00 11px,#92ff00 20px,#b8ff00 51px,#d7ff00 69px,#fffe00 87px,#ffd200 107px,#ff9d00 123px,#ff6100 136px,#f00 152px,#ff000d 155px,#ff0014 159px,#ff000e 163px,#f00 166px,#007cff 215px,#0059ff 219px,#0047ff 222px,#0041ff 224px,#0040ff 227px,#004bff 230px,#0091ff 241px,#00b9ff 250px,#00e0ff 263px,#00fffe 279px,#00ffd2 301px,#00ffae 328px,#00ff93 360px,#0f9 379px)"></i><i class=a style="background:linear-gradient(90deg,#7eff00 2px,#81ff00 11px,#b6ff00 51px,#d7ff00 70px,#fffe00 88px,#ffd100 108px,#ffa000 123px,#ff6300 136px,#ff0f00 149px,#ff0001 152px,#ff000f 155px,#ff0016 159px,#ff0012 163px,#ff0007 166px,#0067ff 216px,#004eff 219px,#003dff 222px,#0037ff 224px,#0037ff 227px,#0042ff 230px,#0072ff 237px,#0090ff 242px,#00b7ff 251px,#00deff 264px,#00fffe 281px,#00ffd4 302px,#00ffb0 329px,#00ff95 360px,#0f9 379px)"></i><i class=a style="background:linear-gradient(90deg,#7dff00 2px,#81ff00 11px,#b4ff00 51px,#d6ff00 71px,#fffe00 89px,#ffd100 109px,#ff9f00 124px,#ff6500 136px,#ff1000 149px,#ff0001 152px,#ff000f 155px,#ff0017 158px,#ff0019 161px,#f01 165px,#005aff 216px,#0042ff 219px,#0032ff 222px,#002cff 224px,#002dff 227px,#0039ff 230px,#0089ff 242px,#00b2ff 251px,#00dcff 265px,#00fffe 283px,#00ffd6 303px,#00ffb2 330px,#00ff97 360px,#00ff9a 379px)"></i><i class=a style="background:linear-gradient(90deg,#7dff00 2px,#81ff00 12px,#b3ff00 52px,#d3ff00 71px,#ff0 90px,#ffd100 110px,#ff9d00 125px,#ff6200 137px,#f00 152px,#ff000f 155px,#ff0018 158px,#ff001b 162px,#ff0017 165px,#0043ff 217px,#002eff 220px,#0026ff 222px,#02f 224px,#0025ff 227px,#0031ff 230px,#0082ff 242px,#00b0ff 252px,#0df 267px,#00feff 284px,#00ffd8 304px,#00ffb3 331px,#0f9 360px,#00ff9a 379px)"></i><i class=a style="background:linear-gradient(90deg,#7cff00 2px,#80ff00 12px,#b1ff00 52px,#d2ff00 72px,#ff0 91px,#ffd100 111px,#ffa000 125px,#ff6500 137px,#ff0100 152px,#ff0018 158px,#ff001b 165px,#0034ff 217px,#02f 220px,#001bff 222px,#0019ff 224px,#001cff 227px,#0029ff 230px,#007cff 242px,#00abff 252px,#00c3ff 259px,#00dbff 268px,#00feff 286px,#00ffd9 305px,#00ffb5 332px,#00ff9b 360px,#00ff9b 379px)"></i><i class=a style="background:linear-gradient(90deg,#7cff00 2px,#80ff00 12px,#afff00 52px,#ceff00 71px,#fffe00 93px,#ffd100 112px,#ff9f00 126px,#ff6200 138px,#ff0200 152px,#ff0017 158px,#ff001f 164px,#0024ff 217px,#0015ff 220px,#01f 222px,#0014ff 227px,#0029ff 231px,#0076ff 242px,#0af 253px,#00c2ff 260px,#0df 270px,#00feff 288px,#00ffdb 306px,#00ffb7 332px,#00ff9d 360px,#00ff9b 379px)"></i><i class=a style="background:linear-gradient(90deg,#7bff00 1px,#80ff00 13px,#acff00 52px,#cfff00 73px,#fffe00 94px,#ffd100 113px,#ff9f00 127px,#f60 138px,#ff1600 149px,#ff0001 153px,#ff0015 158px,#ff001e 164px,#0015ff 217px,#0008ff 222px,#000eff 227px,#02f 231px,#0070ff 242px,#0090ff 248px,#00a9ff 254px,#00dbff 271px,#0ff 290px,#0fd 307px,#00ffba 332px,#00ff9e 361px,#00ff9b 379px)"></i><i class=a style="background:linear-gradient(90deg,#7bff00 1px,#80ff00 14px,#abff00 53px,#ceff00 74px,#ff0 95px,#ffd400 113px,#ffa200 127px,#ff6a00 138px,#ff1900 149px,#ff0100 153px,#ff0012 158px,#ff001c 164px,#0006ff 217px,#00f 223px,#000bff 228px,#001cff 231px,#0051ff 238px,#0076ff 244px,#09f 251px,#00b3ff 258px,#0df 273px,#00feff 291px,#00ffd8 312px,#00ffb9 335px,#00ffa0 361px,#00ff9c 379px)"></i><i class=a style="background:linear-gradient(90deg,#7bff00 1px,#80ff00 16px,#a9ff00 53px,#cf0 75px,#fffe00 97px,#ffd400 114px,#ffa200 128px,#ff6d00 138px,#ff1500 150px,#f00 154px,#ff000f 158px,#ff0019 164px,#0000fb 217px,#0000fe 226px,#0006ff 228px,#0017ff 231px,#004cff 238px,#0071ff 244px,#0094ff 251px,#00afff 258px,#00daff 273px,#00fbff 291px,#00fffd 294px,#00ffd1 318px,#00ffb6 339px,#00ffa0 363px,#00ff9c 380px)"></i><i class=a style="background:linear-gradient(90deg,#7aff00 1px,#82ff00 20px,#a7ff00 54px,#cdff00 77px,#fffe00 98px,#ffd500 115px,#ffa100 129px,#ff6c00 139px,#ff1900 150px,#ff0300 154px,#f00 155px,#ff000c 159px,#f01 164px,#0000f5 217px,#0000f7 223px,#0001ff 228px,#0012ff 231px,#0047ff 238px,#0067ff 243px,#0082ff 248px,#00a0ff 255px,#00d4ff 272px,#00fbff 292px,#0ff 295px,#00ffd9 315px,#00ffb9 339px,#00ffa2 363px,#00ff9d 380px)"></i><i class=a style="background:linear-gradient(90deg,#7aff00 1px,#81ff00 21px,#a6ff00 55px,#ceff00 79px,#ff0 99px,#ffd800 115px,#ffa600 129px,#ff7000 139px,#ff1d00 150px,#ff0800 154px,#ff0001 157px,#ff0007 164px,#0000f1 217px,#0000f5 224px,#0002ff 229px,#0063ff 243px,#009cff 255px,#00ceff 271px,#00f8ff 292px,#00fffe 297px,#00ffd8 317px,#00ffb9 341px,#00ffa1 366px,#00ff9d 380px)"></i><i class=a style="background:linear-gradient(90deg,#79ff00 1px,#7fff00 21px,#a4ff00 55px,#cf0 80px,#fffe00 101px,#ffd600 117px,#ffa600 130px,#ff7500 139px,#f20 150px,#ff0c00 154px,#ff0300 158px,#ff0400 164px,#0000ed 217px,#0000f3 224px,#0000fe 229px,#000aff 231px,#0045ff 239px,#0064ff 244px,#009cff 256px,#00ceff 272px,#00f8ff 293px,#0ff 298px,#00ffdb 317px,#0fb 341px,#00ffa2 367px,#00ff9e 380px)"></i><i class=a style="background:linear-gradient(90deg,#79ff00 2px,#7eff00 21px,#a2ff00 56px,#cbff00 81px,#ff0 102px,#ffd700 118px,#fa0 130px,#ff7a00 139px,#ff2800 150px,#ff1200 154px,#ff0a00 159px,#f10 164px,#0000ec 217px,#0000f3 225px,#0001ff 230px,#005bff 243px,#007bff 249px,#09f 256px,#00cbff 272px,#00f5ff 293px,#00fffe 300px,#00ffdc 318px,#00ffbc 342px,#00ffa1 369px,#00ff9e 380px)"></i><i class=a style="background:linear-gradient(90deg,#78ff00 2px,#7cff00 21px,#a1ff00 57px,#c7ff00 81px,#fffe00 104px,#ffd400 120px,#ffab00 131px,#ff7a00 140px,#ff2e00 150px,#ff1900 154px,#ff1200 159px,#ff2000 164px,#0000eb 217px,#0000f2 225px,#0000fe 230px,#005dff 244px,#09f 257px,#00cbff 273px,#00f5ff 294px,#0ff 301px,#00ffdf 318px,#00ffbf 341px,#00ffa2 369px,#00ff9e 379px)"></i><i class=a style="background:linear-gradient(90deg,#78ff00 2px,#7aff00 21px,#9eff00 57px,#c8ff00 83px,#feff00 105px,#ffd900 120px,#ffb000 131px,#ff8000 140px,#ff3500 150px,#ff2000 154px,#ff1c00 159px,#ff2100 161px,#ff3000 164px,#0000ea 217px,#0000f1 225px,#0003ff 231px,#005aff 244px,#0096ff 257px,#00c8ff 273px,#00f3ff 294px,#00fffe 303px,#00ffe3 317px,#00ffc6 337px,#00ffa3 369px,#00ff9f 379px)"></i><i class=a style="background:linear-gradient(90deg,#78ff00 2px,#78ff00 21px,#9dff00 58px,#c4ff00 83px,#e3ff00 97px,#fffe00 107px,#ffda00 121px,#ffb100 132px,#ff8600 140px,#ff3c00 150px,#ff2800 154px,#ff2400 157px,#ff2700 159px,#ff2e00 161px,#ff4100 164px,#0000ec 216px,#0000ef 224px,#0001ff 231px,#005cff 245px,#0097ff 258px,#00c8ff 274px,#00f2ff 295px,#0ff 304px,#00ffe6 317px,#00ffca 336px,#00ffa3 369px,#00ff9f 379px)"></i><i class=a style="background:linear-gradient(90deg,#7f0 2px,#76ff00 21px,#9aff00 58px,#c2ff00 84px,#e4ff00 99px,#feff00 108px,#ffdc00 122px,#ffb200 133px,#ff8d00 140px,#ff3e00 151px,#ff3100 154px,#ff2e00 157px,#f30 159px,#ff3b00 161px,#ff5000 164px,#00e 216px,#0000ef 224px,#00f 231px,#0059ff 245px,#007cff 252px,#0098ff 259px,#00c8ff 275px,#00f2ff 296px,#00fffd 306px,#00ffca 337px,#00ffa3 370px,#00ffa0 379px)"></i><i class=a style="background:linear-gradient(90deg,#7f0 2px,#74ff00 21px,#98ff00 59px,#c2ff00 86px,#e1ff00 100px,#ff0 110px,#fd0 123px,#ffb800 133px,#ff9400 140px,#ff4600 151px,#ff3a00 154px,#ff3900 157px,#ff3e00 159px,#ff4f00 162px,#ff6900 165px,#0000f0 216px,#0000ef 224px,#00f 231px,#0057ff 245px,#0079ff 252px,#09f 260px,#00c8ff 276px,#00f1ff 297px,#00fffe 307px,#00ffce 336px,#00ffa4 370px,#00ffa0 379px)"></i><i class=a style="background:linear-gradient(90deg,#76ff00 2px,#72ff00 21px,#97ff00 60px,#c2ff00 88px,#dfff00 101px,#ff0 112px,#ffdf00 124px,#ffba00 134px,#ff8f00 142px,#ff5000 151px,#f40 154px,#ff4300 157px,#ff4a00 159px,#ff5c00 162px,#ff7600 165px,#0000f5 215px,#0000ef 223px,#0000f3 227px,#00f 231px,#005aff 246px,#0096ff 260px,#00c5ff 276px,#00f1ff 298px,#0ff 308px,#00ffd0 336px,#00ffb3 361px,#00ffa4 370px,#00ffa1 379px)"></i><i class=a style="background:linear-gradient(90deg,#76ff00 2px,#70ff00 21px,#94ff00 60px,#c0ff00 89px,#dcff00 102px,#fdff00 113px,#ffe400 124px,#ffc000 134px,#ff9700 142px,#ff5900 151px,#ff4e00 154px,#ff4e00 157px,#f50 159px,#ff6800 162px,#ff8c00 166px,#0000f8 215px,#0000f0 223px,#0000f4 227px,#00f 231px,#005dff 247px,#0097ff 261px,#00c8ff 278px,#00f0ff 299px,#0ff 309px,#00ffd4 335px,#00ffb5 361px,#00ffa5 370px,#00ffa1 379px)"></i><i class=a style="background:linear-gradient(90deg,#75ff00 2px,#6fff00 22px,#92ff00 61px,#acff00 80px,#c4ff00 93px,#dcff00 104px,#fdff00 115px,#ffe600 125px,#ffc200 135px,#ffa000 142px,#ff6300 151px,#ff5800 154px,#ff5900 157px,#ff6000 159px,#ff7300 162px,#ff9700 166px,#0000fe 214px,#0000f3 219px,#0000f1 223px,#0000f5 227px,#00f 231px,#005bff 247px,#0095ff 261px,#00c6ff 278px,#00f0ff 300px,#00fffe 311px,#00ffdb 331px,#00ffb8 360px,#00ffa5 370px,#00ffa1 379px)"></i><i class=a style="background:linear-gradient(90deg,#75ff00 2px,#6dff00 22px,#90ff00 62px,#a8ff00 80px,#c3ff00 95px,#daff00 105px,#fffe00 118px,#ffe600 127px,#ffc500 136px,#ffa200 143px,#ff6e00 151px,#ff6100 155px,#f60 158px,#ff7000 160px,#ff8600 163px,#ffab00 167px,#0008ff 213px,#0000fe 215px,#0000f2 223px,#0000f6 227px,#0001ff 231px,#005eff 248px,#009aff 263px,#00cdff 282px,#00f4ff 304px,#00fffe 312px,#00ffdb 333px,#00ffb8 361px,#00ffa6 370px,#00ffa2 379px)"></i><i class=a style="background:linear-gradient(90deg,#74ff00 2px,#74ff00 10px,#6bff00 22px,#8eff00 63px,#a4ff00 80px,#c0ff00 96px,#dcff00 108px,#fffe00 120px,#ffe500 129px,#ffcd00 136px,#ffab00 143px,#ff7400 152px,#ff6c00 155px,#ff7100 158px,#ff8100 161px,#f90 164px,#ffc000 168px,#000dff 213px,#0000fe 216px,#0000f4 223px,#0002ff 231px,#005cff 248px,#009bff 264px,#00cdff 283px,#00f6ff 306px,#0ff 313px,#00ffdb 334px,#00ffb9 361px,#00ffa7 370px,#00ffa2 379px)"></i><i class=a style="background:linear-gradient(90deg,#74ff00 2px,#73ff00 10px,#69ff00 22px,#8cff00 64px,#a2ff00 81px,#bfff00 98px,#deff00 111px,#ff0 122px,#ffd000 137px,#ffb400 143px,#ff7f00 152px,#f70 155px,#ff7b00 158px,#ff8b00 161px,#ffac00 165px,#ffd600 169px,#001eff 211px,#0000fe 217px,#0000f6 223px,#0000fe 230px,#0064ff 250px,#009fff 266px,#00d4ff 287px,#00fbff 311px,#0ff 314px,#0fd 334px,#00ffbc 360px,#00ffa7 370px,#00ffa2 379px)"></i><i class=a style="background:linear-gradient(90deg,#73ff00 2px,#72ff00 10px,#68ff00 18px,#67ff00 23px,#8bff00 66px,#9fff00 82px,#bcff00 99px,#dfff00 114px,#ff0 124px,#ffe600 133px,#ffd000 139px,#ffb800 144px,#ff8a00 152px,#ff8200 155px,#ff8600 158px,#ff9600 161px,#ffc000 166px,#ffec00 170px,#002bff 210px,#01f 214px,#00f 218px,#0000f7 224px,#00f 230px,#0067ff 251px,#00a0ff 267px,#00d6ff 289px,#00feff 314px,#00ffdc 336px,#00ffbe 360px,#00ffa8 370px,#00ffa3 379px)"></i><i class=a style="background:linear-gradient(90deg,#73ff00 2px,#72ff00 10px,#67ff00 18px,#65ff00 23px,#7aff00 52px,#8eff00 71px,#a3ff00 87px,#bdff00 102px,#dbff00 115px,#feff00 126px,#ffd800 139px,#ffbd00 145px,#ff9600 152px,#ff8e00 156px,#ff9500 159px,#ffa700 162px,#ffc900 166px,#fff600 170px,#faff00 171px,#e7ff00 172px,#0041ff 208px,#001bff 213px,#0003ff 218px,#0000f9 224px,#0000fe 229px,#000fff 233px,#0061ff 250px,#008fff 262px,#00baff 277px,#00e1ff 296px,#00fffe 317px,#00ffe0 335px,#00ffbf 360px,#00ffa8 370px,#00ffa3 379px)"></i><i class=a style="background:linear-gradient(90deg,#72ff00 2px,#71ff00 10px,#64ff00 19px,#63ff00 24px,#78ff00 53px,#8cff00 73px,#a6ff00 92px,#bf0 104px,#d9ff00 117px,#fffe00 129px,#fd0 140px,#ffa300 152px,#f90 156px,#ffa000 159px,#ffb100 162px,#ffd300 166px,#ff0 170px,#b3ff00 174px,#0058ff 206px,#0026ff 212px,#000bff 217px,#00f 220px,#0000fb 224px,#0000fe 228px,#000cff 232px,#0064ff 251px,#0090ff 263px,#0bf 278px,#00e1ff 297px,#00fffe 318px,#00ffe0 336px,#00ffc1 360px,#00ffa9 370px,#00ffa4 379px)"></i><i class=a style="background:linear-gradient(90deg,#72ff00 2px,#70ff00 10px,#62ff00 19px,#61ff00 24px,#75ff00 53px,#8aff00 74px,#a3ff00 93px,#b9ff00 106px,#d7ff00 119px,#fffe00 132px,#ffe200 141px,#ffaf00 152px,#ffa500 156px,#ffab00 159px,#fb0 162px,#ffd300 165px,#fffc00 169px,#f2ff00 170px,#82ff00 176px,#0070ff 204px,#0032ff 211px,#0013ff 216px,#0001ff 221px,#0000fe 227px,#000eff 232px,#0063ff 251px,#0092ff 264px,#0bf 279px,#00e1ff 298px,#00fffe 319px,#00ffe2 336px,#00ffc2 360px,#00ffa9 370px,#00ffa4 379px)"></i><i class=a style="background:linear-gradient(90deg,#71ff00 2px,#70ff00 10px,#61ff00 19px,#5fff00 24px,#72ff00 53px,#86ff00 74px,#9eff00 93px,#b9ff00 109px,#d7ff00 122px,#feff00 134px,#ffe700 142px,#ffb800 153px,#ffb100 156px,#ffb300 158px,#ffbf00 161px,#ffd400 164px,#fffa00 168px,#f6ff00 169px,#d3ff00 171px,#78ff00 176px,#4eff00 178px,#0098ff 201px,#0060ff 206px,#0036ff 211px,#02f 214px,#0007ff 220px,#0001ff 226px,#0010ff 232px,#0062ff 251px,#0094ff 265px,#00bcff 280px,#00e0ff 298px,#0ff 320px,#00ffe2 337px,#00ffc5 359px,#0fa 370px,#00ffa4 379px)"></i><i class=a style="background:linear-gradient(90deg,#71ff00 2px,#6fff00 10px,#60ff00 19px,#5dff00 24px,#6fff00 52px,#83ff00 75px,#9cff00 95px,#b9ff00 112px,#d7ff00 125px,#feff00 137px,#ffea00 144px,#ffc200 154px,#ffbe00 157px,#ffc900 161px,#ffde00 164px,#fff900 167px,#f9ff00 168px,#81ff00 175px,#5aff00 177px,#00ff02 181px,#00ff2d 183px,#00d4ff 196px,#006eff 205px,#03f 212px,#001bff 216px,#000eff 219px,#0003ff 225px,#0006ff 228px,#0012ff 232px,#06f 252px,#09f 267px,#00bfff 282px,#00e2ff 300px,#0ff 321px,#00ffc7 359px,#0fa 370px,#00ffa5 379px)"></i><i class=a style="background:linear-gradient(90deg,#70ff00 2px,#6eff00 10px,#5eff00 19px,#5bff00 24px,#76ff00 64px,#90ff00 90px,#adff00 109px,#d1ff00 126px,#feff00 140px,#ffcf00 154px,#ffcb00 157px,#ffd400 161px,#fff800 166px,#fbff00 167px,#9aff00 173px,#50ff00 177px,#0dff00 180px,#00ff09 181px,#00ff85 187px,#00fff4 192px,#00f9ff 193px,#007bff 204px,#003eff 211px,#0015ff 218px,#0009ff 222px,#0006ff 225px,#0014ff 232px,#0069ff 253px,#009aff 268px,#00c0ff 283px,#00e2ff 301px,#0ff 322px,#00ffc8 359px,#00ffab 370px,#00ffa5 379px)"></i><i style="background:linear-gradient(90deg,#6fff00 2px,#6cff00 11px,#5bff00 20px,#58ff00 24px,#7f0 72px,#8fff00 95px,#adff00 115px,#cfff00 131px,#f5ff00 143px,#fff700 148px,#ffe400 154px,#ffdf00 157px,#ffe600 161px,#fff700 164px,#f4ff00 166px,#baff00 170px,#56ff00 176px,#03ff01 180px,#00ff8b 187px,#00fff5 192px,#00f9ff 193px,#0080ff 204px,#0043ff 211px,#001aff 218px,#000eff 222px,#000bff 225px,#0018ff 232px,#006fff 255px,#009eff 270px,#00c2ff 285px,#00e3ff 303px,#00fffe 324px,#0fc 358px,#00ffab 370px,#00ffa5 379px)"></i><i style="background:linear-gradient(90deg,#6eff00 3px,#6bff00 11px,#56ff00 21px,#54ff00 26px,#6f0 58px,#7aff00 83px,#90ff00 104px,#acff00 123px,#cdff00 139px,#f6fe00 152px,#fef900 159px,#f4ff00 163px,#cf0 167px,#64ff00 174px,#07ff00 179px,#00ff0d 180px,#00fff6 192px,#00f9ff 193px,#0084ff 204px,#0049ff 211px,#0020ff 218px,#0014ff 222px,#0012ff 225px,#0016ff 229px,#0020ff 233px,#0072ff 256px,#009eff 271px,#00c4ff 287px,#00e2ff 304px,#00fffe 326px,#00ffd0 357px,#00ffac 370px,#00ffa6 378px)"></i><i style="background:linear-gradient(90deg,#6dff00 3px,#6aff00 11px,#53ff00 21px,#50ff00 26px,#6aff00 74px,#80ff00 100px,#9aff00 122px,#b3ff00 138px,#d9ff00 155px,#df0 159px,#d0ff00 163px,#aeff00 167px,#5eff00 173px,#09ff00 178px,#00ff09 179px,#00fff9 192px,#00f8ff 193px,#08f 204px,#004dff 211px,#0026ff 218px,#001dff 221px,#0018ff 225px,#001cff 229px,#0028ff 234px,#007aff 259px,#00a4ff 274px,#00c7ff 290px,#00e4ff 307px,#00fffe 328px,#00ffd3 357px,#00ffad 370px,#00ffa7 378px)"></i><i style="background:linear-gradient(90deg,#6cff00 3px,#67ff00 12px,#4dff00 24px,#51ff00 41px,#7f0 102px,#b3ff00 159px,#af0 163px,#8eff00 167px,#53ff00 172px,#08ff00 177px,#00ff09 178px,#00fffd 192px,#0093ff 203px,#0051ff 211px,#002cff 218px,#0023ff 221px,#001fff 225px,#02f 229px,#002fff 235px,#0080ff 261px,#00a7ff 276px,#00c9ff 292px,#00e5ff 309px,#00fffe 330px,#00ffd5 357px,#00ffae 370px,#00ffa8 378px)"></i><i style="background:linear-gradient(90deg,#6bff00 4px,#67ff00 11px,#4cff00 22px,#48ff00 29px,#5bff00 74px,#83ff00 137px,#8bff00 158px,#85ff00 162px,#72ff00 166px,#4fff00 170px,#1f0 175px,#04ff02 176px,#00ff0d 177px,#00fdff 192px,#009cff 202px,#0054ff 211px,#0031ff 218px,#0026ff 225px,#002aff 230px,#0036ff 236px,#0085ff 263px,#00acff 279px,#00cbff 294px,#00e6ff 311px,#00fffe 332px,#00ffdb 355px,#00ffb1 369px,#00ffa9 377px)"></i><i style="background:linear-gradient(90deg,#6aff00 4px,#64ff00 12px,#48ff00 23px,#43ff00 29px,#6aff00 124px,#6aff00 150px,#64ff00 158px,#56ff00 164px,#3fff00 168px,#10ff00 173px,#00ff08 175px,#00ff15 176px,#00fff9 191px,#00f8ff 192px,#009cff 202px,#0057ff 211px,#0037ff 218px,#002cff 225px,#0030ff 230px,#003dff 237px,#008aff 265px,#00b1ff 282px,#00e7ff 313px,#00fffd 334px,#00ffdf 354px,#00ffd3 359px,#00ffb1 369px,#00ffa9 377px)"></i><i style="background:linear-gradient(90deg,#69ff00 4px,#63ff00 12px,#46ff00 23px,#3fff00 29px,#59ff00 113px,#56ff00 140px,#4cff00 151px,#3bff00 160px,#2aff00 165px,#0bff00 170px,#00ff0e 173px,#00ff2f 176px,#00ff72 181px,#00fff4 190px,#00fcff 191px,#009aff 202px,#005aff 211px,#003cff 218px,#03f 226px,#0043ff 238px,#0093ff 269px,#00beff 289px,#00e2ff 311px,#00fffe 335px,#00ffe2 354px,#00ffb2 369px,#0fa 377px)"></i><i style="background:linear-gradient(90deg,#67ff00 5px,#62ff00 12px,#41ff00 24px,#3bff00 30px,#4bff00 103px,#47ff00 132px,#34ff00 149px,#2f0 157px,#09ff00 164px,#00ff0c 168px,#00ff38 174px,#00ff6f 179px,#00fdfe 190px,#0098ff 202px,#005cff 211px,#0042ff 218px,#0039ff 226px,#003dff 232px,#0049ff 239px,#0097ff 271px,#00c0ff 291px,#00e3ff 313px,#0ff 336px,#00ffe3 354px,#00ffb5 368px,#00ffab 376px)"></i><i style="background:linear-gradient(90deg,#6f0 5px,#60ff00 12px,#3fff00 24px,#37ff00 30px,#40ff00 91px,#3eff00 118px,#2eff00 139px,#1eff00 148px,#08ff00 156px,#00ff0f 162px,#00ff28 167px,#00ff49 172px,#00ff80 178px,#00fdff 189px,#009dff 201px,#0064ff 210px,#0049ff 217px,#003fff 226px,#0043ff 232px,#004fff 240px,#009bff 273px,#00c4ff 294px,#00e4ff 315px,#0ff 338px,#00ffe7 353px,#00ffb6 368px,#00ffac 376px)"></i><i style="background:linear-gradient(90deg,#65ff00 5px,#5dff00 13px,#3dff00 24px,#3f0 30px,#37ff00 85px,#3f0 112px,#23ff00 133px,#05ff00 149px,#00ff08 153px,#00ff1e 159px,#00ff36 164px,#00ff59 170px,#00ff89 176px,#00fefb 187px,#00f9ff 188px,#00a0ff 200px,#006bff 209px,#004fff 217px,#0045ff 226px,#0049ff 233px,#05f 241px,#00a1ff 276px,#00caff 298px,#00e8ff 319px,#00fffe 340px,#00ffe6 354px,#00ffb6 368px,#00ffad 376px)"></i><i style="background:linear-gradient(90deg,#63ff00 6px,#5cff00 13px,#39ff00 25px,#2fff00 31px,#2fff00 82px,#2bff00 105px,#1dff00 125px,#03ff01 142px,#00ff05 145px,#00ff1a 152px,#00ff36 159px,#00ff50 164px,#00ff8b 173px,#00ffbf 179px,#00fffa 185px,#00fbff 186px,#00a3ff 199px,#0072ff 208px,#0054ff 217px,#004aff 226px,#004eff 233px,#005bff 242px,#00a5ff 278px,#00caff 299px,#00e8ff 320px,#0ff 341px,#00ffea 353px,#00ffb6 368px,#00ffae 375px)"></i><i style="background:linear-gradient(90deg,#62ff00 6px,#59ff00 14px,#35ff00 26px,#29ff00 33px,#23ff00 99px,#17ff00 118px,#01ff03 136px,#00ff24 149px,#00ff56 161px,#00ff93 171px,#00fdff 184px,#00a0ff 199px,#0074ff 208px,#0059ff 217px,#0050ff 227px,#05f 235px,#0060ff 243px,#00a8ff 280px,#0cf 301px,#00e9ff 322px,#00fffe 343px,#00ffea 353px,#00ffb9 367px,#00ffae 375px)"></i><i style="background:linear-gradient(90deg,#60ff00 7px,#58ff00 14px,#30ff00 27px,#26ff00 33px,#1cff00 93px,#12ff00 110px,#00ff03 128px,#00ff26 144px,#00ff57 157px,#0f9 169px,#00ffbd 174px,#00fff7 181px,#00f9ff 183px,#00a3ff 198px,#007aff 207px,#005eff 217px,#05f 227px,#0059ff 235px,#0065ff 244px,#00aeff 283px,#00d1ff 305px,#0ff 344px,#00ffeb 353px,#00ffbc 366px,#00ffaf 374px)"></i><i style="background:linear-gradient(90deg,#5fff00 8px,#54ff00 15px,#2fff00 27px,#20ff00 35px,#17ff00 85px,#03ff00 114px,#00ff08 123px,#00ff28 139px,#00ff57 153px,#0f7 160px,#00ff9e 167px,#00ffc7 173px,#00fffc 180px,#00fbff 181px,#00a6ff 197px,#007cff 207px,#0063ff 217px,#005aff 228px,#005eff 236px,#0069ff 245px,#00b1ff 285px,#00d1ff 306px,#0ff 345px,#00ffeb 353px,#00ffbc 366px,#00ffb0 374px)"></i><i style="background:linear-gradient(90deg,#5dff00 8px,#53ff00 15px,#2bff00 28px,#1cff00 36px,#12ff00 79px,#02ff00 105px,#00ff0f 120px,#00ff2e 136px,#00ff5e 151px,#00ff7d 158px,#00ffa8 166px,#00fdff 179px,#0af 196px,#0082ff 206px,#0067ff 217px,#005fff 228px,#006dff 245px,#00c9ff 301px,#00feff 345px,#0fe 352px,#00ffbc 366px,#00ffb1 373px)"></i><i style="background:linear-gradient(90deg,#5bff00 9px,#52ff00 15px,#27ff00 29px,#17ff00 37px,#0dff00 74px,#02ff00 94px,#00ff06 104px,#00ff17 118px,#00ff39 135px,#00ff64 149px,#00ff9b 161px,#00ffc8 169px,#00fffd 177px,#00fbff 178px,#00a9ff 196px,#0085ff 206px,#006cff 217px,#0064ff 229px,#0072ff 247px,#00c9ff 301px,#0ff 346px,#00ffeb 353px,#00ffbf 365px,#00ffb3 372px)"></i><i style="background:linear-gradient(90deg,#5aff00 9px,#4fff00 16px,#2f0 30px,#12ff00 39px,#00ff02 88px,#00ff0f 104px,#00ff20 117px,#00ff42 134px,#00ff6e 148px,#00ff9e 159px,#00ffce 168px,#00fff9 175px,#00faff 177px,#00adff 195px,#0087ff 206px,#0070ff 217px,#0068ff 229px,#07f 248px,#00c9ff 302px,#00feff 346px,#0fe 352px,#00ffc2 364px,#00ffb3 372px)"></i><i style="background:linear-gradient(90deg,#57ff00 10px,#4eff00 16px,#1eff00 31px,#0dff00 40px,#00ff02 77px,#00ff12 98px,#00ff27 115px,#00ff49 132px,#00ff72 146px,#00ffa4 158px,#00fdff 175px,#00adff 195px,#008dff 205px,#0074ff 217px,#006dff 229px,#0071ff 239px,#007cff 250px,#00c9ff 302px,#00feff 346px,#00ffc4 363px,#00ffb5 371px)"></i><i style="background:linear-gradient(90deg,#5f0 11px,#48ff00 18px,#15ff00 34px,#07ff00 42px,#00ff01 63px,#00ff09 78px,#00ff18 97px,#00ff2d 113px,#00ff4e 130px,#00ff7a 145px,#0fa 157px,#00fffd 173px,#00fcff 174px,#00b1ff 194px,#008fff 205px,#0078ff 217px,#0071ff 230px,#0075ff 240px,#0080ff 251px,#00c7ff 301px,#00feff 346px,#00ffc4 363px,#00ffb6 370px)"></i><i style="background:linear-gradient(90deg,#54ff00 11px,#47ff00 18px,#1f0 35px,#02ff00 44px,#00ff12 82px,#00ff32 111px,#00ff53 128px,#00ff7e 143px,#00ffab 155px,#00fffe 172px,#00fbff 173px,#00b1ff 194px,#0092ff 205px,#007bff 218px,#0075ff 230px,#0079ff 241px,#0086ff 254px,#00c7ff 301px,#00f2ff 338px,#0ff 346px,#00ffc4 363px,#00ffb7 370px)"></i><i style="background:linear-gradient(90deg,#52ff00 12px,#47ff00 18px,#16ff00 33px,#01ff00 42px,#00ff19 83px,#00ff39 110px,#00ff5a 127px,#00ff84 142px,#00ffb4 155px,#00feff 171px,#00b8ff 192px,#0096ff 204px,#0080ff 217px,#0079ff 230px,#007dff 242px,#0089ff 255px,#00cbff 304px,#00f0ff 337px,#0ff 346px,#00ffc6 362px,#00ffb8 369px)"></i><i style="background:linear-gradient(90deg,#4fff00 13px,#43ff00 19px,#18ff00 32px,#0f0 41px,#00ff09 48px,#00ff23 86px,#00ff41 110px,#00ff63 127px,#00ff8a 141px,#00ffb8 154px,#00feff 170px,#00b8ff 192px,#09f 204px,#0083ff 218px,#007cff 231px,#0081ff 243px,#008eff 257px,#00edff 335px,#00feff 345px,#00ffc9 361px,#00ffba 368px)"></i><i style="background:linear-gradient(90deg,#4cff00 14px,#40ff00 20px,#01ff00 40px,#00ff0e 49px,#00ff2b 88px,#00ff47 109px,#0f6 125px,#00ff8c 139px,#00ffbc 153px,#00feff 169px,#0bf 191px,#009bff 204px,#0086ff 218px,#0080ff 232px,#0085ff 245px,#0093ff 260px,#00ecff 334px,#0ff 345px,#00ffcb 360px,#00ffbc 367px)"></i><i style="background:linear-gradient(90deg,#4bff00 14px,#3cff00 21px,#0f0 40px,#00ff12 49px,#00ff2c 83px,#00ff4c 108px,#00ff6c 124px,#00ff90 138px,#00ffbf 152px,#00feff 168px,#00beff 190px,#009dff 204px,#008aff 218px,#0083ff 232px,#08f 245px,#0096ff 261px,#00e9ff 332px,#0ff 345px,#00ffca 360px,#00ffbc 367px)"></i><i style="background:linear-gradient(90deg,#48ff00 15px,#3cff00 21px,#13ff00 33px,#00ff01 40px,#00ff18 51px,#0f3 84px,#00ff53 108px,#00ff73 124px,#00ff95 137px,#00ffc2 151px,#00feff 167px,#00c1ff 189px,#00a0ff 204px,#008cff 219px,#0087ff 232px,#008bff 246px,#009aff 263px,#00e7ff 330px,#00feff 344px,#0fc 359px,#00ffbe 366px)"></i><i style="background:linear-gradient(90deg,#46ff00 16px,#35ff00 23px,#0f0 39px,#00ff1c 52px,#00ff3a 85px,#00ff5a 108px,#0f7 123px,#0f9 136px,#00ffc5 150px,#00feff 166px,#00c4ff 188px,#00a2ff 204px,#008fff 219px,#008aff 233px,#008fff 248px,#00a0ff 267px,#00e5ff 329px,#0ff 344px,#00ffcf 358px,#00ffbf 365px)"></i><i style="background:linear-gradient(90deg,#43ff00 17px,#32ff00 24px,#0f0 39px,#0f2 54px,#00ff3f 85px,#00ff60 108px,#00ff7e 123px,#00ff9f 136px,#00ffc7 149px,#00feff 165px,#00c9ff 186px,#00a6ff 203px,#0092ff 219px,#008dff 233px,#0092ff 248px,#00a4ff 269px,#00e2ff 326px,#00feff 343px,#00ffd0 357px,#00ffc1 364px)"></i><i style="background:linear-gradient(90deg,#40ff00 18px,#32ff00 24px,#00ff01 39px,#00ff27 55px,#00ff46 86px,#0f6 108px,#00ff84 123px,#00ffa2 135px,#0fc 149px,#00feff 164px,#00c9ff 186px,#00a8ff 203px,#0095ff 219px,#0090ff 234px,#0096ff 251px,#00a9ff 273px,#00e1ff 325px,#0ff 343px,#00ffcf 357px,#00ffc2 363px)"></i><i style="background:linear-gradient(90deg,#3dff00 19px,#2fff00 25px,#00ff01 39px,#00ff2c 57px,#00ff52 91px,#00ff7d 117px,#00ffb5 140px,#0ff 163px,#00caff 186px,#00acff 202px,#0098ff 219px,#0093ff 234px,#09f 251px,#00adff 275px,#00dfff 323px,#00feff 342px,#00ffd1 356px,#00ffc4 362px)"></i><i style="background:linear-gradient(90deg,#3bff00 20px,#2cff00 26px,#00ff01 39px,#00ff31 58px,#00ff59 93px,#00ff82 117px,#00ffb7 139px,#0ff 162px,#00caff 186px,#00acff 203px,#009aff 220px,#0096ff 235px,#009dff 254px,#00b2ff 279px,#00deff 322px,#0ff 342px,#00ffd6 354px,#00ffc5 361px)"></i><i style="background:linear-gradient(90deg,#38ff00 21px,#29ff00 27px,#00ff01 39px,#00ff23 51px,#00ff37 60px,#00ff61 95px,#00ff8c 119px,#00ffbc 139px,#00fffe 161px,#00cbff 186px,#00aeff 203px,#009dff 220px,#09f 235px,#00a0ff 256px,#00b7ff 283px,#00dcff 320px,#00feff 341px,#00ffd4 354px,#00ffc7 360px)"></i><i style="background:linear-gradient(90deg,#35ff00 22px,#25ff00 28px,#00ff01 39px,#00ff23 51px,#00ff3c 62px,#00ff68 96px,#00ff93 120px,#00ffbe 138px,#00feff 161px,#00cbff 186px,#00b0ff 203px,#00a0ff 220px,#009bff 236px,#00a3ff 258px,#00bdff 289px,#00dbff 319px,#00feff 340px,#00ffd6 353px,#00ffc8 359px)"></i><i style="background:linear-gradient(90deg,#32ff00 23px,#2f0 29px,#00ff01 39px,#00ff26 52px,#00ff42 64px,#00ff6c 96px,#00ff97 120px,#00ffbf 137px,#00feff 160px,#00ceff 185px,#00b3ff 202px,#00a2ff 220px,#009eff 236px,#00a9ff 263px,#0cf 304px,#00dfff 321px,#0ff 340px,#00ffda 351px,#00ffca 358px)"></i><i style="background:linear-gradient(90deg,#2fff00 24px,#1fff00 30px,#0f0 39px,#00ff27 52px,#00ff48 66px,#00ff74 98px,#00ff9e 121px,#00ffc6 138px,#0ff 159px,#00ceff 185px,#00b5ff 202px,#00a5ff 220px,#00a0ff 236px,#0af 263px,#0cf 303px,#0df 319px,#0ff 339px,#00ffd9 351px,#00ffcb 357px)"></i><i style="background:linear-gradient(90deg,#29ff00 26px,#00ff03 40px,#00ff27 52px,#00ff4a 66px,#00ff7a 99px,#00ff9a 117px,#00ffc4 136px,#0ff 158px,#00cfff 185px,#00b7ff 202px,#00a7ff 220px,#00a3ff 237px,#00adff 264px,#00cbff 302px,#00deff 319px,#00feff 338px,#00ffcf 355px)"></i><i style="background:linear-gradient(90deg,#26ff00 27px,#00ff02 40px,#00ff27 52px,#00ff4f 68px,#00ff9e 117px,#00ffc7 136px,#00feff 158px,#00d1ff 184px,#00b9ff 202px,#0af 220px,#00a5ff 237px,#00aeff 263px,#00cbff 301px,#0df 317px,#00feff 337px,#00ffd0 354px)"></i><i style="background:linear-gradient(90deg,#23ff00 28px,#00ff01 40px,#00ff2a 53px,#00ff57 71px,#00ffa2 117px,#00ffcb 136px,#0ff 157px,#00d3ff 183px,#00baff 202px,#00abff 221px,#00a7ff 238px,#00afff 263px,#00caff 299px,#0df 316px,#00feff 336px,#00ffd2 353px)"></i><i style="background:linear-gradient(90deg,#1eff00 30px,#0f0 40px,#00ff2c 54px,#00ff5c 73px,#00ffa5 117px,#00feff 157px,#00d4ff 183px,#00bcff 202px,#00aeff 221px,#0af 238px,#00b1ff 263px,#00caff 298px,#00dfff 316px,#00fdff 335px,#00ffd3 352px)"></i><i style="background:linear-gradient(90deg,#1bff00 31px,#00ff03 41px,#00ff2f 55px,#00ff64 76px,#00ffad 119px,#0ff 156px,#00d5ff 183px,#00beff 202px,#00afff 222px,#00acff 239px,#00b3ff 263px,#00c9ff 296px,#00dfff 315px,#00fdff 334px,#00ffd6 350px)"></i><i style="background:linear-gradient(90deg,#18ff00 32px,#00ff02 41px,#00ff31 56px,#00ff69 78px,#00ffb6 122px,#0ff 155px,#00d6ff 183px,#00bfff 202px,#00b2ff 221px,#00aeff 239px,#00b4ff 263px,#00c9ff 294px,#00dfff 314px,#00fdff 333px,#00ffd7 349px)"></i><i style="background:linear-gradient(90deg,#13ff00 34px,#00ff01 41px,#00ff36 58px,#00ff6e 80px,#00ffba 123px,#0ff 155px,#00d8ff 182px,#00c1ff 202px,#00b4ff 221px,#00b0ff 239px,#00b6ff 263px,#00c8ff 292px,#00e0ff 313px,#00fdff 332px,#00ffda 347px)"></i><i style="background:linear-gradient(90deg,#10ff00 35px,#00ff03 42px,#00ff39 59px,#00ff75 83px,#00ffbd 123px,#00fffe 154px,#00d7ff 183px,#00c2ff 202px,#00b6ff 222px,#00b2ff 240px,#00b8ff 264px,#00c8ff 290px,#00e0ff 312px,#00feff 331px,#00ffdb 346px)"></i><i style="background:linear-gradient(90deg,#0bff00 37px,#00ff02 42px,#00ff40 62px,#00ff81 88px,#00ffbf 123px,#0ff 154px,#00d9ff 182px,#00c5ff 201px,#00b8ff 221px,#00b4ff 240px,#00b9ff 263px,#00c8ff 288px,#00dfff 310px,#00feff 330px,#0fd 344px)"></i><i style="background:linear-gradient(90deg,#09ff00 38px,#00ff02 42px,#00ff45 64px,#00ff85 90px,#00feff 154px,#00daff 182px,#00c6ff 201px,#00baff 221px,#00b6ff 241px,#0bf 264px,#00c9ff 287px,#00e1ff 310px,#00feff 329px,#00ffde 343px)"></i><i style="background:linear-gradient(90deg,#04ff00 40px,#00ff07 44px,#00ff4f 68px,#0f8 91px,#0ff 153px,#00dbff 182px,#00c8ff 201px,#00bcff 221px,#00b8ff 241px,#00bdff 264px,#00c9ff 285px,#00e1ff 308px,#0ff 328px,#00ffe1 341px)"></i><i style="background:linear-gradient(90deg,#00ff01 42px,#00ff4c 67px,#00ff87 91px,#00ffa7 106px,#0ff 153px,#00dbff 182px,#00c9ff 201px,#00bdff 222px,#00baff 242px,#00beff 264px,#00c9ff 283px,#00e2ff 307px,#00fdff 326px,#00ffe3 339px)"></i><i style="background:linear-gradient(90deg,#00ff06 44px,#00ff56 71px,#00ff95 97px,#00feff 153px,#00cbff 201px,#00bfff 222px,#0bf 242px,#00c0ff 264px,#00caff 282px,#00e2ff 306px,#00feff 325px,#00ffe5 337px)"></i><i style="background:linear-gradient(90deg,#00ff09 45px,#00ff57 72px,#00ff96 98px,#0fb 115px,#0ff 152px,#0cf 201px,#00c1ff 222px,#00bdff 242px,#00c1ff 263px,#00cdff 282px,#00e3ff 305px,#00feff 324px,#00ffe5 336px)"></i><i style="background:linear-gradient(90deg,#00ff0d 47px,#00ff59 73px,#00ff96 98px,#00ffc1 118px,#0ff 152px,#00cdff 201px,#00c2ff 222px,#00bfff 242px,#00c3ff 262px,#00ceff 281px,#00e3ff 303px,#00fdff 322px,#00ffe7 334px)"></i><i style="background:linear-gradient(90deg,#00ff12 49px,#00ff5a 74px,#00ff92 97px,#00ffc9 122px,#0ff 152px,#00cfff 201px,#00c4ff 222px,#00c1ff 242px,#00c5ff 262px,#00d1ff 282px,#00e5ff 303px,#00feff 321px,#00ffe9 332px)"></i><i style="background:linear-gradient(90deg,#00ff17 51px,#00ff5e 76px,#00ff91 97px,#0fc 124px,#0ff 152px,#00d0ff 201px,#00c6ff 221px,#00c2ff 241px,#00c7ff 261px,#00d3ff 281px,#00e5ff 301px,#00feff 319px,#00ffeb 330px)"></i><i style="background:linear-gradient(90deg,#00ff1b 53px,#00ff62 78px,#00ff90 97px,#00ffcf 126px,#0ff 152px,#00d3ff 199px,#00c8ff 219px,#00c4ff 239px,#00c8ff 259px,#00d4ff 279px,#00e7ff 300px,#00feff 318px,#00ffed 328px)"></i><i style="background:linear-gradient(90deg,#00ff20 55px,#00ff65 80px,#00ff91 98px,#00ffce 126px,#0ff 152px,#00d4ff 198px,#00caff 218px,#00c6ff 238px,#00caff 258px,#00d6ff 279px,#00e7ff 298px,#00feff 316px,#0fe 326px)"></i><i style="background:linear-gradient(90deg,#00ff24 57px,#0f6 81px,#00ff95 100px,#00ffd7 131px,#0ff 153px,#00d6ff 198px,#0cf 218px,#00c9ff 237px,#0cf 257px,#00d7ff 277px,#00e7ff 296px,#00feff 314px,#00fff0 324px)"></i><i style="background:linear-gradient(90deg,#00ff2b 60px,#00ff6c 84px,#00ff98 102px,#00ffd9 133px,#0ff 154px,#00d7ff 198px,#00cbff 236px,#00cfff 256px,#00d9ff 276px,#00e8ff 294px,#00feff 313px,#00fff2 321px)"></i><i style="background:linear-gradient(90deg,#00ff2f 62px,#00ff74 88px,#00ff9a 104px,#00ffd7 133px,#0ff 155px,#00d9ff 199px,#00ceff 236px,#00d1ff 256px,#00dbff 275px,#00e8ff 292px,#00feff 311px,#00fff3 319px)"></i><i style="background:linear-gradient(90deg,#0f3 64px,#00ff9d 106px,#00ffd5 133px,#0ff 156px,#00dbff 199px,#00d0ff 235px,#00dcff 273px,#00feff 309px,#00fff4 317px)"></i><i style="background:linear-gradient(90deg,#00ff39 67px,#00ff7d 93px,#00ffa6 111px,#00ffdb 137px,#0ff 158px,#0df 199px,#00d3ff 235px,#00dcff 269px,#00e9ff 287px,#00feff 307px,#00fff6 314px)"></i><i style="background:linear-gradient(90deg,#00ff3d 69px,#00ffa6 112px,#00ffd7 136px,#00fffe 159px,#00dfff 200px,#00d5ff 235px,#00deff 268px,#00feff 305px,#00fff6 312px)"></i><i style="background:linear-gradient(90deg,#00ff43 72px,#00ffab 115px,#00ffda 139px,#0ff 161px,#00e1ff 200px,#00d8ff 235px,#00e0ff 267px,#00feff 303px,#00fff8 309px)"></i><i style="background:linear-gradient(90deg,#00ff47 74px,#00ffb1 119px,#0fd 142px,#0ff 163px,#00e3ff 201px,#00daff 235px,#00e2ff 266px,#00feff 301px,#00fff9 307px)"></i><i style="background:linear-gradient(90deg,#00ff4c 77px,#00ffb4 122px,#00ffde 144px,#0ff 165px,#00e5ff 201px,#0df 234px,#00e4ff 264px,#00feff 298px,#00fffa 304px)"></i><i style="background:linear-gradient(90deg,#00ff52 80px,#00ffb6 124px,#00ffde 146px,#00fffe 167px,#00e7ff 202px,#00e0ff 234px,#00e6ff 263px,#00feff 296px,#00fffb 301px)"></i><i style="background:linear-gradient(90deg,#00ff57 83px,#00ffb9 127px,#00ffdf 148px,#00fffe 169px,#00eaff 202px,#00e2ff 233px,#00e8ff 261px,#00feff 293px,#00fffb 298px)"></i><i style="background:linear-gradient(90deg,#00ff5c 86px,#00ffbe 131px,#00ffe2 152px,#00fffe 172px,#00ebff 204px,#00e5ff 233px,#00eaff 259px,#00fffc 295px)"></i><i style="background:linear-gradient(90deg,#00ff63 90px,#00ffc2 135px,#00ffe4 155px,#00fffe 175px,#00edff 205px,#00e8ff 233px,#00ecff 257px,#00fffd 291px)"></i><i style="background:linear-gradient(90deg,#00ff68 93px,#00ffc6 139px,#00ffe6 159px,#00fffe 178px,#00f0ff 205px,#00eaff 232px,#0ef 254px,#00fffd 288px)"></i><i style="background:linear-gradient(90deg,#00ff6e 97px,#00ffca 143px,#00ffe7 162px,#00fffe 181px,#00f2ff 207px,#00edff 232px,#00f1ff 253px,#00fffe 284px)"></i><i style="background:linear-gradient(90deg,#00ff75 101px,#00ffcb 146px,#00ffe8 165px,#00fffe 184px,#00f4ff 209px,#00f0ff 231px,#00f3ff 251px,#00fffe 280px)"></i><i style="background:linear-gradient(90deg,#00ff7b 105px,#00ffce 150px,#00ffe9 169px,#00fffd 188px,#00f3ff 231px,#00fffe 276px)"></i><i style="background:linear-gradient(90deg,#00ff83 110px,#00ffd2 155px,#00ffeb 174px,#00fffe 193px,#00f6ff 230px,#00fffe 272px)"></i><i style="background:linear-gradient(90deg,#0f8 114px,#00ffd1 157px,#00fff9 193px,#00feff 203px,#00f9ff 230px,#00fffe 267px)"></i><i style="background:linear-gradient(90deg,#00ff8f 119px,#00ffd1 160px,#00fff5 193px,#00feff 212px,#00fffd 262px)"></i><i style="background:linear-gradient(90deg,#00ff97 125px,#00ffd0 162px,#00fff1 193px,#00fffe 220px,#00fffc 256px)"></i><i style="background:linear-gradient(90deg,#00ff9f 131px,#00ffd1 166px,#00ffec 193px,#00fffa 220px,#00fffa 250px)"></i><i style="background:linear-gradient(90deg,#00ffa8 138px,#00ffd0 168px,#00ffe7 192px,#00fff4 215px,#00fff8 243px)"></i><i style="background:linear-gradient(90deg,#00ffb2 147px,#00ffcf 170px,#00ffe3 192px,#00fff0 213px,#00fff5 234px)"></i><i style="background:linear-gradient(90deg,#00ffbd 157px,#00ffdf 191px,#00fff0 224px)"></i><i class=a style="background:linear-gradient(90deg,#00ffcd 173px,#00ffe8 208px)"></i></div>
<div class="m" style="left:1270.60px;top:1152.10px;width:383px;height:364px;clip-path:path(evenodd,'M196 359.5L178 359.1L162 357.5L141.5 353.5L124.5 348.5L106.9 341.5L91.3 333.5L75.6 323.5L62.8 313.5L50 301.4L41 291L31 277.2L22 261.6L15 245.5L9.9 229.5L6.1 211.5L4.2 192.5L4.3 168.5L6 152.8L9 137.9L13.9 121.5L21 104.5L28 91.5L38 76.8L50 62.6L64 49.5L79.9 37.5L94.7 28.5L109.2 21.5L127.4 14.5L145.8 9.5L164 6.2L186 4.5L204 4.8L221 6.5L241.5 10.5L258.5 15.5L276.1 22.5L291.7 30.5L307.4 40.5L320.2 50.5L333 62.6L342 73L352 86.8L361 102.4L368 118.6L373.1 134.5L376.9 152.5L378.8 171.5L378.7 195.5L377 211.2L374 226.1L369.1 242.5L362 259.5L355 272.5L345 287.2L332.9 301.5L319 314.5L303.1 326.5L288.3 335.5L273.8 342.5L255.6 349.5L237.2 354.5L218 357.9ZM195 261.5L214 259.9L230 255.7L240 251.9L249 247.4L259 241.2L267.7 234.5L275.8 226.5L281.5 219.5L286.7 211.5L290.3 204.5L293.3 196.5L294.8 189.5L295.4 181.5L294.7 173.5L292.8 165.5L289.5 157.5L285.6 150.5L279.3 141.5L274 135.5L266.6 128.5L259 122.7L250 117.1L240 112.1L232 109L215 104.2L206 103.1L193 102.5L182 102.7L172 103.7L164 105.1L154 108L144 111.7L137 115L128 120.2L120 125.7L109.1 135.5L103.8 141.5L98.7 148.5L94.6 155.5L91.4 162.5L89.4 168.5L88.1 175.5L87.6 183.5L88.3 190.5L89.6 196.5L92.6 204.5L96.2 211.5L101.4 219.5L107.1 226.5L114 233.4L120 238.4L128 244L143 251.9L154 256.1L164 258.9L176 260.8Z')"><i style="background:linear-gradient(90deg,#94ff00 171px,#5eff00 212px)"></i><i style="background:linear-gradient(90deg,#a6ff00 156px,#7dff00 191px,#47ff00 227px)"></i><i style="background:linear-gradient(90deg,#b1ff00 146px,#82ff00 188px,#38ff00 237px)"></i><i style="background:linear-gradient(90deg,#b9ff00 138px,#a3ff00 162px,#86ff00 187px,#2cff00 245px)"></i><i style="background:linear-gradient(90deg,#c0ff00 131px,#a7ff00 160px,#8bff00 185px,#63ff00 212px,#20ff00 252px)"></i><i style="background:linear-gradient(90deg,#c6ff00 125px,#acff00 158px,#8dff00 185px,#64ff00 213px,#16ff00 258px)"></i><i style="background:linear-gradient(90deg,#cbff00 119px,#b1ff00 155px,#90ff00 185px,#62ff00 215px,#0bff00 264px)"></i><i style="background:linear-gradient(90deg,#cfff00 115px,#b6ff00 153px,#92ff00 185px,#5eff00 219px,#03ff00 269px)"></i><i style="background:linear-gradient(90deg,#d3ff00 110px,#beff00 147px,#9eff00 178px,#6dff00 211px,#01ff00 270px,#00ff05 273px)"></i><i style="background:linear-gradient(90deg,#d7ff00 105px,#c4ff00 143px,#a5ff00 174px,#65ff00 217px,#01ff00 270px,#00ff0e 278px)"></i><i style="background:linear-gradient(90deg,#daff00 101px,#caff00 139px,#adff00 170px,#68ff00 216px,#01ff00 270px,#00ff15 282px)"></i><i style="background:linear-gradient(90deg,#df0 97px,#d1ff00 134px,#b4ff00 166px,#95ff00 189px,#6bff00 215px,#0f0 271px,#00ff1d 286px)"></i><i style="background:linear-gradient(90deg,#e0ff00 93px,#d6ff00 131px,#bf0 162px,#9dff00 185px,#72ff00 212px,#3fff00 240px,#01ff00 271px,#0f2 289px)"></i><i style="background:linear-gradient(90deg,#e2ff00 90px,#daff00 128px,#c1ff00 159px,#a3ff00 182px,#7cff00 207px,#42ff00 239px,#02ff00 271px,#00ff2a 293px)"></i><i style="background:linear-gradient(90deg,#e4ff00 87px,#dfff00 125px,#c7ff00 156px,#af0 179px,#80ff00 205px,#43ff00 239px,#01ff00 272px,#00ff30 296px)"></i><i style="background:linear-gradient(90deg,#e7ff00 83px,#e4ff00 121px,#cdff00 153px,#b2ff00 174px,#8aff00 200px,#47ff00 237px,#02ff00 272px,#00ff36 299px)"></i><i style="background:linear-gradient(90deg,#e8ff00 80px,#e7ff00 122px,#dbff00 140px,#c8ff00 159px,#a7ff00 183px,#7dff00 208px,#0f0 273px,#00ff3e 303px)"></i><i style="background:linear-gradient(90deg,#eaff00 78px,#ebff00 119px,#e1ff00 137px,#cdff00 157px,#b2ff00 177px,#8aff00 201px,#01ff00 273px,#00ff42 305px)"></i><i style="background:linear-gradient(90deg,#ebff00 75px,#f1ff00 102px,#efff00 117px,#e4ff00 136px,#d1ff00 155px,#b6ff00 175px,#8dff00 200px,#02ff00 273px,#00ff48 308px)"></i><i style="background:linear-gradient(90deg,#edff00 72px,#f4ff00 100px,#f3ff00 115px,#e8ff00 134px,#d6ff00 153px,#b9ff00 174px,#93ff00 197px,#0f0 274px,#00ff4e 311px)"></i><i style="background:linear-gradient(90deg,#ef0 69px,#f7ff00 97px,#f7ff00 112px,#edff00 131px,#dbff00 150px,#c1ff00 170px,#9bff00 193px,#0f0 274px,#0f5 314px)"></i><i style="background:linear-gradient(90deg,#efff00 67px,#faff00 94px,#faff00 110px,#f1ff00 129px,#dfff00 149px,#c5ff00 168px,#a1ff00 190px,#0f0 274px,#00ff59 316px)"></i><i style="background:linear-gradient(90deg,#f0ff00 64px,#fcff00 92px,#feff00 107px,#f6ff00 126px,#e4ff00 146px,#cdff00 164px,#acff00 184px,#02ff00 273px,#00ff60 319px)"></i><i style="background:linear-gradient(90deg,#f1ff00 62px,#feff00 88px,#fffe00 112px,#f8ff00 127px,#e9ff00 144px,#d1ff00 162px,#b0ff00 182px,#01ff00 273px,#00ff64 321px)"></i><i style="background:linear-gradient(90deg,#f2ff00 60px,#fffe00 84px,#fffb00 101px,#fffe00 119px,#ecff00 143px,#d4ff00 161px,#b2ff00 181px,#0f0 273px,#00ff68 323px)"></i><i style="background:linear-gradient(90deg,#f3ff00 58px,#fffe00 78px,#fff900 100px,#ff0 124px,#f0ff00 141px,#d8ff00 159px,#b8ff00 178px,#01ff00 272px,#00ff27 293px,#00ff6d 325px)"></i><i style="background:linear-gradient(90deg,#f3ff00 56px,#fffe00 74px,#fff700 100px,#ff0 128px,#f4ff00 140px,#c3ff00 172px,#0f0 272px,#00ff30 297px,#00ff72 327px)"></i><i style="background:linear-gradient(90deg,#f4ff00 54px,#fffe00 70px,#fff500 100px,#fffe00 130px,#f8ff00 138px,#caff00 168px,#61ff00 220px,#01ff00 271px,#00ff36 300px,#00ff76 329px)"></i><i style="background:linear-gradient(90deg,#f4ff00 52px,#fffe00 67px,#fff300 99px,#fcff00 136px,#d2ff00 163px,#5eff00 220px,#0f0 271px,#00ff3b 302px,#00ff7b 331px)"></i><i style="background:linear-gradient(90deg,#f5ff00 50px,#fffe00 64px,#fff400 81px,#fff100 99px,#fff400 117px,#feff00 136px,#d9ff00 159px,#57ff00 221px,#0f0 270px,#00ff3e 303px,#00ff80 333px)"></i><i style="background:linear-gradient(90deg,#f5ff00 48px,#fffe00 61px,#fff300 79px,#ffef00 98px,#fff300 117px,#feff00 137px,#cfff00 164px,#4eff00 223px,#0f0 269px,#00ff42 305px,#00ff85 335px)"></i><i style="background:linear-gradient(90deg,#f5ff00 46px,#fffe00 58px,#fff100 78px,#ffed00 98px,#fff200 118px,#ff0 137px,#d1ff00 162px,#4bff00 222px,#01ff00 267px,#00ff47 307px,#00ff89 337px)"></i><i style="background:linear-gradient(90deg,#f5ff00 44px,#fffe00 56px,#fff000 76px,#ffeb00 97px,#fff000 117px,#feff00 138px,#d0ff00 162px,#45ff00 222px,#25ff00 240px,#01ff00 265px,#00ff48 307px,#00ff8e 339px)"></i><i style="background:linear-gradient(90deg,#f5ff00 42px,#fffe00 54px,#fe0 75px,#ffe900 97px,#fe0 117px,#ff0 138px,#d7ff00 158px,#41ff00 221px,#1fff00 240px,#02ff00 261px,#00ff15 277px,#00ff45 305px,#00ff92 341px)"></i><i style="background:linear-gradient(90deg,#f5ff00 40px,#ff0 51px,#ffed00 73px,#ffe700 96px,#ffec00 116px,#ff0 138px,#d8ff00 157px,#3eff00 219px,#1aff00 239px,#01ff00 257px,#00ff18 277px,#00ff3a 298px,#00ff60 318px,#00ff97 343px)"></i><i style="background:linear-gradient(90deg,#f5ff00 39px,#ff0 49px,#ffec00 72px,#ffe500 96px,#ffec00 117px,#ff0 138px,#d9ff00 156px,#3aff00 218px,#17ff00 236px,#02ff00 251px,#00ff1c 277px,#00ff35 294px,#00ff60 318px,#00ff9a 344px)"></i><i style="background:linear-gradient(90deg,#f5ff00 37px,#fffe00 48px,#ffea00 71px,#ffe300 94px,#ffea00 116px,#ff0 138px,#d7ff00 156px,#31ff00 219px,#02ff00 245px,#00ff24 280px,#00ff36 293px,#00ff63 319px,#00ff9f 346px)"></i><i style="background:linear-gradient(90deg,#f4ff00 35px,#fffe00 46px,#ffea00 69px,#ffe200 94px,#ffe900 116px,#ff0 138px,#b9ff00 167px,#29ff00 220px,#02ff00 239px,#00ff3a 294px,#00ff68 321px,#00ffa2 347px)"></i><i style="background:linear-gradient(90deg,#f4ff00 34px,#ff0 44px,#ffe800 68px,#ffe000 93px,#ffe800 116px,#ff0 138px,#abff00 172px,#21ff00 221px,#02ff00 235px,#00ff1d 258px,#00ff41 297px,#00ff6d 323px,#00ffa6 349px)"></i><i style="background:linear-gradient(90deg,#f5ff00 33px,#fffe00 43px,#ffe700 67px,#ffde00 91px,#ffe600 115px,#ff0 138px,#acff00 171px,#01ff00 232px,#00ff1e 251px,#00ff3d 290px,#00ff49 301px,#00ff72 325px,#00ffa9 350px)"></i><i style="background:linear-gradient(90deg,#f4ff00 31px,#ff0 41px,#ffe600 66px,#fd0 90px,#ffe500 115px,#feff00 138px,#a8ff00 172px,#01ff00 230px,#00ff16 240px,#00ff26 250px,#00ff45 294px,#00ff50 304px,#0f7 327px,#00ffae 352px)"></i><i style="background:linear-gradient(90deg,#f4ff00 30px,#fffe00 40px,#ffe500 65px,#ffdb00 90px,#ffe400 115px,#feff00 138px,#af0 171px,#0f0 229px,#00ff21 242px,#00ff31 252px,#00ff4c 296px,#00ff56 306px,#00ff7a 328px,#00ffb0 353px)"></i><i style="background:linear-gradient(90deg,#f3ff00 28px,#ff0 38px,#ffe400 64px,#ffda00 89px,#ffe300 114px,#feff00 138px,#d8ff00 154px,#a6ff00 172px,#02ff00 227px,#00ff2d 245px,#00ff3c 254px,#00ff53 299px,#00ff60 311px,#00ff7f 330px,#00ffb5 355px)"></i><i style="background:linear-gradient(90deg,#f3ff00 27px,#ff0 37px,#ffe200 64px,#ffd900 89px,#ffe200 114px,#ff0 138px,#d7ff00 154px,#a4ff00 172px,#01ff00 226px,#00ff35 246px,#0f4 254px,#00ff4d 264px,#00ff59 300px,#00ff60 309px,#00ff80 330px,#00ffb8 356px)"></i><i style="background:linear-gradient(90deg,#f3ff00 26px,#fffe00 36px,#ffe100 63px,#ffd700 89px,#ffe000 113px,#ff0 138px,#c9ff00 159px,#02ff00 224px,#00ff3d 247px,#00ff4f 256px,#00ff57 265px,#00ff60 302px,#00ff65 311px,#00ff85 332px,#0fb 357px)"></i><i style="background:linear-gradient(90deg,#f1ff00 24px,#fffe00 35px,#ffdf00 63px,#ffd600 89px,#ffde00 112px,#fffe00 138px,#c8ff00 159px,#01ff00 223px,#0f4 248px,#00ff5b 259px,#00ff61 267px,#00ff6b 313px,#00ff89 333px,#00ffbe 358px)"></i><i style="background:linear-gradient(90deg,#f1ff00 23px,#fffe00 34px,#ffde00 62px,#ffd400 89px,#fd0 112px,#fffe00 138px,#c7ff00 159px,#03ff00 221px,#00ff53 252px,#0f6 261px,#00ff6c 270px,#00ff6c 306px,#00ff70 315px,#00ff8c 334px,#00ffc2 360px)"></i><i style="background:linear-gradient(90deg,#f1ff00 22px,#fffe00 33px,#ffdc00 62px,#ffd300 90px,#ffdc00 112px,#feff00 139px,#c6ff00 159px,#01ff00 220px,#00ff58 252px,#00ff71 264px,#00ff76 271px,#00ff73 308px,#00ff76 317px,#00ff91 336px,#00ffc5 361px)"></i><i style="background:linear-gradient(90deg,#f1ff00 21px,#fffe00 32px,#ffea00 46px,#ffdc00 61px,#ffd200 90px,#ffdb00 112px,#feff00 139px,#c6ff00 159px,#01ff00 219px,#00ff4a 245px,#00ff7b 266px,#00ff80 273px,#00ff79 309px,#00ff7c 320px,#00ff94 337px,#00ffc8 362px)"></i><i style="background:linear-gradient(90deg,#f0ff00 20px,#fffe00 31px,#ffea00 45px,#ffdb00 60px,#ffd000 90px,#ffda00 112px,#feff00 139px,#c2ff00 160px,#03ff00 217px,#00ff61 252px,#00ff86 268px,#00ff8a 275px,#00ff7f 310px,#00ff80 321px,#00ff97 338px,#00ffca 363px)"></i><i style="background:linear-gradient(90deg,#f0ff00 19px,#fffe00 30px,#ffea00 44px,#ffda00 59px,#ffcf00 90px,#ffd900 112px,#feff00 139px,#beff00 161px,#02ff00 216px,#00ff51 244px,#00ff7f 262px,#00ff90 270px,#00ff93 277px,#00ff85 311px,#00ff86 323px,#00ff9c 340px,#00ffc2 357px,#00ffcd 364px)"></i><i style="background:linear-gradient(90deg,#efff00 18px,#ff0 29px,#ffea00 43px,#ffdb00 57px,#ffcd00 90px,#ffd000 101px,#ffd900 113px,#ff0 139px,#baff00 162px,#02ff00 215px,#00ff53 243px,#00ff85 262px,#0f9 272px,#00ff9c 279px,#00ff8c 311px,#00ff8b 325px,#00ffa0 341px,#00ffc5 358px,#00ffcf 365px)"></i><i style="background:linear-gradient(90deg,#efff00 17px,#ff0 28px,#ffe900 42px,#ffda00 56px,#fc0 90px,#ffce00 101px,#ffd800 113px,#ff0 139px,#baff00 162px,#03ff00 214px,#00ff58 243px,#00ff8a 262px,#00ffa3 274px,#00ffa6 280px,#00ff92 312px,#00ff90 327px,#00ffa3 342px,#00ffc8 359px,#00ffd2 366px)"></i><i style="background:linear-gradient(90deg,#efff00 16px,#fffe00 28px,#ffe900 41px,#ffda00 55px,#ffca00 90px,#ffd600 112px,#ff0 139px,#bf0 162px,#0f0 214px,#00ff3a 231px,#00ff5d 243px,#00ff8f 262px,#00ffab 275px,#00ffae 282px,#0f9 312px,#00ff94 329px,#00ffa4 342px,#00ffca 360px,#00ffd4 367px)"></i><i style="background:linear-gradient(90deg,#ef0 15px,#fffe00 27px,#ffdb00 53px,#ffcd00 74px,#ffc900 90px,#fc0 101px,#ffd500 112px,#fffe00 139px,#adff00 166px,#00ff0e 217px,#00ff3e 231px,#00ff64 244px,#00ff9b 265px,#00ffb5 277px,#00ffb8 283px,#00ffa1 310px,#0f9 330px,#00ffa8 343px,#00ffcd 361px,#00ffd7 368px)"></i><i style="background:linear-gradient(90deg,#ef0 14px,#fffe00 26px,#ffe800 40px,#ffda00 53px,#ffcb00 75px,#ffc700 90px,#ffd300 111px,#feff00 140px,#c5ff00 159px,#00ff2c 225px,#00ff42 231px,#0f7 249px,#00ffa8 268px,#00ffbe 279px,#00ffc0 285px,#00ffa7 312px,#00ff9d 332px,#00ffab 344px,#00ffce 361px,#00ffd9 369px)"></i><i style="background:linear-gradient(90deg,#edff00 13px,#fffd00 26px,#ffda00 51px,#ffcb00 74px,#ffc600 90px,#ffc900 100px,#ffd200 111px,#ff0 140px,#dcff00 152px,#00ff46 231px,#00ff91 257px,#0fb 274px,#00ffc8 281px,#00ffc9 286px,#00ffaf 311px,#00ffa2 333px,#00ffae 345px,#00ffd1 362px,#00ffda 369px)"></i><i style="background:linear-gradient(90deg,#edff00 13px,#fffe00 25px,#ffe900 38px,#ffda00 50px,#ffca00 74px,#ffc400 90px,#ffd000 110px,#fffe00 140px,#ecff00 147px,#00ff5c 237px,#00ffa3 262px,#00ffc7 277px,#00ffd1 283px,#00ffd0 288px,#00ffb1 317px,#00ffa6 335px,#00ffb0 345px,#00ffd4 363px,#0fd 370px)"></i><i style="background:linear-gradient(90deg,#edff00 12px,#f3ff00 18px,#ff0 24px,#ffe900 37px,#ffdb00 49px,#ffc800 74px,#ffc300 90px,#ffcf00 110px,#fdff00 142px,#00ff6c 241px,#00ffa8 262px,#00ffd9 284px,#00ffd9 289px,#0fb 313px,#0fa 336px,#00ffb3 346px,#00ffd7 364px,#00ffdf 371px)"></i><i style="background:linear-gradient(90deg,#ecff00 11px,#f2ff00 17px,#fffe00 24px,#ffdc00 47px,#ffc800 72px,#ffc200 88px,#ffc400 98px,#fc0 108px,#fff600 137px,#00ff81 246px,#00ffc1 270px,#00ffe2 286px,#00ffe0 291px,#00ffbe 317px,#00ffaf 337px,#00ffb7 347px,#00ffd8 364px,#00ffe1 372px)"></i><i style="background:linear-gradient(90deg,#ecff00 10px,#f2ff00 17px,#ff0 23px,#ffdc00 46px,#ffc700 72px,#ffc000 88px,#ffc900 106px,#ffef00 134px,#00ff8e 249px,#00ffcd 273px,#00ffea 287px,#00ffe8 292px,#00ffc4 318px,#00ffb3 339px,#00ffba 348px,#00ffdb 365px,#00ffe3 373px)"></i><i style="background:linear-gradient(90deg,#ecff00 10px,#f1ff00 16px,#fffe00 23px,#ffde00 44px,#ffc700 71px,#ffbf00 87px,#ffc600 104px,#ffe700 130px,#00ff9e 253px,#00ffe3 280px,#00fff2 289px,#00fff0 293px,#00ffca 318px,#00ffb7 340px,#00ffbd 349px,#00ffdc 365px,#00ffe4 373px)"></i><i style="background:linear-gradient(90deg,#ebff00 9px,#f2ff00 16px,#ff0 22px,#ffde00 43px,#ffc700 70px,#ffbe00 86px,#ffc300 102px,#ffe100 127px,#00ffab 256px,#00ffea 281px,#00fff9 290px,#00fff6 295px,#00ffd0 319px,#0fb 341px,#00ffbf 349px,#00ffde 366px,#00ffe6 374px)"></i><i style="background:linear-gradient(90deg,#ebff00 8px,#f1ff00 15px,#fffe00 22px,#ffe000 41px,#ffc600 69px,#ffbd00 85px,#ffc000 100px,#ffdb00 124px,#00ffb7 259px,#00fff3 283px,#00feff 290px,#00fffd 296px,#00ffd9 317px,#00ffbf 342px,#00ffc3 350px,#00ffe1 367px,#00ffe8 375px)"></i><i style="background:linear-gradient(90deg,#ebff00 8px,#f1ff00 15px,#fffd00 22px,#ffe100 40px,#ffbc00 84px,#ffbe00 99px,#ffd500 121px,#00ffc4 262px,#00feff 287px,#00f9ff 293px,#00fefe 300px,#00ffda 321px,#00ffc2 344px,#00ffc6 351px,#00ffe2 367px,#00ffe9 375px)"></i><i style="background:linear-gradient(90deg,#eaff00 7px,#f0ff00 14px,#ff0 21px,#ffe300 38px,#fb0 83px,#fb0 97px,#ffcf00 118px,#00ffd1 265px,#00fdff 285px,#00f4ff 294px,#00feff 303px,#00ffdb 325px,#00ffc6 346px,#00ffc9 352px,#00ffe3 367px,#00ffeb 376px)"></i><i style="background:linear-gradient(90deg,#eaff00 7px,#f0ff00 14px,#fffe00 21px,#ffe400 37px,#ffb900 83px,#ffba00 96px,#ffcb00 116px,#00ffdb 267px,#00fdff 283px,#00f0ff 295px,#00fefe 307px,#00ffdc 329px,#00ffc9 347px,#00ffcd 354px,#00ffe6 368px,#00ffec 376px)"></i><i style="background:linear-gradient(90deg,#eaff00 6px,#efff00 13px,#fffd00 21px,#ffe500 36px,#ffb900 82px,#ffb700 94px,#ffc700 114px,#00ffe4 269px,#00fffe 280px,#00ebff 295px,#00feff 310px,#00ffdc 333px,#00ffcd 349px,#00ffd2 356px,#00ffe8 369px,#00ffed 377px)"></i><i style="background:linear-gradient(90deg,#eaff00 6px,#efff00 13px,#ff0 20px,#ffe600 35px,#ffb700 82px,#ffb600 94px,#ffc400 112px,#0fe 271px,#00feff 279px,#00e7ff 296px,#00feff 314px,#00ffdc 337px,#00ffd0 351px,#00ffd5 357px,#00ffea 369px,#0fe 377px)"></i><i style="background:linear-gradient(90deg,#e9ff00 5px,#efff00 13px,#ff0 20px,#ffe700 34px,#ffb600 82px,#ffb500 93px,#ffc000 110px,#00fff8 273px,#00feff 277px,#00e6ff 292px,#00e3ff 297px,#00fffe 319px,#00ffe0 338px,#00ffd3 351px,#00ffd7 357px,#00ffec 370px,#00fff0 378px)"></i><i style="background:linear-gradient(90deg,#e9ff00 5px,#efff00 13px,#fffe00 20px,#ffe800 33px,#ffb500 82px,#ffb300 92px,#ffbd00 108px,#00feff 275px,#00e2ff 293px,#00dfff 298px,#00feff 321px,#00ffe1 341px,#00ffd7 352px,#00ffda 358px,#00ffed 370px,#00fff1 378px)"></i><i style="background:linear-gradient(90deg,#e8ff00 4px,#edff00 12px,#fffe00 20px,#ffeb00 31px,#ffb400 82px,#ffb200 92px,#ffba00 107px,#00f8ff 277px,#00dbff 298px,#00fffe 325px,#00ffe4 343px,#00ffda 353px,#00ffdc 358px,#0fe 370px,#00fff2 379px)"></i><i style="background:linear-gradient(90deg,#e8ff00 4px,#edff00 12px,#fffe00 20px,#ffeb00 31px,#ffb400 81px,#ffb000 91px,#ffb700 105px,#00f3ff 278px,#00d7ff 299px,#00fefe 328px,#0fd 354px,#00ffdf 359px,#00fff0 370px,#00fff3 379px)"></i><i style="background:linear-gradient(90deg,#e8ff00 3px,#edff00 12px,#fffd00 20px,#fe0 29px,#ffb300 80px,#ffaf00 90px,#ffb500 104px,#00efff 279px,#00d3ff 299px,#00fffe 332px,#00ffe0 355px,#00ffe2 360px,#00fff2 371px,#00fff4 380px)"></i><i style="background:linear-gradient(90deg,#e8ff00 3px,#edff00 12px,#fffd00 20px,#fff000 28px,#ffb200 80px,#ffae00 89px,#ffb200 102px,#00e9ff 281px,#00cfff 300px,#00feff 334px,#00ffe3 356px,#00fff3 371px,#00fff5 380px)"></i><i style="background:linear-gradient(90deg,#e7ff00 3px,#edff00 12px,#fffd00 20px,#ffb200 80px,#ffad00 89px,#ffb000 101px,#00e5ff 282px,#00ceff 297px,#0cf 301px,#00ebff 321px,#00feff 337px,#00ffe6 357px,#00fff4 371px,#00fff6 380px)"></i><i style="background:linear-gradient(90deg,#e7ff00 2px,#ebff00 11px,#fffd00 20px,#ffb100 80px,#ffac00 89px,#ffae00 100px,#00e1ff 283px,#00c8ff 301px,#00ebff 323px,#00fffe 340px,#00ffe8 358px,#00fff5 371px,#00fff7 381px)"></i><i style="background:linear-gradient(90deg,#e7ff00 2px,#ebff00 11px,#fffe00 20px,#ffb000 80px,#ffab00 88px,#ffac00 99px,#0df 284px,#00c6ff 298px,#00c5ff 302px,#00e7ff 323px,#00feff 342px,#00ffeb 359px,#00fff7 371px,#00fff8 381px)"></i><i style="background:linear-gradient(90deg,#e6ff00 2px,#ebff00 11px,#fffe00 20px,#ffb000 80px,#fa0 88px,#ffab00 98px,#00d8ff 285px,#00c4ff 298px,#00c1ff 302px,#00e5ff 324px,#00feff 345px,#0fe 360px,#00fff8 371px,#00fff9 381px)"></i><i style="background:linear-gradient(90deg,#e6ff00 2px,#ecff00 12px,#fffe00 20px,#ffaf00 80px,#ffa900 88px,#ffa900 97px,#00d4ff 286px,#00beff 302px,#00e5ff 326px,#00feff 347px,#00fff1 361px,#00fff9 371px,#00fffa 381px)"></i><i class=a style="background:linear-gradient(90deg,#e5ff00 1px,#eaff00 11px,#ff0 20px,#ffaf00 80px,#ffa800 96px,#00d1ff 287px,#00bcff 302px,#00e4ff 327px,#0ff 350px,#00fff3 361px,#00fffa 372px,#00fffa 382px)"></i><i class=a style="background:linear-gradient(90deg,#e5ff00 1px,#eaff00 11px,#ff0 20px,#ffdb00 49px,#ffaf00 80px,#ffa700 95px,#00ceff 288px,#00bcff 299px,#00baff 303px,#00e3ff 327px,#0ff 351px,#00fff4 361px,#00fffb 372px,#00fffb 382px)"></i><i class=a style="background:linear-gradient(90deg,#e5ff00 1px,#eaff00 11px,#fffe00 21px,#ffdc00 49px,#ffaf00 80px,#ffa700 95px,#0cf 288px,#00baff 299px,#00b9ff 303px,#00e1ff 327px,#0ff 352px,#00fff5 362px,#00fffb 372px,#00fffb 382px)"></i><i class=a style="background:linear-gradient(90deg,#e5ff00 1px,#e9ff00 11px,#fffe00 21px,#ffdc00 49px,#ffae00 80px,#ffa600 95px,#00caff 289px,#00b9ff 299px,#00b7ff 303px,#00e0ff 327px,#00feff 353px,#00fff6 362px,#00fffc 372px,#00fffb 382px)"></i><i class=a style="background:linear-gradient(90deg,#e5ff00 1px,#e9ff00 11px,#ff0 21px,#fd0 49px,#ffb000 79px,#ffa600 94px,#00c8ff 289px,#00b7ff 299px,#00b6ff 303px,#00e0ff 328px,#00feff 354px,#00fff8 363px,#00fffc 382px)"></i><i class=a style="background:linear-gradient(90deg,#e5ff00 1px,#e9ff00 11px,#fffe00 22px,#fd0 49px,#ffb000 79px,#ffa500 94px,#00c7ff 289px,#00b6ff 299px,#00b4ff 303px,#00deff 328px,#00fdff 354px,#00fff9 363px,#00fffc 382px)"></i><i class=a style="background:linear-gradient(90deg,#e4ff00 1px,#e9ff00 11px,#ff0 22px,#ffde00 49px,#ffb000 79px,#ffa500 94px,#00c3ff 290px,#00b4ff 299px,#00b3ff 303px,#00dcff 327px,#00fbff 353px,#00fffa 364px,#00fffd 382px)"></i><i class=a style="background:linear-gradient(90deg,#e4ff00 1px,#e8ff00 11px,#ff0 22px,#ffde00 49px,#ffb000 79px,#ffa500 93px,#00c2ff 290px,#00b2ff 299px,#00b1ff 303px,#00daff 327px,#00f9ff 352px,#0ff 359px,#00fffb 364px,#00fffd 382px)"></i><i class=a style="background:linear-gradient(90deg,#e4ff00 1px,#e8ff00 11px,#ff0 23px,#fd0 50px,#ffb000 79px,#ffa500 93px,#00c0ff 290px,#00b2ff 298px,#00b0ff 303px,#00d9ff 327px,#00f8ff 352px,#0ff 360px,#00fffd 382px)"></i><i class=a style="background:linear-gradient(90deg,#e4ff00 1px,#e8ff00 11px,#fffe00 24px,#ffde00 50px,#ffb000 79px,#ffa400 93px,#00bfff 290px,#00b1ff 298px,#00afff 303px,#00d8ff 327px,#00f6ff 351px,#0ff 361px,#00fffe 382px)"></i><i class=a style="background:linear-gradient(90deg,#e4ff00 1px,#e9ff00 12px,#ff0 24px,#ffdf00 50px,#ffb000 79px,#ffa500 92px,#0bf 291px,#00afff 298px,#00adff 303px,#00d7ff 327px,#00f5ff 351px,#0ff 363px,#00fffe 382px)"></i><i class=a style="background:linear-gradient(90deg,#e3ff00 1px,#e8ff00 12px,#fffe00 25px,#ffde00 51px,#ffb200 78px,#ffa500 92px,#00b9ff 291px,#00adff 298px,#00acff 303px,#00d5ff 327px,#00f2ff 350px,#00feff 364px,#0ff 382px)"></i><i class=a style="background:linear-gradient(90deg,#e3ff00 1px,#e8ff00 12px,#ff0 25px,#ffdf00 51px,#ffb200 78px,#ffa500 92px,#00b7ff 291px,#00acff 298px,#00abff 303px,#00d4ff 327px,#00f1ff 350px,#00feff 364px,#0ff 382px)"></i><i class=a style="background:linear-gradient(90deg,#e3ff00 1px,#e8ff00 12px,#ff0 26px,#ffdf00 51px,#ffb200 78px,#ffa500 92px,#00b5ff 291px,#0af 298px,#0af 303px,#00d3ff 327px,#00efff 349px,#00fdff 364px,#0ff 382px)"></i><i class=a style="background:linear-gradient(90deg,#e3ff00 1px,#e7ff00 12px,#fffe00 27px,#ffde00 52px,#ffb200 78px,#ffa600 92px,#00b2ff 291px,#00a9ff 298px,#00a9ff 303px,#00d2ff 327px,#0ef 349px,#00fcff 364px,#00feff 382px)"></i><i class=a style="background:linear-gradient(90deg,#e2ff00 1px,#e7ff00 12px,#ff0 27px,#ffdf00 52px,#ffb300 78px,#ffa600 92px,#00b0ff 291px,#00a8ff 297px,#00a8ff 303px,#00d1ff 327px,#00edff 349px,#00fbff 364px,#00feff 382px)"></i><i class=a style="background:linear-gradient(90deg,#e2ff00 1px,#e6ff00 12px,#ff0 28px,#ffde00 53px,#ffb300 78px,#ffa800 91px,#00abff 292px,#00a6ff 298px,#00a7ff 303px,#00d0ff 327px,#00ecff 349px,#00fbff 364px,#00feff 382px)"></i><i class=a style="background:linear-gradient(90deg,#e2ff00 1px,#e7ff00 13px,#fffe00 29px,#ffdf00 53px,#ffb400 78px,#ffa900 91px,#00a9ff 292px,#00a6ff 303px,#00cfff 327px,#00ebff 349px,#00faff 365px,#00feff 382px)"></i><i class=a style="background:linear-gradient(90deg,#e2ff00 1px,#e6ff00 13px,#fffe00 30px,#ffde00 54px,#ffb400 78px,#fa0 91px,#00a6ff 292px,#00a3ff 299px,#00a6ff 304px,#00d2ff 330px,#00f4ff 358px,#00fbff 367px,#00feff 382px)"></i><i class=a style="background:linear-gradient(90deg,#e1ff00 1px,#e6ff00 13px,#ff0 30px,#ffdf00 54px,#ffb500 78px,#ffab00 91px,#00a4ff 292px,#00a5ff 304px,#00d1ff 330px,#00f2ff 357px,#00faff 367px,#00fdff 382px)"></i><i class=a style="background:linear-gradient(90deg,#e1ff00 1px,#e6ff00 14px,#ff0 31px,#ffdf00 55px,#ffb500 78px,#ffad00 91px,#00a2ff 292px,#00a4ff 304px,#00d0ff 330px,#00f0ff 356px,#00faff 368px,#00fdff 382px)"></i><i class=a style="background:linear-gradient(90deg,#e1ff00 1px,#e7ff00 15px,#fffe00 32px,#ffe000 55px,#ffb600 78px,#ffaf00 91px,#009fff 292px,#00a3ff 304px,#00ceff 329px,#0ef 355px,#00f9ff 368px,#00fdff 382px)"></i><i class=a style="background:linear-gradient(90deg,#e0ff00 1px,#e7ff00 16px,#fffe00 33px,#ffdf00 56px,#ffb700 78px,#ffb100 91px,#009dff 292px,#00a4ff 305px,#00cdff 329px,#00ecff 354px,#00faff 369px,#00fdff 382px)"></i><i class=a style="background:linear-gradient(90deg,#e0ff00 1px,#e6ff00 16px,#ff0 33px,#ffe000 56px,#ffb600 79px,#ffb400 91px,#009bff 292px,#00a3ff 305px,#00cbff 328px,#00e9ff 352px,#00f9ff 369px,#00fdff 382px)"></i><i class=a style="background:linear-gradient(90deg,#e0ff00 1px,#e6ff00 17px,#ff0 34px,#ffe100 56px,#ffb700 79px,#ffb600 91px,#009aff 292px,#00a3ff 305px,#00cbff 329px,#00e8ff 352px,#00f9ff 369px,#00fcff 382px)"></i><i class=a style="background:linear-gradient(90deg,#dfff00 1px,#e6ff00 18px,#ff0 35px,#ffe200 56px,#ffb800 79px,#ffb500 84px,#ffb900 91px,#0098ff 292px,#00a2ff 305px,#00c9ff 328px,#00e6ff 351px,#00f9ff 370px,#00fcff 382px)"></i><i class=a style="background:linear-gradient(90deg,#dfff00 1px,#e5ff00 19px,#ff0 36px,#ffe100 57px,#ffb900 79px,#ffb600 85px,#fb0 91px,#0097ff 292px,#00a2ff 305px,#00c8ff 328px,#00e4ff 350px,#00f9ff 370px,#00fcff 382px)"></i><i class=a style="background:linear-gradient(90deg,#dfff00 1px,#e4ff00 19px,#fffe00 37px,#ffe300 57px,#ffba00 79px,#ffb800 84px,#ffbe00 91px,#0096ff 292px,#00a1ff 305px,#00c6ff 327px,#00e3ff 349px,#00f8ff 370px,#00fcff 382px)"></i><i class=a style="background:linear-gradient(90deg,#deff00 1px,#e3ff00 19px,#feff00 37px,#ffe400 57px,#fb0 79px,#ffb900 85px,#ffc200 92px,#0095ff 291px,#00a1ff 305px,#00c7ff 328px,#00e2ff 349px,#00f8ff 370px,#00fcff 382px)"></i><i class=a style="background:linear-gradient(90deg,#deff00 1px,#e2ff00 19px,#ff0 38px,#ffe300 58px,#ffbc00 79px,#fb0 85px,#ffc500 92px,#0094ff 291px,#00a0ff 305px,#00c6ff 328px,#00e1ff 349px,#00f8ff 370px,#00fcff 382px)"></i><i class=a style="background:linear-gradient(90deg,#deff00 1px,#e1ff00 20px,#ff0 39px,#ffe400 58px,#ffbd00 79px,#ffbd00 85px,#ffc800 92px,#0094ff 291px,#00a0ff 305px,#00c5ff 328px,#00e0ff 349px,#00f8ff 370px,#00fbff 382px)"></i><i class=a style="background:linear-gradient(90deg,#df0 1px,#e0ff00 20px,#ff0 40px,#ffe400 59px,#ffbe00 79px,#ffbe00 85px,#ffca00 92px,#0094ff 291px,#00a0ff 305px,#00c6ff 329px,#00e0ff 349px,#00f8ff 371px,#00fbff 382px)"></i><i class=a style="background:linear-gradient(90deg,#df0 1px,#dfff00 21px,#ff0 41px,#ffe500 59px,#ffc000 79px,#ffbf00 84px,#fc0 92px,#0093ff 291px,#009eff 304px,#00cdff 334px,#00f6ff 369px,#00fbff 382px)"></i><i class=a style="background:linear-gradient(90deg,#dcff00 1px,#deff00 21px,#ff0 42px,#ffe600 59px,#ffc100 79px,#ffc100 84px,#ffce00 92px,#0093ff 291px,#009eff 304px,#00cbff 333px,#00f6ff 369px,#00fbff 382px)"></i><i class=a style="background:linear-gradient(90deg,#dcff00 1px,#df0 21px,#ff0 43px,#ffe900 58px,#ffc100 81px,#ffc300 85px,#ffd200 93px,#0093ff 290px,#009eff 304px,#00caff 333px,#00f7ff 370px,#00fbff 382px)"></i><i class=a style="background:linear-gradient(90deg,#dcff00 1px,#dcff00 22px,#ff0 44px,#ffc200 81px,#ffc500 85px,#ffd400 93px,#0093ff 290px,#009eff 304px,#00c9ff 333px,#00f6ff 370px,#00fbff 382px)"></i><i class=a style="background:linear-gradient(90deg,#dbff00 1px,#dbff00 22px,#ff0 45px,#ffc400 81px,#ffd600 93px,#0094ff 290px,#009eff 304px,#00c9ff 333px,#00f6ff 370px,#00fbff 382px)"></i><i class=a style="background:linear-gradient(90deg,#dbff00 1px,#d9ff00 22px,#ff0 46px,#ffc500 81px,#ffd700 93px,#0094ff 289px,#009eff 304px,#00c8ff 333px,#00f6ff 370px,#00faff 382px)"></i><i class=a style="background:linear-gradient(90deg,#daff00 1px,#d8ff00 22px,#ff0 47px,#ffc700 81px,#ffdb00 94px,#0094ff 289px,#009eff 304px,#00c8ff 333px,#00f6ff 370px,#00faff 382px)"></i><i class=a style="background:linear-gradient(90deg,#daff00 1px,#d6ff00 22px,#ff0 48px,#ffc800 81px,#ffdc00 94px,#0094ff 289px,#009eff 304px,#00c7ff 333px,#00f6ff 370px,#00faff 382px)"></i><i class=a style="background:linear-gradient(90deg,#daff00 1px,#d5ff00 23px,#ff0 49px,#ffca00 81px,#ffde00 94px,#0095ff 288px,#009cff 302px,#00f5ff 370px,#00faff 382px)"></i><i class=a style="background:linear-gradient(90deg,#d9ff00 1px,#d4ff00 23px,#ff0 50px,#fc0 81px,#ffe100 95px,#0095ff 288px,#009cff 302px,#00f5ff 370px,#00faff 382px)"></i><i class=a style="background:linear-gradient(90deg,#d9ff00 1px,#d3ff00 24px,#ff0 51px,#ffcd00 81px,#ffe200 95px,#0096ff 288px,#009dff 303px,#00f5ff 370px,#00faff 382px)"></i><i style="background:linear-gradient(90deg,#d8ff00 1px,#d8ff00 11px,#d1ff00 24px,#e3ff00 37px,#feff00 52px,#ffd000 81px,#ffe600 96px,#0097ff 287px,#009cff 302px,#00e5ff 360px,#00f5ff 370px,#00faff 382px)"></i><i style="background:linear-gradient(90deg,#d8ff00 2px,#d7ff00 11px,#ceff00 20px,#ceff00 25px,#e2ff00 39px,#fffe00 55px,#ffd300 81px,#ffd600 85px,#ffea00 97px,#0098ff 286px,#0098ff 295px,#009dff 303px,#00e3ff 359px,#00f5ff 370px,#00f9ff 381px)"></i><i style="background:linear-gradient(90deg,#d7ff00 2px,#d6ff00 11px,#cbff00 21px,#cf0 26px,#e1ff00 41px,#feff00 57px,#ffd700 81px,#ffd900 85px,#ffef00 98px,#09f 285px,#09f 295px,#009eff 303px,#00e1ff 358px,#00f4ff 370px,#00f9ff 381px)"></i><i style="background:linear-gradient(90deg,#d6ff00 2px,#d5ff00 11px,#c8ff00 22px,#c8ff00 26px,#deff00 42px,#feff00 59px,#ffda00 82px,#fff300 99px,#009bff 284px,#009aff 295px,#009fff 303px,#00e0ff 358px,#00f4ff 370px,#00f9ff 381px)"></i><i style="background:linear-gradient(90deg,#d5ff00 3px,#d3ff00 12px,#c6ff00 22px,#c6ff00 27px,#dbff00 43px,#feff00 62px,#ffde00 82px,#ffe000 86px,#fff700 100px,#009dff 283px,#009bff 295px,#00a0ff 304px,#00deff 357px,#00f4ff 370px,#00f9ff 380px)"></i><i style="background:linear-gradient(90deg,#d4ff00 3px,#d2ff00 12px,#c4ff00 22px,#c3ff00 28px,#daff00 45px,#fffe00 65px,#ffe100 83px,#fffd00 102px,#009fff 281px,#009cff 294px,#00a1ff 304px,#00dcff 356px,#00f4ff 370px,#00f8ff 380px)"></i><i style="background:linear-gradient(90deg,#d3ff00 3px,#d0ff00 12px,#c1ff00 23px,#bfff00 28px,#d6ff00 46px,#fffe00 68px,#ffe800 80px,#ffe500 84px,#fffd00 100px,#fbff00 103px,#00a1ff 280px,#009dff 294px,#00a2ff 304px,#00dbff 355px,#00f4ff 370px,#00f8ff 380px)"></i><i style="background:linear-gradient(90deg,#d2ff00 4px,#ceff00 13px,#beff00 24px,#bcff00 29px,#d6ff00 49px,#fffe00 70px,#ffe900 84px,#ff0 99px,#f4ff00 104px,#00a3ff 279px,#009eff 293px,#00a3ff 304px,#00d9ff 354px,#00f4ff 370px,#00f8ff 379px)"></i><i style="background:linear-gradient(90deg,#d1ff00 4px,#cdff00 13px,#bf0 25px,#b9ff00 30px,#d4ff00 51px,#fffe00 73px,#ffed00 85px,#fffe00 97px,#ebff00 106px,#00a6ff 277px,#009fff 293px,#00a3ff 304px,#00d8ff 353px,#00f4ff 370px,#00f8ff 379px)"></i><i style="background:linear-gradient(90deg,#d0ff00 4px,#cf0 13px,#b9ff00 25px,#b7ff00 32px,#d3ff00 54px,#fffe00 76px,#fff200 85px,#fffe00 95px,#e4ff00 107px,#00a8ff 276px,#00a0ff 292px,#00a4ff 304px,#00d6ff 352px,#00f4ff 370px,#00f8ff 379px)"></i><i style="background:linear-gradient(90deg,#ceff00 5px,#c9ff00 14px,#b4ff00 28px,#b4ff00 34px,#d4ff00 58px,#fffd00 79px,#fff600 86px,#feff00 94px,#daff00 109px,#00acff 274px,#00a1ff 292px,#00a5ff 304px,#00d5ff 351px,#00f3ff 369px,#00f7ff 378px)"></i><i style="background:linear-gradient(90deg,#cdff00 5px,#c8ff00 14px,#b1ff00 28px,#b0ff00 35px,#d0ff00 59px,#fffd00 83px,#fffa00 87px,#feff00 92px,#d1ff00 111px,#00afff 272px,#00a3ff 290px,#00a6ff 303px,#00d3ff 349px,#00f2ff 368px,#00f7ff 378px)"></i><i style="background:linear-gradient(90deg,#cf0 6px,#c6ff00 15px,#aeff00 29px,#adff00 36px,#caff00 59px,#dfff00 71px,#fdff00 84px,#fefe00 88px,#f8ff00 93px,#c7ff00 113px,#00b3ff 270px,#00a4ff 290px,#00a7ff 303px,#00d1ff 348px,#00f0ff 367px,#00f7ff 377px)"></i><i style="background:linear-gradient(90deg,#cbff00 6px,#c5ff00 15px,#abff00 30px,#a9ff00 37px,#c8ff00 62px,#f4ff00 84px,#f9ff00 88px,#f1ff00 94px,#bdff00 115px,#00b6ff 268px,#00a6ff 289px,#00a8ff 303px,#00cfff 346px,#00f1ff 367px,#00f7ff 377px)"></i><i style="background:linear-gradient(90deg,#c9ff00 7px,#c2ff00 16px,#a8ff00 31px,#a6ff00 38px,#c2ff00 62px,#ef0 85px,#f1ff00 89px,#e9ff00 95px,#b3ff00 117px,#00baff 266px,#00a8ff 287px,#00a9ff 302px,#00ceff 345px,#00f1ff 367px,#00f7ff 376px)"></i><i style="background:linear-gradient(90deg,#c8ff00 8px,#c1ff00 16px,#a6ff00 31px,#a2ff00 39px,#bdff00 63px,#e7ff00 86px,#eaff00 90px,#e0ff00 97px,#a6ff00 120px,#00bfff 263px,#00a9ff 286px,#0af 302px,#00ceff 344px,#00f0ff 366px,#00f6ff 375px)"></i><i style="background:linear-gradient(90deg,#c6ff00 8px,#c0ff00 16px,#a2ff00 32px,#9eff00 40px,#b6ff00 63px,#e0ff00 87px,#e3ff00 91px,#d6ff00 99px,#9cff00 122px,#00c5ff 260px,#00abff 285px,#00abff 301px,#00cdff 343px,#00f0ff 366px,#00f6ff 375px)"></i><i style="background:linear-gradient(90deg,#c4ff00 9px,#bdff00 17px,#9fff00 33px,#9aff00 41px,#afff00 63px,#d9ff00 88px,#dbff00 93px,#caff00 102px,#90ff00 125px,#00c9ff 258px,#00aeff 283px,#00abff 300px,#0cf 342px,#00efff 365px,#00f6ff 374px)"></i><i style="background:linear-gradient(90deg,#c3ff00 9px,#bcff00 17px,#9cff00 34px,#96ff00 43px,#abff00 65px,#d1ff00 89px,#d3ff00 94px,#c3ff00 103px,#83ff00 128px,#00d1ff 254px,#00b0ff 281px,#00acff 299px,#00caff 340px,#00f0ff 365px,#00f6ff 374px)"></i><i style="background:linear-gradient(90deg,#c1ff00 10px,#b9ff00 18px,#98ff00 35px,#92ff00 44px,#a4ff00 65px,#c9ff00 90px,#cf0 95px,#b7ff00 106px,#73ff00 132px,#00d7ff 251px,#00b3ff 279px,#00adff 298px,#00caff 339px,#00efff 364px,#00f6ff 373px)"></i><i style="background:linear-gradient(90deg,#bfff00 11px,#b6ff00 19px,#95ff00 36px,#8eff00 45px,#9eff00 65px,#c1ff00 91px,#c3ff00 97px,#a3ff00 112px,#6f0 135px,#00deff 247px,#00b6ff 277px,#00aeff 296px,#00b5ff 312px,#00c9ff 337px,#00f0ff 364px,#00f5ff 372px)"></i><i style="background:linear-gradient(90deg,#bdff00 12px,#b5ff00 19px,#92ff00 37px,#8aff00 47px,#9cff00 70px,#baff00 93px,#bf0 98px,#97ff00 115px,#5f0 139px,#00e7ff 243px,#00baff 274px,#00b2ff 284px,#00b0ff 295px,#00b6ff 311px,#00c8ff 336px,#00efff 363px,#00f5ff 372px)"></i><i style="background:linear-gradient(90deg,#bcff00 12px,#b2ff00 20px,#90ff00 37px,#85ff00 47px,#94ff00 69px,#b3ff00 95px,#b2ff00 100px,#80ff00 122px,#40ff00 144px,#00efff 239px,#00d2ff 256px,#00bdff 272px,#00b4ff 283px,#00b1ff 294px,#00b7ff 311px,#00c7ff 334px,#0ef 362px,#00f5ff 371px)"></i><i style="background:linear-gradient(90deg,#baff00 13px,#b1ff00 20px,#8dff00 38px,#81ff00 49px,#8fff00 71px,#af0 96px,#af0 101px,#9dff00 108px,#76ff00 124px,#2cff00 149px,#00faff 234px,#00dbff 251px,#00c3ff 268px,#00b7ff 280px,#00b2ff 292px,#00b7ff 309px,#00c7ff 333px,#0ef 361px,#00f5ff 370px)"></i><i style="background:linear-gradient(90deg,#b7ff00 14px,#aeff00 21px,#8bff00 38px,#7dff00 50px,#87ff00 71px,#a2ff00 97px,#a1ff00 103px,#8fff00 112px,#6f0 128px,#15ff00 155px,#00fff4 228px,#00feff 232px,#00daff 252px,#00c2ff 269px,#00b8ff 280px,#00b4ff 291px,#00b8ff 308px,#00c6ff 331px,#00d4ff 344px,#0ef 361px,#00f4ff 369px)"></i><i style="background:linear-gradient(90deg,#b5ff00 15px,#abff00 22px,#86ff00 40px,#78ff00 52px,#81ff00 72px,#9f0 99px,#97ff00 105px,#64ff00 127px,#3aff00 142px,#03ff00 159px,#00ff07 162px,#00ffde 221px,#0ff 232px,#00dcff 251px,#00c6ff 267px,#00baff 279px,#00b5ff 291px,#00b9ff 308px,#00c6ff 330px,#00d4ff 343px,#0ef 360px,#00f4ff 368px)"></i><i style="background:linear-gradient(90deg,#b2ff00 16px,#a8ff00 23px,#84ff00 40px,#73ff00 54px,#7bff00 74px,#90ff00 100px,#8fff00 106px,#7dff00 115px,#4fff00 133px,#00ff01 159px,#00ff32 173px,#00ffb7 210px,#0ff 232px,#0df 251px,#00c8ff 266px,#0bf 279px,#00b7ff 291px,#00baff 308px,#00c6ff 329px,#00d5ff 343px,#00edff 359px,#00f4ff 367px)"></i><i style="background:linear-gradient(90deg,#b0ff00 17px,#a6ff00 24px,#81ff00 41px,#6eff00 56px,#74ff00 74px,#87ff00 102px,#85ff00 108px,#4fff00 131px,#00ff01 158px,#00ffb4 209px,#00fffe 232px,#00c8ff 266px,#00bcff 279px,#00b8ff 291px,#0bf 308px,#00c7ff 328px,#00f3ff 366px)"></i><i style="background:linear-gradient(90deg,#afff00 17px,#a3ff00 25px,#7dff00 42px,#6aff00 57px,#6cff00 72px,#7eff00 103px,#7bff00 110px,#4dff00 130px,#00ff02 157px,#00ffb4 209px,#00fffe 232px,#00caff 265px,#00beff 278px,#00b9ff 290px,#00bcff 306px,#00c6ff 326px,#00d5ff 341px,#0ef 358px,#00f4ff 366px)"></i><i style="background:linear-gradient(90deg,#acff00 18px,#a2ff00 25px,#7aff00 43px,#65ff00 59px,#65ff00 72px,#75ff00 106px,#71ff00 112px,#5f0 125px,#00ff03 156px,#00ffb5 209px,#00fffe 232px,#0cf 264px,#00bfff 278px,#0bf 290px,#00bdff 306px,#00c7ff 325px,#00f4ff 365px)"></i><i style="background:linear-gradient(90deg,#af0 19px,#9fff00 26px,#7f0 44px,#60ff00 61px,#5fff00 72px,#6bff00 107px,#69ff00 113px,#52ff00 124px,#00ff01 154px,#00fffe 232px,#00cdff 264px,#00c1ff 277px,#00bcff 290px,#00bfff 307px,#00c7ff 324px,#00f3ff 364px)"></i><i style="background:linear-gradient(90deg,#a6ff00 21px,#74ff00 45px,#5aff00 63px,#59ff00 74px,#61ff00 109px,#5eff00 115px,#4dff00 124px,#00ff02 153px,#0ff 232px,#00ceff 264px,#00c2ff 277px,#00beff 290px,#00c0ff 307px,#00c8ff 323px,#00f3ff 362px)"></i><i style="background:linear-gradient(90deg,#a3ff00 22px,#6eff00 47px,#5f0 65px,#52ff00 75px,#58ff00 111px,#53ff00 118px,#3eff00 128px,#00ff01 151px,#0ff 232px,#00e2ff 249px,#00cfff 264px,#00c3ff 277px,#00bfff 290px,#00c8ff 321px,#00f2ff 361px)"></i><i style="background:linear-gradient(90deg,#a0ff00 23px,#6dff00 47px,#50ff00 66px,#4cff00 76px,#4dff00 112px,#49ff00 120px,#39ff00 128px,#00ff02 150px,#0ff 232px,#00e3ff 249px,#00ceff 265px,#00c4ff 277px,#00c0ff 290px,#00c9ff 321px,#00f2ff 360px)"></i><i style="background:linear-gradient(90deg,#9dff00 24px,#68ff00 49px,#4aff00 69px,#46ff00 78px,#43ff00 114px,#3eff00 122px,#2fff00 130px,#00ff01 148px,#00ff32 165px,#00ffba 208px,#00feff 232px,#00e3ff 249px,#00cfff 265px,#00c5ff 277px,#00c2ff 290px,#00caff 320px,#00f2ff 359px)"></i><i style="background:linear-gradient(90deg,#9bff00 25px,#65ff00 50px,#48ff00 68px,#40ff00 78px,#36ff00 122px,#29ff00 130px,#00ff03 147px,#00fffe 231px,#00d0ff 265px,#00c3ff 289px,#00caff 318px,#00f2ff 358px)"></i><i style="background:linear-gradient(90deg,#97ff00 26px,#61ff00 51px,#41ff00 71px,#39ff00 81px,#2bff00 124px,#1fff00 132px,#00ff02 145px,#00fffe 231px,#00d1ff 264px,#00c4ff 289px,#0cf 318px,#00f1ff 357px)"></i><i style="background:linear-gradient(90deg,#93ff00 28px,#5cff00 53px,#3bff00 74px,#32ff00 84px,#20ff00 125px,#14ff00 134px,#00ff01 143px,#00ff35 162px,#00ffb3 204px,#0ff 231px,#00d3ff 263px,#00c6ff 289px,#00cdff 317px,#00f1ff 355px)"></i><i style="background:linear-gradient(90deg,#90ff00 29px,#57ff00 55px,#32ff00 78px,#17ff00 125px,#00ff01 141px,#00ff38 162px,#00ffb5 204px,#0ff 231px,#00d5ff 262px,#00c7ff 289px,#00cfff 317px,#00f1ff 354px)"></i><i style="background:linear-gradient(90deg,#8dff00 30px,#54ff00 56px,#2dff00 80px,#0fff00 124px,#00ff02 138px,#0f1 146px,#00ff36 160px,#00ffb4 203px,#0ff 231px,#00d6ff 261px,#00c8ff 289px,#00d0ff 317px,#00f1ff 353px)"></i><i style="background:linear-gradient(90deg,#89ff00 32px,#4fff00 58px,#26ff00 83px,#02ff00 128px,#00ff05 135px,#00ff17 146px,#00ff37 159px,#00ffb5 203px,#0ff 231px,#00d8ff 260px,#00caff 288px,#00d1ff 315px,#00f0ff 351px)"></i><i style="background:linear-gradient(90deg,#86ff00 33px,#48ff00 61px,#1cff00 88px,#02ff00 119px,#00ff0f 136px,#00ff20 147px,#00ff3b 159px,#00ffb7 203px,#00feff 231px,#00d9ff 259px,#00cbff 287px,#00d2ff 314px,#00f0ff 350px)"></i><i style="background:linear-gradient(90deg,#81ff00 35px,#49ff00 60px,#24ff00 81px,#0eff00 96px,#00ff01 114px,#00ff1f 141px,#00ff3c 157px,#00fffe 230px,#00dbff 258px,#00cdff 286px,#00d4ff 314px,#00f0ff 348px)"></i><i style="background:linear-gradient(90deg,#7eff00 36px,#2fff00 73px,#0eff00 93px,#00ff02 107px,#00ff1f 135px,#00ff46 159px,#00feff 230px,#00dcff 257px,#00ceff 285px,#00d5ff 312px,#00f0ff 347px)"></i><i style="background:linear-gradient(90deg,#79ff00 38px,#37ff00 68px,#01ff00 100px,#00ff25 134px,#00ff39 148px,#00ff5a 165px,#0ff 229px,#00deff 256px,#00d0ff 283px,#00d6ff 311px,#00f0ff 345px)"></i><i style="background:linear-gradient(90deg,#74ff00 40px,#36ff00 68px,#01ff00 98px,#00ff2b 133px,#00ff3f 147px,#00ff63 166px,#00feff 229px,#00dfff 256px,#00d2ff 282px,#00d7ff 309px,#00f0ff 343px)"></i><i style="background:linear-gradient(90deg,#71ff00 41px,#31ff00 70px,#01ff00 97px,#00ff3e 142px,#00ff5d 160px,#00ff82 177px,#0ff 228px,#00e0ff 255px,#00d4ff 280px,#00d9ff 308px,#00f0ff 342px)"></i><i style="background:linear-gradient(90deg,#6dff00 43px,#2cff00 72px,#0f0 96px,#00ff46 143px,#00ff64 160px,#00fffe 227px,#00e1ff 255px,#00d6ff 280px,#00daff 307px,#00f0ff 340px)"></i><i style="background:linear-gradient(90deg,#68ff00 45px,#2bff00 72px,#0f0 95px,#00ff6a 160px,#0ff 227px,#00e3ff 254px,#00d8ff 279px,#00dbff 305px,#00f0ff 338px)"></i><i style="background:linear-gradient(90deg,#64ff00 47px,#29ff00 73px,#0f0 94px,#00ff6f 160px,#00feff 227px,#00e4ff 253px,#00daff 278px,#0df 304px,#00f0ff 336px)"></i><i style="background:linear-gradient(90deg,#5fff00 49px,#24ff00 75px,#00ff01 94px,#00ff76 161px,#0ff 226px,#00e6ff 252px,#00dcff 277px,#00deff 302px,#00f0ff 334px)"></i><i style="background:linear-gradient(90deg,#5aff00 51px,#0f0 93px,#00ff7d 162px,#0ff 226px,#00e8ff 251px,#00deff 277px,#00e0ff 301px,#00f0ff 332px)"></i><i style="background:linear-gradient(90deg,#5f0 53px,#0f0 92px,#00ff7f 161px,#0ff 226px,#00e9ff 251px,#00dfff 277px,#00e2ff 300px,#00f0ff 330px)"></i><i style="background:linear-gradient(90deg,#50ff00 55px,#0f0 92px,#0ff 226px,#00ebff 251px,#00e1ff 276px,#00e3ff 298px,#00f1ff 328px)"></i><i style="background:linear-gradient(90deg,#4cff00 57px,#00ff01 92px,#00ffd5 202px,#0ff 227px,#00ecff 251px,#00e3ff 275px,#00e5ff 296px,#00f1ff 326px)"></i><i style="background:linear-gradient(90deg,#47ff00 59px,#00ff01 92px,#00ffcf 199px,#0ff 228px,#00edff 252px,#00e5ff 275px,#00e7ff 295px,#00f2ff 324px)"></i><i style="background:linear-gradient(90deg,#43ff00 61px,#00ff02 92px,#00ffcb 197px,#0ff 229px,#00efff 252px,#00e7ff 274px,#00e8ff 293px,#00f2ff 322px)"></i><i style="background:linear-gradient(90deg,#3eff00 63px,#00ff02 92px,#00ffb9 187px,#00ffe3 211px,#0ff 230px,#00f0ff 253px,#00e9ff 274px,#00f3ff 320px)"></i><i style="background:linear-gradient(90deg,#38ff00 66px,#00ff01 92px,#00ffb5 185px,#00ffe0 210px,#00fffe 231px,#00f2ff 253px,#00ecff 273px,#00f3ff 317px)"></i><i style="background:linear-gradient(90deg,#3f0 68px,#00ff01 92px,#00ffb3 184px,#00ffe0 211px,#00fffe 233px,#0ef 272px,#00f4ff 315px)"></i><i style="background:linear-gradient(90deg,#2dff00 71px,#0f0 92px,#00ff42 124px,#00ffb2 184px,#00ffe1 212px,#00fffe 235px,#00f0ff 271px,#00f5ff 312px)"></i><i style="background:linear-gradient(90deg,#28ff00 73px,#00ff02 93px,#0f4 125px,#00ffab 180px,#00ffdb 209px,#00fffb 234px,#00feff 239px,#00f2ff 271px,#00f6ff 310px)"></i><i style="background:linear-gradient(90deg,#2f0 76px,#00ff01 93px,#0f4 125px,#00ffa1 175px,#00ffd5 206px,#00fff5 231px,#0ff 241px,#00f4ff 270px,#00f6ff 307px)"></i><i style="background:linear-gradient(90deg,#1cff00 79px,#0f0 93px,#0f4 125px,#00ff9b 172px,#0fc 201px,#00ffef 227px,#0ff 244px,#00f6ff 270px,#00f7ff 304px)"></i><i style="background:linear-gradient(90deg,#16ff00 82px,#0f0 93px,#00ff47 127px,#00ff95 169px,#00ffc7 199px,#00ffe9 224px,#0ff 248px,#00f8ff 269px,#00f9ff 301px)"></i><i style="background:linear-gradient(90deg,#10ff00 85px,#00ff02 94px,#00ff48 128px,#0f8 162px,#00ffc1 196px,#00ffe3 221px,#00fffe 251px,#00faff 298px)"></i><i style="background:linear-gradient(90deg,#09ff00 88px,#00ff02 94px,#00ff51 133px,#00ff9a 173px,#00ffdc 217px,#00fff1 237px,#00fffe 256px,#00fbff 295px)"></i><i style="background:linear-gradient(90deg,#02ff00 92px,#00ff82 160px,#00ffb0 187px,#00ffd4 212px,#00ffeb 233px,#00fff9 252px,#00fffe 266px,#00fdff 291px)"></i><i style="background:linear-gradient(90deg,#00ff04 95px,#00ff7e 158px,#0fc 208px,#00ffe3 227px,#00fff2 246px,#00feff 288px)"></i><i style="background:linear-gradient(90deg,#00ff0c 99px,#00ff7e 159px,#00ffc8 206px,#00ffec 242px,#00fffe 284px)"></i><i style="background:linear-gradient(90deg,#00ff13 103px,#00ff82 162px,#00ffc4 205px,#00ffe7 239px,#00fffb 280px)"></i><i style="background:linear-gradient(90deg,#00ff1a 107px,#00ff82 163px,#00ffbe 202px,#00ffe2 236px,#00fff8 276px)"></i><i style="background:linear-gradient(90deg,#00ff23 112px,#00ff82 164px,#00ffb7 199px,#00ffdc 233px,#00fff4 271px)"></i><i style="background:linear-gradient(90deg,#00ff2c 117px,#00ff82 165px,#00ffb4 198px,#00ffd6 229px,#00ffef 266px)"></i><i style="background:linear-gradient(90deg,#00ff35 122px,#00ff86 169px,#00ffb1 198px,#00ffd1 227px,#00ffeb 261px)"></i><i style="background:linear-gradient(90deg,#00ff3f 128px,#00ff87 171px,#00ffaf 198px,#0fc 224px,#00ffe5 255px)"></i><i style="background:linear-gradient(90deg,#00ff49 134px,#00ff86 171px,#00ffab 197px,#00ffc8 222px,#00ffe0 249px)"></i><i style="background:linear-gradient(90deg,#00ff56 142px,#00ffa6 195px,#00ffd7 241px)"></i><i style="background:linear-gradient(90deg,#00ff64 151px,#00ffa2 193px,#00ffce 232px)"></i><i style="background:linear-gradient(90deg,#00ff76 163px,#00ff9f 192px,#00ffc2 221px)"></i><i class=a style="background:linear-gradient(90deg,#00ff9b 189px,#00ffa4 196px)"></i></div><svg width="1820" height="2085" viewBox="0 0 1820 2085" style="position:absolute;left:0;top:0"><path d="M330.20 1806.20a187.7 187.7 0 1 0 375.40 0a187.7 187.7 0 1 0 -375.40 0ZM515.80 1801.50H520.00Q522.60 1801.50 522.60 1804.10V1808.30Q522.60 1810.90 520.00 1810.90H515.80Q513.20 1810.90 513.20 1808.30V1804.10Q513.20 1801.50 515.80 1801.50Z" fill="#00ff1e" fill-rule="evenodd"/><path d="M802.30 1806.20a187.7 187.7 0 1 0 375.40 0a187.7 187.7 0 1 0 -375.40 0ZM1020.8 1806.2L1020.7 1812.3L1019.1 1818.3L1015.7 1823.4L1011.7 1827.9L1007.2 1831.9L1002.1 1835.3L996.1 1836.9L990.0 1837.0L983.9 1836.9L977.9 1835.3L972.8 1831.9L968.3 1827.9L964.3 1823.4L960.9 1818.3L959.3 1812.3L959.2 1806.2L959.3 1800.1L960.9 1794.1L964.3 1789.0L968.3 1784.5L972.8 1780.5L977.9 1777.1L983.9 1775.5L990.0 1775.4L996.1 1775.5L1002.1 1777.1L1007.2 1780.5L1011.7 1784.5L1015.7 1789.0L1019.1 1794.1L1020.7 1800.1Z" fill="#00ff1e" fill-rule="evenodd"/><path d="M1274.40 1806.20a187.7 187.7 0 1 0 375.40 0a187.7 187.7 0 1 0 -375.40 0ZM1357.30 1806.20a104.8 104.8 0 1 0 209.60 0a104.8 104.8 0 1 0 -209.60 0Z" fill="#00ff1e" fill-rule="evenodd"/><path d="M280.60 152.80H1696.90V2041.20H280.60ZM752.70 152.80V2041.20M1224.80 152.80V2041.20M280.60 624.90H1696.90M280.60 1097.00H1696.90M280.60 1569.10H1696.90" fill="none" stroke="#5c5c5c" stroke-width="1.3"/>
<path d="M294.77 152.80v5.6M294.77 624.90v-5.6M322.41 152.80v3.0M322.41 624.90v-3.0M350.05 152.80v3.0M350.05 624.90v-3.0M377.69 152.80v3.0M377.69 624.90v-3.0M405.33 152.80v5.6M405.33 624.90v-5.6M432.98 152.80v3.0M432.98 624.90v-3.0M460.62 152.80v3.0M460.62 624.90v-3.0M488.26 152.80v3.0M488.26 624.90v-3.0M515.90 152.80v5.6M515.90 624.90v-5.6M543.54 152.80v3.0M543.54 624.90v-3.0M571.18 152.80v3.0M571.18 624.90v-3.0M598.82 152.80v3.0M598.82 624.90v-3.0M626.46 152.80v5.6M626.46 624.90v-5.6M654.11 152.80v3.0M654.11 624.90v-3.0M681.75 152.80v3.0M681.75 624.90v-3.0M709.39 152.80v3.0M709.39 624.90v-3.0M737.03 152.80v5.6M737.03 624.90v-5.6M280.60 610.53h5.6M752.70 610.53h-5.6M280.60 592.10h3.0M752.70 592.10h-3.0M280.60 573.67h3.0M752.70 573.67h-3.0M280.60 555.25h3.0M752.70 555.25h-3.0M280.60 536.82h5.6M752.70 536.82h-5.6M280.60 518.39h3.0M752.70 518.39h-3.0M280.60 499.96h3.0M752.70 499.96h-3.0M280.60 481.54h3.0M752.70 481.54h-3.0M280.60 463.11h5.6M752.70 463.11h-5.6M280.60 444.68h3.0M752.70 444.68h-3.0M280.60 426.25h3.0M752.70 426.25h-3.0M280.60 407.83h3.0M752.70 407.83h-3.0M280.60 389.40h5.6M752.70 389.40h-5.6M280.60 370.97h3.0M752.70 370.97h-3.0M280.60 352.54h3.0M752.70 352.54h-3.0M280.60 334.12h3.0M752.70 334.12h-3.0M280.60 315.69h5.6M752.70 315.69h-5.6M280.60 297.26h3.0M752.70 297.26h-3.0M280.60 278.83h3.0M752.70 278.83h-3.0M280.60 260.41h3.0M752.70 260.41h-3.0M280.60 241.98h5.6M752.70 241.98h-5.6M280.60 223.55h3.0M752.70 223.55h-3.0M280.60 205.12h3.0M752.70 205.12h-3.0M280.60 186.70h3.0M752.70 186.70h-3.0M280.60 168.27h5.6M752.70 168.27h-5.6M766.87 152.80v5.6M766.87 624.90v-5.6M794.51 152.80v3.0M794.51 624.90v-3.0M822.15 152.80v3.0M822.15 624.90v-3.0M849.79 152.80v3.0M849.79 624.90v-3.0M877.43 152.80v5.6M877.43 624.90v-5.6M905.08 152.80v3.0M905.08 624.90v-3.0M932.72 152.80v3.0M932.72 624.90v-3.0M960.36 152.80v3.0M960.36 624.90v-3.0M988.00 152.80v5.6M988.00 624.90v-5.6M1015.64 152.80v3.0M1015.64 624.90v-3.0M1043.28 152.80v3.0M1043.28 624.90v-3.0M1070.92 152.80v3.0M1070.92 624.90v-3.0M1098.57 152.80v5.6M1098.57 624.90v-5.6M1126.21 152.80v3.0M1126.21 624.90v-3.0M1153.85 152.80v3.0M1153.85 624.90v-3.0M1181.49 152.80v3.0M1181.49 624.90v-3.0M1209.13 152.80v5.6M1209.13 624.90v-5.6M752.70 610.53h5.6M1224.80 610.53h-5.6M752.70 592.10h3.0M1224.80 592.10h-3.0M752.70 573.67h3.0M1224.80 573.67h-3.0M752.70 555.25h3.0M1224.80 555.25h-3.0M752.70 536.82h5.6M1224.80 536.82h-5.6M752.70 518.39h3.0M1224.80 518.39h-3.0M752.70 499.96h3.0M1224.80 499.96h-3.0M752.70 481.54h3.0M1224.80 481.54h-3.0M752.70 463.11h5.6M1224.80 463.11h-5.6M752.70 444.68h3.0M1224.80 444.68h-3.0M752.70 426.25h3.0M1224.80 426.25h-3.0M752.70 407.83h3.0M1224.80 407.83h-3.0M752.70 389.40h5.6M1224.80 389.40h-5.6M752.70 370.97h3.0M1224.80 370.97h-3.0M752.70 352.54h3.0M1224.80 352.54h-3.0M752.70 334.12h3.0M1224.80 334.12h-3.0M752.70 315.69h5.6M1224.80 315.69h-5.6M752.70 297.26h3.0M1224.80 297.26h-3.0M752.70 278.83h3.0M1224.80 278.83h-3.0M752.70 260.41h3.0M1224.80 260.41h-3.0M752.70 241.98h5.6M1224.80 241.98h-5.6M752.70 223.55h3.0M1224.80 223.55h-3.0M752.70 205.12h3.0M1224.80 205.12h-3.0M752.70 186.70h3.0M1224.80 186.70h-3.0M752.70 168.27h5.6M1224.80 168.27h-5.6M1238.97 152.80v5.6M1238.97 624.90v-5.6M1266.61 152.80v3.0M1266.61 624.90v-3.0M1294.25 152.80v3.0M1294.25 624.90v-3.0M1321.89 152.80v3.0M1321.89 624.90v-3.0M1349.53 152.80v5.6M1349.53 624.90v-5.6M1377.18 152.80v3.0M1377.18 624.90v-3.0M1404.82 152.80v3.0M1404.82 624.90v-3.0M1432.46 152.80v3.0M1432.46 624.90v-3.0M1460.10 152.80v5.6M1460.10 624.90v-5.6M1487.74 152.80v3.0M1487.74 624.90v-3.0M1515.38 152.80v3.0M1515.38 624.90v-3.0M1543.02 152.80v3.0M1543.02 624.90v-3.0M1570.66 152.80v5.6M1570.66 624.90v-5.6M1598.31 152.80v3.0M1598.31 624.90v-3.0M1625.95 152.80v3.0M1625.95 624.90v-3.0M1653.59 152.80v3.0M1653.59 624.90v-3.0M1681.23 152.80v5.6M1681.23 624.90v-5.6M1224.80 610.53h5.6M1696.90 610.53h-5.6M1224.80 592.10h3.0M1696.90 592.10h-3.0M1224.80 573.67h3.0M1696.90 573.67h-3.0M1224.80 555.25h3.0M1696.90 555.25h-3.0M1224.80 536.82h5.6M1696.90 536.82h-5.6M1224.80 518.39h3.0M1696.90 518.39h-3.0M1224.80 499.96h3.0M1696.90 499.96h-3.0M1224.80 481.54h3.0M1696.90 481.54h-3.0M1224.80 463.11h5.6M1696.90 463.11h-5.6M1224.80 444.68h3.0M1696.90 444.68h-3.0M1224.80 426.25h3.0M1696.90 426.25h-3.0M1224.80 407.83h3.0M1696.90 407.83h-3.0M1224.80 389.40h5.6M1696.90 389.40h-5.6M1224.80 370.97h3.0M1696.90 370.97h-3.0M1224.80 352.54h3.0M1696.90 352.54h-3.0M1224.80 334.12h3.0M1696.90 334.12h-3.0M1224.80 315.69h5.6M1696.90 315.69h-5.6M1224.80 297.26h3.0M1696.90 297.26h-3.0M1224.80 278.83h3.0M1696.90 278.83h-3.0M1224.80 260.41h3.0M1696.90 260.41h-3.0M1224.80 241.98h5.6M1696.90 241.98h-5.6M1224.80 223.55h3.0M1696.90 223.55h-3.0M1224.80 205.12h3.0M1696.90 205.12h-3.0M1224.80 186.70h3.0M1696.90 186.70h-3.0M1224.80 168.27h5.6M1696.90 168.27h-5.6M294.77 624.90v5.6M294.77 1097.00v-5.6M322.41 624.90v3.0M322.41 1097.00v-3.0M350.05 624.90v3.0M350.05 1097.00v-3.0M377.69 624.90v3.0M377.69 1097.00v-3.0M405.33 624.90v5.6M405.33 1097.00v-5.6M432.98 624.90v3.0M432.98 1097.00v-3.0M460.62 624.90v3.0M460.62 1097.00v-3.0M488.26 624.90v3.0M488.26 1097.00v-3.0M515.90 624.90v5.6M515.90 1097.00v-5.6M543.54 624.90v3.0M543.54 1097.00v-3.0M571.18 624.90v3.0M571.18 1097.00v-3.0M598.82 624.90v3.0M598.82 1097.00v-3.0M626.46 624.90v5.6M626.46 1097.00v-5.6M654.11 624.90v3.0M654.11 1097.00v-3.0M681.75 624.90v3.0M681.75 1097.00v-3.0M709.39 624.90v3.0M709.39 1097.00v-3.0M737.03 624.90v5.6M737.03 1097.00v-5.6M280.60 1082.63h5.6M752.70 1082.63h-5.6M280.60 1064.20h3.0M752.70 1064.20h-3.0M280.60 1045.78h3.0M752.70 1045.78h-3.0M280.60 1027.35h3.0M752.70 1027.35h-3.0M280.60 1008.92h5.6M752.70 1008.92h-5.6M280.60 990.49h3.0M752.70 990.49h-3.0M280.60 972.07h3.0M752.70 972.07h-3.0M280.60 953.64h3.0M752.70 953.64h-3.0M280.60 935.21h5.6M752.70 935.21h-5.6M280.60 916.78h3.0M752.70 916.78h-3.0M280.60 898.36h3.0M752.70 898.36h-3.0M280.60 879.93h3.0M752.70 879.93h-3.0M280.60 861.50h5.6M752.70 861.50h-5.6M280.60 843.07h3.0M752.70 843.07h-3.0M280.60 824.64h3.0M752.70 824.64h-3.0M280.60 806.22h3.0M752.70 806.22h-3.0M280.60 787.79h5.6M752.70 787.79h-5.6M280.60 769.36h3.0M752.70 769.36h-3.0M280.60 750.93h3.0M752.70 750.93h-3.0M280.60 732.51h3.0M752.70 732.51h-3.0M280.60 714.08h5.6M752.70 714.08h-5.6M280.60 695.65h3.0M752.70 695.65h-3.0M280.60 677.23h3.0M752.70 677.23h-3.0M280.60 658.80h3.0M752.70 658.80h-3.0M280.60 640.37h5.6M752.70 640.37h-5.6M766.87 624.90v5.6M766.87 1097.00v-5.6M794.51 624.90v3.0M794.51 1097.00v-3.0M822.15 624.90v3.0M822.15 1097.00v-3.0M849.79 624.90v3.0M849.79 1097.00v-3.0M877.43 624.90v5.6M877.43 1097.00v-5.6M905.08 624.90v3.0M905.08 1097.00v-3.0M932.72 624.90v3.0M932.72 1097.00v-3.0M960.36 624.90v3.0M960.36 1097.00v-3.0M988.00 624.90v5.6M988.00 1097.00v-5.6M1015.64 624.90v3.0M1015.64 1097.00v-3.0M1043.28 624.90v3.0M1043.28 1097.00v-3.0M1070.92 624.90v3.0M1070.92 1097.00v-3.0M1098.57 624.90v5.6M1098.57 1097.00v-5.6M1126.21 624.90v3.0M1126.21 1097.00v-3.0M1153.85 624.90v3.0M1153.85 1097.00v-3.0M1181.49 624.90v3.0M1181.49 1097.00v-3.0M1209.13 624.90v5.6M1209.13 1097.00v-5.6M752.70 1082.63h5.6M1224.80 1082.63h-5.6M752.70 1064.20h3.0M1224.80 1064.20h-3.0M752.70 1045.78h3.0M1224.80 1045.78h-3.0M752.70 1027.35h3.0M1224.80 1027.35h-3.0M752.70 1008.92h5.6M1224.80 1008.92h-5.6M752.70 990.49h3.0M1224.80 990.49h-3.0M752.70 972.07h3.0M1224.80 972.07h-3.0M752.70 953.64h3.0M1224.80 953.64h-3.0M752.70 935.21h5.6M1224.80 935.21h-5.6M752.70 916.78h3.0M1224.80 916.78h-3.0M752.70 898.36h3.0M1224.80 898.36h-3.0M752.70 879.93h3.0M1224.80 879.93h-3.0M752.70 861.50h5.6M1224.80 861.50h-5.6M752.70 843.07h3.0M1224.80 843.07h-3.0M752.70 824.64h3.0M1224.80 824.64h-3.0M752.70 806.22h3.0M1224.80 806.22h-3.0M752.70 787.79h5.6M1224.80 787.79h-5.6M752.70 769.36h3.0M1224.80 769.36h-3.0M752.70 750.93h3.0M1224.80 750.93h-3.0M752.70 732.51h3.0M1224.80 732.51h-3.0M752.70 714.08h5.6M1224.80 714.08h-5.6M752.70 695.65h3.0M1224.80 695.65h-3.0M752.70 677.23h3.0M1224.80 677.23h-3.0M752.70 658.80h3.0M1224.80 658.80h-3.0M752.70 640.37h5.6M1224.80 640.37h-5.6M1238.97 624.90v5.6M1238.97 1097.00v-5.6M1266.61 624.90v3.0M1266.61 1097.00v-3.0M1294.25 624.90v3.0M1294.25 1097.00v-3.0M1321.89 624.90v3.0M1321.89 1097.00v-3.0M1349.53 624.90v5.6M1349.53 1097.00v-5.6M1377.18 624.90v3.0M1377.18 1097.00v-3.0M1404.82 624.90v3.0M1404.82 1097.00v-3.0M1432.46 624.90v3.0M1432.46 1097.00v-3.0M1460.10 624.90v5.6M1460.10 1097.00v-5.6M1487.74 624.90v3.0M1487.74 1097.00v-3.0M1515.38 624.90v3.0M1515.38 1097.00v-3.0M1543.02 624.90v3.0M1543.02 1097.00v-3.0M1570.66 624.90v5.6M1570.66 1097.00v-5.6M1598.31 624.90v3.0M1598.31 1097.00v-3.0M1625.95 624.90v3.0M1625.95 1097.00v-3.0M1653.59 624.90v3.0M1653.59 1097.00v-3.0M1681.23 624.90v5.6M1681.23 1097.00v-5.6M1224.80 1082.63h5.6M1696.90 1082.63h-5.6M1224.80 1064.20h3.0M1696.90 1064.20h-3.0M1224.80 1045.78h3.0M1696.90 1045.78h-3.0M1224.80 1027.35h3.0M1696.90 1027.35h-3.0M1224.80 1008.92h5.6M1696.90 1008.92h-5.6M1224.80 990.49h3.0M1696.90 990.49h-3.0M1224.80 972.07h3.0M1696.90 972.07h-3.0M1224.80 953.64h3.0M1696.90 953.64h-3.0M1224.80 935.21h5.6M1696.90 935.21h-5.6M1224.80 916.78h3.0M1696.90 916.78h-3.0M1224.80 898.36h3.0M1696.90 898.36h-3.0M1224.80 879.93h3.0M1696.90 879.93h-3.0M1224.80 861.50h5.6M1696.90 861.50h-5.6M1224.80 843.07h3.0M1696.90 843.07h-3.0M1224.80 824.64h3.0M1696.90 824.64h-3.0M1224.80 806.22h3.0M1696.90 806.22h-3.0M1224.80 787.79h5.6M1696.90 787.79h-5.6M1224.80 769.36h3.0M1696.90 769.36h-3.0M1224.80 750.93h3.0M1696.90 750.93h-3.0M1224.80 732.51h3.0M1696.90 732.51h-3.0M1224.80 714.08h5.6M1696.90 714.08h-5.6M1224.80 695.65h3.0M1696.90 695.65h-3.0M1224.80 677.23h3.0M1696.90 677.23h-3.0M1224.80 658.80h3.0M1696.90 658.80h-3.0M1224.80 640.37h5.6M1696.90 640.37h-5.6M294.77 1097.00v5.6M294.77 1569.10v-5.6M322.41 1097.00v3.0M322.41 1569.10v-3.0M350.05 1097.00v3.0M350.05 1569.10v-3.0M377.69 1097.00v3.0M377.69 1569.10v-3.0M405.33 1097.00v5.6M405.33 1569.10v-5.6M432.98 1097.00v3.0M432.98 1569.10v-3.0M460.62 1097.00v3.0M460.62 1569.10v-3.0M488.26 1097.00v3.0M488.26 1569.10v-3.0M515.90 1097.00v5.6M515.90 1569.10v-5.6M543.54 1097.00v3.0M543.54 1569.10v-3.0M571.18 1097.00v3.0M571.18 1569.10v-3.0M598.82 1097.00v3.0M598.82 1569.10v-3.0M626.46 1097.00v5.6M626.46 1569.10v-5.6M654.11 1097.00v3.0M654.11 1569.10v-3.0M681.75 1097.00v3.0M681.75 1569.10v-3.0M709.39 1097.00v3.0M709.39 1569.10v-3.0M737.03 1097.00v5.6M737.03 1569.10v-5.6M280.60 1554.73h5.6M752.70 1554.73h-5.6M280.60 1536.30h3.0M752.70 1536.30h-3.0M280.60 1517.88h3.0M752.70 1517.88h-3.0M280.60 1499.45h3.0M752.70 1499.45h-3.0M280.60 1481.02h5.6M752.70 1481.02h-5.6M280.60 1462.59h3.0M752.70 1462.59h-3.0M280.60 1444.16h3.0M752.70 1444.16h-3.0M280.60 1425.74h3.0M752.70 1425.74h-3.0M280.60 1407.31h5.6M752.70 1407.31h-5.6M280.60 1388.88h3.0M752.70 1388.88h-3.0M280.60 1370.45h3.0M752.70 1370.45h-3.0M280.60 1352.03h3.0M752.70 1352.03h-3.0M280.60 1333.60h5.6M752.70 1333.60h-5.6M280.60 1315.17h3.0M752.70 1315.17h-3.0M280.60 1296.74h3.0M752.70 1296.74h-3.0M280.60 1278.32h3.0M752.70 1278.32h-3.0M280.60 1259.89h5.6M752.70 1259.89h-5.6M280.60 1241.46h3.0M752.70 1241.46h-3.0M280.60 1223.03h3.0M752.70 1223.03h-3.0M280.60 1204.61h3.0M752.70 1204.61h-3.0M280.60 1186.18h5.6M752.70 1186.18h-5.6M280.60 1167.75h3.0M752.70 1167.75h-3.0M280.60 1149.32h3.0M752.70 1149.32h-3.0M280.60 1130.90h3.0M752.70 1130.90h-3.0M280.60 1112.47h5.6M752.70 1112.47h-5.6M766.87 1097.00v5.6M766.87 1569.10v-5.6M794.51 1097.00v3.0M794.51 1569.10v-3.0M822.15 1097.00v3.0M822.15 1569.10v-3.0M849.79 1097.00v3.0M849.79 1569.10v-3.0M877.43 1097.00v5.6M877.43 1569.10v-5.6M905.08 1097.00v3.0M905.08 1569.10v-3.0M932.72 1097.00v3.0M932.72 1569.10v-3.0M960.36 1097.00v3.0M960.36 1569.10v-3.0M988.00 1097.00v5.6M988.00 1569.10v-5.6M1015.64 1097.00v3.0M1015.64 1569.10v-3.0M1043.28 1097.00v3.0M1043.28 1569.10v-3.0M1070.92 1097.00v3.0M1070.92 1569.10v-3.0M1098.57 1097.00v5.6M1098.57 1569.10v-5.6M1126.21 1097.00v3.0M1126.21 1569.10v-3.0M1153.85 1097.00v3.0M1153.85 1569.10v-3.0M1181.49 1097.00v3.0M1181.49 1569.10v-3.0M1209.13 1097.00v5.6M1209.13 1569.10v-5.6M752.70 1554.73h5.6M1224.80 1554.73h-5.6M752.70 1536.30h3.0M1224.80 1536.30h-3.0M752.70 1517.88h3.0M1224.80 1517.88h-3.0M752.70 1499.45h3.0M1224.80 1499.45h-3.0M752.70 1481.02h5.6M1224.80 1481.02h-5.6M752.70 1462.59h3.0M1224.80 1462.59h-3.0M752.70 1444.16h3.0M1224.80 1444.16h-3.0M752.70 1425.74h3.0M1224.80 1425.74h-3.0M752.70 1407.31h5.6M1224.80 1407.31h-5.6M752.70 1388.88h3.0M1224.80 1388.88h-3.0M752.70 1370.45h3.0M1224.80 1370.45h-3.0M752.70 1352.03h3.0M1224.80 1352.03h-3.0M752.70 1333.60h5.6M1224.80 1333.60h-5.6M752.70 1315.17h3.0M1224.80 1315.17h-3.0M752.70 1296.74h3.0M1224.80 1296.74h-3.0M752.70 1278.32h3.0M1224.80 1278.32h-3.0M752.70 1259.89h5.6M1224.80 1259.89h-5.6M752.70 1241.46h3.0M1224.80 1241.46h-3.0M752.70 1223.03h3.0M1224.80 1223.03h-3.0M752.70 1204.61h3.0M1224.80 1204.61h-3.0M752.70 1186.18h5.6M1224.80 1186.18h-5.6M752.70 1167.75h3.0M1224.80 1167.75h-3.0M752.70 1149.32h3.0M1224.80 1149.32h-3.0M752.70 1130.90h3.0M1224.80 1130.90h-3.0M752.70 1112.47h5.6M1224.80 1112.47h-5.6M1238.97 1097.00v5.6M1238.97 1569.10v-5.6M1266.61 1097.00v3.0M1266.61 1569.10v-3.0M1294.25 1097.00v3.0M1294.25 1569.10v-3.0M1321.89 1097.00v3.0M1321.89 1569.10v-3.0M1349.53 1097.00v5.6M1349.53 1569.10v-5.6M1377.18 1097.00v3.0M1377.18 1569.10v-3.0M1404.82 1097.00v3.0M1404.82 1569.10v-3.0M1432.46 1097.00v3.0M1432.46 1569.10v-3.0M1460.10 1097.00v5.6M1460.10 1569.10v-5.6M1487.74 1097.00v3.0M1487.74 1569.10v-3.0M1515.38 1097.00v3.0M1515.38 1569.10v-3.0M1543.02 1097.00v3.0M1543.02 1569.10v-3.0M1570.66 1097.00v5.6M1570.66 1569.10v-5.6M1598.31 1097.00v3.0M1598.31 1569.10v-3.0M1625.95 1097.00v3.0M1625.95 1569.10v-3.0M1653.59 1097.00v3.0M1653.59 1569.10v-3.0M1681.23 1097.00v5.6M1681.23 1569.10v-5.6M1224.80 1554.73h5.6M1696.90 1554.73h-5.6M1224.80 1536.30h3.0M1696.90 1536.30h-3.0M1224.80 1517.88h3.0M1696.90 1517.88h-3.0M1224.80 1499.45h3.0M1696.90 1499.45h-3.0M1224.80 1481.02h5.6M1696.90 1481.02h-5.6M1224.80 1462.59h3.0M1696.90 1462.59h-3.0M1224.80 1444.16h3.0M1696.90 1444.16h-3.0M1224.80 1425.74h3.0M1696.90 1425.74h-3.0M1224.80 1407.31h5.6M1696.90 1407.31h-5.6M1224.80 1388.88h3.0M1696.90 1388.88h-3.0M1224.80 1370.45h3.0M1696.90 1370.45h-3.0M1224.80 1352.03h3.0M1696.90 1352.03h-3.0M1224.80 1333.60h5.6M1696.90 1333.60h-5.6M1224.80 1315.17h3.0M1696.90 1315.17h-3.0M1224.80 1296.74h3.0M1696.90 1296.74h-3.0M1224.80 1278.32h3.0M1696.90 1278.32h-3.0M1224.80 1259.89h5.6M1696.90 1259.89h-5.6M1224.80 1241.46h3.0M1696.90 1241.46h-3.0M1224.80 1223.03h3.0M1696.90 1223.03h-3.0M1224.80 1204.61h3.0M1696.90 1204.61h-3.0M1224.80 1186.18h5.6M1696.90 1186.18h-5.6M1224.80 1167.75h3.0M1696.90 1167.75h-3.0M1224.80 1149.32h3.0M1696.90 1149.32h-3.0M1224.80 1130.90h3.0M1696.90 1130.90h-3.0M1224.80 1112.47h5.6M1696.90 1112.47h-5.6M294.77 1569.10v5.6M294.77 2041.20v-5.6M322.41 1569.10v3.0M322.41 2041.20v-3.0M350.05 1569.10v3.0M350.05 2041.20v-3.0M377.69 1569.10v3.0M377.69 2041.20v-3.0M405.33 1569.10v5.6M405.33 2041.20v-5.6M432.98 1569.10v3.0M432.98 2041.20v-3.0M460.62 1569.10v3.0M460.62 2041.20v-3.0M488.26 1569.10v3.0M488.26 2041.20v-3.0M515.90 1569.10v5.6M515.90 2041.20v-5.6M543.54 1569.10v3.0M543.54 2041.20v-3.0M571.18 1569.10v3.0M571.18 2041.20v-3.0M598.82 1569.10v3.0M598.82 2041.20v-3.0M626.46 1569.10v5.6M626.46 2041.20v-5.6M654.11 1569.10v3.0M654.11 2041.20v-3.0M681.75 1569.10v3.0M681.75 2041.20v-3.0M709.39 1569.10v3.0M709.39 2041.20v-3.0M737.03 1569.10v5.6M737.03 2041.20v-5.6M280.60 2026.83h5.6M752.70 2026.83h-5.6M280.60 2008.40h3.0M752.70 2008.40h-3.0M280.60 1989.98h3.0M752.70 1989.98h-3.0M280.60 1971.55h3.0M752.70 1971.55h-3.0M280.60 1953.12h5.6M752.70 1953.12h-5.6M280.60 1934.69h3.0M752.70 1934.69h-3.0M280.60 1916.27h3.0M752.70 1916.27h-3.0M280.60 1897.84h3.0M752.70 1897.84h-3.0M280.60 1879.41h5.6M752.70 1879.41h-5.6M280.60 1860.98h3.0M752.70 1860.98h-3.0M280.60 1842.56h3.0M752.70 1842.56h-3.0M280.60 1824.13h3.0M752.70 1824.13h-3.0M280.60 1805.70h5.6M752.70 1805.70h-5.6M280.60 1787.27h3.0M752.70 1787.27h-3.0M280.60 1768.85h3.0M752.70 1768.85h-3.0M280.60 1750.42h3.0M752.70 1750.42h-3.0M280.60 1731.99h5.6M752.70 1731.99h-5.6M280.60 1713.56h3.0M752.70 1713.56h-3.0M280.60 1695.14h3.0M752.70 1695.14h-3.0M280.60 1676.71h3.0M752.70 1676.71h-3.0M280.60 1658.28h5.6M752.70 1658.28h-5.6M280.60 1639.85h3.0M752.70 1639.85h-3.0M280.60 1621.43h3.0M752.70 1621.43h-3.0M280.60 1603.00h3.0M752.70 1603.00h-3.0M280.60 1584.57h5.6M752.70 1584.57h-5.6M766.87 1569.10v5.6M766.87 2041.20v-5.6M794.51 1569.10v3.0M794.51 2041.20v-3.0M822.15 1569.10v3.0M822.15 2041.20v-3.0M849.79 1569.10v3.0M849.79 2041.20v-3.0M877.43 1569.10v5.6M877.43 2041.20v-5.6M905.08 1569.10v3.0M905.08 2041.20v-3.0M932.72 1569.10v3.0M932.72 2041.20v-3.0M960.36 1569.10v3.0M960.36 2041.20v-3.0M988.00 1569.10v5.6M988.00 2041.20v-5.6M1015.64 1569.10v3.0M1015.64 2041.20v-3.0M1043.28 1569.10v3.0M1043.28 2041.20v-3.0M1070.92 1569.10v3.0M1070.92 2041.20v-3.0M1098.57 1569.10v5.6M1098.57 2041.20v-5.6M1126.21 1569.10v3.0M1126.21 2041.20v-3.0M1153.85 1569.10v3.0M1153.85 2041.20v-3.0M1181.49 1569.10v3.0M1181.49 2041.20v-3.0M1209.13 1569.10v5.6M1209.13 2041.20v-5.6M752.70 2026.83h5.6M1224.80 2026.83h-5.6M752.70 2008.40h3.0M1224.80 2008.40h-3.0M752.70 1989.98h3.0M1224.80 1989.98h-3.0M752.70 1971.55h3.0M1224.80 1971.55h-3.0M752.70 1953.12h5.6M1224.80 1953.12h-5.6M752.70 1934.69h3.0M1224.80 1934.69h-3.0M752.70 1916.27h3.0M1224.80 1916.27h-3.0M752.70 1897.84h3.0M1224.80 1897.84h-3.0M752.70 1879.41h5.6M1224.80 1879.41h-5.6M752.70 1860.98h3.0M1224.80 1860.98h-3.0M752.70 1842.56h3.0M1224.80 1842.56h-3.0M752.70 1824.13h3.0M1224.80 1824.13h-3.0M752.70 1805.70h5.6M1224.80 1805.70h-5.6M752.70 1787.27h3.0M1224.80 1787.27h-3.0M752.70 1768.85h3.0M1224.80 1768.85h-3.0M752.70 1750.42h3.0M1224.80 1750.42h-3.0M752.70 1731.99h5.6M1224.80 1731.99h-5.6M752.70 1713.56h3.0M1224.80 1713.56h-3.0M752.70 1695.14h3.0M1224.80 1695.14h-3.0M752.70 1676.71h3.0M1224.80 1676.71h-3.0M752.70 1658.28h5.6M1224.80 1658.28h-5.6M752.70 1639.85h3.0M1224.80 1639.85h-3.0M752.70 1621.43h3.0M1224.80 1621.43h-3.0M752.70 1603.00h3.0M1224.80 1603.00h-3.0M752.70 1584.57h5.6M1224.80 1584.57h-5.6M1238.97 1569.10v5.6M1238.97 2041.20v-5.6M1266.61 1569.10v3.0M1266.61 2041.20v-3.0M1294.25 1569.10v3.0M1294.25 2041.20v-3.0M1321.89 1569.10v3.0M1321.89 2041.20v-3.0M1349.53 1569.10v5.6M1349.53 2041.20v-5.6M1377.18 1569.10v3.0M1377.18 2041.20v-3.0M1404.82 1569.10v3.0M1404.82 2041.20v-3.0M1432.46 1569.10v3.0M1432.46 2041.20v-3.0M1460.10 1569.10v5.6M1460.10 2041.20v-5.6M1487.74 1569.10v3.0M1487.74 2041.20v-3.0M1515.38 1569.10v3.0M1515.38 2041.20v-3.0M1543.02 1569.10v3.0M1543.02 2041.20v-3.0M1570.66 1569.10v5.6M1570.66 2041.20v-5.6M1598.31 1569.10v3.0M1598.31 2041.20v-3.0M1625.95 1569.10v3.0M1625.95 2041.20v-3.0M1653.59 1569.10v3.0M1653.59 2041.20v-3.0M1681.23 1569.10v5.6M1681.23 2041.20v-5.6M1224.80 2026.83h5.6M1696.90 2026.83h-5.6M1224.80 2008.40h3.0M1696.90 2008.40h-3.0M1224.80 1989.98h3.0M1696.90 1989.98h-3.0M1224.80 1971.55h3.0M1696.90 1971.55h-3.0M1224.80 1953.12h5.6M1696.90 1953.12h-5.6M1224.80 1934.69h3.0M1696.90 1934.69h-3.0M1224.80 1916.27h3.0M1696.90 1916.27h-3.0M1224.80 1897.84h3.0M1696.90 1897.84h-3.0M1224.80 1879.41h5.6M1696.90 1879.41h-5.6M1224.80 1860.98h3.0M1696.90 1860.98h-3.0M1224.80 1842.56h3.0M1696.90 1842.56h-3.0M1224.80 1824.13h3.0M1696.90 1824.13h-3.0M1224.80 1805.70h5.6M1696.90 1805.70h-5.6M1224.80 1787.27h3.0M1696.90 1787.27h-3.0M1224.80 1768.85h3.0M1696.90 1768.85h-3.0M1224.80 1750.42h3.0M1696.90 1750.42h-3.0M1224.80 1731.99h5.6M1696.90 1731.99h-5.6M1224.80 1713.56h3.0M1696.90 1713.56h-3.0M1224.80 1695.14h3.0M1696.90 1695.14h-3.0M1224.80 1676.71h3.0M1696.90 1676.71h-3.0M1224.80 1658.28h5.6M1696.90 1658.28h-5.6M1224.80 1639.85h3.0M1696.90 1639.85h-3.0M1224.80 1621.43h3.0M1696.90 1621.43h-3.0M1224.80 1603.00h3.0M1696.90 1603.00h-3.0M1224.80 1584.57h5.6M1696.90 1584.57h-5.6" fill="none" stroke="#000" stroke-width="1.35"/>
<g font-family="'Liberation Sans',Arial,Helvetica,sans-serif"><text transform="translate(213.51,175.12) scale(0.9000,1)" fill="#000"><tspan x="0.00" y="0.00" font-size="19.4">0°00′06″</tspan></text><text transform="translate(252.97,248.83) scale(0.9000,1)" fill="#000"><tspan x="0.00" y="0.00" font-size="19.4">04″</tspan></text><text transform="translate(252.97,322.54) scale(0.9000,1)" fill="#000"><tspan x="0.00" y="0.00" font-size="19.4">02″</tspan></text><text transform="translate(252.97,396.25) scale(0.9000,1)" fill="#000"><tspan x="0.00" y="0.00" font-size="19.4">00″</tspan></text><text transform="translate(247.12,469.96) scale(0.9000,1)" fill="#000"><tspan x="0.00" y="0.00" font-size="19.4">-02″</tspan></text><text transform="translate(247.12,543.67) scale(0.9000,1)" fill="#000"><tspan x="0.00" y="0.00" font-size="19.4">-04″</tspan></text><text transform="translate(247.12,617.38) scale(0.9000,1)" fill="#000"><tspan x="0.00" y="0.00" font-size="19.4">-06″</tspan></text><text transform="translate(227.60,460.36) rotate(-90) scale(0.8700,1)" fill="#000"><tspan x="0.00" y="0.00" font-size="19.6">Declination (ICRS)</tspan></text><text transform="translate(213.51,647.22) scale(0.9000,1)" fill="#000"><tspan x="0.00" y="0.00" font-size="19.4">0°00′06″</tspan></text><text transform="translate(252.97,720.93) scale(0.9000,1)" fill="#000"><tspan x="0.00" y="0.00" font-size="19.4">04″</tspan></text><text transform="translate(252.97,794.64) scale(0.9000,1)" fill="#000"><tspan x="0.00" y="0.00" font-size="19.4">02″</tspan></text><text transform="translate(252.97,868.35) scale(0.9000,1)" fill="#000"><tspan x="0.00" y="0.00" font-size="19.4">00″</tspan></text><text transform="translate(247.12,942.06) scale(0.9000,1)" fill="#000"><tspan x="0.00" y="0.00" font-size="19.4">-02″</tspan></text><text transform="translate(247.12,1015.77) scale(0.9000,1)" fill="#000"><tspan x="0.00" y="0.00" font-size="19.4">-04″</tspan></text><text transform="translate(247.12,1089.48) scale(0.9000,1)" fill="#000"><tspan x="0.00" y="0.00" font-size="19.4">-06″</tspan></text><text transform="translate(227.60,932.46) rotate(-90) scale(0.8700,1)" fill="#000"><tspan x="0.00" y="0.00" font-size="19.6">Declination (ICRS)</tspan></text><text transform="translate(213.51,1119.32) scale(0.9000,1)" fill="#000"><tspan x="0.00" y="0.00" font-size="19.4">0°00′06″</tspan></text><text transform="translate(252.97,1193.03) scale(0.9000,1)" fill="#000"><tspan x="0.00" y="0.00" font-size="19.4">04″</tspan></text><text transform="translate(252.97,1266.74) scale(0.9000,1)" fill="#000"><tspan x="0.00" y="0.00" font-size="19.4">02″</tspan></text><text transform="translate(252.97,1340.45) scale(0.9000,1)" fill="#000"><tspan x="0.00" y="0.00" font-size="19.4">00″</tspan></text><text transform="translate(247.12,1414.16) scale(0.9000,1)" fill="#000"><tspan x="0.00" y="0.00" font-size="19.4">-02″</tspan></text><text transform="translate(247.12,1487.87) scale(0.9000,1)" fill="#000"><tspan x="0.00" y="0.00" font-size="19.4">-04″</tspan></text><text transform="translate(247.12,1561.58) scale(0.9000,1)" fill="#000"><tspan x="0.00" y="0.00" font-size="19.4">-06″</tspan></text><text transform="translate(227.60,1404.56) rotate(-90) scale(0.8700,1)" fill="#000"><tspan x="0.00" y="0.00" font-size="19.6">Declination (ICRS)</tspan></text><text transform="translate(213.51,1591.42) scale(0.9000,1)" fill="#000"><tspan x="0.00" y="0.00" font-size="19.4">0°00′06″</tspan></text><text transform="translate(252.97,1665.13) scale(0.9000,1)" fill="#000"><tspan x="0.00" y="0.00" font-size="19.4">04″</tspan></text><text transform="translate(252.97,1738.84) scale(0.9000,1)" fill="#000"><tspan x="0.00" y="0.00" font-size="19.4">02″</tspan></text><text transform="translate(252.97,1812.55) scale(0.9000,1)" fill="#000"><tspan x="0.00" y="0.00" font-size="19.4">00″</tspan></text><text transform="translate(247.12,1886.26) scale(0.9000,1)" fill="#000"><tspan x="0.00" y="0.00" font-size="19.4">-02″</tspan></text><text transform="translate(247.12,1959.97) scale(0.9000,1)" fill="#000"><tspan x="0.00" y="0.00" font-size="19.4">-04″</tspan></text><text transform="translate(247.12,2033.68) scale(0.9000,1)" fill="#000"><tspan x="0.00" y="0.00" font-size="19.4">-06″</tspan></text><text transform="translate(227.60,1876.66) rotate(-90) scale(0.8700,1)" fill="#000"><tspan x="0.00" y="0.00" font-size="19.6">Declination (ICRS)</tspan></text><text transform="translate(286.41,2060.00) scale(0.8889,1)" fill="#000"><tspan x="0.00" y="0.00" font-size="19.4">0</tspan><tspan x="10.79" y="-6.30" font-size="12">h</tspan><tspan x="17.46" y="0.00" font-size="19.4">00</tspan><tspan x="39.04" y="-6.30" font-size="12">m</tspan><tspan x="49.04" y="0.00" font-size="19.4">00</tspan><tspan x="70.62" y="-6.30" font-size="12">s</tspan><tspan x="76.62" y="0.00" font-size="19.4">.4</tspan></text><text transform="translate(390.04,2060.00) scale(0.8450,1)" fill="#000"><tspan x="0.00" y="0.00" font-size="19.4">0</tspan><tspan x="10.79" y="-6.30" font-size="12">s</tspan><tspan x="16.79" y="0.00" font-size="19.4">.2</tspan></text><text transform="translate(500.33,2060.00) scale(0.8594,1)" fill="#000"><tspan x="0.00" y="0.00" font-size="19.4">0</tspan><tspan x="10.79" y="-6.30" font-size="12">s</tspan><tspan x="16.79" y="0.00" font-size="19.4">.0</tspan></text><text transform="translate(575.24,2060.00) scale(0.8845,1)" fill="#000"><tspan x="0.00" y="0.00" font-size="19.4">23</tspan><tspan x="21.58" y="-6.30" font-size="12">h</tspan><tspan x="28.25" y="0.00" font-size="19.4">59</tspan><tspan x="49.83" y="-6.30" font-size="12">m</tspan><tspan x="59.83" y="0.00" font-size="19.4">59</tspan><tspan x="81.41" y="-6.30" font-size="12">s</tspan><tspan x="87.41" y="0.00" font-size="19.4">.8</tspan></text><text transform="translate(707.94,2060.00) scale(0.8454,1)" fill="#000"><tspan x="0.00" y="0.00" font-size="19.4">59</tspan><tspan x="21.58" y="-6.30" font-size="12">s</tspan><tspan x="27.58" y="0.00" font-size="19.4">.6</tspan></text><text transform="translate(427.15,2080.90) scale(0.8613,1)" fill="#000"><tspan x="0.00" y="0.00" font-size="19.6">Right Ascension (ICRS)</tspan></text><text transform="translate(758.51,2060.00) scale(0.8889,1)" fill="#000"><tspan x="0.00" y="0.00" font-size="19.4">0</tspan><tspan x="10.79" y="-6.30" font-size="12">h</tspan><tspan x="17.46" y="0.00" font-size="19.4">00</tspan><tspan x="39.04" y="-6.30" font-size="12">m</tspan><tspan x="49.04" y="0.00" font-size="19.4">00</tspan><tspan x="70.62" y="-6.30" font-size="12">s</tspan><tspan x="76.62" y="0.00" font-size="19.4">.4</tspan></text><text transform="translate(862.14,2060.00) scale(0.8450,1)" fill="#000"><tspan x="0.00" y="0.00" font-size="19.4">0</tspan><tspan x="10.79" y="-6.30" font-size="12">s</tspan><tspan x="16.79" y="0.00" font-size="19.4">.2</tspan></text><text transform="translate(972.43,2060.00) scale(0.8594,1)" fill="#000"><tspan x="0.00" y="0.00" font-size="19.4">0</tspan><tspan x="10.79" y="-6.30" font-size="12">s</tspan><tspan x="16.79" y="0.00" font-size="19.4">.0</tspan></text><text transform="translate(1047.34,2060.00) scale(0.8845,1)" fill="#000"><tspan x="0.00" y="0.00" font-size="19.4">23</tspan><tspan x="21.58" y="-6.30" font-size="12">h</tspan><tspan x="28.25" y="0.00" font-size="19.4">59</tspan><tspan x="49.83" y="-6.30" font-size="12">m</tspan><tspan x="59.83" y="0.00" font-size="19.4">59</tspan><tspan x="81.41" y="-6.30" font-size="12">s</tspan><tspan x="87.41" y="0.00" font-size="19.4">.8</tspan></text><text transform="translate(1180.04,2060.00) scale(0.8454,1)" fill="#000"><tspan x="0.00" y="0.00" font-size="19.4">59</tspan><tspan x="21.58" y="-6.30" font-size="12">s</tspan><tspan x="27.58" y="0.00" font-size="19.4">.6</tspan></text><text transform="translate(899.25,2080.90) scale(0.8613,1)" fill="#000"><tspan x="0.00" y="0.00" font-size="19.6">Right Ascension (ICRS)</tspan></text><text transform="translate(1230.61,2060.00) scale(0.8889,1)" fill="#000"><tspan x="0.00" y="0.00" font-size="19.4">0</tspan><tspan x="10.79" y="-6.30" font-size="12">h</tspan><tspan x="17.46" y="0.00" font-size="19.4">00</tspan><tspan x="39.04" y="-6.30" font-size="12">m</tspan><tspan x="49.04" y="0.00" font-size="19.4">00</tspan><tspan x="70.62" y="-6.30" font-size="12">s</tspan><tspan x="76.62" y="0.00" font-size="19.4">.4</tspan></text><text transform="translate(1334.24,2060.00) scale(0.8450,1)" fill="#000"><tspan x="0.00" y="0.00" font-size="19.4">0</tspan><tspan x="10.79" y="-6.30" font-size="12">s</tspan><tspan x="16.79" y="0.00" font-size="19.4">.2</tspan></text><text transform="translate(1444.53,2060.00) scale(0.8594,1)" fill="#000"><tspan x="0.00" y="0.00" font-size="19.4">0</tspan><tspan x="10.79" y="-6.30" font-size="12">s</tspan><tspan x="16.79" y="0.00" font-size="19.4">.0</tspan></text><text transform="translate(1519.44,2060.00) scale(0.8845,1)" fill="#000"><tspan x="0.00" y="0.00" font-size="19.4">23</tspan><tspan x="21.58" y="-6.30" font-size="12">h</tspan><tspan x="28.25" y="0.00" font-size="19.4">59</tspan><tspan x="49.83" y="-6.30" font-size="12">m</tspan><tspan x="59.83" y="0.00" font-size="19.4">59</tspan><tspan x="81.41" y="-6.30" font-size="12">s</tspan><tspan x="87.41" y="0.00" font-size="19.4">.8</tspan></text><text transform="translate(1652.14,2060.00) scale(0.8454,1)" fill="#000"><tspan x="0.00" y="0.00" font-size="19.4">59</tspan><tspan x="21.58" y="-6.30" font-size="12">s</tspan><tspan x="27.58" y="0.00" font-size="19.4">.6</tspan></text><text transform="translate(1371.35,2080.90) scale(0.8613,1)" fill="#000"><tspan x="0.00" y="0.00" font-size="19.6">Right Ascension (ICRS)</tspan></text></g><defs><linearGradient id="cb" x1="0" y1="0" x2="0" y2="1"><stop offset="0.0000" stop-color="#ffecff"/><stop offset="0.1250" stop-color="#ff00ff"/><stop offset="0.2338" stop-color="#ff0000"/><stop offset="0.3887" stop-color="#ffff00"/><stop offset="0.4925" stop-color="#00ff00"/><stop offset="0.5975" stop-color="#00ffff"/><stop offset="0.7600" stop-color="#0000ff"/><stop offset="1.0000" stop-color="#000000"/></linearGradient></defs><rect x="1703.3" y="1097.0" width="15.7" height="944.2" fill="url(#cb)"/><path d="M1702.7 1097.0V2041.2M1719.0 1097.0V2041.2" stroke="#333" stroke-width="1" fill="none" opacity="0.85"/><path d="M1702.3 1096.8H1719.4M1702.3 2041.2H1719.4" stroke="#333" stroke-width="1.2" fill="none"/><path d="M1702.8 2041.20h4M1719.0 2041.20h-4M1702.8 1993.99h4M1719.0 1993.99h-4M1702.8 1946.78h4M1719.0 1946.78h-4M1702.8 1899.57h4M1719.0 1899.57h-4M1702.8 1852.36h4M1719.0 1852.36h-4M1702.8 1805.15h4M1719.0 1805.15h-4M1702.8 1757.94h4M1719.0 1757.94h-4M1702.8 1710.73h4M1719.0 1710.73h-4M1702.8 1663.52h4M1719.0 1663.52h-4M1702.8 1616.31h4M1719.0 1616.31h-4M1702.8 1569.10h4M1719.0 1569.10h-4M1702.8 1521.89h4M1719.0 1521.89h-4M1702.8 1474.68h4M1719.0 1474.68h-4M1702.8 1427.47h4M1719.0 1427.47h-4M1702.8 1380.26h4M1719.0 1380.26h-4M1702.8 1333.05h4M1719.0 1333.05h-4M1702.8 1285.84h4M1719.0 1285.84h-4M1702.8 1238.63h4M1719.0 1238.63h-4M1702.8 1191.42h4M1719.0 1191.42h-4M1702.8 1144.21h4M1719.0 1144.21h-4M1702.8 1097.00h4M1719.0 1097.00h-4" stroke="#000" stroke-width="1.3" fill="none" opacity="0.85"/><path d="M505.70 127.0L493.30 108.6V145.4ZM516.90 127.0L529.30 108.6V145.4ZM477.7 125.5H494V128.5H477.7ZM528 125.5H544.7V128.5H528ZM952.00 127.0L964.40 108.6V145.4ZM989.20 127.0L976.80 108.6V145.4ZM963 125.5H978V128.5H963ZM1350.20 127.0L1362.60 108.6V145.4ZM1461.10 127.0L1448.70 108.6V145.4ZM1361 125.5H1450V128.5H1361Z" fill="#000"/><path d="M322.0 205.0L312.5 210.8H331.5ZM322.0 241.6L312.5 235.79999999999998H331.5ZM321.0 210.3H323.0V236.29999999999998H321.0Z" fill="#000"/><circle cx="322.5" cy="577.8" r="3.9" fill="#f00" stroke="#000" stroke-width="0.9"/><path d="M988.40 672.40L988.40 1069.40M893.65 697.79L1092.15 1041.60M1083.15 697.79L884.65 1041.60M824.29 767.15L1168.10 965.65M1152.51 767.15L808.70 965.65" fill="none" stroke="#000" stroke-width="1.2"/><path d="M988.40 654.40L1000.20 683.10L988.40 675.00L976.60 683.10ZM884.65 682.20L909.22 701.15L894.95 700.04L888.78 712.95ZM1092.15 682.20L1088.02 712.95L1081.85 700.04L1067.58 701.15ZM808.70 758.15L839.45 762.28L826.54 768.45L827.65 782.72ZM1168.10 758.15L1149.15 782.72L1150.26 768.45L1137.35 762.28Z" fill="#000"/><path d="M780.8 861.9H1180" fill="none" stroke="#0a9bf5" stroke-width="1.05"/><path d="M1196.8 861.9L1168.1 850.1L1176.2 861.9L1168.1 873.6999999999999Z" fill="#0a9bf5"/><g font-family="'Liberation Sans',Arial,Helvetica,sans-serif"><text transform="translate(612.58,43.40) scale(0.9347,1)" fill="#000"><tspan x="0.00" y="0.00" font-size="56.4">Radius of the Centrifugal Barrier</tspan></text><text transform="translate(382.09,98.80) scale(0.9220,1)" fill="#000"><tspan x="0.00" y="0.00" font-size="37.2" font-style="italic">r</tspan><tspan x="12.39" y="11.00" font-size="20.2">CB</tspan><tspan x="40.45" y="0.00" font-size="37.2"> = 30 au</tspan></text><text transform="translate(918.42,98.80) scale(0.9252,1)" fill="#000"><tspan x="0.00" y="0.00" font-size="37.2">100 au</tspan></text><text transform="translate(1352.21,98.80) scale(0.9361,1)" fill="#000"><tspan x="0.00" y="0.00" font-size="37.2">300 au</tspan></text><text transform="translate(69.46,375.60) scale(0.9594,1)" fill="#000"><tspan x="0.00" y="0.00" font-size="37.4" font-style="italic">i</tspan><tspan x="8.31" y="0.00" font-size="37.4"> = 90</tspan><tspan x="92.53" y="-13.20" font-size="24">o</tspan></text><text transform="translate(41.33,419.80) scale(0.9687,1)" fill="#000"><tspan x="0.00" y="0.00" font-size="37.4">(edge-on)</tspan></text><text transform="translate(92.29,846.80) scale(0.9694,1)" fill="#000"><tspan x="0.00" y="0.00" font-size="37.4">60</tspan><tspan x="41.60" y="-13.20" font-size="24">o</tspan></text><text transform="translate(92.66,1319.50) scale(0.9625,1)" fill="#000"><tspan x="0.00" y="0.00" font-size="37.4">30</tspan><tspan x="41.60" y="-13.20" font-size="24">o</tspan></text><text transform="translate(103.02,1792.20) scale(0.9916,1)" fill="#000"><tspan x="0.00" y="0.00" font-size="37.4">0</tspan><tspan x="20.80" y="-13.20" font-size="24">o</tspan></text><text transform="translate(49.49,1836.40) scale(0.9413,1)" fill="#000"><tspan x="0.00" y="0.00" font-size="37.4">(face-on)</tspan></text><text transform="translate(42.40,1299.20) rotate(-90) scale(0.9849,1)" fill="#000"><tspan x="0.00" y="0.00" font-size="56.4">Inclination Angle</tspan></text><text transform="translate(1722.36,1108.60) scale(0.9138,1)" fill="#000"><tspan x="0.00" y="0.00" font-size="38">2</tspan></text><text transform="translate(1721.95,1344.65) scale(0.8590,1)" fill="#000"><tspan x="0.00" y="0.00" font-size="38">1</tspan></text><text transform="translate(1722.07,1580.70) scale(0.9430,1)" fill="#000"><tspan x="0.00" y="0.00" font-size="38">0</tspan></text><text transform="translate(1721.47,1816.75) scale(1.1278,1)" fill="#000"><tspan x="0.00" y="0.00" font-size="38">-</tspan></text><text transform="translate(1734.19,1816.75) scale(0.7743,1)" fill="#000"><tspan x="0.00" y="0.00" font-size="38">1</tspan></text><text transform="translate(1721.47,2052.80) scale(1.1278,1)" fill="#000"><tspan x="0.00" y="0.00" font-size="38">-</tspan></text><text transform="translate(1734.80,2052.80) scale(0.9485,1)" fill="#000"><tspan x="0.00" y="0.00" font-size="38">2</tspan></text><text transform="translate(1812.20,1691.18) rotate(-90) scale(0.9348,1)" fill="#000"><tspan x="0.00" y="0.00" font-size="39.4">Velocity (km/s)</tspan></text><text transform="translate(331.01,228.80) scale(0.9768,1)" fill="#000"><tspan x="0.00" y="0.00" font-size="17.6">100 au</tspan></text><text transform="translate(330.94,587.20) scale(0.8938,1)" fill="#000"><tspan x="0.00" y="0.00" font-size="31.6">Beam size (0″.2x0″.2)</tspan></text><text transform="translate(1002.17,669.60) scale(0.9278,1)" fill="#000"><tspan x="0.00" y="0.00" font-size="24.6">P.A. 0</tspan><tspan x="63.83" y="-9.00" font-size="15.5">o</tspan></text><text transform="translate(1120.58,895.90) scale(0.9228,1)" fill="#000"><tspan x="0.00" y="0.00" font-size="24.6">P.A. 270</tspan><tspan x="91.19" y="-9.00" font-size="15.5">o</tspan></text></g></svg></div></body></html>
